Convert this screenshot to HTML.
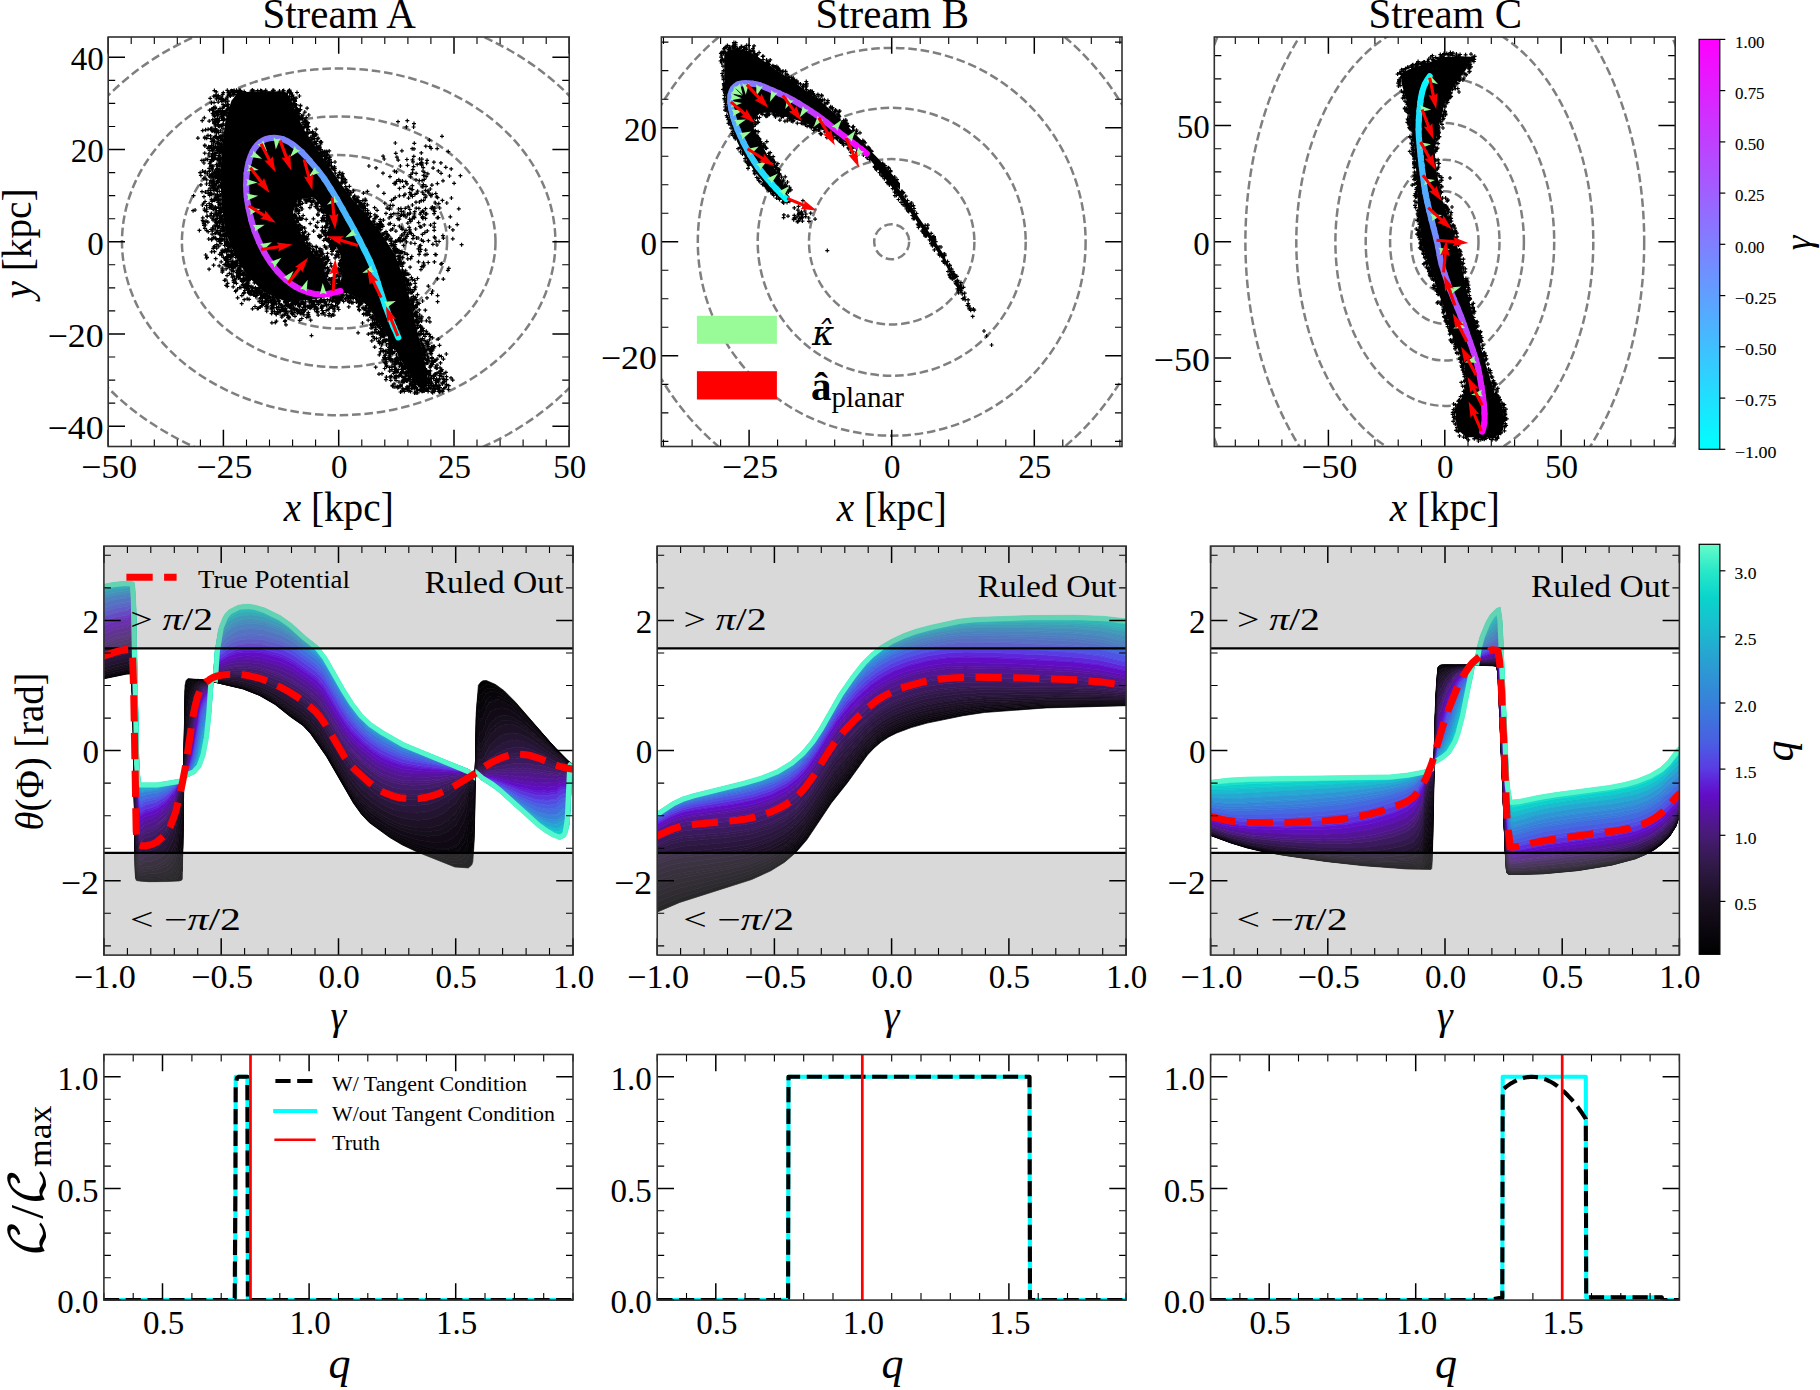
<!DOCTYPE html><html><head><meta charset="utf-8"><title>Stream figure</title><style>html,body{margin:0;padding:0;background:#fff}svg{display:block}text{font-family:'Liberation Serif','DejaVu Serif',serif}</style></head><body>
<svg width="1820" height="1390" viewBox="0 0 1820 1390">
<rect width="1820" height="1390" fill="#fff"/>
<clipPath id="r1c0"><rect x="108.2" y="37" width="461" height="409.5"/></clipPath>
<clipPath id="r1c1"><rect x="661.4" y="37" width="460.6" height="409.5"/></clipPath>
<clipPath id="r1c2"><rect x="1214.3" y="37" width="460.9" height="409.5"/></clipPath>
<g clip-path="url(#r1c0)" fill="none" stroke="#7f7f7f" stroke-width="2.5" stroke-dasharray="8.6 3.8">
<ellipse cx="338.7" cy="241.8" rx="14.2" ry="11.3"/>
<ellipse cx="338.7" cy="241.8" rx="66.9" ry="53.5"/>
<ellipse cx="338.7" cy="241.8" rx="108.4" ry="86.7"/>
<ellipse cx="338.7" cy="241.8" rx="156.8" ry="125.4"/>
<ellipse cx="338.7" cy="241.8" rx="216.7" ry="173.4"/>
<ellipse cx="338.7" cy="241.8" rx="294.2" ry="235.3"/>
<ellipse cx="338.7" cy="241.8" rx="395.2" ry="316.1"/>
<ellipse cx="338.7" cy="241.8" rx="525.7" ry="420.5"/>
</g>
<g clip-path="url(#r1c0)">
<polygon points="240.4,92.3 237,93.7 231.4,100.7 225.5,120.3 221.5,150.6 220.5,180.3 221.6,205.3 225.5,231.6 234.4,254.8 246.7,275.3 264.1,292 287,302.2 313.3,299.6 345.4,293.2 347.9,293.5 358,297.9 367.7,306 389.3,339.2 402.1,361.9 418.1,386.7 421.2,388.7 423.4,388.8 425.4,388 427.5,385.6 428,382.8 427.4,374.6 423.6,355.6 417.5,332.3 411.5,305.1 404.7,280.8 395.2,255 381.5,233.5 365,213.1 348.8,194.9 316.8,148.8 304.5,130.3 297.6,116.5 291.3,100.1 287.2,93 283.9,91.5 262.4,91 240.4,92.3" fill="#000" fill-rule="evenodd"/>
<polygon points="298.3,198.5 293,212 298.5,228.8 306.4,244.7 314.3,254.6 323.3,260.6 323.3,260.6 323.4,260.6 323.4,260.7 323.4,260.7 323.4,260.8 323.5,260.8 323.5,260.8 323.5,260.9 323.5,260.9 325.5,276.8 331.2,286.3 340.6,281.7 342.5,272 340.5,255.1 333.6,241.3 326.6,234.4 326.6,234.3 326.6,234.3 326.6,234.2 326.5,234.2 326.5,234.1 326.5,234.1 326.5,234 326.5,234 326.5,233.9 326.5,233.9 326.5,233.8 329.5,225 322.6,207.3 313.8,197.5 298.3,198.5" fill="#fff"/>
<path d="M212.4 90.6h4m-2 -2v4M213.9 94.8h4m-2 -2v4M214.3 91.9h4m-2 -2v4M216.3 95.5h4m-2 -2v4M220.7 94.4h4m-2 -2v4M221.3 92.7h4m-2 -2v4M225.3 90.3h4m-2 -2v4M226.5 92.5h4m-2 -2v4M226.6 94.1h4m-2 -2v4M227.6 94.9h4m-2 -2v4M227.6 94.2h4m-2 -2v4M228.4 95.7h4m-2 -2v4M228.8 91.1h4m-2 -2v4M228.9 92.7h4m-2 -2v4M229.5 90.8h4m-2 -2v4M230.5 92.3h4m-2 -2v4M230.7 90.9h4m-2 -2v4M231.2 94.9h4m-2 -2v4M232.1 91.4h4m-2 -2v4M232.2 90.6h4m-2 -2v4M232.5 92.1h4m-2 -2v4M233 94.4h4m-2 -2v4M234.5 90.3h4m-2 -2v4M234.5 90.6h4m-2 -2v4M235.2 92.3h4m-2 -2v4M235.7 92h4m-2 -2v4M236.1 92.6h4m-2 -2v4M237.1 91.9h4m-2 -2v4M237.2 90.2h4m-2 -2v4M237.4 92.6h4m-2 -2v4M238.5 90.5h4m-2 -2v4M238.6 91.1h4m-2 -2v4M239.1 92.1h4m-2 -2v4M242.2 91.5h4m-2 -2v4M249.4 91.1h4m-2 -2v4M250.3 90.1h4m-2 -2v4M250.6 90.6h4m-2 -2v4M251.9 90.9h4m-2 -2v4M255.7 90.7h4m-2 -2v4M258.6 90.5h4m-2 -2v4M259.8 90.9h4m-2 -2v4M263.7 90.3h4m-2 -2v4M270.8 90.8h4m-2 -2v4M271.1 90.3h4m-2 -2v4M271.8 90.4h4m-2 -2v4M277.5 91.1h4m-2 -2v4M280.6 91h4m-2 -2v4M281.7 90.6h4m-2 -2v4M285.6 92h4m-2 -2v4M286.9 91.1h4m-2 -2v4M287.5 90.2h4m-2 -2v4M287.5 92h4m-2 -2v4M287.7 92.4h4m-2 -2v4M288.1 92.8h4m-2 -2v4M288.3 92.8h4m-2 -2v4M289.3 92.8h4m-2 -2v4M290.5 95.2h4m-2 -2v4M295 92.5h4m-2 -2v4M297.4 96h4m-2 -2v4M208.2 98.3h4m-2 -2v4M209.4 102.9h4m-2 -2v4M211.6 107.7h4m-2 -2v4M211.7 96.2h4m-2 -2v4M212.1 102.6h4m-2 -2v4M213.1 107.1h4m-2 -2v4M214.3 96.9h4m-2 -2v4M214.4 98.9h4m-2 -2v4M215.5 96.4h4m-2 -2v4M216.2 102.1h4m-2 -2v4M216.8 98.7h4m-2 -2v4M219.1 97.2h4m-2 -2v4M219.2 98.5h4m-2 -2v4M219.4 99.3h4m-2 -2v4M219.7 101.5h4m-2 -2v4M219.8 99.5h4m-2 -2v4M219.9 100.1h4m-2 -2v4M220.8 100.3h4m-2 -2v4M221.1 104.7h4m-2 -2v4M221.2 107h4m-2 -2v4M221.4 99.8h4m-2 -2v4M222.4 106.3h4m-2 -2v4M223.2 99.4h4m-2 -2v4M223.5 101.8h4m-2 -2v4M224 99.4h4m-2 -2v4M224.9 105.4h4m-2 -2v4M225.1 97.8h4m-2 -2v4M225.3 104.2h4m-2 -2v4M225.6 96.2h4m-2 -2v4M225.9 101.1h4m-2 -2v4M226.1 104.7h4m-2 -2v4M226.7 107.6h4m-2 -2v4M227 107.8h4m-2 -2v4M228.3 96.1h4m-2 -2v4M287.6 96.6h4m-2 -2v4M289.1 99.3h4m-2 -2v4M289.5 96.5h4m-2 -2v4M291.1 100.2h4m-2 -2v4M291.4 97.2h4m-2 -2v4M291.4 103.1h4m-2 -2v4M291.4 97.1h4m-2 -2v4M291.7 98.5h4m-2 -2v4M291.9 104.6h4m-2 -2v4M292 103.5h4m-2 -2v4M292.2 105.8h4m-2 -2v4M292.6 104.1h4m-2 -2v4M293 100.9h4m-2 -2v4M293.1 101.5h4m-2 -2v4M293.2 107.3h4m-2 -2v4M294.2 98.2h4m-2 -2v4M294.5 104.9h4m-2 -2v4M298.5 105.9h4m-2 -2v4M298.5 105.4h4m-2 -2v4M202.3 117.8h4m-2 -2v4M207.6 110.2h4m-2 -2v4M209.8 109.1h4m-2 -2v4M210.6 113.3h4m-2 -2v4M210.8 108.7h4m-2 -2v4M210.8 119.5h4m-2 -2v4M211.4 115.1h4m-2 -2v4M211.8 114h4m-2 -2v4M211.9 111.3h4m-2 -2v4M212.4 116.3h4m-2 -2v4M213.1 119.3h4m-2 -2v4M213.3 108.4h4m-2 -2v4M214.5 113.7h4m-2 -2v4M214.6 112.3h4m-2 -2v4M214.8 119.7h4m-2 -2v4M215.3 118.6h4m-2 -2v4M215.4 115.4h4m-2 -2v4M215.5 111.6h4m-2 -2v4M216.2 119.5h4m-2 -2v4M216.3 110.2h4m-2 -2v4M216.4 114.3h4m-2 -2v4M216.7 112.5h4m-2 -2v4M216.7 114.8h4m-2 -2v4M217.6 118.2h4m-2 -2v4M218 108.5h4m-2 -2v4M218.3 110.9h4m-2 -2v4M219.3 114.3h4m-2 -2v4M219.3 111.6h4m-2 -2v4M219.6 118h4m-2 -2v4M219.6 113.6h4m-2 -2v4M220 116.6h4m-2 -2v4M220.3 115.9h4m-2 -2v4M220.3 118.2h4m-2 -2v4M220.4 111h4m-2 -2v4M220.5 108.3h4m-2 -2v4M220.7 114.7h4m-2 -2v4M220.9 112h4m-2 -2v4M221.4 115.8h4m-2 -2v4M221.7 114.7h4m-2 -2v4M221.8 114.7h4m-2 -2v4M222.1 119.8h4m-2 -2v4M222.1 111.7h4m-2 -2v4M222.3 118.9h4m-2 -2v4M223.4 112.2h4m-2 -2v4M223.9 111.7h4m-2 -2v4M223.9 111.7h4m-2 -2v4M223.9 110.5h4m-2 -2v4M224.3 115.2h4m-2 -2v4M224.5 113.3h4m-2 -2v4M224.9 112.3h4m-2 -2v4M224.9 110.3h4m-2 -2v4M226.1 108.7h4m-2 -2v4M226.3 109h4m-2 -2v4M294 110.2h4m-2 -2v4M294.1 110.8h4m-2 -2v4M294.3 111.6h4m-2 -2v4M294.5 110.9h4m-2 -2v4M294.6 112.3h4m-2 -2v4M294.6 113.7h4m-2 -2v4M294.7 109.5h4m-2 -2v4M294.9 110.8h4m-2 -2v4M295.2 110.1h4m-2 -2v4M295.3 109h4m-2 -2v4M295.4 110.3h4m-2 -2v4M295.5 110h4m-2 -2v4M295.7 115.5h4m-2 -2v4M295.8 112.8h4m-2 -2v4M296.2 111.7h4m-2 -2v4M296.4 116.4h4m-2 -2v4M296.4 109.9h4m-2 -2v4M296.8 118.4h4m-2 -2v4M297.2 113.6h4m-2 -2v4M297.5 117.9h4m-2 -2v4M297.9 110h4m-2 -2v4M298 118.8h4m-2 -2v4M298 109.6h4m-2 -2v4M298.4 109.7h4m-2 -2v4M299.3 118h4m-2 -2v4M299.5 115.9h4m-2 -2v4M299.5 117.5h4m-2 -2v4M299.7 118.8h4m-2 -2v4M299.8 117.6h4m-2 -2v4M300.9 118.7h4m-2 -2v4M301.2 115h4m-2 -2v4M302.8 112.1h4m-2 -2v4M304.2 117.6h4m-2 -2v4M305.1 108.2h4m-2 -2v4M306.8 115h4m-2 -2v4M200.2 120.7h4m-2 -2v4M200.7 130.6h4m-2 -2v4M203.6 129.8h4m-2 -2v4M206.1 129.3h4m-2 -2v4M207.2 121.1h4m-2 -2v4M208.7 128.8h4m-2 -2v4M209.6 130.2h4m-2 -2v4M209.9 128.2h4m-2 -2v4M210.2 131h4m-2 -2v4M210.7 120h4m-2 -2v4M212 122.9h4m-2 -2v4M212.2 123.6h4m-2 -2v4M212.3 131.6h4m-2 -2v4M212.4 122h4m-2 -2v4M212.7 129.8h4m-2 -2v4M213 131.4h4m-2 -2v4M213.2 129.1h4m-2 -2v4M213.5 126.1h4m-2 -2v4M213.8 124.3h4m-2 -2v4M214.3 130h4m-2 -2v4M214.3 121h4m-2 -2v4M214.5 131.4h4m-2 -2v4M215 130.2h4m-2 -2v4M215 129.9h4m-2 -2v4M215.3 124.2h4m-2 -2v4M216 121.7h4m-2 -2v4M216.4 125.9h4m-2 -2v4M216.5 124.5h4m-2 -2v4M216.9 126h4m-2 -2v4M217.1 126h4m-2 -2v4M217.3 120.7h4m-2 -2v4M217.3 126.5h4m-2 -2v4M218.4 130.9h4m-2 -2v4M218.5 130.9h4m-2 -2v4M218.9 125.6h4m-2 -2v4M219.3 126.7h4m-2 -2v4M219.7 125.4h4m-2 -2v4M219.7 125.6h4m-2 -2v4M220.2 125.2h4m-2 -2v4M221 124.1h4m-2 -2v4M221.1 128.8h4m-2 -2v4M221.1 125.5h4m-2 -2v4M221.3 123.8h4m-2 -2v4M221.3 120.3h4m-2 -2v4M300.8 126.9h4m-2 -2v4M300.9 122.3h4m-2 -2v4M301 124.2h4m-2 -2v4M301.9 128h4m-2 -2v4M302.5 121.3h4m-2 -2v4M302.5 126.7h4m-2 -2v4M303.6 122.6h4m-2 -2v4M303.6 124.3h4m-2 -2v4M303.7 120.5h4m-2 -2v4M303.9 122h4m-2 -2v4M304.4 123h4m-2 -2v4M304.8 127.7h4m-2 -2v4M304.8 123.3h4m-2 -2v4M305 124.1h4m-2 -2v4M305.2 126.1h4m-2 -2v4M305.3 123.9h4m-2 -2v4M305.3 124h4m-2 -2v4M305.4 126.9h4m-2 -2v4M305.8 122.7h4m-2 -2v4M306 122.8h4m-2 -2v4M306 129.7h4m-2 -2v4M306.6 126.6h4m-2 -2v4M310.6 131.5h4m-2 -2v4M314.2 129.2h4m-2 -2v4M396 121.7h4m-2 -2v4M404.4 126.9h4m-2 -2v4M405.3 120.7h4m-2 -2v4M411.6 127h4m-2 -2v4M412 123.6h4m-2 -2v4M195.9 138.1h4m-2 -2v4M202.8 138.2h4m-2 -2v4M202.9 137.2h4m-2 -2v4M204.7 138.3h4m-2 -2v4M206 135.4h4m-2 -2v4M208.6 135.9h4m-2 -2v4M208.7 138.6h4m-2 -2v4M209.7 141.7h4m-2 -2v4M210.3 140h4m-2 -2v4M211.3 144h4m-2 -2v4M211.6 144h4m-2 -2v4M211.7 137.8h4m-2 -2v4M211.8 141.4h4m-2 -2v4M212.7 141.1h4m-2 -2v4M212.9 136.6h4m-2 -2v4M213.2 136.5h4m-2 -2v4M213.6 136.9h4m-2 -2v4M214.4 133h4m-2 -2v4M214.6 136.7h4m-2 -2v4M214.8 138.1h4m-2 -2v4M215 143.1h4m-2 -2v4M215.2 138.4h4m-2 -2v4M215.7 142.8h4m-2 -2v4M215.7 143.5h4m-2 -2v4M216.3 142.4h4m-2 -2v4M216.4 138.5h4m-2 -2v4M216.5 132.7h4m-2 -2v4M217.1 143.6h4m-2 -2v4M217.7 137.1h4m-2 -2v4M218.2 135.9h4m-2 -2v4M218.3 140.4h4m-2 -2v4M219.2 138.1h4m-2 -2v4M219.6 139.6h4m-2 -2v4M220 139.5h4m-2 -2v4M220.1 139.9h4m-2 -2v4M220.5 140.6h4m-2 -2v4M220.8 136.6h4m-2 -2v4M221 132.9h4m-2 -2v4M221 134.8h4m-2 -2v4M221.1 135.1h4m-2 -2v4M304.8 133h4m-2 -2v4M304.9 133.8h4m-2 -2v4M304.9 132.1h4m-2 -2v4M306.3 133.5h4m-2 -2v4M307.8 132.3h4m-2 -2v4M308.7 137.3h4m-2 -2v4M309.2 139.5h4m-2 -2v4M309.6 139.5h4m-2 -2v4M310.2 139.5h4m-2 -2v4M310.4 133.2h4m-2 -2v4M310.6 135.8h4m-2 -2v4M311 133.2h4m-2 -2v4M311.5 133.7h4m-2 -2v4M311.9 136.7h4m-2 -2v4M312.1 141.8h4m-2 -2v4M312.1 135.9h4m-2 -2v4M312.2 142.8h4m-2 -2v4M312.4 138.5h4m-2 -2v4M313.4 133.6h4m-2 -2v4M314.1 141.4h4m-2 -2v4M314.4 143.6h4m-2 -2v4M314.5 134.8h4m-2 -2v4M315.6 138.9h4m-2 -2v4M316.2 138.2h4m-2 -2v4M318.3 141.7h4m-2 -2v4M318.9 142.3h4m-2 -2v4M319.4 142h4m-2 -2v4M393.3 143h4m-2 -2v4M412.3 143.3h4m-2 -2v4M427.4 140.1h4m-2 -2v4M440 136.3h4m-2 -2v4M202.7 153.2h4m-2 -2v4M202.8 145.2h4m-2 -2v4M202.9 145.9h4m-2 -2v4M206 148.4h4m-2 -2v4M206.6 146.8h4m-2 -2v4M206.8 153.9h4m-2 -2v4M207 156h4m-2 -2v4M207.2 147.3h4m-2 -2v4M207.8 150.7h4m-2 -2v4M209.3 147.1h4m-2 -2v4M209.4 148.4h4m-2 -2v4M209.5 145.7h4m-2 -2v4M209.7 147.3h4m-2 -2v4M210.5 150.9h4m-2 -2v4M210.5 153.9h4m-2 -2v4M210.9 153.6h4m-2 -2v4M210.9 151.1h4m-2 -2v4M211.5 148.8h4m-2 -2v4M211.7 147.2h4m-2 -2v4M211.7 148.8h4m-2 -2v4M212.6 153.9h4m-2 -2v4M212.7 148.3h4m-2 -2v4M213.1 155.6h4m-2 -2v4M213.2 153.4h4m-2 -2v4M213.5 153.2h4m-2 -2v4M213.5 146.2h4m-2 -2v4M214.1 153.4h4m-2 -2v4M214.6 148.7h4m-2 -2v4M215 150.5h4m-2 -2v4M215.6 147.5h4m-2 -2v4M216 150.2h4m-2 -2v4M216.1 147.2h4m-2 -2v4M216.1 148.2h4m-2 -2v4M216.5 149.6h4m-2 -2v4M216.6 148h4m-2 -2v4M217 155.6h4m-2 -2v4M217.1 152.1h4m-2 -2v4M217.1 148.4h4m-2 -2v4M217.2 149h4m-2 -2v4M217.5 153.9h4m-2 -2v4M217.8 144.3h4m-2 -2v4M217.8 148.6h4m-2 -2v4M218 152.2h4m-2 -2v4M218 144.7h4m-2 -2v4M218.4 146.3h4m-2 -2v4M218.8 148h4m-2 -2v4M218.8 148.2h4m-2 -2v4M219.2 152.5h4m-2 -2v4M219.4 147.4h4m-2 -2v4M219.5 149.8h4m-2 -2v4M219.5 144.4h4m-2 -2v4M219.6 144.8h4m-2 -2v4M219.7 144.1h4m-2 -2v4M219.9 144h4m-2 -2v4M312 144.4h4m-2 -2v4M314.2 147.8h4m-2 -2v4M314.8 146.2h4m-2 -2v4M315.6 147.3h4m-2 -2v4M316 148.2h4m-2 -2v4M316.3 148.1h4m-2 -2v4M316.7 149.3h4m-2 -2v4M316.8 146.7h4m-2 -2v4M317.8 147.1h4m-2 -2v4M318 152.3h4m-2 -2v4M318.2 149.7h4m-2 -2v4M318.7 144h4m-2 -2v4M318.8 153.6h4m-2 -2v4M319 149.5h4m-2 -2v4M319.7 155.5h4m-2 -2v4M319.8 155.4h4m-2 -2v4M320 153.2h4m-2 -2v4M320.2 155.3h4m-2 -2v4M320.7 151.7h4m-2 -2v4M321 153.3h4m-2 -2v4M322.1 152.2h4m-2 -2v4M322.8 151.6h4m-2 -2v4M323.3 152.3h4m-2 -2v4M324.7 151.5h4m-2 -2v4M325.1 155.1h4m-2 -2v4M325.5 154.1h4m-2 -2v4M327.2 150.9h4m-2 -2v4M393.8 153.3h4m-2 -2v4M399.9 150.8h4m-2 -2v4M410.2 148.7h4m-2 -2v4M412 148.9h4m-2 -2v4M419.3 152.9h4m-2 -2v4M423.8 146.2h4m-2 -2v4M427.9 146.6h4m-2 -2v4M429.1 148.4h4m-2 -2v4M435.2 148.6h4m-2 -2v4M446.3 151.6h4m-2 -2v4M199.9 160.4h4m-2 -2v4M201.7 160.5h4m-2 -2v4M202 163h4m-2 -2v4M203.9 159.2h4m-2 -2v4M205.5 159.4h4m-2 -2v4M207.7 163.7h4m-2 -2v4M208.6 162.2h4m-2 -2v4M208.7 161h4m-2 -2v4M208.9 161.2h4m-2 -2v4M209 165.8h4m-2 -2v4M209.3 156.3h4m-2 -2v4M209.5 159.5h4m-2 -2v4M209.8 166.6h4m-2 -2v4M209.9 156h4m-2 -2v4M210.7 156.5h4m-2 -2v4M211 166h4m-2 -2v4M211.5 160h4m-2 -2v4M211.7 159.3h4m-2 -2v4M211.7 156.5h4m-2 -2v4M212 159.1h4m-2 -2v4M212.1 157h4m-2 -2v4M212.3 157.8h4m-2 -2v4M212.4 157.9h4m-2 -2v4M214.4 164.6h4m-2 -2v4M215 159.3h4m-2 -2v4M215.6 166.6h4m-2 -2v4M215.8 165.1h4m-2 -2v4M215.9 165.6h4m-2 -2v4M216.2 158.2h4m-2 -2v4M217 160h4m-2 -2v4M217.2 160.8h4m-2 -2v4M217.4 164.9h4m-2 -2v4M217.5 157.9h4m-2 -2v4M217.6 162.8h4m-2 -2v4M218 157.8h4m-2 -2v4M218.1 166.4h4m-2 -2v4M218.1 158.3h4m-2 -2v4M218.3 158.5h4m-2 -2v4M218.4 163.4h4m-2 -2v4M218.9 158.5h4m-2 -2v4M322.2 156.5h4m-2 -2v4M322.5 156.1h4m-2 -2v4M322.6 159.4h4m-2 -2v4M323.4 161.1h4m-2 -2v4M324.4 157.5h4m-2 -2v4M325 158.5h4m-2 -2v4M325.3 162.3h4m-2 -2v4M326.2 164.7h4m-2 -2v4M326.7 160.4h4m-2 -2v4M327 164.9h4m-2 -2v4M327.4 157.7h4m-2 -2v4M327.4 163.1h4m-2 -2v4M327.5 162.1h4m-2 -2v4M327.8 157.1h4m-2 -2v4M327.9 159.5h4m-2 -2v4M329.4 162.3h4m-2 -2v4M329.4 166.1h4m-2 -2v4M332.5 166.9h4m-2 -2v4M333 162h4m-2 -2v4M366.9 166h4m-2 -2v4M374.1 167.9h4m-2 -2v4M381.1 156.2h4m-2 -2v4M382.2 159h4m-2 -2v4M394.9 157.2h4m-2 -2v4M396.2 160.1h4m-2 -2v4M398.4 166h4m-2 -2v4M404.9 159.5h4m-2 -2v4M405.5 165.3h4m-2 -2v4M410.5 159.8h4m-2 -2v4M411 161.9h4m-2 -2v4M411.6 166.6h4m-2 -2v4M411.8 156.4h4m-2 -2v4M415.2 164.4h4m-2 -2v4M417.6 159h4m-2 -2v4M418.5 163.7h4m-2 -2v4M419.1 162.5h4m-2 -2v4M419.5 164.3h4m-2 -2v4M419.6 165.1h4m-2 -2v4M419.8 159.1h4m-2 -2v4M419.9 162.8h4m-2 -2v4M421.2 167.6h4m-2 -2v4M424.6 163.2h4m-2 -2v4M425.1 160.3h4m-2 -2v4M431.9 162.2h4m-2 -2v4M438.9 162.9h4m-2 -2v4M443.8 167.3h4m-2 -2v4M198.1 172.7h4m-2 -2v4M198.9 175.5h4m-2 -2v4M200.6 171h4m-2 -2v4M201.8 178.7h4m-2 -2v4M202.5 172.2h4m-2 -2v4M203.1 178.2h4m-2 -2v4M203.6 171.8h4m-2 -2v4M204.7 179.8h4m-2 -2v4M205.4 173.9h4m-2 -2v4M207.2 168.3h4m-2 -2v4M207.2 171.1h4m-2 -2v4M207.4 171.5h4m-2 -2v4M207.6 175.9h4m-2 -2v4M208.1 177.2h4m-2 -2v4M209.2 175.2h4m-2 -2v4M209.8 176.8h4m-2 -2v4M209.8 173.8h4m-2 -2v4M209.9 168.4h4m-2 -2v4M209.9 168.7h4m-2 -2v4M210.7 170h4m-2 -2v4M211.1 176.2h4m-2 -2v4M211.4 177.5h4m-2 -2v4M211.7 179.2h4m-2 -2v4M211.7 173.2h4m-2 -2v4M212.6 172h4m-2 -2v4M212.9 172h4m-2 -2v4M213 172.9h4m-2 -2v4M213.1 173.5h4m-2 -2v4M213.3 172.3h4m-2 -2v4M213.3 172.4h4m-2 -2v4M213.3 177.4h4m-2 -2v4M213.3 173.7h4m-2 -2v4M213.9 175.3h4m-2 -2v4M213.9 177.5h4m-2 -2v4M214.5 169.4h4m-2 -2v4M215.1 168.6h4m-2 -2v4M215.7 174.1h4m-2 -2v4M215.7 172.8h4m-2 -2v4M215.7 176.5h4m-2 -2v4M215.8 168.7h4m-2 -2v4M215.9 175.3h4m-2 -2v4M216.1 172.8h4m-2 -2v4M216.3 178.3h4m-2 -2v4M216.7 174.7h4m-2 -2v4M216.8 175.7h4m-2 -2v4M217.1 171.2h4m-2 -2v4M217.1 171.4h4m-2 -2v4M217.2 178.8h4m-2 -2v4M217.4 169.8h4m-2 -2v4M217.4 177.8h4m-2 -2v4M217.8 173.8h4m-2 -2v4M217.9 170.4h4m-2 -2v4M218.2 171.5h4m-2 -2v4M218.6 176.2h4m-2 -2v4M218.8 170.7h4m-2 -2v4M329.8 168.2h4m-2 -2v4M331.1 168.3h4m-2 -2v4M331.2 169h4m-2 -2v4M332.5 170.3h4m-2 -2v4M332.9 168.5h4m-2 -2v4M333.3 173.2h4m-2 -2v4M335.5 175.8h4m-2 -2v4M336.2 177.6h4m-2 -2v4M337.1 174.6h4m-2 -2v4M337.7 172.4h4m-2 -2v4M339.4 178.2h4m-2 -2v4M340 175.2h4m-2 -2v4M340.6 176.4h4m-2 -2v4M340.7 173.6h4m-2 -2v4M340.7 179.2h4m-2 -2v4M340.9 178.9h4m-2 -2v4M341 177.8h4m-2 -2v4M343 179.6h4m-2 -2v4M343.5 180h4m-2 -2v4M381 173.2h4m-2 -2v4M388 176.6h4m-2 -2v4M392.4 171.2h4m-2 -2v4M394.4 171.9h4m-2 -2v4M396.8 179.7h4m-2 -2v4M408.5 176.8h4m-2 -2v4M408.9 174.5h4m-2 -2v4M410.5 172.8h4m-2 -2v4M410.8 169.7h4m-2 -2v4M414 179.9h4m-2 -2v4M414.1 173.4h4m-2 -2v4M421 171.1h4m-2 -2v4M421.5 175.4h4m-2 -2v4M422.3 179.4h4m-2 -2v4M422.8 172.5h4m-2 -2v4M424.2 176.7h4m-2 -2v4M425.8 173.8h4m-2 -2v4M431.1 168.1h4m-2 -2v4M436.3 170.9h4m-2 -2v4M439.1 173.3h4m-2 -2v4M447.5 176h4m-2 -2v4M449.2 168.9h4m-2 -2v4M458.4 175.7h4m-2 -2v4M198.9 184.9h4m-2 -2v4M200 191.7h4m-2 -2v4M204.5 184h4m-2 -2v4M206.2 190.6h4m-2 -2v4M207.6 183h4m-2 -2v4M208.1 188.1h4m-2 -2v4M208.1 185.5h4m-2 -2v4M208.9 180.6h4m-2 -2v4M208.9 190.4h4m-2 -2v4M209.7 183.2h4m-2 -2v4M209.9 186.1h4m-2 -2v4M211 181.7h4m-2 -2v4M211 187.6h4m-2 -2v4M211 183.6h4m-2 -2v4M211 181.5h4m-2 -2v4M211.7 188.4h4m-2 -2v4M211.8 190h4m-2 -2v4M212 190.6h4m-2 -2v4M212.1 187.2h4m-2 -2v4M212.3 181.9h4m-2 -2v4M213.3 185.5h4m-2 -2v4M213.3 184.7h4m-2 -2v4M214.2 189.7h4m-2 -2v4M214.6 183.4h4m-2 -2v4M215.2 188h4m-2 -2v4M215.4 180.6h4m-2 -2v4M215.4 191.3h4m-2 -2v4M215.6 189h4m-2 -2v4M215.7 188.1h4m-2 -2v4M216 181.1h4m-2 -2v4M216.1 181.5h4m-2 -2v4M216.2 182.2h4m-2 -2v4M216.2 186.7h4m-2 -2v4M216.2 182.4h4m-2 -2v4M217.3 191.4h4m-2 -2v4M217.4 180.1h4m-2 -2v4M217.9 180.2h4m-2 -2v4M218.4 186.3h4m-2 -2v4M218.5 185.5h4m-2 -2v4M218.6 184.1h4m-2 -2v4M218.6 186.8h4m-2 -2v4M339.2 182.3h4m-2 -2v4M340 183.1h4m-2 -2v4M340.2 182.6h4m-2 -2v4M340.4 181.7h4m-2 -2v4M340.5 181.4h4m-2 -2v4M342.9 182.9h4m-2 -2v4M343.7 186.7h4m-2 -2v4M343.7 182.1h4m-2 -2v4M344.2 189.3h4m-2 -2v4M345.3 190.1h4m-2 -2v4M346.9 190.7h4m-2 -2v4M347.4 186.3h4m-2 -2v4M351.3 190.9h4m-2 -2v4M351.5 191h4m-2 -2v4M365.4 191.4h4m-2 -2v4M376 186h4m-2 -2v4M392.1 183.4h4m-2 -2v4M393.4 183.8h4m-2 -2v4M394.5 181.3h4m-2 -2v4M397.5 188.4h4m-2 -2v4M398.2 181.4h4m-2 -2v4M400.4 181.1h4m-2 -2v4M401.7 186.6h4m-2 -2v4M403.8 181.7h4m-2 -2v4M405 183.9h4m-2 -2v4M407.9 188.3h4m-2 -2v4M409.8 189.6h4m-2 -2v4M410.3 185.7h4m-2 -2v4M410.5 189.5h4m-2 -2v4M415.6 191.2h4m-2 -2v4M417.3 180.6h4m-2 -2v4M420.1 180.7h4m-2 -2v4M420.2 186.8h4m-2 -2v4M421.4 184.6h4m-2 -2v4M423.5 190.4h4m-2 -2v4M424 186.3h4m-2 -2v4M426 190.8h4m-2 -2v4M428.3 189h4m-2 -2v4M429.9 185.1h4m-2 -2v4M435.4 183.6h4m-2 -2v4M441 180.8h4m-2 -2v4M452.1 183.3h4m-2 -2v4M191.6 195.7h4m-2 -2v4M201.7 203.2h4m-2 -2v4M202 196.7h4m-2 -2v4M203.1 201.5h4m-2 -2v4M203.4 192.1h4m-2 -2v4M206.1 193.5h4m-2 -2v4M207.2 203.5h4m-2 -2v4M207.7 195.4h4m-2 -2v4M208.4 192.6h4m-2 -2v4M208.7 193.8h4m-2 -2v4M209.5 199.4h4m-2 -2v4M209.7 199.8h4m-2 -2v4M209.9 194.5h4m-2 -2v4M210.1 201.3h4m-2 -2v4M211.9 200.1h4m-2 -2v4M212.1 193.9h4m-2 -2v4M212.8 200.3h4m-2 -2v4M213.5 196.9h4m-2 -2v4M213.5 197.1h4m-2 -2v4M213.6 198.4h4m-2 -2v4M213.7 198.6h4m-2 -2v4M213.9 197.9h4m-2 -2v4M215 194.5h4m-2 -2v4M215.6 195.1h4m-2 -2v4M215.7 199.2h4m-2 -2v4M215.8 201h4m-2 -2v4M216 196.5h4m-2 -2v4M216.1 198.9h4m-2 -2v4M216.1 202.5h4m-2 -2v4M216.2 200h4m-2 -2v4M216.9 196.9h4m-2 -2v4M217.2 200.7h4m-2 -2v4M218.1 195.1h4m-2 -2v4M218.6 194.9h4m-2 -2v4M218.8 194.8h4m-2 -2v4M218.8 199.7h4m-2 -2v4M218.9 203.3h4m-2 -2v4M296.4 199.9h4m-2 -2v4M296.9 201.9h4m-2 -2v4M297.9 201.5h4m-2 -2v4M298 198.7h4m-2 -2v4M299 199h4m-2 -2v4M300.4 203.3h4m-2 -2v4M302 198.9h4m-2 -2v4M303.8 202h4m-2 -2v4M304.1 199.8h4m-2 -2v4M304.7 202h4m-2 -2v4M304.8 201.2h4m-2 -2v4M304.8 201.7h4m-2 -2v4M305.9 200.2h4m-2 -2v4M306.1 199.4h4m-2 -2v4M306.4 197.9h4m-2 -2v4M307.2 200.2h4m-2 -2v4M308.2 198.6h4m-2 -2v4M308.3 200.9h4m-2 -2v4M309.7 201.9h4m-2 -2v4M309.9 202.7h4m-2 -2v4M311.2 198.8h4m-2 -2v4M311.6 200.6h4m-2 -2v4M313.1 202.2h4m-2 -2v4M314.1 203.6h4m-2 -2v4M315.7 203.3h4m-2 -2v4M315.9 202.3h4m-2 -2v4M316.2 203.1h4m-2 -2v4M345.5 192.2h4m-2 -2v4M346.1 192.9h4m-2 -2v4M347.4 195.1h4m-2 -2v4M347.9 195.2h4m-2 -2v4M348.4 192.7h4m-2 -2v4M349 192.9h4m-2 -2v4M351.5 198.2h4m-2 -2v4M352 196.9h4m-2 -2v4M352.7 195.8h4m-2 -2v4M353 199.6h4m-2 -2v4M353.4 200.9h4m-2 -2v4M354 200h4m-2 -2v4M354.7 201.9h4m-2 -2v4M354.9 199.5h4m-2 -2v4M355.4 200.7h4m-2 -2v4M355.4 201.2h4m-2 -2v4M356 197.2h4m-2 -2v4M356.8 200.8h4m-2 -2v4M357.5 202.6h4m-2 -2v4M358.2 202.1h4m-2 -2v4M360.8 200.5h4m-2 -2v4M361.4 193.1h4m-2 -2v4M362.3 203.5h4m-2 -2v4M363.2 199.2h4m-2 -2v4M363.7 200.6h4m-2 -2v4M381.9 193.3h4m-2 -2v4M382.8 203.2h4m-2 -2v4M389.4 200.5h4m-2 -2v4M391.6 199.1h4m-2 -2v4M393.2 197.6h4m-2 -2v4M397.4 195.8h4m-2 -2v4M401.9 195.7h4m-2 -2v4M403 194.2h4m-2 -2v4M406.6 198.1h4m-2 -2v4M407.8 192.7h4m-2 -2v4M408.6 194.8h4m-2 -2v4M409.7 194.6h4m-2 -2v4M410.4 196.5h4m-2 -2v4M412.9 194.4h4m-2 -2v4M414 202.2h4m-2 -2v4M415 193.1h4m-2 -2v4M417.4 202h4m-2 -2v4M419.3 200.7h4m-2 -2v4M420.3 192.2h4m-2 -2v4M421.6 200.4h4m-2 -2v4M421.9 194.3h4m-2 -2v4M423.3 197.7h4m-2 -2v4M424 196h4m-2 -2v4M427 193h4m-2 -2v4M428.8 195.5h4m-2 -2v4M430.2 194.5h4m-2 -2v4M433.2 203h4m-2 -2v4M433.8 193.5h4m-2 -2v4M434.7 196.8h4m-2 -2v4M435.6 197.6h4m-2 -2v4M436.8 203.6h4m-2 -2v4M440.4 200.4h4m-2 -2v4M444.8 203h4m-2 -2v4M449.4 198h4m-2 -2v4M191.1 210.7h4m-2 -2v4M193.1 210h4m-2 -2v4M200.4 205h4m-2 -2v4M202.4 209h4m-2 -2v4M202.8 210.6h4m-2 -2v4M204.6 205.6h4m-2 -2v4M204.6 209.2h4m-2 -2v4M204.8 211.7h4m-2 -2v4M205 216h4m-2 -2v4M207.5 207.5h4m-2 -2v4M208.1 207.5h4m-2 -2v4M208.1 215.9h4m-2 -2v4M209.3 204.8h4m-2 -2v4M209.4 213.4h4m-2 -2v4M209.4 207.9h4m-2 -2v4M209.8 206.2h4m-2 -2v4M210.2 205.8h4m-2 -2v4M211.1 209.5h4m-2 -2v4M211.6 215.8h4m-2 -2v4M211.6 209.3h4m-2 -2v4M212.1 215.8h4m-2 -2v4M213.1 213h4m-2 -2v4M213.3 206.9h4m-2 -2v4M213.7 208h4m-2 -2v4M213.8 208.5h4m-2 -2v4M214.4 210.8h4m-2 -2v4M214.6 214.1h4m-2 -2v4M215.3 215h4m-2 -2v4M215.8 215.3h4m-2 -2v4M216.2 207h4m-2 -2v4M216.3 213.6h4m-2 -2v4M216.9 210.7h4m-2 -2v4M217.1 212.8h4m-2 -2v4M217.3 204.3h4m-2 -2v4M217.6 211.6h4m-2 -2v4M217.9 211h4m-2 -2v4M218.2 210.4h4m-2 -2v4M218.4 204.5h4m-2 -2v4M218.4 208.2h4m-2 -2v4M218.4 204.7h4m-2 -2v4M218.6 215.2h4m-2 -2v4M218.7 211.1h4m-2 -2v4M218.7 209h4m-2 -2v4M219.1 207.4h4m-2 -2v4M219.3 210.8h4m-2 -2v4M219.3 212.3h4m-2 -2v4M219.7 208.9h4m-2 -2v4M219.8 209.4h4m-2 -2v4M221 215.9h4m-2 -2v4M292.4 215.7h4m-2 -2v4M292.4 214.5h4m-2 -2v4M293.2 215.2h4m-2 -2v4M293.7 205.4h4m-2 -2v4M293.8 206.6h4m-2 -2v4M293.9 211.1h4m-2 -2v4M294.2 209.7h4m-2 -2v4M294.2 204.8h4m-2 -2v4M294.4 208.3h4m-2 -2v4M294.8 208.8h4m-2 -2v4M295 210.4h4m-2 -2v4M296.2 204h4m-2 -2v4M296.4 213.5h4m-2 -2v4M296.5 205.3h4m-2 -2v4M297.4 210.8h4m-2 -2v4M298.4 204.5h4m-2 -2v4M299 207.4h4m-2 -2v4M299.8 209h4m-2 -2v4M300.2 209h4m-2 -2v4M301.2 215.5h4m-2 -2v4M307.9 207.6h4m-2 -2v4M309.6 204.8h4m-2 -2v4M313.4 206.7h4m-2 -2v4M314.5 204.7h4m-2 -2v4M314.9 208.1h4m-2 -2v4M315.3 206.2h4m-2 -2v4M315.8 214h4m-2 -2v4M316 215.1h4m-2 -2v4M316.3 209.6h4m-2 -2v4M316.8 209.3h4m-2 -2v4M317.1 210.8h4m-2 -2v4M318.6 209.7h4m-2 -2v4M319.1 206.3h4m-2 -2v4M319.4 211.2h4m-2 -2v4M319.8 210.2h4m-2 -2v4M320.3 209.1h4m-2 -2v4M321.2 212.1h4m-2 -2v4M321.5 211.3h4m-2 -2v4M321.7 212.6h4m-2 -2v4M322 213h4m-2 -2v4M322 215.5h4m-2 -2v4M356.8 205.2h4m-2 -2v4M357.5 205.2h4m-2 -2v4M358.9 205.5h4m-2 -2v4M358.9 204.1h4m-2 -2v4M359.6 204.1h4m-2 -2v4M359.8 206.6h4m-2 -2v4M360 207.8h4m-2 -2v4M360.9 205.2h4m-2 -2v4M361.1 208.7h4m-2 -2v4M361.6 208.5h4m-2 -2v4M361.9 210.9h4m-2 -2v4M362.4 206.1h4m-2 -2v4M363.4 208.5h4m-2 -2v4M363.8 212.8h4m-2 -2v4M364.4 214.4h4m-2 -2v4M365.2 214.9h4m-2 -2v4M365.4 204.8h4m-2 -2v4M365.6 210.3h4m-2 -2v4M365.8 213h4m-2 -2v4M366.3 213.7h4m-2 -2v4M368.3 213.5h4m-2 -2v4M372.6 207.7h4m-2 -2v4M372.9 214.8h4m-2 -2v4M375.1 210.3h4m-2 -2v4M384 213.4h4m-2 -2v4M385.1 208.1h4m-2 -2v4M387.4 209.1h4m-2 -2v4M388.4 205.4h4m-2 -2v4M388.8 214.7h4m-2 -2v4M390.9 205.4h4m-2 -2v4M391.8 213.7h4m-2 -2v4M396.1 213.3h4m-2 -2v4M396.5 209h4m-2 -2v4M398.3 215.7h4m-2 -2v4M398.9 208.6h4m-2 -2v4M399.3 211.3h4m-2 -2v4M399.4 215h4m-2 -2v4M401.4 215.3h4m-2 -2v4M401.8 212h4m-2 -2v4M401.9 214.2h4m-2 -2v4M403.3 208.3h4m-2 -2v4M405.6 214.1h4m-2 -2v4M406.2 206.8h4m-2 -2v4M407.2 214.2h4m-2 -2v4M407.8 209.5h4m-2 -2v4M408.3 213h4m-2 -2v4M410.4 205h4m-2 -2v4M412.3 214h4m-2 -2v4M412.3 216h4m-2 -2v4M412.8 211.7h4m-2 -2v4M414.2 208.2h4m-2 -2v4M416.9 208.4h4m-2 -2v4M418.2 214.1h4m-2 -2v4M419 212.3h4m-2 -2v4M420.7 210.9h4m-2 -2v4M421.6 212h4m-2 -2v4M423.5 214.1h4m-2 -2v4M423.5 208.7h4m-2 -2v4M424.6 213.8h4m-2 -2v4M429.3 208.3h4m-2 -2v4M430.3 206.9h4m-2 -2v4M431.4 209.8h4m-2 -2v4M432.1 213.7h4m-2 -2v4M432.7 211.3h4m-2 -2v4M432.9 208.1h4m-2 -2v4M437.7 208h4m-2 -2v4M456.8 208.8h4m-2 -2v4M200.7 220.3h4m-2 -2v4M200.8 217.8h4m-2 -2v4M201.5 221.7h4m-2 -2v4M201.8 223.2h4m-2 -2v4M201.8 223.7h4m-2 -2v4M202 225.4h4m-2 -2v4M203.5 225h4m-2 -2v4M204 221.1h4m-2 -2v4M205.3 216.5h4m-2 -2v4M205.9 222.1h4m-2 -2v4M210 218.2h4m-2 -2v4M210.6 227.9h4m-2 -2v4M211.1 220.2h4m-2 -2v4M211.5 216.2h4m-2 -2v4M212.1 225.9h4m-2 -2v4M212.9 219.9h4m-2 -2v4M213.4 219.5h4m-2 -2v4M213.6 226.6h4m-2 -2v4M213.9 222.1h4m-2 -2v4M214.2 222.7h4m-2 -2v4M214.6 223.6h4m-2 -2v4M214.8 216.1h4m-2 -2v4M214.9 221.5h4m-2 -2v4M215 225.3h4m-2 -2v4M215.4 218.3h4m-2 -2v4M215.5 226.1h4m-2 -2v4M215.6 226.9h4m-2 -2v4M216.7 226.9h4m-2 -2v4M217.5 222.9h4m-2 -2v4M217.5 218.1h4m-2 -2v4M217.6 226.5h4m-2 -2v4M217.7 222.7h4m-2 -2v4M217.9 220.4h4m-2 -2v4M218.1 218.1h4m-2 -2v4M218.2 222.1h4m-2 -2v4M218.4 218.5h4m-2 -2v4M218.7 219h4m-2 -2v4M219.4 218.7h4m-2 -2v4M219.5 220.4h4m-2 -2v4M219.6 221.3h4m-2 -2v4M220 216.5h4m-2 -2v4M220.2 222.1h4m-2 -2v4M220.3 226.1h4m-2 -2v4M220.6 224.4h4m-2 -2v4M220.8 226.9h4m-2 -2v4M221.1 219.4h4m-2 -2v4M221.3 220h4m-2 -2v4M221.3 219.8h4m-2 -2v4M221.3 227.3h4m-2 -2v4M221.6 226h4m-2 -2v4M221.9 223.1h4m-2 -2v4M293.2 216.2h4m-2 -2v4M294.1 218.5h4m-2 -2v4M294.2 217.2h4m-2 -2v4M295 222.4h4m-2 -2v4M295 221.5h4m-2 -2v4M295.4 220.5h4m-2 -2v4M295.8 218.6h4m-2 -2v4M295.9 225.9h4m-2 -2v4M296.2 226.5h4m-2 -2v4M296.5 225.8h4m-2 -2v4M297.1 224.6h4m-2 -2v4M297.3 218.5h4m-2 -2v4M297.6 218.8h4m-2 -2v4M297.6 217.1h4m-2 -2v4M297.9 225.3h4m-2 -2v4M298.8 218.9h4m-2 -2v4M299.6 218.8h4m-2 -2v4M300.1 226.9h4m-2 -2v4M300.2 218.5h4m-2 -2v4M304.2 219.4h4m-2 -2v4M308.2 223.6h4m-2 -2v4M311.4 218.8h4m-2 -2v4M313.6 226h4m-2 -2v4M315 227.3h4m-2 -2v4M315.7 222.3h4m-2 -2v4M319.6 220.6h4m-2 -2v4M320.3 217.9h4m-2 -2v4M320.4 227.3h4m-2 -2v4M320.6 218.2h4m-2 -2v4M320.8 219h4m-2 -2v4M321 220.6h4m-2 -2v4M321.9 218.2h4m-2 -2v4M322.4 220.1h4m-2 -2v4M323.4 227.7h4m-2 -2v4M323.6 226.6h4m-2 -2v4M323.8 221.7h4m-2 -2v4M324.2 225.5h4m-2 -2v4M324.4 217.4h4m-2 -2v4M324.5 226h4m-2 -2v4M324.7 221h4m-2 -2v4M325 227.4h4m-2 -2v4M325.2 223.7h4m-2 -2v4M325.8 221.1h4m-2 -2v4M326.1 223.9h4m-2 -2v4M365.3 222.1h4m-2 -2v4M367.4 217.5h4m-2 -2v4M368.4 216.3h4m-2 -2v4M370.9 221.3h4m-2 -2v4M372.1 221.2h4m-2 -2v4M372.3 218.5h4m-2 -2v4M372.8 224.1h4m-2 -2v4M373 225h4m-2 -2v4M373.8 217.9h4m-2 -2v4M374.6 216.6h4m-2 -2v4M374.9 224.2h4m-2 -2v4M375 216.3h4m-2 -2v4M375.6 227.2h4m-2 -2v4M375.9 224.9h4m-2 -2v4M376 226.4h4m-2 -2v4M376.4 225h4m-2 -2v4M377.3 225.9h4m-2 -2v4M377.6 223.7h4m-2 -2v4M378.2 221.7h4m-2 -2v4M378.2 219.7h4m-2 -2v4M378.6 227.3h4m-2 -2v4M378.7 223.6h4m-2 -2v4M379.6 224.3h4m-2 -2v4M380.2 224.9h4m-2 -2v4M380.8 226.4h4m-2 -2v4M381.4 220.1h4m-2 -2v4M386.9 224.1h4m-2 -2v4M387.1 218h4m-2 -2v4M388.4 223.6h4m-2 -2v4M389.3 216.6h4m-2 -2v4M392.2 225.5h4m-2 -2v4M395.9 218.7h4m-2 -2v4M397.3 219.2h4m-2 -2v4M397.4 226.2h4m-2 -2v4M399.5 227.8h4m-2 -2v4M404 216.9h4m-2 -2v4M405.8 223.1h4m-2 -2v4M407.2 227.3h4m-2 -2v4M407.6 219.3h4m-2 -2v4M408.7 221.4h4m-2 -2v4M410.3 218.8h4m-2 -2v4M411.6 217.2h4m-2 -2v4M412.5 217.7h4m-2 -2v4M416.6 222.6h4m-2 -2v4M417.9 226.4h4m-2 -2v4M419 227.1h4m-2 -2v4M420.4 217.5h4m-2 -2v4M420.7 216.6h4m-2 -2v4M420.9 218.5h4m-2 -2v4M421 218.2h4m-2 -2v4M422.2 224.9h4m-2 -2v4M423.5 218.4h4m-2 -2v4M428.6 225.1h4m-2 -2v4M432.1 227.2h4m-2 -2v4M432.3 223.4h4m-2 -2v4M435.3 217.8h4m-2 -2v4M436.4 217.6h4m-2 -2v4M447.5 227h4m-2 -2v4M448.3 216.8h4m-2 -2v4M455.2 224.6h4m-2 -2v4M197.4 230.4h4m-2 -2v4M202.9 228.4h4m-2 -2v4M204.7 230.6h4m-2 -2v4M206.2 231.7h4m-2 -2v4M206.7 239h4m-2 -2v4M209 229.5h4m-2 -2v4M209.6 239.7h4m-2 -2v4M209.9 238.9h4m-2 -2v4M210.1 234.2h4m-2 -2v4M210.3 231.1h4m-2 -2v4M211.6 237.4h4m-2 -2v4M212.1 229.1h4m-2 -2v4M213 233.5h4m-2 -2v4M213.2 238h4m-2 -2v4M213.8 238.6h4m-2 -2v4M214 232.9h4m-2 -2v4M214.7 239.7h4m-2 -2v4M215.2 230.3h4m-2 -2v4M215.8 232.9h4m-2 -2v4M217.6 234.6h4m-2 -2v4M217.7 238.7h4m-2 -2v4M217.9 239h4m-2 -2v4M218.3 230.3h4m-2 -2v4M218.3 231.9h4m-2 -2v4M218.4 234.2h4m-2 -2v4M218.7 235.2h4m-2 -2v4M219.3 239.3h4m-2 -2v4M219.8 239.9h4m-2 -2v4M219.8 230h4m-2 -2v4M220 228.3h4m-2 -2v4M220.1 235.8h4m-2 -2v4M220.9 239.7h4m-2 -2v4M221 235h4m-2 -2v4M221 230.9h4m-2 -2v4M221.4 235.2h4m-2 -2v4M221.7 229.5h4m-2 -2v4M221.9 235h4m-2 -2v4M222.3 228.9h4m-2 -2v4M222.4 238.9h4m-2 -2v4M222.5 235.2h4m-2 -2v4M222.5 230.3h4m-2 -2v4M222.8 231.9h4m-2 -2v4M223 235.8h4m-2 -2v4M223.5 233.5h4m-2 -2v4M223.7 234h4m-2 -2v4M223.8 234.3h4m-2 -2v4M224.3 236.8h4m-2 -2v4M224.7 238.9h4m-2 -2v4M224.8 235.6h4m-2 -2v4M296.5 228.5h4m-2 -2v4M297.1 228.6h4m-2 -2v4M297.7 229.5h4m-2 -2v4M298.1 230.4h4m-2 -2v4M300.1 228.1h4m-2 -2v4M300.2 235.1h4m-2 -2v4M300.5 232.6h4m-2 -2v4M300.5 228.2h4m-2 -2v4M301 237.6h4m-2 -2v4M301.1 236.2h4m-2 -2v4M301.4 235.6h4m-2 -2v4M302 239.7h4m-2 -2v4M302.1 232.5h4m-2 -2v4M302.3 232.8h4m-2 -2v4M302.7 228.1h4m-2 -2v4M302.8 236.8h4m-2 -2v4M303 239.2h4m-2 -2v4M303.5 231.8h4m-2 -2v4M303.6 239.1h4m-2 -2v4M303.8 237.5h4m-2 -2v4M304.3 239.4h4m-2 -2v4M304.9 236.6h4m-2 -2v4M306 239h4m-2 -2v4M306.6 234.4h4m-2 -2v4M311.6 231.1h4m-2 -2v4M316.9 235.6h4m-2 -2v4M317.4 236.6h4m-2 -2v4M317.9 237.3h4m-2 -2v4M318.1 236.3h4m-2 -2v4M319.3 236.3h4m-2 -2v4M319.8 230.9h4m-2 -2v4M320.8 231.1h4m-2 -2v4M321.3 233.1h4m-2 -2v4M323 234.6h4m-2 -2v4M323 230.5h4m-2 -2v4M323.3 238.7h4m-2 -2v4M323.4 235.6h4m-2 -2v4M323.8 232.4h4m-2 -2v4M323.8 238.7h4m-2 -2v4M324.6 239.4h4m-2 -2v4M324.8 235.2h4m-2 -2v4M324.9 240h4m-2 -2v4M325.8 239.8h4m-2 -2v4M326.4 239.3h4m-2 -2v4M326.9 238h4m-2 -2v4M328 237.8h4m-2 -2v4M375.7 228.3h4m-2 -2v4M376.5 229.8h4m-2 -2v4M378 229.8h4m-2 -2v4M378.8 229.7h4m-2 -2v4M380 234.1h4m-2 -2v4M381.3 234.2h4m-2 -2v4M381.9 233.8h4m-2 -2v4M382.2 233.4h4m-2 -2v4M383.2 237.8h4m-2 -2v4M383.6 238.2h4m-2 -2v4M384 231.7h4m-2 -2v4M384.1 233.1h4m-2 -2v4M384.1 236.5h4m-2 -2v4M384.3 239.1h4m-2 -2v4M385.5 234.7h4m-2 -2v4M385.5 236.6h4m-2 -2v4M386.1 235.1h4m-2 -2v4M386.6 236h4m-2 -2v4M387.1 239.9h4m-2 -2v4M388.8 230.1h4m-2 -2v4M388.9 238.3h4m-2 -2v4M390.6 228.9h4m-2 -2v4M393.9 231.1h4m-2 -2v4M397 239.4h4m-2 -2v4M397.5 238.7h4m-2 -2v4M398 237.6h4m-2 -2v4M399.7 235.1h4m-2 -2v4M400.1 229.3h4m-2 -2v4M401.1 235h4m-2 -2v4M401.7 239.3h4m-2 -2v4M402.6 232.6h4m-2 -2v4M403.5 238.5h4m-2 -2v4M404 230.3h4m-2 -2v4M404.8 236.4h4m-2 -2v4M405 236.4h4m-2 -2v4M405.5 234.3h4m-2 -2v4M407.6 231.9h4m-2 -2v4M407.9 229.9h4m-2 -2v4M408.4 232.8h4m-2 -2v4M409.5 233.5h4m-2 -2v4M410.9 238.6h4m-2 -2v4M411.5 235.7h4m-2 -2v4M413.7 229h4m-2 -2v4M414.5 238h4m-2 -2v4M416.1 238h4m-2 -2v4M420.4 234.4h4m-2 -2v4M422.8 232.6h4m-2 -2v4M425.3 230.9h4m-2 -2v4M432.2 230.3h4m-2 -2v4M432.4 237h4m-2 -2v4M433 238h4m-2 -2v4M440.9 235.6h4m-2 -2v4M441.4 238.1h4m-2 -2v4M450.8 238.8h4m-2 -2v4M450.9 229.9h4m-2 -2v4M209.6 251.8h4m-2 -2v4M211.2 248.5h4m-2 -2v4M211.7 247h4m-2 -2v4M212.5 251.7h4m-2 -2v4M212.7 246.3h4m-2 -2v4M214.7 248.2h4m-2 -2v4M214.8 244.6h4m-2 -2v4M216.8 246.2h4m-2 -2v4M217.2 241.5h4m-2 -2v4M217.8 240.9h4m-2 -2v4M218.1 240h4m-2 -2v4M219 243.6h4m-2 -2v4M220.2 250.2h4m-2 -2v4M221.9 250.4h4m-2 -2v4M222.6 245.4h4m-2 -2v4M222.8 251.4h4m-2 -2v4M223.4 249.5h4m-2 -2v4M223.7 249.4h4m-2 -2v4M223.8 241.6h4m-2 -2v4M223.8 242.9h4m-2 -2v4M224 244h4m-2 -2v4M224.1 244.7h4m-2 -2v4M224.3 245h4m-2 -2v4M224.4 245h4m-2 -2v4M224.6 242.5h4m-2 -2v4M224.8 244.3h4m-2 -2v4M225 241.7h4m-2 -2v4M225.2 244.7h4m-2 -2v4M225.5 249.9h4m-2 -2v4M225.6 249.6h4m-2 -2v4M225.7 248.8h4m-2 -2v4M225.8 241.1h4m-2 -2v4M226 251h4m-2 -2v4M226.3 243.1h4m-2 -2v4M226.9 246.3h4m-2 -2v4M227 248h4m-2 -2v4M227.8 245.8h4m-2 -2v4M227.8 244.1h4m-2 -2v4M227.9 251.6h4m-2 -2v4M228.7 246.7h4m-2 -2v4M229 247h4m-2 -2v4M229.4 250.6h4m-2 -2v4M304.7 242.8h4m-2 -2v4M305.3 245.5h4m-2 -2v4M305.5 243.3h4m-2 -2v4M306 245.6h4m-2 -2v4M307.3 245.4h4m-2 -2v4M307.3 247.8h4m-2 -2v4M307.8 243.8h4m-2 -2v4M308.1 248.8h4m-2 -2v4M310.3 246.4h4m-2 -2v4M310.5 251.4h4m-2 -2v4M311.5 249.4h4m-2 -2v4M312.1 251.5h4m-2 -2v4M312.1 251.1h4m-2 -2v4M314.2 246.4h4m-2 -2v4M314.5 247.7h4m-2 -2v4M314.5 250.9h4m-2 -2v4M317.1 250.8h4m-2 -2v4M318 248.7h4m-2 -2v4M319.3 251.7h4m-2 -2v4M320 250h4m-2 -2v4M321.8 240.3h4m-2 -2v4M322.6 245.9h4m-2 -2v4M323.5 247.7h4m-2 -2v4M324.8 248h4m-2 -2v4M325.7 240.6h4m-2 -2v4M326.3 240.2h4m-2 -2v4M326.6 241.5h4m-2 -2v4M327.5 245.8h4m-2 -2v4M327.9 242.4h4m-2 -2v4M328.6 246.8h4m-2 -2v4M328.9 242.6h4m-2 -2v4M329.6 246.5h4m-2 -2v4M329.6 246.7h4m-2 -2v4M329.7 249.3h4m-2 -2v4M329.7 240.9h4m-2 -2v4M329.9 246.8h4m-2 -2v4M329.9 240.7h4m-2 -2v4M330 244.7h4m-2 -2v4M330 251.3h4m-2 -2v4M330.4 240.6h4m-2 -2v4M330.4 248.9h4m-2 -2v4M330.4 241.1h4m-2 -2v4M331 242.7h4m-2 -2v4M331 244h4m-2 -2v4M331.4 249.8h4m-2 -2v4M331.7 244.5h4m-2 -2v4M331.8 247.4h4m-2 -2v4M332 243.2h4m-2 -2v4M332.3 247h4m-2 -2v4M332.5 247.7h4m-2 -2v4M332.6 248.5h4m-2 -2v4M333.4 246.4h4m-2 -2v4M335 251.3h4m-2 -2v4M376.6 242.7h4m-2 -2v4M379.4 243.2h4m-2 -2v4M381.4 241.3h4m-2 -2v4M385.3 248h4m-2 -2v4M388.9 243.6h4m-2 -2v4M389.1 245.7h4m-2 -2v4M389.9 241.1h4m-2 -2v4M391.2 250.2h4m-2 -2v4M391.2 246.2h4m-2 -2v4M391.6 244.9h4m-2 -2v4M391.8 248.4h4m-2 -2v4M392.2 250.2h4m-2 -2v4M392.7 246.5h4m-2 -2v4M393 251.4h4m-2 -2v4M393.1 242.3h4m-2 -2v4M393.2 244.6h4m-2 -2v4M393.7 241.1h4m-2 -2v4M393.7 251.1h4m-2 -2v4M394 248.6h4m-2 -2v4M394.6 249.4h4m-2 -2v4M395.2 240.7h4m-2 -2v4M396.6 240.3h4m-2 -2v4M397.1 250.7h4m-2 -2v4M398.2 241.6h4m-2 -2v4M400 251.5h4m-2 -2v4M400.3 240.4h4m-2 -2v4M400.8 240.3h4m-2 -2v4M401.5 245.4h4m-2 -2v4M404.5 241.9h4m-2 -2v4M408.9 243h4m-2 -2v4M412.9 243.5h4m-2 -2v4M416.4 248.9h4m-2 -2v4M417.5 246.1h4m-2 -2v4M418 251.6h4m-2 -2v4M418.7 249.4h4m-2 -2v4M418.7 245.5h4m-2 -2v4M419.5 240.1h4m-2 -2v4M421.3 241.3h4m-2 -2v4M423.7 250.1h4m-2 -2v4M426.4 240.7h4m-2 -2v4M430.9 244.3h4m-2 -2v4M434.1 241.4h4m-2 -2v4M435 245h4m-2 -2v4M437.1 241.5h4m-2 -2v4M459.6 244.7h4m-2 -2v4M203.7 255h4m-2 -2v4M204.5 258h4m-2 -2v4M205 257.3h4m-2 -2v4M213.7 258.7h4m-2 -2v4M217.7 254.3h4m-2 -2v4M219.1 252.3h4m-2 -2v4M219.2 261.8h4m-2 -2v4M219.7 255.2h4m-2 -2v4M220.5 252.7h4m-2 -2v4M221.4 257.4h4m-2 -2v4M223.7 260.4h4m-2 -2v4M223.7 258.5h4m-2 -2v4M224 259.3h4m-2 -2v4M224.5 252h4m-2 -2v4M224.7 256.5h4m-2 -2v4M224.9 256.9h4m-2 -2v4M225 262.9h4m-2 -2v4M225.6 261.7h4m-2 -2v4M225.8 259.9h4m-2 -2v4M226.1 259.5h4m-2 -2v4M226.1 254.7h4m-2 -2v4M228.5 255.9h4m-2 -2v4M228.6 257.9h4m-2 -2v4M228.6 256.5h4m-2 -2v4M228.9 261.4h4m-2 -2v4M228.9 257h4m-2 -2v4M229.6 255.3h4m-2 -2v4M230.4 253.8h4m-2 -2v4M230.5 255.2h4m-2 -2v4M230.5 253.1h4m-2 -2v4M230.5 261.4h4m-2 -2v4M230.8 264h4m-2 -2v4M231.1 254.3h4m-2 -2v4M231.3 254.9h4m-2 -2v4M231.8 255.5h4m-2 -2v4M232.4 262.6h4m-2 -2v4M233.7 257.5h4m-2 -2v4M234.4 263.8h4m-2 -2v4M234.5 261.9h4m-2 -2v4M234.8 262.6h4m-2 -2v4M235.1 260.7h4m-2 -2v4M237.8 263.9h4m-2 -2v4M312.7 253h4m-2 -2v4M313.3 255.3h4m-2 -2v4M314.3 253.5h4m-2 -2v4M314.4 253.8h4m-2 -2v4M314.4 252.2h4m-2 -2v4M314.5 252.8h4m-2 -2v4M314.9 253.9h4m-2 -2v4M316.2 255.5h4m-2 -2v4M317.1 256.5h4m-2 -2v4M317.4 255.5h4m-2 -2v4M317.4 255.8h4m-2 -2v4M318.1 258h4m-2 -2v4M318.2 254.2h4m-2 -2v4M319.3 252.7h4m-2 -2v4M319.6 254.9h4m-2 -2v4M319.6 255h4m-2 -2v4M320 259.3h4m-2 -2v4M320 254.4h4m-2 -2v4M320.4 258.3h4m-2 -2v4M321.1 253.8h4m-2 -2v4M321.5 259.8h4m-2 -2v4M321.6 259.2h4m-2 -2v4M322.2 258.3h4m-2 -2v4M322.7 256.9h4m-2 -2v4M323 259.5h4m-2 -2v4M323.1 262.6h4m-2 -2v4M323.6 263.6h4m-2 -2v4M324.5 257h4m-2 -2v4M325 259.4h4m-2 -2v4M325.3 261.7h4m-2 -2v4M325.5 253.4h4m-2 -2v4M325.6 257h4m-2 -2v4M326.4 260.2h4m-2 -2v4M326.4 259.6h4m-2 -2v4M328.7 263.5h4m-2 -2v4M329.9 254.1h4m-2 -2v4M333.1 257.9h4m-2 -2v4M333.9 255.2h4m-2 -2v4M334.4 255.3h4m-2 -2v4M335.5 255.7h4m-2 -2v4M335.9 252.2h4m-2 -2v4M336.3 254.6h4m-2 -2v4M336.6 254.9h4m-2 -2v4M336.7 252.7h4m-2 -2v4M336.9 257.1h4m-2 -2v4M337.7 263.1h4m-2 -2v4M338.5 260.4h4m-2 -2v4M338.6 262.9h4m-2 -2v4M339.3 263.2h4m-2 -2v4M391.3 254.9h4m-2 -2v4M391.3 258.8h4m-2 -2v4M392.1 262.6h4m-2 -2v4M393 253.2h4m-2 -2v4M393.1 256h4m-2 -2v4M394 252.6h4m-2 -2v4M395.7 252.1h4m-2 -2v4M396 256.7h4m-2 -2v4M396.1 252h4m-2 -2v4M396.8 258.9h4m-2 -2v4M397 261.9h4m-2 -2v4M397.1 255.3h4m-2 -2v4M397.2 261.5h4m-2 -2v4M397.3 259.8h4m-2 -2v4M397.4 259.1h4m-2 -2v4M397.5 263.1h4m-2 -2v4M398.1 256.9h4m-2 -2v4M398.2 262.9h4m-2 -2v4M398.4 262.7h4m-2 -2v4M398.9 253.3h4m-2 -2v4M399 252.5h4m-2 -2v4M399.3 262.4h4m-2 -2v4M400.7 263.7h4m-2 -2v4M400.7 257.7h4m-2 -2v4M401.8 262.8h4m-2 -2v4M402.7 252.9h4m-2 -2v4M405.3 254.4h4m-2 -2v4M405.8 258.9h4m-2 -2v4M408.6 258.6h4m-2 -2v4M409.8 256.5h4m-2 -2v4M416.5 261.8h4m-2 -2v4M417.1 254.4h4m-2 -2v4M421.5 262.8h4m-2 -2v4M423.1 254.8h4m-2 -2v4M425 254.3h4m-2 -2v4M426.2 262.5h4m-2 -2v4M432.4 261.9h4m-2 -2v4M433.1 254.5h4m-2 -2v4M434.1 254.7h4m-2 -2v4M440 263.5h4m-2 -2v4M207.1 269.2h4m-2 -2v4M211.6 265.2h4m-2 -2v4M217.2 265.8h4m-2 -2v4M220.2 268.2h4m-2 -2v4M220.3 272.1h4m-2 -2v4M220.4 269.8h4m-2 -2v4M220.6 270.6h4m-2 -2v4M222.2 264.7h4m-2 -2v4M223.6 264.7h4m-2 -2v4M224.1 268.9h4m-2 -2v4M225.1 275.6h4m-2 -2v4M225.8 266.5h4m-2 -2v4M225.9 265.7h4m-2 -2v4M227.1 264.1h4m-2 -2v4M227.2 267.3h4m-2 -2v4M227.4 273.4h4m-2 -2v4M227.9 265.7h4m-2 -2v4M228.2 265.2h4m-2 -2v4M229.1 267.4h4m-2 -2v4M229.1 269.9h4m-2 -2v4M229.5 274.2h4m-2 -2v4M229.5 265.5h4m-2 -2v4M230 264.1h4m-2 -2v4M230.3 266.9h4m-2 -2v4M230.9 265.4h4m-2 -2v4M230.9 268.1h4m-2 -2v4M231.1 270.9h4m-2 -2v4M231.2 271.4h4m-2 -2v4M231.2 267.4h4m-2 -2v4M231.2 275.8h4m-2 -2v4M231.4 264.1h4m-2 -2v4M231.5 266.2h4m-2 -2v4M231.5 267.8h4m-2 -2v4M233.4 266.4h4m-2 -2v4M234.1 265.2h4m-2 -2v4M234.5 272.7h4m-2 -2v4M235.3 265.5h4m-2 -2v4M235.5 270.3h4m-2 -2v4M236.2 275.4h4m-2 -2v4M236.3 270h4m-2 -2v4M236.4 271h4m-2 -2v4M236.6 275.8h4m-2 -2v4M236.6 271.1h4m-2 -2v4M236.9 273.8h4m-2 -2v4M237.2 275.6h4m-2 -2v4M237.2 268h4m-2 -2v4M237.5 274.9h4m-2 -2v4M237.6 268h4m-2 -2v4M237.6 268.3h4m-2 -2v4M237.7 275h4m-2 -2v4M237.9 270.9h4m-2 -2v4M238 266.9h4m-2 -2v4M238.6 265.7h4m-2 -2v4M238.8 273.7h4m-2 -2v4M239.1 270.4h4m-2 -2v4M240.5 274.2h4m-2 -2v4M241.1 271.9h4m-2 -2v4M241.4 275.5h4m-2 -2v4M241.6 274.5h4m-2 -2v4M241.6 275.2h4m-2 -2v4M241.7 273.6h4m-2 -2v4M242.6 273.8h4m-2 -2v4M242.7 274.5h4m-2 -2v4M244.4 275.7h4m-2 -2v4M244.5 275.4h4m-2 -2v4M322.5 265.9h4m-2 -2v4M323.2 268.7h4m-2 -2v4M323.3 264.5h4m-2 -2v4M323.7 273.7h4m-2 -2v4M324.5 273.3h4m-2 -2v4M325 272.1h4m-2 -2v4M325.6 267.7h4m-2 -2v4M325.6 273.7h4m-2 -2v4M326.3 271.1h4m-2 -2v4M326.4 270.5h4m-2 -2v4M326.7 269.4h4m-2 -2v4M327 271h4m-2 -2v4M329.3 266.2h4m-2 -2v4M333.5 269.9h4m-2 -2v4M334.4 275.7h4m-2 -2v4M335.4 275.1h4m-2 -2v4M336 268.6h4m-2 -2v4M336.3 268.7h4m-2 -2v4M337 271.8h4m-2 -2v4M337.2 273.5h4m-2 -2v4M337.5 264.9h4m-2 -2v4M337.9 270.4h4m-2 -2v4M338 265.3h4m-2 -2v4M338.1 264.3h4m-2 -2v4M338.4 269.3h4m-2 -2v4M338.7 269.2h4m-2 -2v4M339.1 274.8h4m-2 -2v4M339.3 267.1h4m-2 -2v4M339.8 270.7h4m-2 -2v4M339.9 272.1h4m-2 -2v4M340 267.7h4m-2 -2v4M340.2 271.6h4m-2 -2v4M387.4 264.6h4m-2 -2v4M397.9 264h4m-2 -2v4M398 265h4m-2 -2v4M399.8 272.3h4m-2 -2v4M400.2 266.4h4m-2 -2v4M400.4 269.9h4m-2 -2v4M400.9 274.6h4m-2 -2v4M401 272h4m-2 -2v4M402.5 273.5h4m-2 -2v4M402.6 275.1h4m-2 -2v4M402.9 275.7h4m-2 -2v4M403.2 272.8h4m-2 -2v4M403.7 270.8h4m-2 -2v4M405.3 273.9h4m-2 -2v4M406.8 274.3h4m-2 -2v4M408.1 267.2h4m-2 -2v4M418.9 269.6h4m-2 -2v4M419.8 266.5h4m-2 -2v4M421.3 266.8h4m-2 -2v4M422.1 265.1h4m-2 -2v4M439 264.1h4m-2 -2v4M445.9 270.3h4m-2 -2v4M446.8 268.3h4m-2 -2v4M222.5 280.3h4m-2 -2v4M223.9 280.1h4m-2 -2v4M224.2 285.3h4m-2 -2v4M225.3 286.3h4m-2 -2v4M225.6 283.3h4m-2 -2v4M230.4 277.2h4m-2 -2v4M231.2 286.8h4m-2 -2v4M231.5 280.6h4m-2 -2v4M231.8 282.4h4m-2 -2v4M232.3 279.6h4m-2 -2v4M233.4 279.9h4m-2 -2v4M234.4 277h4m-2 -2v4M234.4 283.3h4m-2 -2v4M236.4 278h4m-2 -2v4M236.6 276.5h4m-2 -2v4M237.1 277.1h4m-2 -2v4M237.7 287.5h4m-2 -2v4M238.1 278.7h4m-2 -2v4M239 287.5h4m-2 -2v4M239.8 281.3h4m-2 -2v4M240.7 284.7h4m-2 -2v4M240.8 280.1h4m-2 -2v4M241.3 280.9h4m-2 -2v4M241.4 278.7h4m-2 -2v4M241.5 285.7h4m-2 -2v4M241.5 281.3h4m-2 -2v4M241.9 278.2h4m-2 -2v4M242.3 278.9h4m-2 -2v4M242.7 288h4m-2 -2v4M242.9 285.2h4m-2 -2v4M243 285.8h4m-2 -2v4M243.7 278.9h4m-2 -2v4M243.8 285.8h4m-2 -2v4M244 284.9h4m-2 -2v4M244.1 279.4h4m-2 -2v4M244.2 279.1h4m-2 -2v4M244.7 284h4m-2 -2v4M244.8 288h4m-2 -2v4M244.8 282.9h4m-2 -2v4M245.1 276.4h4m-2 -2v4M245.8 277.6h4m-2 -2v4M245.9 285h4m-2 -2v4M246 280.9h4m-2 -2v4M246.4 283.2h4m-2 -2v4M246.6 285.9h4m-2 -2v4M246.7 279.3h4m-2 -2v4M246.9 280.6h4m-2 -2v4M247.2 279.7h4m-2 -2v4M248 279.3h4m-2 -2v4M249.1 286.6h4m-2 -2v4M249.9 287.4h4m-2 -2v4M251 287.3h4m-2 -2v4M252.4 282.8h4m-2 -2v4M253.5 287.7h4m-2 -2v4M257.5 287.9h4m-2 -2v4M324.1 276h4m-2 -2v4M324.5 276.7h4m-2 -2v4M326.3 279.4h4m-2 -2v4M327.6 279.1h4m-2 -2v4M327.9 280.4h4m-2 -2v4M329.1 285.7h4m-2 -2v4M329.1 278.9h4m-2 -2v4M329.3 283.1h4m-2 -2v4M329.7 283.2h4m-2 -2v4M330.3 278.7h4m-2 -2v4M330.3 285.4h4m-2 -2v4M330.7 283.3h4m-2 -2v4M331.2 280h4m-2 -2v4M331.3 282.4h4m-2 -2v4M331.4 279.5h4m-2 -2v4M331.6 285h4m-2 -2v4M331.8 283.6h4m-2 -2v4M332.6 279.3h4m-2 -2v4M333.6 281.6h4m-2 -2v4M333.8 276.2h4m-2 -2v4M334.9 281.5h4m-2 -2v4M334.9 280.5h4m-2 -2v4M336.1 276.1h4m-2 -2v4M336.3 279.1h4m-2 -2v4M337.1 282.4h4m-2 -2v4M337.6 280.9h4m-2 -2v4M337.7 276.6h4m-2 -2v4M395.1 280.1h4m-2 -2v4M397 279.7h4m-2 -2v4M401.1 283.8h4m-2 -2v4M401.2 276.4h4m-2 -2v4M402.1 278.6h4m-2 -2v4M402.6 279.2h4m-2 -2v4M403.6 278.9h4m-2 -2v4M403.8 284.1h4m-2 -2v4M404.1 285.6h4m-2 -2v4M404.1 280.9h4m-2 -2v4M404.2 281.6h4m-2 -2v4M404.6 279.2h4m-2 -2v4M404.6 283.8h4m-2 -2v4M404.7 281.4h4m-2 -2v4M405.5 285.7h4m-2 -2v4M406 283h4m-2 -2v4M406.6 283.8h4m-2 -2v4M406.8 280.2h4m-2 -2v4M407.9 285.2h4m-2 -2v4M408.5 283.8h4m-2 -2v4M409.4 277.6h4m-2 -2v4M410.3 279.7h4m-2 -2v4M412.5 287.7h4m-2 -2v4M412.6 280.3h4m-2 -2v4M413.2 283.3h4m-2 -2v4M413.7 287h4m-2 -2v4M415.5 278.5h4m-2 -2v4M426.3 286.1h4m-2 -2v4M435.5 278.8h4m-2 -2v4M441.3 279.1h4m-2 -2v4M233.6 291.5h4m-2 -2v4M234 290.5h4m-2 -2v4M235.6 297.8h4m-2 -2v4M235.6 289h4m-2 -2v4M239.8 295.6h4m-2 -2v4M241.7 293.4h4m-2 -2v4M242.1 292.7h4m-2 -2v4M242.2 299.7h4m-2 -2v4M242.9 290.5h4m-2 -2v4M245.2 298.8h4m-2 -2v4M245.3 288.6h4m-2 -2v4M245.8 290h4m-2 -2v4M246.2 290h4m-2 -2v4M246.5 288.2h4m-2 -2v4M246.6 292.7h4m-2 -2v4M246.6 289.1h4m-2 -2v4M246.9 291.7h4m-2 -2v4M247.1 299.3h4m-2 -2v4M247.2 293.5h4m-2 -2v4M248.3 294.2h4m-2 -2v4M248.8 291.9h4m-2 -2v4M249.5 291.4h4m-2 -2v4M249.6 290.8h4m-2 -2v4M249.7 294h4m-2 -2v4M250.7 290.8h4m-2 -2v4M251.4 294h4m-2 -2v4M251.7 295.1h4m-2 -2v4M252.4 291.9h4m-2 -2v4M253 288.9h4m-2 -2v4M253.3 290.7h4m-2 -2v4M253.7 296.3h4m-2 -2v4M254.3 289.8h4m-2 -2v4M254.3 293.4h4m-2 -2v4M255.1 295.5h4m-2 -2v4M255.7 293.3h4m-2 -2v4M255.9 292.7h4m-2 -2v4M255.9 288.8h4m-2 -2v4M256.6 291.8h4m-2 -2v4M256.6 289.4h4m-2 -2v4M257.1 288.3h4m-2 -2v4M257.9 293.1h4m-2 -2v4M257.9 290.7h4m-2 -2v4M258 288.7h4m-2 -2v4M258.1 292.7h4m-2 -2v4M258.3 298.4h4m-2 -2v4M258.6 294.4h4m-2 -2v4M258.8 297.7h4m-2 -2v4M258.8 298.3h4m-2 -2v4M258.8 292.5h4m-2 -2v4M259 294.9h4m-2 -2v4M259.1 291.6h4m-2 -2v4M259.5 294.5h4m-2 -2v4M259.6 291.9h4m-2 -2v4M260 297h4m-2 -2v4M260.1 294.5h4m-2 -2v4M260.3 291h4m-2 -2v4M260.4 297.8h4m-2 -2v4M261.4 294.4h4m-2 -2v4M261.7 296.2h4m-2 -2v4M262.2 294.9h4m-2 -2v4M262.2 295.7h4m-2 -2v4M262.8 293.1h4m-2 -2v4M263.2 298.4h4m-2 -2v4M263.6 296.4h4m-2 -2v4M263.8 298.6h4m-2 -2v4M264.7 294.2h4m-2 -2v4M265.1 296.5h4m-2 -2v4M265.2 293.7h4m-2 -2v4M265.3 298.9h4m-2 -2v4M265.5 295.6h4m-2 -2v4M266.1 295.4h4m-2 -2v4M266.2 298.3h4m-2 -2v4M267.6 296.1h4m-2 -2v4M268.5 297.6h4m-2 -2v4M270.2 296.1h4m-2 -2v4M270.4 298h4m-2 -2v4M271.6 297.5h4m-2 -2v4M272.2 297.5h4m-2 -2v4M273.8 297.6h4m-2 -2v4M275.7 298.7h4m-2 -2v4M318.5 299.9h4m-2 -2v4M319.7 299.8h4m-2 -2v4M322 299.6h4m-2 -2v4M325.3 299.7h4m-2 -2v4M328.7 298h4m-2 -2v4M330.5 297.8h4m-2 -2v4M331.2 295.9h4m-2 -2v4M331.6 298.3h4m-2 -2v4M331.7 297.6h4m-2 -2v4M332.3 295.9h4m-2 -2v4M332.9 296.3h4m-2 -2v4M333.8 299.8h4m-2 -2v4M334.1 296.6h4m-2 -2v4M334.6 298.4h4m-2 -2v4M334.7 295.7h4m-2 -2v4M335.1 295.8h4m-2 -2v4M335.6 298h4m-2 -2v4M336.2 297.7h4m-2 -2v4M336.6 296.4h4m-2 -2v4M336.9 296.3h4m-2 -2v4M338.2 299.3h4m-2 -2v4M338.9 299.1h4m-2 -2v4M339.1 297.8h4m-2 -2v4M339.9 294.4h4m-2 -2v4M340.1 294.9h4m-2 -2v4M340.2 300h4m-2 -2v4M340.3 297.7h4m-2 -2v4M340.5 295.9h4m-2 -2v4M340.8 295.5h4m-2 -2v4M340.8 296.2h4m-2 -2v4M343.4 298.8h4m-2 -2v4M343.5 299.2h4m-2 -2v4M343.7 298.5h4m-2 -2v4M344.5 294.9h4m-2 -2v4M345.1 297.2h4m-2 -2v4M345.9 296.8h4m-2 -2v4M346.5 298.1h4m-2 -2v4M347.8 296.8h4m-2 -2v4M348 295.1h4m-2 -2v4M348.3 296.4h4m-2 -2v4M348.3 296.2h4m-2 -2v4M348.5 298.7h4m-2 -2v4M348.7 298.8h4m-2 -2v4M349 295.8h4m-2 -2v4M349.5 297.3h4m-2 -2v4M351.3 298.3h4m-2 -2v4M351.6 296.8h4m-2 -2v4M354 297.8h4m-2 -2v4M354.9 298.5h4m-2 -2v4M355 299.6h4m-2 -2v4M403.8 289h4m-2 -2v4M405.2 289h4m-2 -2v4M406.2 290.4h4m-2 -2v4M406.5 292.5h4m-2 -2v4M406.7 288.8h4m-2 -2v4M406.7 289h4m-2 -2v4M408.1 292.6h4m-2 -2v4M408.3 289.3h4m-2 -2v4M408.4 290.8h4m-2 -2v4M408.7 299.6h4m-2 -2v4M409.1 292.8h4m-2 -2v4M409.2 297.9h4m-2 -2v4M409.9 292.5h4m-2 -2v4M410.3 292.2h4m-2 -2v4M410.4 291.1h4m-2 -2v4M411 299.5h4m-2 -2v4M411.3 299.3h4m-2 -2v4M411.4 296.4h4m-2 -2v4M411.7 299.6h4m-2 -2v4M412 298.5h4m-2 -2v4M412.7 289.6h4m-2 -2v4M413.6 297.4h4m-2 -2v4M414.3 299.5h4m-2 -2v4M415.5 294.6h4m-2 -2v4M425 297.9h4m-2 -2v4M429.6 293.5h4m-2 -2v4M430.6 291h4m-2 -2v4M435.6 295.6h4m-2 -2v4M239.7 303.7h4m-2 -2v4M250.5 308.8h4m-2 -2v4M253 306.5h4m-2 -2v4M255.3 308.4h4m-2 -2v4M256.4 308.3h4m-2 -2v4M257.3 301.6h4m-2 -2v4M258.1 307.1h4m-2 -2v4M258.3 306.9h4m-2 -2v4M259.6 303.5h4m-2 -2v4M259.7 301.5h4m-2 -2v4M260.2 305.7h4m-2 -2v4M260.6 301.1h4m-2 -2v4M261.5 304.3h4m-2 -2v4M262.7 303.1h4m-2 -2v4M263.5 300.8h4m-2 -2v4M264.1 306.6h4m-2 -2v4M264.6 309h4m-2 -2v4M264.6 300.6h4m-2 -2v4M264.7 311.2h4m-2 -2v4M264.7 305.2h4m-2 -2v4M265.7 306.8h4m-2 -2v4M266 302.4h4m-2 -2v4M266.4 302.5h4m-2 -2v4M267.9 300.7h4m-2 -2v4M269 302.6h4m-2 -2v4M269.2 300.7h4m-2 -2v4M269.5 306h4m-2 -2v4M269.6 308.8h4m-2 -2v4M269.6 300.9h4m-2 -2v4M269.7 305.6h4m-2 -2v4M270.1 307.7h4m-2 -2v4M270.2 300.4h4m-2 -2v4M270.6 311.7h4m-2 -2v4M270.7 306.1h4m-2 -2v4M270.9 305h4m-2 -2v4M271.7 303.2h4m-2 -2v4M271.7 302.4h4m-2 -2v4M271.9 307.5h4m-2 -2v4M272.4 300.2h4m-2 -2v4M272.4 311.4h4m-2 -2v4M272.6 303.4h4m-2 -2v4M273.4 301.6h4m-2 -2v4M273.5 301.9h4m-2 -2v4M274.1 304.1h4m-2 -2v4M274.3 303.9h4m-2 -2v4M274.5 307.9h4m-2 -2v4M275.1 308h4m-2 -2v4M275.4 311.5h4m-2 -2v4M276.2 300.2h4m-2 -2v4M276.5 302h4m-2 -2v4M276.6 306.8h4m-2 -2v4M277.1 309.6h4m-2 -2v4M277.1 300.8h4m-2 -2v4M277.7 303.8h4m-2 -2v4M278.3 311.7h4m-2 -2v4M278.6 311.5h4m-2 -2v4M279.2 309.6h4m-2 -2v4M279.4 307.6h4m-2 -2v4M279.5 304.9h4m-2 -2v4M280.1 305.8h4m-2 -2v4M280.5 308.3h4m-2 -2v4M280.8 306.8h4m-2 -2v4M281 306.2h4m-2 -2v4M281.1 310.2h4m-2 -2v4M282.1 311h4m-2 -2v4M282.9 301.6h4m-2 -2v4M283.1 302.4h4m-2 -2v4M283.1 302.8h4m-2 -2v4M283.3 308.4h4m-2 -2v4M283.4 309.3h4m-2 -2v4M283.4 301.8h4m-2 -2v4M283.8 301.7h4m-2 -2v4M283.8 302.1h4m-2 -2v4M283.9 305.4h4m-2 -2v4M284.5 311.7h4m-2 -2v4M285.1 304.6h4m-2 -2v4M285.8 305.7h4m-2 -2v4M285.9 306.4h4m-2 -2v4M286 312h4m-2 -2v4M286.4 304.1h4m-2 -2v4M286.5 305h4m-2 -2v4M287.3 307.1h4m-2 -2v4M288.3 304.8h4m-2 -2v4M288.6 306.2h4m-2 -2v4M288.8 308.6h4m-2 -2v4M288.8 307.9h4m-2 -2v4M288.9 311.1h4m-2 -2v4M289.4 308.6h4m-2 -2v4M289.6 303.2h4m-2 -2v4M289.7 304.7h4m-2 -2v4M289.8 303.6h4m-2 -2v4M290.1 304.4h4m-2 -2v4M290.8 309.2h4m-2 -2v4M290.9 307.9h4m-2 -2v4M290.9 304.1h4m-2 -2v4M291.3 304.6h4m-2 -2v4M291.9 307.9h4m-2 -2v4M292.1 301.6h4m-2 -2v4M292.2 308.9h4m-2 -2v4M292.4 303h4m-2 -2v4M293.1 309.6h4m-2 -2v4M293.1 303.4h4m-2 -2v4M293.3 303h4m-2 -2v4M293.4 304.6h4m-2 -2v4M293.5 302.4h4m-2 -2v4M294.6 309.6h4m-2 -2v4M295.2 309.7h4m-2 -2v4M295.8 301.5h4m-2 -2v4M295.8 310.3h4m-2 -2v4M296.1 311.3h4m-2 -2v4M296.3 303.3h4m-2 -2v4M296.7 304.8h4m-2 -2v4M297 306.2h4m-2 -2v4M297.1 303.2h4m-2 -2v4M297.6 311.8h4m-2 -2v4M297.6 306.7h4m-2 -2v4M297.7 304.6h4m-2 -2v4M298 310.2h4m-2 -2v4M298.8 304.2h4m-2 -2v4M300.1 301.4h4m-2 -2v4M300.1 302h4m-2 -2v4M300.2 302.6h4m-2 -2v4M300.6 302.4h4m-2 -2v4M300.6 309.6h4m-2 -2v4M301.1 302.4h4m-2 -2v4M301.1 307.7h4m-2 -2v4M301.5 304.5h4m-2 -2v4M301.8 310.9h4m-2 -2v4M302.3 303.8h4m-2 -2v4M302.6 303.8h4m-2 -2v4M302.8 310h4m-2 -2v4M303.3 305.9h4m-2 -2v4M303.3 307h4m-2 -2v4M303.5 301.8h4m-2 -2v4M303.6 309.7h4m-2 -2v4M305.2 306.4h4m-2 -2v4M305.9 307h4m-2 -2v4M307.1 301.8h4m-2 -2v4M307.2 300.2h4m-2 -2v4M307.3 301.8h4m-2 -2v4M307.8 307.6h4m-2 -2v4M307.9 305.1h4m-2 -2v4M308.1 308.3h4m-2 -2v4M309.1 307.5h4m-2 -2v4M309.2 301.2h4m-2 -2v4M309.3 300.7h4m-2 -2v4M309.4 301.1h4m-2 -2v4M309.6 304.9h4m-2 -2v4M309.6 302.9h4m-2 -2v4M310.2 306h4m-2 -2v4M310.4 305.9h4m-2 -2v4M310.7 305.9h4m-2 -2v4M311.2 303.8h4m-2 -2v4M311.9 301.9h4m-2 -2v4M312.5 309.2h4m-2 -2v4M312.5 304.4h4m-2 -2v4M313 307.1h4m-2 -2v4M313.8 300.4h4m-2 -2v4M313.8 306.9h4m-2 -2v4M314.2 308.5h4m-2 -2v4M314.3 300.9h4m-2 -2v4M314.4 311.6h4m-2 -2v4M314.4 300.5h4m-2 -2v4M314.8 307.8h4m-2 -2v4M315.3 309.2h4m-2 -2v4M315.6 311.3h4m-2 -2v4M316.1 302.9h4m-2 -2v4M316.4 304.3h4m-2 -2v4M316.5 302h4m-2 -2v4M318.2 301h4m-2 -2v4M318.8 302.2h4m-2 -2v4M319.4 300.9h4m-2 -2v4M319.6 308.4h4m-2 -2v4M319.7 307.1h4m-2 -2v4M319.8 305.9h4m-2 -2v4M320.3 310.5h4m-2 -2v4M320.8 301.2h4m-2 -2v4M322.1 305.3h4m-2 -2v4M322.5 301.7h4m-2 -2v4M323.3 302h4m-2 -2v4M323.5 303.2h4m-2 -2v4M324.2 310.5h4m-2 -2v4M324.6 305.8h4m-2 -2v4M326 309.3h4m-2 -2v4M326.2 309.7h4m-2 -2v4M326.8 304.5h4m-2 -2v4M327.5 301h4m-2 -2v4M327.6 308.4h4m-2 -2v4M328.8 306.9h4m-2 -2v4M329.3 304.7h4m-2 -2v4M330.1 300.6h4m-2 -2v4M330.5 301.2h4m-2 -2v4M330.6 306.3h4m-2 -2v4M330.7 301.3h4m-2 -2v4M330.8 308.1h4m-2 -2v4M331 306.4h4m-2 -2v4M332.1 311.2h4m-2 -2v4M332.5 308.9h4m-2 -2v4M333.6 302.1h4m-2 -2v4M333.6 305.6h4m-2 -2v4M334.1 301.9h4m-2 -2v4M334.6 300.9h4m-2 -2v4M334.6 301.9h4m-2 -2v4M335.4 303.9h4m-2 -2v4M335.4 302.5h4m-2 -2v4M335.7 307.2h4m-2 -2v4M335.9 302.7h4m-2 -2v4M336.1 300.7h4m-2 -2v4M336.2 303.1h4m-2 -2v4M336.7 302.1h4m-2 -2v4M336.7 309.5h4m-2 -2v4M338.1 300.2h4m-2 -2v4M341.6 301.5h4m-2 -2v4M346 300.9h4m-2 -2v4M346.8 306.9h4m-2 -2v4M347.1 302.2h4m-2 -2v4M347.6 301.8h4m-2 -2v4M349.2 302h4m-2 -2v4M349.8 302.7h4m-2 -2v4M351.1 302.5h4m-2 -2v4M354.4 302.1h4m-2 -2v4M355.6 300.3h4m-2 -2v4M355.8 300.2h4m-2 -2v4M356.2 306.6h4m-2 -2v4M356.5 303h4m-2 -2v4M356.5 306.9h4m-2 -2v4M357 309.6h4m-2 -2v4M357.5 310.2h4m-2 -2v4M357.5 305.4h4m-2 -2v4M357.6 300.5h4m-2 -2v4M358.4 301.8h4m-2 -2v4M358.4 304h4m-2 -2v4M359.1 303.5h4m-2 -2v4M359.4 300.9h4m-2 -2v4M359.6 301.4h4m-2 -2v4M360.1 302.9h4m-2 -2v4M361.1 308.2h4m-2 -2v4M361.1 307.3h4m-2 -2v4M361.8 308.8h4m-2 -2v4M362.9 308.4h4m-2 -2v4M363.9 310.5h4m-2 -2v4M364.1 308.2h4m-2 -2v4M364.6 305.8h4m-2 -2v4M364.7 305.7h4m-2 -2v4M366.3 309.1h4m-2 -2v4M366.8 311.5h4m-2 -2v4M367 308.9h4m-2 -2v4M367.1 310.8h4m-2 -2v4M367.2 310.5h4m-2 -2v4M367.8 312h4m-2 -2v4M406.2 301.9h4m-2 -2v4M409.6 304h4m-2 -2v4M409.9 301.2h4m-2 -2v4M410.1 304.4h4m-2 -2v4M410.2 303.4h4m-2 -2v4M410.6 302.4h4m-2 -2v4M410.7 307.4h4m-2 -2v4M410.8 300.3h4m-2 -2v4M410.9 309.5h4m-2 -2v4M410.9 301.9h4m-2 -2v4M411.1 305.7h4m-2 -2v4M411.4 307.8h4m-2 -2v4M411.4 309.8h4m-2 -2v4M411.8 300.2h4m-2 -2v4M412.7 307.8h4m-2 -2v4M413.6 306.3h4m-2 -2v4M414.1 306.5h4m-2 -2v4M414.2 305.4h4m-2 -2v4M414.2 307.6h4m-2 -2v4M415 304.4h4m-2 -2v4M415.4 302.5h4m-2 -2v4M417.2 309.9h4m-2 -2v4M417.2 303.4h4m-2 -2v4M420.6 301h4m-2 -2v4M423.3 310.2h4m-2 -2v4M435.6 301.7h4m-2 -2v4M269.6 313.6h4m-2 -2v4M269.9 322.8h4m-2 -2v4M273.3 322.6h4m-2 -2v4M273.9 313.7h4m-2 -2v4M274.3 314.4h4m-2 -2v4M274.4 321.2h4m-2 -2v4M276.1 312.8h4m-2 -2v4M279.8 317.1h4m-2 -2v4M280.7 315.4h4m-2 -2v4M282.5 314.8h4m-2 -2v4M282.8 321.5h4m-2 -2v4M283.2 320.7h4m-2 -2v4M283.6 313.7h4m-2 -2v4M285.6 315.3h4m-2 -2v4M286.1 317.4h4m-2 -2v4M286.7 316.6h4m-2 -2v4M287.1 317.7h4m-2 -2v4M289.7 313.4h4m-2 -2v4M290.6 314.6h4m-2 -2v4M292.1 312.3h4m-2 -2v4M293 316.3h4m-2 -2v4M295.3 313.2h4m-2 -2v4M296.8 312.3h4m-2 -2v4M297.7 320.3h4m-2 -2v4M298.2 313.6h4m-2 -2v4M299.2 313.5h4m-2 -2v4M299.5 312.3h4m-2 -2v4M299.8 318.5h4m-2 -2v4M301.1 312.3h4m-2 -2v4M301.9 314.9h4m-2 -2v4M304.8 317.3h4m-2 -2v4M305.9 314.2h4m-2 -2v4M306.3 312.5h4m-2 -2v4M306.4 314.9h4m-2 -2v4M307 316.8h4m-2 -2v4M308.7 320.2h4m-2 -2v4M315.7 312.2h4m-2 -2v4M316.2 315.1h4m-2 -2v4M320 313.7h4m-2 -2v4M321.5 312.6h4m-2 -2v4M323 315h4m-2 -2v4M326.9 315.6h4m-2 -2v4M327.3 313.7h4m-2 -2v4M329.2 316h4m-2 -2v4M330.5 314.7h4m-2 -2v4M331.8 315.1h4m-2 -2v4M360.5 323h4m-2 -2v4M361.6 314.4h4m-2 -2v4M361.9 313.6h4m-2 -2v4M363.8 314.6h4m-2 -2v4M364.1 314.1h4m-2 -2v4M364.3 314.2h4m-2 -2v4M365.1 312.4h4m-2 -2v4M365.5 314.6h4m-2 -2v4M366.2 320.2h4m-2 -2v4M366.4 314.1h4m-2 -2v4M367.6 314.5h4m-2 -2v4M368.8 317.3h4m-2 -2v4M370.5 318.3h4m-2 -2v4M370.5 320h4m-2 -2v4M370.6 317.8h4m-2 -2v4M370.7 315.9h4m-2 -2v4M371.2 316.9h4m-2 -2v4M372.1 319.4h4m-2 -2v4M372.3 323.4h4m-2 -2v4M372.3 322.6h4m-2 -2v4M372.9 322.7h4m-2 -2v4M373.6 318.4h4m-2 -2v4M374.3 323.1h4m-2 -2v4M374.5 319.6h4m-2 -2v4M374.7 320.2h4m-2 -2v4M376 322.1h4m-2 -2v4M412.1 313.9h4m-2 -2v4M412.9 314.9h4m-2 -2v4M413.2 314.9h4m-2 -2v4M413.2 321h4m-2 -2v4M413.3 312.7h4m-2 -2v4M413.8 320.9h4m-2 -2v4M413.9 316.7h4m-2 -2v4M414 312.2h4m-2 -2v4M414.2 316.4h4m-2 -2v4M414.2 322.2h4m-2 -2v4M414.5 319.6h4m-2 -2v4M414.6 312.6h4m-2 -2v4M415 312.7h4m-2 -2v4M415.2 312.5h4m-2 -2v4M415.5 316.5h4m-2 -2v4M416.1 318.2h4m-2 -2v4M416.3 322.5h4m-2 -2v4M416.8 321.6h4m-2 -2v4M417.7 315h4m-2 -2v4M417.8 318.3h4m-2 -2v4M419.2 318.8h4m-2 -2v4M419.6 320.9h4m-2 -2v4M419.8 316.8h4m-2 -2v4M419.9 317h4m-2 -2v4M424.4 320.8h4m-2 -2v4M427 317.9h4m-2 -2v4M427.9 321.8h4m-2 -2v4M284 324.8h4m-2 -2v4M309.5 335.6h4m-2 -2v4M356.1 332.8h4m-2 -2v4M366.3 334.1h4m-2 -2v4M368.6 324.8h4m-2 -2v4M369.1 328.1h4m-2 -2v4M369.2 333.2h4m-2 -2v4M370 324.2h4m-2 -2v4M370.8 327.4h4m-2 -2v4M370.8 332.7h4m-2 -2v4M371.2 325.9h4m-2 -2v4M372.7 332.3h4m-2 -2v4M373.6 327.8h4m-2 -2v4M374 324.3h4m-2 -2v4M374 329.7h4m-2 -2v4M374.9 333h4m-2 -2v4M375.3 325.8h4m-2 -2v4M375.3 324.6h4m-2 -2v4M375.4 325.4h4m-2 -2v4M375.6 325h4m-2 -2v4M376 324.1h4m-2 -2v4M376.5 332.1h4m-2 -2v4M376.7 326.8h4m-2 -2v4M377.3 334h4m-2 -2v4M377.7 332.7h4m-2 -2v4M377.9 326h4m-2 -2v4M378.6 328.8h4m-2 -2v4M378.6 332.5h4m-2 -2v4M379 328.6h4m-2 -2v4M379.6 334.9h4m-2 -2v4M379.8 331.5h4m-2 -2v4M379.8 330h4m-2 -2v4M380 330h4m-2 -2v4M380.1 335.4h4m-2 -2v4M380.1 330.1h4m-2 -2v4M380.1 335.2h4m-2 -2v4M380.5 330h4m-2 -2v4M380.6 334h4m-2 -2v4M381.1 330.7h4m-2 -2v4M381.6 336h4m-2 -2v4M381.8 332.3h4m-2 -2v4M381.8 332.8h4m-2 -2v4M382 332.5h4m-2 -2v4M382.2 334.9h4m-2 -2v4M382.7 335.6h4m-2 -2v4M384.2 334.7h4m-2 -2v4M415 328.5h4m-2 -2v4M415.1 327.3h4m-2 -2v4M415.5 324.1h4m-2 -2v4M415.6 325.5h4m-2 -2v4M416.1 334.4h4m-2 -2v4M416.8 333.1h4m-2 -2v4M417.9 335.2h4m-2 -2v4M418.5 327.5h4m-2 -2v4M418.5 325.9h4m-2 -2v4M418.8 326.8h4m-2 -2v4M418.8 331h4m-2 -2v4M418.9 333.4h4m-2 -2v4M419 331.5h4m-2 -2v4M419 331h4m-2 -2v4M419.5 333.3h4m-2 -2v4M420 329.9h4m-2 -2v4M420.8 328.4h4m-2 -2v4M421.3 330.5h4m-2 -2v4M421.6 334.4h4m-2 -2v4M423.2 334.5h4m-2 -2v4M424.3 331.3h4m-2 -2v4M425.1 333.4h4m-2 -2v4M427.3 334.4h4m-2 -2v4M369.8 340.9h4m-2 -2v4M371 336.6h4m-2 -2v4M372.4 338.7h4m-2 -2v4M372.7 347.1h4m-2 -2v4M374.4 338.4h4m-2 -2v4M376.4 341.3h4m-2 -2v4M377.5 343.4h4m-2 -2v4M377.5 342.4h4m-2 -2v4M377.7 341.5h4m-2 -2v4M378.4 337.9h4m-2 -2v4M379.7 345h4m-2 -2v4M380.6 342.9h4m-2 -2v4M381.1 336.1h4m-2 -2v4M381.3 340.7h4m-2 -2v4M382.2 339.6h4m-2 -2v4M383.5 341.6h4m-2 -2v4M383.6 340.8h4m-2 -2v4M384 339.9h4m-2 -2v4M384.5 345h4m-2 -2v4M386.5 339.1h4m-2 -2v4M386.9 343.5h4m-2 -2v4M387 347.4h4m-2 -2v4M387.5 343.5h4m-2 -2v4M387.7 341.1h4m-2 -2v4M387.7 344.9h4m-2 -2v4M387.8 346.9h4m-2 -2v4M388.2 341.9h4m-2 -2v4M388.6 344.8h4m-2 -2v4M388.7 347.6h4m-2 -2v4M388.7 343.2h4m-2 -2v4M388.7 344.2h4m-2 -2v4M389.4 346.3h4m-2 -2v4M390.6 346.9h4m-2 -2v4M418.1 339.4h4m-2 -2v4M419.3 340h4m-2 -2v4M419.3 344.1h4m-2 -2v4M419.4 343.7h4m-2 -2v4M419.5 342.2h4m-2 -2v4M420 347.7h4m-2 -2v4M420.2 347.2h4m-2 -2v4M420.4 338.6h4m-2 -2v4M421.2 347.4h4m-2 -2v4M421.7 345.3h4m-2 -2v4M422.2 340.3h4m-2 -2v4M422.2 347.2h4m-2 -2v4M423 336.5h4m-2 -2v4M424.1 343.1h4m-2 -2v4M425 341.6h4m-2 -2v4M425.2 343.9h4m-2 -2v4M425.6 342.8h4m-2 -2v4M425.8 344.7h4m-2 -2v4M426.3 346.5h4m-2 -2v4M427.5 339.8h4m-2 -2v4M428.3 336.7h4m-2 -2v4M429.5 347h4m-2 -2v4M429.9 347.3h4m-2 -2v4M430.5 337.8h4m-2 -2v4M431.2 346.4h4m-2 -2v4M432.4 346.6h4m-2 -2v4M436.2 339.1h4m-2 -2v4M437.5 345.3h4m-2 -2v4M377.3 354.8h4m-2 -2v4M378.5 351.9h4m-2 -2v4M378.8 348.6h4m-2 -2v4M381 360h4m-2 -2v4M381.3 350.4h4m-2 -2v4M381.3 351.7h4m-2 -2v4M382 357.4h4m-2 -2v4M382.5 357.5h4m-2 -2v4M382.8 358.1h4m-2 -2v4M382.8 355.5h4m-2 -2v4M383.2 359.2h4m-2 -2v4M383.3 359.3h4m-2 -2v4M383.4 354.8h4m-2 -2v4M383.9 350.8h4m-2 -2v4M384.1 352h4m-2 -2v4M386.1 357.7h4m-2 -2v4M386.7 349.3h4m-2 -2v4M386.8 353.4h4m-2 -2v4M387.1 352.9h4m-2 -2v4M387.3 359.4h4m-2 -2v4M387.5 355.8h4m-2 -2v4M387.5 349.4h4m-2 -2v4M387.8 352.8h4m-2 -2v4M387.8 350.9h4m-2 -2v4M388.1 352.7h4m-2 -2v4M388.2 359.5h4m-2 -2v4M388.4 350.4h4m-2 -2v4M388.6 356h4m-2 -2v4M388.6 353.5h4m-2 -2v4M388.6 358.9h4m-2 -2v4M389 358.8h4m-2 -2v4M389.1 348.4h4m-2 -2v4M389.6 352.3h4m-2 -2v4M389.9 352.9h4m-2 -2v4M390.3 348.2h4m-2 -2v4M390.7 353.1h4m-2 -2v4M390.8 352.7h4m-2 -2v4M390.8 352.2h4m-2 -2v4M391 353.5h4m-2 -2v4M392.4 348.3h4m-2 -2v4M393 351.5h4m-2 -2v4M393.5 359.6h4m-2 -2v4M393.9 358.8h4m-2 -2v4M394.5 355h4m-2 -2v4M394.6 358h4m-2 -2v4M394.7 359.8h4m-2 -2v4M395.2 358h4m-2 -2v4M397 357.1h4m-2 -2v4M397.7 358.3h4m-2 -2v4M398.5 359.3h4m-2 -2v4M420.8 350.3h4m-2 -2v4M420.9 348.3h4m-2 -2v4M421.4 352.3h4m-2 -2v4M421.6 352.1h4m-2 -2v4M422.1 351.1h4m-2 -2v4M422.2 354.6h4m-2 -2v4M422.2 354h4m-2 -2v4M422.3 358.1h4m-2 -2v4M422.4 356h4m-2 -2v4M422.9 355.9h4m-2 -2v4M423.1 351.9h4m-2 -2v4M423.2 350.1h4m-2 -2v4M423.6 359h4m-2 -2v4M423.6 351h4m-2 -2v4M425 353.8h4m-2 -2v4M425 349.1h4m-2 -2v4M425.5 358.8h4m-2 -2v4M425.6 356.1h4m-2 -2v4M426.6 358.1h4m-2 -2v4M427.2 350.2h4m-2 -2v4M427.9 349.2h4m-2 -2v4M428.4 348.5h4m-2 -2v4M428.5 348.9h4m-2 -2v4M428.5 353.2h4m-2 -2v4M429 353.8h4m-2 -2v4M429 348.6h4m-2 -2v4M429 348.4h4m-2 -2v4M429.2 353.3h4m-2 -2v4M429.2 353.5h4m-2 -2v4M429.6 350.8h4m-2 -2v4M429.9 357.8h4m-2 -2v4M430 357.6h4m-2 -2v4M430.1 358.7h4m-2 -2v4M430.9 350h4m-2 -2v4M431.5 348.1h4m-2 -2v4M435.1 359.1h4m-2 -2v4M437.2 355.7h4m-2 -2v4M439.4 356.5h4m-2 -2v4M441.4 359.1h4m-2 -2v4M444.3 354h4m-2 -2v4M373.7 367.2h4m-2 -2v4M382.7 368.5h4m-2 -2v4M382.9 362.7h4m-2 -2v4M383.8 363.7h4m-2 -2v4M384.6 365.4h4m-2 -2v4M384.6 366.3h4m-2 -2v4M384.7 361.9h4m-2 -2v4M387.5 367.5h4m-2 -2v4M387.7 371.1h4m-2 -2v4M388.4 360.5h4m-2 -2v4M388.6 360.4h4m-2 -2v4M389.9 369.7h4m-2 -2v4M389.9 360.1h4m-2 -2v4M389.9 366.1h4m-2 -2v4M390 369.5h4m-2 -2v4M390.8 362.8h4m-2 -2v4M392.5 367.2h4m-2 -2v4M392.5 371.6h4m-2 -2v4M392.7 361.5h4m-2 -2v4M393.2 364.7h4m-2 -2v4M393.6 363.5h4m-2 -2v4M393.6 369.6h4m-2 -2v4M394.5 369.5h4m-2 -2v4M394.8 361.8h4m-2 -2v4M395.1 371.8h4m-2 -2v4M395.4 361.8h4m-2 -2v4M395.7 360.7h4m-2 -2v4M396 363h4m-2 -2v4M396.2 369.6h4m-2 -2v4M396.6 362.5h4m-2 -2v4M397.1 362.7h4m-2 -2v4M397.6 366.1h4m-2 -2v4M398.4 364.1h4m-2 -2v4M398.6 360.2h4m-2 -2v4M399 363.4h4m-2 -2v4M399.3 365.5h4m-2 -2v4M399.5 369h4m-2 -2v4M399.6 363.4h4m-2 -2v4M399.9 371.8h4m-2 -2v4M400 364.8h4m-2 -2v4M400.3 371.7h4m-2 -2v4M400.3 369.4h4m-2 -2v4M400.3 369.1h4m-2 -2v4M400.5 365.2h4m-2 -2v4M400.7 369h4m-2 -2v4M401.2 369.4h4m-2 -2v4M401.9 367h4m-2 -2v4M402.5 366.6h4m-2 -2v4M403.3 367.2h4m-2 -2v4M403.8 368.5h4m-2 -2v4M405.1 371.4h4m-2 -2v4M406.5 371.9h4m-2 -2v4M423.8 363.4h4m-2 -2v4M424.5 370h4m-2 -2v4M424.7 362.9h4m-2 -2v4M424.8 360.2h4m-2 -2v4M425.7 363.1h4m-2 -2v4M427.2 361.2h4m-2 -2v4M427.9 367.2h4m-2 -2v4M428.3 370.8h4m-2 -2v4M428.6 365.2h4m-2 -2v4M429.1 366.2h4m-2 -2v4M429.8 360.9h4m-2 -2v4M430 363.4h4m-2 -2v4M430.5 362.3h4m-2 -2v4M430.7 364.5h4m-2 -2v4M432.4 360.4h4m-2 -2v4M432.9 361.1h4m-2 -2v4M433.3 360.8h4m-2 -2v4M433.4 367h4m-2 -2v4M434.3 368.3h4m-2 -2v4M435 365.1h4m-2 -2v4M435.2 368h4m-2 -2v4M438 367.8h4m-2 -2v4M438.5 362.9h4m-2 -2v4M438.6 371.6h4m-2 -2v4M439 371.5h4m-2 -2v4M439.3 370.6h4m-2 -2v4M439.8 369.5h4m-2 -2v4M377 374.1h4m-2 -2v4M380 373.7h4m-2 -2v4M383.9 379.7h4m-2 -2v4M384.4 377.1h4m-2 -2v4M387.9 376.9h4m-2 -2v4M388.8 380.3h4m-2 -2v4M389.2 376.3h4m-2 -2v4M389.5 376.3h4m-2 -2v4M391.7 373.3h4m-2 -2v4M392.1 383.8h4m-2 -2v4M392.4 377.8h4m-2 -2v4M393.5 377.6h4m-2 -2v4M394 375.6h4m-2 -2v4M394.1 380.5h4m-2 -2v4M394.8 377h4m-2 -2v4M395.1 372.3h4m-2 -2v4M396.9 376.4h4m-2 -2v4M397 382h4m-2 -2v4M397 375.8h4m-2 -2v4M398 375.1h4m-2 -2v4M398.6 373.1h4m-2 -2v4M399.2 372.9h4m-2 -2v4M399.9 376.1h4m-2 -2v4M400.3 372.1h4m-2 -2v4M400.6 380.9h4m-2 -2v4M400.8 382.3h4m-2 -2v4M400.9 377.7h4m-2 -2v4M400.9 380h4m-2 -2v4M401.3 381.7h4m-2 -2v4M401.5 381.1h4m-2 -2v4M401.7 372.4h4m-2 -2v4M402.1 372.8h4m-2 -2v4M402.6 381.4h4m-2 -2v4M402.6 378.6h4m-2 -2v4M402.8 378.6h4m-2 -2v4M403.3 376.4h4m-2 -2v4M404.1 373.9h4m-2 -2v4M404.4 381.1h4m-2 -2v4M404.4 375.6h4m-2 -2v4M404.7 372.2h4m-2 -2v4M405 379.7h4m-2 -2v4M405.2 379.9h4m-2 -2v4M405.2 381h4m-2 -2v4M406 375.4h4m-2 -2v4M406.1 372.5h4m-2 -2v4M406.3 379.1h4m-2 -2v4M407 373.8h4m-2 -2v4M407.3 380h4m-2 -2v4M407.4 376.7h4m-2 -2v4M407.8 376.8h4m-2 -2v4M408.7 382h4m-2 -2v4M408.7 383.3h4m-2 -2v4M408.8 377.7h4m-2 -2v4M408.9 383.9h4m-2 -2v4M408.9 375.8h4m-2 -2v4M410.6 379.7h4m-2 -2v4M411.2 381.3h4m-2 -2v4M411.7 380.7h4m-2 -2v4M411.7 382.2h4m-2 -2v4M412.6 382.1h4m-2 -2v4M425.2 373.3h4m-2 -2v4M425.5 372h4m-2 -2v4M425.9 379.5h4m-2 -2v4M425.9 373.4h4m-2 -2v4M425.9 381.4h4m-2 -2v4M426.2 379h4m-2 -2v4M426.4 378.3h4m-2 -2v4M426.4 378.1h4m-2 -2v4M426.6 372.4h4m-2 -2v4M427 372.1h4m-2 -2v4M427 374.1h4m-2 -2v4M427 383.5h4m-2 -2v4M427.1 374.5h4m-2 -2v4M427.4 373.1h4m-2 -2v4M427.9 378.7h4m-2 -2v4M428 380.1h4m-2 -2v4M428.1 375.4h4m-2 -2v4M428.4 383.2h4m-2 -2v4M428.7 383.4h4m-2 -2v4M429.2 378.5h4m-2 -2v4M429.4 381.8h4m-2 -2v4M429.6 377h4m-2 -2v4M429.8 383.3h4m-2 -2v4M431.5 378.7h4m-2 -2v4M432.1 375.3h4m-2 -2v4M432.3 376.2h4m-2 -2v4M432.8 374.2h4m-2 -2v4M433.4 380.5h4m-2 -2v4M433.7 375h4m-2 -2v4M433.8 373.9h4m-2 -2v4M433.9 380.6h4m-2 -2v4M434.4 382.6h4m-2 -2v4M434.6 378.8h4m-2 -2v4M435.1 373.2h4m-2 -2v4M436.5 381.8h4m-2 -2v4M436.8 372.2h4m-2 -2v4M436.9 379.8h4m-2 -2v4M437.5 375.6h4m-2 -2v4M437.6 378.8h4m-2 -2v4M438.8 373.6h4m-2 -2v4M440 376.6h4m-2 -2v4M440.3 382.9h4m-2 -2v4M440.5 383.9h4m-2 -2v4M441.7 378.9h4m-2 -2v4M441.9 373.8h4m-2 -2v4M441.9 379.9h4m-2 -2v4M442.9 381.7h4m-2 -2v4M443.9 372.4h4m-2 -2v4M444.5 376.7h4m-2 -2v4M444.6 379.6h4m-2 -2v4M449 377.9h4m-2 -2v4M450.7 380.1h4m-2 -2v4M390.4 385.4h4m-2 -2v4M390.5 386.2h4m-2 -2v4M392.1 387h4m-2 -2v4M393.9 386.8h4m-2 -2v4M395.7 386.4h4m-2 -2v4M395.8 387.7h4m-2 -2v4M397 386.9h4m-2 -2v4M398.5 392h4m-2 -2v4M398.7 385.5h4m-2 -2v4M398.8 385.7h4m-2 -2v4M398.9 386.4h4m-2 -2v4M399 384.8h4m-2 -2v4M400 391.2h4m-2 -2v4M400.7 388.9h4m-2 -2v4M401.6 389.5h4m-2 -2v4M402.3 391.4h4m-2 -2v4M404.2 388.5h4m-2 -2v4M404.9 386.8h4m-2 -2v4M405.1 390h4m-2 -2v4M405.5 388.2h4m-2 -2v4M405.8 387.2h4m-2 -2v4M406.9 390.9h4m-2 -2v4M406.9 388h4m-2 -2v4M407.2 390.2h4m-2 -2v4M407.3 386.2h4m-2 -2v4M408.6 391.4h4m-2 -2v4M409.2 384.8h4m-2 -2v4M409.4 385.1h4m-2 -2v4M409.5 388.2h4m-2 -2v4M409.6 385.4h4m-2 -2v4M410 388.3h4m-2 -2v4M410.2 386.1h4m-2 -2v4M410.7 385.7h4m-2 -2v4M411.1 386.2h4m-2 -2v4M412.2 384.3h4m-2 -2v4M412.2 384.6h4m-2 -2v4M412.3 386.8h4m-2 -2v4M412.4 388.8h4m-2 -2v4M412.5 393h4m-2 -2v4M412.7 384.6h4m-2 -2v4M413.3 387.2h4m-2 -2v4M413.5 384.7h4m-2 -2v4M413.8 392.2h4m-2 -2v4M414.2 387.7h4m-2 -2v4M414.2 393h4m-2 -2v4M414.5 388h4m-2 -2v4M415.6 392.8h4m-2 -2v4M415.6 390.4h4m-2 -2v4M417.9 390.6h4m-2 -2v4M418 389.7h4m-2 -2v4M418.5 389.5h4m-2 -2v4M419.2 388.9h4m-2 -2v4M419.8 391h4m-2 -2v4M419.9 391.3h4m-2 -2v4M420.7 391.3h4m-2 -2v4M420.9 390.5h4m-2 -2v4M421.4 390.4h4m-2 -2v4M422.2 391.1h4m-2 -2v4M422.4 388.9h4m-2 -2v4M422.5 388.6h4m-2 -2v4M423 389.7h4m-2 -2v4M423.9 390h4m-2 -2v4M424.5 388.6h4m-2 -2v4M425 389.8h4m-2 -2v4M425.9 389h4m-2 -2v4M426.1 391.5h4m-2 -2v4M426.3 385.7h4m-2 -2v4M426.8 389h4m-2 -2v4M427.8 387.2h4m-2 -2v4M428.7 388.3h4m-2 -2v4M429.5 385.4h4m-2 -2v4M430 391.9h4m-2 -2v4M430.4 390h4m-2 -2v4M430.7 392.7h4m-2 -2v4M430.9 386.5h4m-2 -2v4M431.5 386.1h4m-2 -2v4M431.7 390.1h4m-2 -2v4M431.9 388.3h4m-2 -2v4M432.5 386.2h4m-2 -2v4M432.6 391.4h4m-2 -2v4M433.3 389.1h4m-2 -2v4M433.3 386.5h4m-2 -2v4M433.6 385h4m-2 -2v4M435.6 386.2h4m-2 -2v4M435.8 388.7h4m-2 -2v4M435.8 388.6h4m-2 -2v4M436 388.1h4m-2 -2v4M436.2 387.7h4m-2 -2v4M436.4 389.3h4m-2 -2v4M436.6 386.3h4m-2 -2v4M436.9 391.5h4m-2 -2v4M437.3 385.4h4m-2 -2v4M437.8 392.1h4m-2 -2v4M438 387.7h4m-2 -2v4M438 391.3h4m-2 -2v4M440 390.3h4m-2 -2v4M440.7 391.5h4m-2 -2v4M441.8 388.7h4m-2 -2v4M443 387.7h4m-2 -2v4M444.4 385.8h4m-2 -2v4M444.6 384.5h4m-2 -2v4M446.4 389.3h4m-2 -2v4M446.8 385.7h4m-2 -2v4" stroke="#000" stroke-width="1.2" fill="none"/>
</g>
<g fill="none" stroke-width="6.1" stroke-linecap="round" stroke-linejoin="round">
<polyline points="340.5,291 337.7,291.7 334.9,292.4 332,293.1 329.1,293.7" stroke="#fc03ff"/>
<polyline points="329.1,293.7 326.2,294.1 323.3,294.4 320.3,294.5 317.4,294.3" stroke="#f50aff"/>
<polyline points="317.4,294.3 314.6,293.9 311.7,293.3 308.9,292.5 306.1,291.5" stroke="#ef10ff"/>
<polyline points="306.1,291.5 303.3,290.5 300.6,289.4 298,288.1 295.4,286.7" stroke="#e916ff"/>
<polyline points="295.4,286.7 293,285.2 290.6,283.5 288.3,281.7 286,279.8" stroke="#e21dff"/>
<polyline points="286,279.8 283.8,277.8 281.7,275.8 279.7,273.6 277.7,271.5" stroke="#dc23ff"/>
<polyline points="277.7,271.5 275.8,269.3 274,267 272.2,264.7 270.5,262.3" stroke="#d629ff"/>
<polyline points="270.5,262.3 268.8,259.9 267.2,257.5 265.7,255 264.2,252.4" stroke="#cf30ff"/>
<polyline points="264.2,252.4 262.9,249.9 261.5,247.2 260.3,244.6 259.1,241.9" stroke="#c936ff"/>
<polyline points="259.1,241.9 257.9,239.2 256.8,236.5 255.7,233.8 254.7,231.1" stroke="#c23dff"/>
<polyline points="254.7,231.1 253.8,228.3 252.9,225.5 252,222.7 251.3,219.9" stroke="#bc43ff"/>
<polyline points="251.3,219.9 250.6,217.1 249.9,214.2 249.3,211.4 248.7,208.5" stroke="#b649ff"/>
<polyline points="248.7,208.5 248.1,205.6 247.6,202.8 247.1,199.9 246.8,197" stroke="#af50ff"/>
<polyline points="246.8,197 246.5,194.1 246.3,191.2 246.2,188.2 246.2,185.3" stroke="#a956ff"/>
<polyline points="246.2,185.3 246.2,182.4 246.3,179.5 246.4,176.5 246.6,173.6" stroke="#a35cff"/>
<polyline points="246.6,173.6 247,170.7 247.4,167.8 248,165 248.7,162.1" stroke="#9c63ff"/>
<polyline points="248.7,162.1 249.5,159.3 250.5,156.5 251.6,153.8 252.8,151.2" stroke="#9669ff"/>
<polyline points="252.8,151.2 254.3,148.7 256.1,146.3 258,144.1 260.3,142.2" stroke="#8f70ff"/>
<polyline points="260.3,142.2 262.7,140.6 265.4,139.3 268.2,138.5 271.1,138" stroke="#8976ff"/>
<polyline points="271.1,138 274,137.9 276.9,138 279.8,138.4 282.7,139.1" stroke="#837cff"/>
<polyline points="282.7,139.1 285.4,140.2 288,141.5 290.5,143 292.9,144.7" stroke="#7c83ff"/>
<polyline points="292.9,144.7 295.2,146.5 297.5,148.3 299.7,150.2 301.9,152.2" stroke="#7689ff"/>
<polyline points="301.9,152.2 303.9,154.3 305.9,156.4 307.8,158.6 309.7,160.8" stroke="#708fff"/>
<polyline points="309.7,160.8 311.6,163.1 313.5,165.3 315.4,167.5 317.3,169.7" stroke="#6996ff"/>
<polyline points="317.3,169.7 319.2,172 321,174.3 322.8,176.6 324.4,179" stroke="#639cff"/>
<polyline points="324.4,179 326.1,181.4 327.6,183.9 329.2,186.4 330.7,188.9" stroke="#5ca3ff"/>
<polyline points="330.7,188.9 332.3,191.4 333.8,193.9 335.3,196.4 336.8,198.9" stroke="#56a9ff"/>
<polyline points="336.8,198.9 338.3,201.4 339.7,203.9 341.2,206.5 342.6,209" stroke="#50afff"/>
<polyline points="342.6,209 344,211.6 345.4,214.1 346.8,216.7 348.3,219.2" stroke="#49b6ff"/>
<polyline points="348.3,219.2 349.7,221.8 351.1,224.3 352.5,226.9 353.9,229.5" stroke="#43bcff"/>
<polyline points="353.9,229.5 355.3,232 356.7,234.6 358,237.2 359.4,239.8" stroke="#3dc2ff"/>
<polyline points="359.4,239.8 360.7,242.4 362,245 363.3,247.6 364.7,250.2" stroke="#36c9ff"/>
<polyline points="364.7,250.2 366,252.9 367.3,255.5 368.5,258.1 369.8,260.8" stroke="#30cfff"/>
<polyline points="369.8,260.8 370.9,263.4 372,266.1 373.1,268.9 374.1,271.6" stroke="#29d6ff"/>
<polyline points="374.1,271.6 375,274.4 376,277.1 376.9,279.9 377.8,282.7" stroke="#23dcff"/>
<polyline points="377.8,282.7 378.7,285.5 379.5,288.3 380.4,291.1 381.3,293.9" stroke="#1de2ff"/>
<polyline points="381.3,293.9 382.2,296.6 383.2,299.4 384.1,302.2 385.1,304.9" stroke="#16e9ff"/>
<polyline points="385.1,304.9 386,307.7 387.1,310.4 388.1,313.2 389.2,315.9" stroke="#10efff"/>
<polyline points="389.2,315.9 390.3,318.6 391.4,321.3 392.5,324 393.6,326.7" stroke="#0af5ff"/>
<polyline points="393.6,326.7 394.8,329.4 396,332 397.1,334.7 398.3,337.4" stroke="#03fcff"/>
</g>
<polygon points="324.4,293.2 326.7,294.2 322.7,282.9 319.8,294.5 322.1,293.3" fill="#98fb98"/>
<polygon points="304.8,289.9 306.5,291.8 307.7,279.8 300.1,289.2 302.7,289" fill="#98fb98"/>
<polygon points="287.6,279.7 288.6,282 293.5,271.1 283.4,277.5 285.9,278.2" fill="#98fb98"/>
<polygon points="273.8,264.9 274.3,267.4 281.4,257.8 270.2,261.9 272.5,263.1" fill="#98fb98"/>
<polygon points="263.1,247.8 263.1,250.3 271.9,242.2 260,244.1 262.1,245.7" fill="#98fb98"/>
<polygon points="255.2,229.1 254.8,231.6 264.7,224.7 252.7,225.1 254.5,226.9" fill="#98fb98"/>
<polygon points="250.6,212.3 250,214.7 260.5,208.9 248.5,208 250.2,210" fill="#98fb98"/>
<polygon points="248,198 247.1,200.4 258.2,195.8 246.4,193.6 247.8,195.7" fill="#98fb98"/>
<polygon points="247.3,183.5 246.1,185.8 257.7,182.6 246.2,178.9 247.4,181.2" fill="#98fb98"/>
<polygon points="248.4,169.2 246.8,171.2 258.7,169.9 248,164.4 248.8,166.9" fill="#98fb98"/>
<polygon points="252.1,155.3 250.1,156.9 262,158.7 253,150.7 253.1,153.3" fill="#98fb98"/>
<polygon points="260,143.8 257.5,144.2 267.1,151.5 263.1,140.2 261.9,142.5" fill="#98fb98"/>
<polygon points="275.7,139 273.5,137.6 275.8,149.4 280.4,138.3 278,139.2" fill="#98fb98"/>
<polygon points="295.9,148.4 294.9,146.1 290.1,157.1 300.2,150.5 297.7,149.9" fill="#98fb98"/>
<polygon points="315.7,169.6 315.1,167.1 308.4,177 319.5,172.4 317.2,171.4" fill="#98fb98"/>
<polygon points="335.2,198.5 335,195.9 326.9,204.7 338.5,201.8 336.4,200.4" fill="#98fb98"/>
<polygon points="353.8,231.6 353.7,229 345.2,237.4 356.9,235.1 354.8,233.6" fill="#98fb98"/>
<polygon points="371.6,268.2 371.8,265.6 362.3,272.9 374.3,272.1 372.4,270.3" fill="#98fb98"/>
<polygon points="386.5,305.6 386.2,308.2 395.9,301.1 383.9,301.7 385.8,303.5" fill="#98fb98"/>
<polygon points="334.6,291.1 336,273.1 338.9,274.9 335.4,259.1 329.7,274.2 332.9,272.9 331.6,290.9" fill="#f00"/>
<polygon points="289.6,283.7 300.8,269.5 302.3,272.6 308.2,257.5 294.9,266.9 298.3,267.6 287.2,281.7" fill="#f00"/>
<polygon points="261.3,251.1 279.2,248.3 278.1,251.6 292.7,244.6 276.7,242.4 278.7,245.3 260.9,248.1" fill="#f00"/>
<polygon points="247.9,207.1 263.2,216.7 260.2,218.5 275.8,222.7 265.2,210.6 264.8,214 249.5,204.5" fill="#f00"/>
<polygon points="249.1,168.6 260,183 256.6,183.6 269.7,193.1 264,178 262.5,181.1 251.5,166.8" fill="#f00"/>
<polygon points="259.7,144.4 267.9,160.5 264.4,160.5 275.6,172.2 272.7,156.3 270.6,159.1 262.5,143" fill="#f00"/>
<polygon points="278.6,140.9 284.9,157.9 281.5,157.5 291.2,170.4 290.2,154.3 287.8,156.8 281.6,139.9" fill="#f00"/>
<polygon points="302.6,159.8 307.3,177.2 303.9,176.5 312.4,190.3 312.9,174.1 310.3,176.4 305.6,159" fill="#f00"/>
<polygon points="330.7,197.6 332.3,215.6 329.1,214.4 335.2,229.4 338.4,213.5 335.4,215.3 333.7,197.4" fill="#f00"/>
<polygon points="358.4,244 341.1,238.7 343.5,236.2 327.3,236.2 340.8,245.1 340.2,241.7 357.4,247" fill="#f00"/>
<polygon points="382.5,296.9 374.6,280.7 378.1,280.7 367.1,268.8 369.7,284.8 371.8,282 379.7,298.3" fill="#f00"/>
<polygon points="399.2,335.3 392.5,318.6 396,318.9 385.9,306.2 387.3,322.3 389.6,319.7 396.4,336.5" fill="#f00"/>
<g clip-path="url(#r1c1)" fill="none" stroke="#7f7f7f" stroke-width="2.5" stroke-dasharray="8.6 3.8">
<ellipse cx="891.7" cy="241.8" rx="17.5" ry="17.5"/>
<ellipse cx="891.7" cy="241.8" rx="82.7" ry="82.7"/>
<ellipse cx="891.7" cy="241.8" rx="134" ry="134"/>
<ellipse cx="891.7" cy="241.8" rx="193.9" ry="193.9"/>
<ellipse cx="891.7" cy="241.8" rx="268.1" ry="268.1"/>
<ellipse cx="891.7" cy="241.8" rx="363.9" ry="363.9"/>
<ellipse cx="891.7" cy="241.8" rx="488.8" ry="488.8"/>
<ellipse cx="891.7" cy="241.8" rx="650.3" ry="650.3"/>
</g>
<g clip-path="url(#r1c1)">
<polygon points="724.2,78.2 725.6,99.7 727.8,113.4 731.7,127.8 737.4,142.2 744.6,156.6 754.4,171 764.5,183.9 775.5,195.4 784.9,201.9 786.3,190.4 780.6,178.9 771.9,164.5 764.7,150.1 757.6,138.6 753.2,127.1 754.7,118.5 760.4,112.7 771.9,112.7 800.7,121.3 829.5,132.8 843.9,141.5 868.9,158.3 889.6,184 908.9,211.1 910,212 928.6,238.1 941.4,258 942.5,258.8 951.9,276.7 952.9,277.3 954,276.8 954.2,275.5 944.8,257.6 944.6,256 931.7,235.9 897.1,186.6 900,189.7 900,183.2 878.4,158.7 869.8,150.1 861.2,140 835.3,114.1 823.7,104.1 789.2,78.2 777.7,71 757.6,56.6 747.5,50.8 737.4,48.7 728.8,49.8 724.2,54.4 724.2,78.2" fill="#000"/>
<path d="M723 47.7h4m-2 -2v4M724.1 47.2h4m-2 -2v4M725.4 45.4h4m-2 -2v4M727.3 47.5h4m-2 -2v4M727.5 47.1h4m-2 -2v4M728 47h4m-2 -2v4M730.7 47.1h4m-2 -2v4M731.3 45.9h4m-2 -2v4M731.9 42.6h4m-2 -2v4M732.1 44.1h4m-2 -2v4M732.5 47.5h4m-2 -2v4M733.4 46.5h4m-2 -2v4M733.6 44.8h4m-2 -2v4M733.7 42.7h4m-2 -2v4M739.2 46.6h4m-2 -2v4M739.7 46.5h4m-2 -2v4M741.7 47.7h4m-2 -2v4M742.7 47.4h4m-2 -2v4M742.7 47.4h4m-2 -2v4M744.7 45.3h4m-2 -2v4M746.9 45.5h4m-2 -2v4M752.1 45.9h4m-2 -2v4M718.9 53.3h4m-2 -2v4M719.1 57.1h4m-2 -2v4M719.8 55.2h4m-2 -2v4M719.9 52.2h4m-2 -2v4M720.5 59.2h4m-2 -2v4M721.6 53.4h4m-2 -2v4M721.8 51.4h4m-2 -2v4M721.9 48.8h4m-2 -2v4M722.1 60h4m-2 -2v4M722.3 51.6h4m-2 -2v4M723.8 52.3h4m-2 -2v4M726.4 49.2h4m-2 -2v4M727.1 49.8h4m-2 -2v4M728.6 49h4m-2 -2v4M731.2 48.9h4m-2 -2v4M731.3 48.8h4m-2 -2v4M735.4 48.6h4m-2 -2v4M735.7 48.4h4m-2 -2v4M737.6 49h4m-2 -2v4M737.9 48.3h4m-2 -2v4M741.6 49.6h4m-2 -2v4M742.3 49.5h4m-2 -2v4M744.1 48.2h4m-2 -2v4M744.4 49.6h4m-2 -2v4M748.1 51h4m-2 -2v4M748.2 52.1h4m-2 -2v4M750.8 50.3h4m-2 -2v4M750.9 48.6h4m-2 -2v4M751.3 51.2h4m-2 -2v4M752.3 53.9h4m-2 -2v4M752.8 53.6h4m-2 -2v4M754.2 55.2h4m-2 -2v4M755.3 54.9h4m-2 -2v4M757.1 52.6h4m-2 -2v4M760.6 56.5h4m-2 -2v4M761.2 56.2h4m-2 -2v4M761.2 59.5h4m-2 -2v4M768.2 59.9h4m-2 -2v4M718.6 61h4m-2 -2v4M719.6 60.7h4m-2 -2v4M719.7 63h4m-2 -2v4M721 66.2h4m-2 -2v4M721.5 70.7h4m-2 -2v4M721.7 61.1h4m-2 -2v4M764.5 62.3h4m-2 -2v4M764.6 60h4m-2 -2v4M765.3 62.6h4m-2 -2v4M766.3 63.7h4m-2 -2v4M767 61.6h4m-2 -2v4M767.3 64.7h4m-2 -2v4M770.8 65.7h4m-2 -2v4M771.4 66.5h4m-2 -2v4M772.2 66.7h4m-2 -2v4M773.4 66.9h4m-2 -2v4M774.5 67.9h4m-2 -2v4M774.8 66.4h4m-2 -2v4M775.4 69h4m-2 -2v4M775.9 69.2h4m-2 -2v4M776 70.2h4m-2 -2v4M776.1 68h4m-2 -2v4M776.3 68.6h4m-2 -2v4M776.7 69.1h4m-2 -2v4M777.7 70.3h4m-2 -2v4M780.5 71.9h4m-2 -2v4M781 71h4m-2 -2v4M783.6 71.3h4m-2 -2v4M720.1 73.5h4m-2 -2v4M720.8 75.8h4m-2 -2v4M721.3 78h4m-2 -2v4M721.5 79.7h4m-2 -2v4M721.8 83.9h4m-2 -2v4M722.1 83.5h4m-2 -2v4M778.8 72.1h4m-2 -2v4M783.5 74h4m-2 -2v4M785 76.1h4m-2 -2v4M785 74.4h4m-2 -2v4M785.2 74.6h4m-2 -2v4M786.7 77.7h4m-2 -2v4M787.3 77.5h4m-2 -2v4M789.2 77.5h4m-2 -2v4M790.2 79.9h4m-2 -2v4M790.6 79.6h4m-2 -2v4M790.8 79.3h4m-2 -2v4M791 80.5h4m-2 -2v4M791.2 78.1h4m-2 -2v4M792.6 81.3h4m-2 -2v4M793.2 80.9h4m-2 -2v4M793.5 82.7h4m-2 -2v4M793.6 81.8h4m-2 -2v4M793.8 83h4m-2 -2v4M794.5 82.9h4m-2 -2v4M794.8 80.8h4m-2 -2v4M796.2 83.4h4m-2 -2v4M798.4 83.9h4m-2 -2v4M804.3 81.5h4m-2 -2v4M804.9 83.9h4m-2 -2v4M721 89.5h4m-2 -2v4M721.6 89.3h4m-2 -2v4M722.2 85.4h4m-2 -2v4M722.3 85.8h4m-2 -2v4M722.5 84.4h4m-2 -2v4M722.6 95.3h4m-2 -2v4M722.7 87.2h4m-2 -2v4M722.8 90.5h4m-2 -2v4M722.9 92h4m-2 -2v4M723 93.2h4m-2 -2v4M800.6 86.3h4m-2 -2v4M800.9 87h4m-2 -2v4M801.5 85h4m-2 -2v4M801.7 86.9h4m-2 -2v4M803.6 84.4h4m-2 -2v4M803.7 86.9h4m-2 -2v4M804.5 89.6h4m-2 -2v4M804.8 86h4m-2 -2v4M806.2 91.8h4m-2 -2v4M807 91.9h4m-2 -2v4M807.6 93.3h4m-2 -2v4M807.9 93.2h4m-2 -2v4M808.3 91.1h4m-2 -2v4M808.3 93.1h4m-2 -2v4M808.6 93.1h4m-2 -2v4M808.6 93.7h4m-2 -2v4M809.1 91.5h4m-2 -2v4M810.4 91.6h4m-2 -2v4M810.9 94.6h4m-2 -2v4M811.1 93.7h4m-2 -2v4M811.4 94h4m-2 -2v4M812.4 95.3h4m-2 -2v4M815.9 94.4h4m-2 -2v4M819.5 95.2h4m-2 -2v4M819.9 95.9h4m-2 -2v4M722.3 98.5h4m-2 -2v4M722.7 99.8h4m-2 -2v4M723.3 102.1h4m-2 -2v4M723.3 106.8h4m-2 -2v4M723.7 104.6h4m-2 -2v4M813 96.9h4m-2 -2v4M814.4 98.4h4m-2 -2v4M816.1 99.7h4m-2 -2v4M816.2 96.1h4m-2 -2v4M817.7 100.3h4m-2 -2v4M817.8 99.8h4m-2 -2v4M818.1 99.6h4m-2 -2v4M818.3 99.3h4m-2 -2v4M819.5 102h4m-2 -2v4M820.5 100.2h4m-2 -2v4M822.3 99.8h4m-2 -2v4M822.4 104h4m-2 -2v4M823.8 103.9h4m-2 -2v4M823.9 103.4h4m-2 -2v4M825.5 102.1h4m-2 -2v4M825.8 103h4m-2 -2v4M825.9 100.5h4m-2 -2v4M828.7 106.8h4m-2 -2v4M830.4 107.5h4m-2 -2v4M723 110.1h4m-2 -2v4M724.3 109.1h4m-2 -2v4M724.7 115.6h4m-2 -2v4M725.1 111.2h4m-2 -2v4M725.4 117.4h4m-2 -2v4M726.3 119.7h4m-2 -2v4M753.4 118h4m-2 -2v4M753.9 117.3h4m-2 -2v4M755.4 118.1h4m-2 -2v4M757.5 117.5h4m-2 -2v4M758.8 113h4m-2 -2v4M759.9 112.9h4m-2 -2v4M760.2 114.3h4m-2 -2v4M763.6 115.7h4m-2 -2v4M764.1 114.3h4m-2 -2v4M764.3 116.2h4m-2 -2v4M765.5 114.8h4m-2 -2v4M765.6 115.7h4m-2 -2v4M765.8 112.8h4m-2 -2v4M765.9 113.9h4m-2 -2v4M766.6 114.6h4m-2 -2v4M767.4 114.2h4m-2 -2v4M771.1 113.9h4m-2 -2v4M772.3 114.4h4m-2 -2v4M773.5 117h4m-2 -2v4M774.5 114.3h4m-2 -2v4M775.2 115.4h4m-2 -2v4M775.2 114.4h4m-2 -2v4M776.7 115.3h4m-2 -2v4M779.6 115.6h4m-2 -2v4M779.6 116.9h4m-2 -2v4M780.2 116h4m-2 -2v4M780.4 116h4m-2 -2v4M781.6 116.5h4m-2 -2v4M785.8 119h4m-2 -2v4M787.6 118.2h4m-2 -2v4M789.6 119.4h4m-2 -2v4M828.8 108.1h4m-2 -2v4M830.4 108.9h4m-2 -2v4M832.3 111.3h4m-2 -2v4M832.7 112.9h4m-2 -2v4M833.6 110h4m-2 -2v4M834.1 111.1h4m-2 -2v4M835.8 114.2h4m-2 -2v4M836.3 114.8h4m-2 -2v4M836.9 115.9h4m-2 -2v4M837 111.6h4m-2 -2v4M837.3 116.7h4m-2 -2v4M837.8 111h4m-2 -2v4M726.5 123.4h4m-2 -2v4M727.3 123.5h4m-2 -2v4M727.5 121.8h4m-2 -2v4M728.9 125.1h4m-2 -2v4M729.1 128.2h4m-2 -2v4M730.9 131.5h4m-2 -2v4M751.7 126.3h4m-2 -2v4M752.8 122h4m-2 -2v4M753.1 131.2h4m-2 -2v4M753.3 130.7h4m-2 -2v4M753.4 131.9h4m-2 -2v4M753.4 124.6h4m-2 -2v4M753.9 123.1h4m-2 -2v4M755.7 122h4m-2 -2v4M756.2 122.3h4m-2 -2v4M756.2 131.7h4m-2 -2v4M777.9 120.1h4m-2 -2v4M782.9 121.2h4m-2 -2v4M785.3 120.8h4m-2 -2v4M789.3 120.9h4m-2 -2v4M790.7 120.2h4m-2 -2v4M790.8 121.4h4m-2 -2v4M791.5 120.6h4m-2 -2v4M795.3 123.2h4m-2 -2v4M799.3 123.1h4m-2 -2v4M800.2 123.5h4m-2 -2v4M801.7 123.6h4m-2 -2v4M803 123.8h4m-2 -2v4M803.4 124.7h4m-2 -2v4M805.1 126.3h4m-2 -2v4M807.2 125.6h4m-2 -2v4M809.3 127.8h4m-2 -2v4M809.6 126.6h4m-2 -2v4M811.8 130.4h4m-2 -2v4M812.9 127.9h4m-2 -2v4M813.4 127.5h4m-2 -2v4M814.9 129.6h4m-2 -2v4M816.6 130h4m-2 -2v4M817.5 129.8h4m-2 -2v4M822.9 131.8h4m-2 -2v4M841.5 120.7h4m-2 -2v4M841.8 120.6h4m-2 -2v4M842.6 122.6h4m-2 -2v4M843.2 122.5h4m-2 -2v4M843.7 120.4h4m-2 -2v4M843.9 120.1h4m-2 -2v4M843.9 124.8h4m-2 -2v4M844.3 124h4m-2 -2v4M844.8 125.3h4m-2 -2v4M845.1 123.3h4m-2 -2v4M845.8 125.6h4m-2 -2v4M845.8 126.7h4m-2 -2v4M846.5 126.4h4m-2 -2v4M850.6 127.3h4m-2 -2v4M851.1 130.6h4m-2 -2v4M851.4 126.6h4m-2 -2v4M851.8 130h4m-2 -2v4M854.2 131.5h4m-2 -2v4M854.5 130.2h4m-2 -2v4M730.3 133.7h4m-2 -2v4M730.9 135.3h4m-2 -2v4M732.6 135.4h4m-2 -2v4M733 137.4h4m-2 -2v4M733.3 136.9h4m-2 -2v4M733.3 138.7h4m-2 -2v4M754.8 135.3h4m-2 -2v4M755.1 136.3h4m-2 -2v4M755.3 136.3h4m-2 -2v4M756.3 138h4m-2 -2v4M756.9 138.7h4m-2 -2v4M757.6 139h4m-2 -2v4M758.4 141.5h4m-2 -2v4M758.6 141.5h4m-2 -2v4M759.2 143.7h4m-2 -2v4M759.7 143.7h4m-2 -2v4M761.9 143.9h4m-2 -2v4M764.8 141.6h4m-2 -2v4M818.4 133.7h4m-2 -2v4M818.6 133.4h4m-2 -2v4M819.3 134.2h4m-2 -2v4M824.9 137.6h4m-2 -2v4M825.9 133.3h4m-2 -2v4M829.7 138.1h4m-2 -2v4M830.6 135.2h4m-2 -2v4M830.7 135.1h4m-2 -2v4M831.1 135.2h4m-2 -2v4M831.7 138.2h4m-2 -2v4M834.3 138.1h4m-2 -2v4M834.3 137h4m-2 -2v4M835.3 138.9h4m-2 -2v4M835.4 138.2h4m-2 -2v4M837.3 141h4m-2 -2v4M838.1 141.2h4m-2 -2v4M838.5 141.9h4m-2 -2v4M838.7 139.8h4m-2 -2v4M840.1 142h4m-2 -2v4M840.1 143.1h4m-2 -2v4M840.6 141.8h4m-2 -2v4M841.1 143.4h4m-2 -2v4M844.3 143.5h4m-2 -2v4M845.1 143.8h4m-2 -2v4M852.3 132.2h4m-2 -2v4M854.8 133.6h4m-2 -2v4M858 132.8h4m-2 -2v4M860.8 140.5h4m-2 -2v4M861.3 142.1h4m-2 -2v4M862 141.4h4m-2 -2v4M863.1 142.8h4m-2 -2v4M736.1 148.7h4m-2 -2v4M738.1 147.6h4m-2 -2v4M738.5 151.8h4m-2 -2v4M740.5 154.1h4m-2 -2v4M760.8 146.7h4m-2 -2v4M761.6 145.8h4m-2 -2v4M762.1 145.3h4m-2 -2v4M763.5 148h4m-2 -2v4M763.6 147.5h4m-2 -2v4M764.5 148.3h4m-2 -2v4M766.5 155.5h4m-2 -2v4M766.7 153.4h4m-2 -2v4M768.2 152.7h4m-2 -2v4M841.6 145.2h4m-2 -2v4M846.5 147.6h4m-2 -2v4M846.8 148.9h4m-2 -2v4M846.9 145.1h4m-2 -2v4M847.1 148h4m-2 -2v4M847.3 146.9h4m-2 -2v4M848.8 152.2h4m-2 -2v4M849.4 147.8h4m-2 -2v4M850.2 148.5h4m-2 -2v4M850.5 151.4h4m-2 -2v4M854.7 152.1h4m-2 -2v4M855.2 154.9h4m-2 -2v4M855.6 152.3h4m-2 -2v4M855.7 153.4h4m-2 -2v4M857 153.5h4m-2 -2v4M861.4 155h4m-2 -2v4M866 147.2h4m-2 -2v4M866.8 147.9h4m-2 -2v4M868 150h4m-2 -2v4M868.8 150.6h4m-2 -2v4M869.7 151.4h4m-2 -2v4M743.1 158.7h4m-2 -2v4M743.2 161h4m-2 -2v4M745.3 162.1h4m-2 -2v4M745.7 163.5h4m-2 -2v4M746 163.7h4m-2 -2v4M746.3 162.3h4m-2 -2v4M746.8 164.8h4m-2 -2v4M746.9 165.4h4m-2 -2v4M767.3 158.7h4m-2 -2v4M767.4 157.7h4m-2 -2v4M767.8 156.5h4m-2 -2v4M768.5 160.7h4m-2 -2v4M769.1 160.8h4m-2 -2v4M769.1 158h4m-2 -2v4M769.8 160.7h4m-2 -2v4M770.7 159.4h4m-2 -2v4M770.9 165.1h4m-2 -2v4M771.2 156.7h4m-2 -2v4M771.8 165.9h4m-2 -2v4M772.4 162.6h4m-2 -2v4M772.5 161.9h4m-2 -2v4M773 166.4h4m-2 -2v4M773.7 167.1h4m-2 -2v4M774.3 165.4h4m-2 -2v4M774.7 167.9h4m-2 -2v4M774.8 167.5h4m-2 -2v4M775.8 163.7h4m-2 -2v4M864.9 157.4h4m-2 -2v4M865.5 157.9h4m-2 -2v4M867.7 159.6h4m-2 -2v4M872.6 167h4m-2 -2v4M872.7 166.9h4m-2 -2v4M872.8 166.4h4m-2 -2v4M873.1 167.3h4m-2 -2v4M873.6 167.2h4m-2 -2v4M880.6 163.4h4m-2 -2v4M881.3 164.4h4m-2 -2v4M882.9 165.5h4m-2 -2v4M883 166h4m-2 -2v4M886.1 167.7h4m-2 -2v4M746 168.4h4m-2 -2v4M751.9 170.8h4m-2 -2v4M752.7 173.3h4m-2 -2v4M752.8 173.8h4m-2 -2v4M754.7 177.5h4m-2 -2v4M756.2 178.4h4m-2 -2v4M773.2 169.5h4m-2 -2v4M775.1 171h4m-2 -2v4M775.2 172.6h4m-2 -2v4M775.6 171.1h4m-2 -2v4M776.2 169.4h4m-2 -2v4M776.9 174.2h4m-2 -2v4M777.1 174.9h4m-2 -2v4M777.1 173.7h4m-2 -2v4M777.4 170h4m-2 -2v4M777.4 173.5h4m-2 -2v4M777.5 175.2h4m-2 -2v4M777.6 174.6h4m-2 -2v4M779.6 177.2h4m-2 -2v4M783.2 176.8h4m-2 -2v4M873.9 168.9h4m-2 -2v4M874.4 168.1h4m-2 -2v4M874.6 169.7h4m-2 -2v4M877.6 172.6h4m-2 -2v4M879.1 175.2h4m-2 -2v4M880.8 176.6h4m-2 -2v4M882.4 178.7h4m-2 -2v4M886.7 168.1h4m-2 -2v4M888.5 170.6h4m-2 -2v4M888.6 171.7h4m-2 -2v4M892.7 177.1h4m-2 -2v4M895 179.6h4m-2 -2v4M756.7 180.4h4m-2 -2v4M757.9 181.7h4m-2 -2v4M760.5 184.4h4m-2 -2v4M761.5 182.9h4m-2 -2v4M761.6 184.1h4m-2 -2v4M762.5 184.8h4m-2 -2v4M763.4 186.5h4m-2 -2v4M763.8 185.7h4m-2 -2v4M763.8 186.7h4m-2 -2v4M765.6 189.1h4m-2 -2v4M766.1 187.9h4m-2 -2v4M766.4 190.2h4m-2 -2v4M767.9 190.3h4m-2 -2v4M768.6 191.5h4m-2 -2v4M780 181.2h4m-2 -2v4M780.9 181.9h4m-2 -2v4M781.5 180.1h4m-2 -2v4M782.4 185.9h4m-2 -2v4M783.2 184.1h4m-2 -2v4M783.8 188.1h4m-2 -2v4M784.3 189.9h4m-2 -2v4M784.3 189.1h4m-2 -2v4M784.8 186.2h4m-2 -2v4M784.9 186.9h4m-2 -2v4M785.5 182h4m-2 -2v4M786.4 191.9h4m-2 -2v4M786.4 191h4m-2 -2v4M787.3 187.7h4m-2 -2v4M787.5 187.3h4m-2 -2v4M788.6 189.8h4m-2 -2v4M788.9 189.8h4m-2 -2v4M884.9 182.4h4m-2 -2v4M885.9 182.8h4m-2 -2v4M886.5 182.7h4m-2 -2v4M887.4 184.9h4m-2 -2v4M890.7 188.6h4m-2 -2v4M899.4 191.6h4m-2 -2v4M900.3 191.5h4m-2 -2v4M770.4 194.1h4m-2 -2v4M771.1 193h4m-2 -2v4M771.7 195.5h4m-2 -2v4M774.6 198.1h4m-2 -2v4M776.8 197.9h4m-2 -2v4M777.5 199.4h4m-2 -2v4M780.7 202.1h4m-2 -2v4M781.7 203h4m-2 -2v4M783.7 195.7h4m-2 -2v4M783.9 194.9h4m-2 -2v4M784.7 192.2h4m-2 -2v4M785 202.4h4m-2 -2v4M785.9 197h4m-2 -2v4M787.8 201.2h4m-2 -2v4M800.9 200.7h4m-2 -2v4M892.6 192.1h4m-2 -2v4M892.9 195.7h4m-2 -2v4M893.3 192.1h4m-2 -2v4M894.5 195.3h4m-2 -2v4M896.5 199.5h4m-2 -2v4M899.1 202.3h4m-2 -2v4M900.6 193.7h4m-2 -2v4M901.4 192.7h4m-2 -2v4M903.7 196.2h4m-2 -2v4M905.5 200.5h4m-2 -2v4M908.1 203.6h4m-2 -2v4M909.7 203h4m-2 -2v4M781.9 214.9h4m-2 -2v4M792.3 207.9h4m-2 -2v4M792.3 215.4h4m-2 -2v4M795.9 210.2h4m-2 -2v4M796.5 206.4h4m-2 -2v4M796.6 214.3h4m-2 -2v4M797 213.2h4m-2 -2v4M799.4 211.8h4m-2 -2v4M799.9 215h4m-2 -2v4M800.6 214.2h4m-2 -2v4M802 207.2h4m-2 -2v4M802.9 211h4m-2 -2v4M803.9 214h4m-2 -2v4M808.7 213.2h4m-2 -2v4M901 204.6h4m-2 -2v4M903.1 206.1h4m-2 -2v4M904.5 208.9h4m-2 -2v4M905.9 211h4m-2 -2v4M906.6 211.2h4m-2 -2v4M906.8 211.5h4m-2 -2v4M909.2 206.3h4m-2 -2v4M909.4 206.5h4m-2 -2v4M910.3 215.5h4m-2 -2v4M911.4 205.7h4m-2 -2v4M911.9 210.8h4m-2 -2v4M912.1 210.8h4m-2 -2v4M912.1 208.5h4m-2 -2v4M914.6 213.5h4m-2 -2v4M781.6 217.6h4m-2 -2v4M786 216.1h4m-2 -2v4M791.7 219.7h4m-2 -2v4M791.7 219.2h4m-2 -2v4M792.5 217.7h4m-2 -2v4M794 217.9h4m-2 -2v4M795.4 221.8h4m-2 -2v4M796 216.2h4m-2 -2v4M796.1 221.4h4m-2 -2v4M796.5 220.3h4m-2 -2v4M798.1 218.6h4m-2 -2v4M799 217.7h4m-2 -2v4M799.5 217.2h4m-2 -2v4M800.3 217.8h4m-2 -2v4M800.4 221.1h4m-2 -2v4M803.6 216.6h4m-2 -2v4M806.7 218h4m-2 -2v4M807 221.4h4m-2 -2v4M813.1 219.1h4m-2 -2v4M911.2 218.6h4m-2 -2v4M911.6 216.9h4m-2 -2v4M912.4 218.4h4m-2 -2v4M915.8 224.2h4m-2 -2v4M916.1 224.2h4m-2 -2v4M916.5 227.4h4m-2 -2v4M916.5 225.2h4m-2 -2v4M917.1 224.9h4m-2 -2v4M917.6 225.7h4m-2 -2v4M923.2 225.3h4m-2 -2v4M925.2 227.8h4m-2 -2v4M925.9 225.1h4m-2 -2v4M919.9 231h4m-2 -2v4M920.4 231.1h4m-2 -2v4M921.8 233.4h4m-2 -2v4M922 231.9h4m-2 -2v4M922.9 234.1h4m-2 -2v4M923.2 236.1h4m-2 -2v4M924.5 235.8h4m-2 -2v4M925 229h4m-2 -2v4M927.6 239.9h4m-2 -2v4M929.2 233.4h4m-2 -2v4M930.8 236.9h4m-2 -2v4M931.6 238h4m-2 -2v4M931.8 238.6h4m-2 -2v4M932 236.6h4m-2 -2v4M932 237.3h4m-2 -2v4M932.4 239.9h4m-2 -2v4M932.4 239.2h4m-2 -2v4M825.3 250.6h4m-2 -2v4M929.1 243.7h4m-2 -2v4M929.2 243.4h4m-2 -2v4M929.6 243h4m-2 -2v4M930.4 244.9h4m-2 -2v4M930.5 245.8h4m-2 -2v4M932.4 249.9h4m-2 -2v4M933.7 241.7h4m-2 -2v4M937.1 246.9h4m-2 -2v4M939 247h4m-2 -2v4M936.7 254h4m-2 -2v4M937.7 255.4h4m-2 -2v4M941 261.2h4m-2 -2v4M941.6 261.4h4m-2 -2v4M942.1 253.9h4m-2 -2v4M942.6 255.7h4m-2 -2v4M942.7 255.6h4m-2 -2v4M942.7 254.2h4m-2 -2v4M942.9 263.4h4m-2 -2v4M945.6 261.6h4m-2 -2v4M946 271.5h4m-2 -2v4M947.5 265.1h4m-2 -2v4M947.5 274.6h4m-2 -2v4M947.7 275.4h4m-2 -2v4M947.9 265.7h4m-2 -2v4M949.4 268.8h4m-2 -2v4M950.9 271.6h4m-2 -2v4M951.8 274h4m-2 -2v4M951.9 274.4h4m-2 -2v4M952.5 274.9h4m-2 -2v4M952.6 275.5h4m-2 -2v4M952.6 274.7h4m-2 -2v4M953.2 275.6h4m-2 -2v4M948.1 277.2h4m-2 -2v4M949 277.7h4m-2 -2v4M950.3 278.9h4m-2 -2v4M950.7 277h4m-2 -2v4M951.5 277.6h4m-2 -2v4M951.8 277.5h4m-2 -2v4M951.9 277.5h4m-2 -2v4M951.9 278.3h4m-2 -2v4M952.2 276.2h4m-2 -2v4M952.5 277.3h4m-2 -2v4M953.3 281.8h4m-2 -2v4M953.8 283.5h4m-2 -2v4M954.3 284.1h4m-2 -2v4M954.7 283.2h4m-2 -2v4M954.9 276.3h4m-2 -2v4M955 281.9h4m-2 -2v4M955.1 280.8h4m-2 -2v4M955.5 280.4h4m-2 -2v4M955.6 281.1h4m-2 -2v4M956.3 286.4h4m-2 -2v4M956.4 285.4h4m-2 -2v4M958.2 285.2h4m-2 -2v4M958.9 282.6h4m-2 -2v4M959.3 287.7h4m-2 -2v4M959.7 287.9h4m-2 -2v4M961.5 287.3h4m-2 -2v4M955.5 288.8h4m-2 -2v4M956.3 290.9h4m-2 -2v4M956.6 292.8h4m-2 -2v4M957.3 288.6h4m-2 -2v4M958.6 290.8h4m-2 -2v4M959.3 290.9h4m-2 -2v4M960 288.5h4m-2 -2v4M960.2 294h4m-2 -2v4M960.8 298.7h4m-2 -2v4M961.6 298.6h4m-2 -2v4M962.6 297h4m-2 -2v4M962.7 293.2h4m-2 -2v4M963.2 299.7h4m-2 -2v4M966.1 299.9h4m-2 -2v4M965.4 305.5h4m-2 -2v4M966.2 303.5h4m-2 -2v4M966.9 305.9h4m-2 -2v4M967.2 308.8h4m-2 -2v4M967.9 308h4m-2 -2v4M968.7 310.3h4m-2 -2v4M971.4 308.9h4m-2 -2v4M972.2 310.2h4m-2 -2v4M970.7 316.4h4m-2 -2v4M982 331h4m-2 -2v4M984.6 336h4m-2 -2v4M989.6 345h4m-2 -2v4" stroke="#000" stroke-width="1.2" fill="none"/>
</g>
<g fill="none" stroke-width="6.1" stroke-linecap="round" stroke-linejoin="round">
<polyline points="786.3,199 785,197.8 783.8,196.6 782.5,195.3 781.2,194.1" stroke="#03fcff"/>
<polyline points="781.2,194.1 780,192.8 778.8,191.5 777.5,190.2 776.3,188.9" stroke="#0af5ff"/>
<polyline points="776.3,188.9 775.1,187.6 773.9,186.3 772.7,185 771.6,183.7" stroke="#10efff"/>
<polyline points="771.6,183.7 770.4,182.3 769.2,181 768.1,179.6 766.9,178.3" stroke="#16e9ff"/>
<polyline points="766.9,178.3 765.8,176.9 764.6,175.6 763.5,174.2 762.4,172.8" stroke="#1de2ff"/>
<polyline points="762.4,172.8 761.3,171.4 760.2,170 759.1,168.6 758,167.2" stroke="#23dcff"/>
<polyline points="758,167.2 757,165.7 756,164.3 755,162.8 754,161.3" stroke="#29d6ff"/>
<polyline points="754,161.3 753.1,159.8 752.1,158.3 751.2,156.8 750.3,155.2" stroke="#30cfff"/>
<polyline points="750.3,155.2 749.5,153.7 748.6,152.1 747.7,150.6 746.9,149" stroke="#36c9ff"/>
<polyline points="746.9,149 746.1,147.4 745.2,145.9 744.4,144.3 743.6,142.7" stroke="#3dc2ff"/>
<polyline points="743.6,142.7 742.8,141.1 742.1,139.5 741.3,137.9 740.6,136.3" stroke="#43bcff"/>
<polyline points="740.6,136.3 739.8,134.7 739.1,133.1 738.4,131.4 737.7,129.8" stroke="#49b6ff"/>
<polyline points="737.7,129.8 737,128.1 736.4,126.5 735.8,124.8 735.2,123.2" stroke="#50afff"/>
<polyline points="735.2,123.2 734.6,121.5 734,119.8 733.5,118.1 733,116.4" stroke="#56a9ff"/>
<polyline points="733,116.4 732.6,114.6 732.1,112.9 731.8,111.2 731.4,109.4" stroke="#5ca3ff"/>
<polyline points="731.4,109.4 731.1,107.7 730.8,105.9 730.5,104.2 730.3,102.4" stroke="#639cff"/>
<polyline points="730.3,102.4 730.2,100.6 730.2,98.9 730.3,97.1 730.5,95.3" stroke="#6996ff"/>
<polyline points="730.5,95.3 730.9,93.5 731.4,91.8 732.1,90.2 733,88.6" stroke="#708fff"/>
<polyline points="733,88.6 734.2,87.2 735.5,85.9 736.9,84.9 738.5,84.2" stroke="#7689ff"/>
<polyline points="738.5,84.2 740.2,83.7 741.9,83.4 743.8,83.2 745.6,83.2" stroke="#7c83ff"/>
<polyline points="745.6,83.2 747.4,83.2 749.2,83.3 751,83.5 752.7,83.7" stroke="#837cff"/>
<polyline points="752.7,83.7 754.5,84 756.2,84.3 757.9,84.7 759.6,85.2" stroke="#8976ff"/>
<polyline points="759.6,85.2 761.3,85.8 763,86.4 764.6,87.1 766.3,87.8" stroke="#8f70ff"/>
<polyline points="766.3,87.8 767.9,88.5 769.6,89.2 771.2,89.9 772.8,90.6" stroke="#9669ff"/>
<polyline points="772.8,90.6 774.5,91.3 776.1,92 777.7,92.7 779.3,93.4" stroke="#9c63ff"/>
<polyline points="779.3,93.4 780.9,94.2 782.6,94.9 784.2,95.7 785.8,96.4" stroke="#a35cff"/>
<polyline points="785.8,96.4 787.4,97.2 788.9,98 790.5,98.8 792.1,99.7" stroke="#a956ff"/>
<polyline points="792.1,99.7 793.6,100.5 795.2,101.4 796.7,102.3 798.3,103.2" stroke="#af50ff"/>
<polyline points="798.3,103.2 799.8,104.1 801.3,105.1 802.8,106 804.3,107" stroke="#b649ff"/>
<polyline points="804.3,107 805.8,107.9 807.3,108.9 808.8,109.9 810.3,110.8" stroke="#bc43ff"/>
<polyline points="810.3,110.8 811.8,111.8 813.2,112.8 814.7,113.7 816.2,114.7" stroke="#c23dff"/>
<polyline points="816.2,114.7 817.7,115.8 819.1,116.8 820.5,117.8 822,118.9" stroke="#c936ff"/>
<polyline points="822,118.9 823.4,120 824.8,121.1 826.2,122.1 827.6,123.3" stroke="#cf30ff"/>
<polyline points="827.6,123.3 829,124.4 830.4,125.5 831.7,126.6 833.1,127.7" stroke="#d629ff"/>
<polyline points="833.1,127.7 834.5,128.8 835.9,129.9 837.3,131 838.7,132.1" stroke="#dc23ff"/>
<polyline points="838.7,132.1 840.1,133.2 841.5,134.3 842.9,135.3 844.3,136.4" stroke="#e21dff"/>
<polyline points="844.3,136.4 845.8,137.5 847.2,138.6 848.6,139.6 850,140.7" stroke="#e916ff"/>
<polyline points="850,140.7 851.4,141.8 852.9,142.8 854.3,143.9 855.7,144.9" stroke="#ef10ff"/>
<polyline points="855.7,144.9 857.1,146 858.5,147.1 860,148.2 861.4,149.3" stroke="#f50aff"/>
<polyline points="861.4,149.3 862.8,150.4 864.1,151.5 865.5,152.6 866.9,153.7" stroke="#fc03ff"/>
</g>
<polygon points="782.9,194.1 783.7,196.5 789.4,186 778.8,191.6 781.3,192.4" fill="#98fb98"/>
<polygon points="770.8,181.1 771.5,183.6 777.9,173.5 767,178.4 769.3,179.4" fill="#98fb98"/>
<polygon points="759.6,167.4 760.1,170 767.3,160.4 756,164.4 758.3,165.6" fill="#98fb98"/>
<polygon points="750.2,152.6 750.3,155.2 758.7,146.6 746.9,149.1 749,150.6" fill="#98fb98"/>
<polygon points="742.1,136.9 742,139.4 751,131.5 739.1,133.2 741.1,134.8" fill="#98fb98"/>
<polygon points="736.6,123.9 736.3,126.4 746,119.4 734,119.9 735.9,121.7" fill="#98fb98"/>
<polygon points="733.5,113.8 732.9,116.3 743.3,110.3 731.4,109.6 733,111.5" fill="#98fb98"/>
<polygon points="731.8,105.2 730.9,107.6 742,102.9 730.1,100.8 731.5,102.9" fill="#98fb98"/>
<polygon points="731.3,98.3 729.9,100.5 741.7,98.2 730.6,93.6 731.5,96" fill="#98fb98"/>
<polygon points="732.6,91.7 730.5,93.2 742.3,95.6 733.7,87.1 733.7,89.7" fill="#98fb98"/>
<polygon points="736.5,86.5 733.9,86.7 742.8,94.8 739.9,83.2 738.5,85.3" fill="#98fb98"/>
<polygon points="744.5,84.4 742.1,83.3 745.8,94.7 749,83.1 746.8,84.3" fill="#98fb98"/>
<polygon points="758.2,86 756.3,84.2 756.3,96.2 762.9,86.3 760.4,86.7" fill="#98fb98"/>
<polygon points="772.9,91.9 771.3,89.9 769.9,101.8 777.6,92.7 775.1,92.8" fill="#98fb98"/>
<polygon points="789,99.3 787.5,97.2 785.2,109 793.6,100.5 791,100.4" fill="#98fb98"/>
<polygon points="804.2,108.3 802.9,106.1 799.6,117.6 808.7,109.8 806.1,109.5" fill="#98fb98"/>
<polygon points="818.9,118.1 817.8,115.8 813.7,127.1 823.3,119.9 820.8,119.4" fill="#98fb98"/>
<polygon points="836.1,128.6 837.2,130.9 841.7,119.8 831.8,126.7 834.3,127.2" fill="#98fb98"/>
<polygon points="850.2,139.4 851.4,141.7 855.5,130.4 845.8,137.6 848.4,138" fill="#98fb98"/>
<polygon points="859.7,149.5 858.6,147.1 854.3,158.3 864.1,151.4 861.6,150.9" fill="#98fb98"/>
<polygon points="745.7,85.7 757.9,98.9 754.6,99.9 768.5,108.1 761.4,93.6 760.2,96.8 747.9,83.5" fill="#f00"/>
<polygon points="781.5,96.3 792.2,110.8 788.8,111.4 801.8,121.1 796.3,105.9 794.7,109 783.9,94.5" fill="#f00"/>
<polygon points="729.9,103.1 743.5,114.9 740.3,116.2 755,122.9 746.4,109.2 745.5,112.6 731.9,100.7" fill="#f00"/>
<polygon points="817.4,118.5 826.5,134 823.1,134.3 834.9,145.3 831.1,129.6 829.2,132.5 820,116.9" fill="#f00"/>
<polygon points="844.6,138.5 851.9,155 848.4,154.9 858.9,167.2 856.9,151.1 854.7,153.8 847.4,137.3" fill="#f00"/>
<polygon points="746.7,150 761.8,159.8 758.8,161.6 774.4,166.1 763.9,153.7 763.5,157.2 748.3,147.4" fill="#f00"/>
<polygon points="786.5,199.7 803.2,206.7 800.6,208.9 816.7,210.6 804.1,200.3 804.4,203.8 787.7,196.9" fill="#f00"/>
<rect x="696.9" y="315.8" width="80" height="28" fill="#98fb98"/>
<rect x="696.9" y="371.2" width="80" height="28.3" fill="#f00"/>
<text x="812" y="344.5" font-size="34" font-style="italic" fill="#000"><tspan font-family="'DejaVu Serif',serif">κ̂</tspan></text>
<text x="811" y="400" font-size="41" fill="#000"><tspan font-weight="bold">â</tspan><tspan font-size="29" dy="7">planar</tspan></text>
<g clip-path="url(#r1c2)" fill="none" stroke="#7f7f7f" stroke-width="2.5" stroke-dasharray="8.6 3.8">
<ellipse cx="1444.8" cy="241.8" rx="7.1" ry="10.7"/>
<ellipse cx="1444.8" cy="241.8" rx="33.7" ry="50.6"/>
<ellipse cx="1444.8" cy="241.8" rx="54.7" ry="82"/>
<ellipse cx="1444.8" cy="241.8" rx="79.1" ry="118.7"/>
<ellipse cx="1444.8" cy="241.8" rx="109.4" ry="164.1"/>
<ellipse cx="1444.8" cy="241.8" rx="148.5" ry="222.7"/>
<ellipse cx="1444.8" cy="241.8" rx="199.4" ry="299.1"/>
<ellipse cx="1444.8" cy="241.8" rx="265.3" ry="397.9"/>
</g>
<g clip-path="url(#r1c2)">
<polygon points="1400.6,73.5 1402,84.9 1406.4,99.9 1406.5,100 1409.6,115.1 1409.6,115.2 1411.8,130.3 1414.1,145.5 1414.1,145.6 1415.6,160.7 1415.6,160.8 1416.4,175.9 1416.4,175.9 1417.1,191 1417.9,206.1 1419.4,221.1 1420.9,236.2 1422,244.7 1426.4,259.6 1432.5,274.6 1432.5,274.8 1437,289.8 1443.1,304.8 1443.1,304.9 1448.4,320 1448.4,320.2 1452.1,335.2 1458.2,350.2 1458.2,350.2 1464.2,365.3 1464.2,365.5 1464.3,365.7 1464.3,365.8 1465.8,380.9 1465.8,381.1 1465.8,381.3 1465.8,381.5 1462.8,396.6 1462.7,396.7 1462.7,396.9 1462.6,397 1462.5,397.2 1462.4,397.3 1456.7,404.4 1455.3,418.8 1458.1,429.9 1466.2,437.2 1495.1,437.2 1503.1,430 1504.5,419 1501.6,404.5 1495.9,397.3 1495.8,397.2 1495.7,397 1495.6,396.9 1495.6,396.7 1491,381.6 1491,381.6 1482,351.4 1482,351.3 1478.2,336.2 1478.2,336.2 1474.4,321 1470.6,305.9 1470.6,305.9 1466.9,290.8 1466.8,290.8 1463.7,275.7 1463.7,275.7 1460.7,260.6 1457,245.5 1456.9,245.5 1453.7,230.9 1449.9,222 1449.9,221.9 1445.4,209.8 1445.4,209.7 1441.6,197.6 1441.5,197.4 1439.2,185.3 1436.9,173.3 1436.9,173.2 1435.4,161.1 1435.4,161 1434.7,148.9 1434.7,148.7 1434.7,148.6 1436.2,136.5 1436.3,136.3 1439.3,124.2 1439.3,124 1442.2,115.1 1443.7,106.2 1443.8,106 1443.8,105.8 1448.4,95.2 1448.6,95 1456.1,82.9 1456.2,82.7 1465.2,70.7 1472.2,59.4 1471.4,56.8 1460.6,56.2 1442.9,56.9 1423.6,64.4 1423.5,64.4 1410,68.9 1400.6,73.5" fill="#000"/>
<path d="M1426.8 59.1h4m-2 -2v4M1428.7 57h4m-2 -2v4M1430.4 55.7h4m-2 -2v4M1430.9 59.7h4m-2 -2v4M1431.2 59h4m-2 -2v4M1433.7 57.5h4m-2 -2v4M1436.1 58.7h4m-2 -2v4M1438 57.8h4m-2 -2v4M1438.3 54.5h4m-2 -2v4M1438.8 56h4m-2 -2v4M1439.6 56.7h4m-2 -2v4M1439.8 56.8h4m-2 -2v4M1442 55.1h4m-2 -2v4M1442 53.6h4m-2 -2v4M1442.4 54.5h4m-2 -2v4M1444.8 53.5h4m-2 -2v4M1446.8 55.8h4m-2 -2v4M1446.9 54.4h4m-2 -2v4M1448.4 52.5h4m-2 -2v4M1448.6 54.2h4m-2 -2v4M1450.9 55.4h4m-2 -2v4M1451 53.1h4m-2 -2v4M1454 56.2h4m-2 -2v4M1454.4 54h4m-2 -2v4M1454.8 56h4m-2 -2v4M1456.5 55.8h4m-2 -2v4M1457 56.2h4m-2 -2v4M1458.1 54.5h4m-2 -2v4M1463.6 54.8h4m-2 -2v4M1469 54.1h4m-2 -2v4M1471 56.9h4m-2 -2v4M1471 58.2h4m-2 -2v4M1471.3 59.4h4m-2 -2v4M1472.2 59.3h4m-2 -2v4M1472.7 56.3h4m-2 -2v4M1399.5 69.8h4m-2 -2v4M1400.9 69.9h4m-2 -2v4M1401.8 71.5h4m-2 -2v4M1403.4 68.9h4m-2 -2v4M1403.8 68.5h4m-2 -2v4M1405.6 67.3h4m-2 -2v4M1406.9 67.5h4m-2 -2v4M1409.1 65.9h4m-2 -2v4M1409.7 67.4h4m-2 -2v4M1409.8 65.7h4m-2 -2v4M1410.6 65.1h4m-2 -2v4M1410.7 67.2h4m-2 -2v4M1411 64.7h4m-2 -2v4M1413.2 66.8h4m-2 -2v4M1413.5 64.8h4m-2 -2v4M1414.6 64.2h4m-2 -2v4M1415.4 65.9h4m-2 -2v4M1415.4 64.5h4m-2 -2v4M1416.1 61.6h4m-2 -2v4M1417 63.4h4m-2 -2v4M1418.7 63.4h4m-2 -2v4M1419.6 64.1h4m-2 -2v4M1420.2 63.1h4m-2 -2v4M1420.4 63.3h4m-2 -2v4M1421.5 62.2h4m-2 -2v4M1421.6 62.2h4m-2 -2v4M1421.9 63.8h4m-2 -2v4M1422.5 61.9h4m-2 -2v4M1423.4 63.4h4m-2 -2v4M1425.5 61.4h4m-2 -2v4M1426.2 61.7h4m-2 -2v4M1431.3 60.3h4m-2 -2v4M1464 60h4m-2 -2v4M1466 67.8h4m-2 -2v4M1467 65.6h4m-2 -2v4M1467 68h4m-2 -2v4M1467.1 71.9h4m-2 -2v4M1467.2 68.6h4m-2 -2v4M1467.4 67.7h4m-2 -2v4M1467.7 71.3h4m-2 -2v4M1468.2 64.1h4m-2 -2v4M1469 66.8h4m-2 -2v4M1469.8 60.7h4m-2 -2v4M1471.9 61.5h4m-2 -2v4M1395.6 74.1h4m-2 -2v4M1396.1 83.2h4m-2 -2v4M1396.5 83.1h4m-2 -2v4M1396.9 81.4h4m-2 -2v4M1397.1 79.9h4m-2 -2v4M1397.2 79.5h4m-2 -2v4M1397.4 82h4m-2 -2v4M1397.5 82.1h4m-2 -2v4M1397.5 83.9h4m-2 -2v4M1397.5 80.9h4m-2 -2v4M1397.6 72.8h4m-2 -2v4M1398.7 73h4m-2 -2v4M1398.7 77.8h4m-2 -2v4M1399.1 73.1h4m-2 -2v4M1454.3 82.9h4m-2 -2v4M1455.8 83.5h4m-2 -2v4M1457.1 80.4h4m-2 -2v4M1457.1 78.9h4m-2 -2v4M1458.1 80.1h4m-2 -2v4M1458.8 78h4m-2 -2v4M1460.9 79.9h4m-2 -2v4M1461 73.8h4m-2 -2v4M1462 78h4m-2 -2v4M1462.7 73.8h4m-2 -2v4M1464 74.4h4m-2 -2v4M1464.2 75h4m-2 -2v4M1396.4 86h4m-2 -2v4M1398.1 85.6h4m-2 -2v4M1399.4 91h4m-2 -2v4M1401.6 92.9h4m-2 -2v4M1401.7 92.2h4m-2 -2v4M1402.1 95.3h4m-2 -2v4M1447.5 94.9h4m-2 -2v4M1448.2 93.4h4m-2 -2v4M1448.6 93.1h4m-2 -2v4M1448.7 92.5h4m-2 -2v4M1450.4 89.6h4m-2 -2v4M1452 86.7h4m-2 -2v4M1452 86.7h4m-2 -2v4M1452.9 85.9h4m-2 -2v4M1453.3 88.6h4m-2 -2v4M1455.8 88.6h4m-2 -2v4M1457 92h4m-2 -2v4M1400.7 98.2h4m-2 -2v4M1401.8 97h4m-2 -2v4M1403 97.8h4m-2 -2v4M1403 101.2h4m-2 -2v4M1404.5 102.6h4m-2 -2v4M1405.4 104.7h4m-2 -2v4M1442.7 106.3h4m-2 -2v4M1443 107h4m-2 -2v4M1443 104.8h4m-2 -2v4M1444.3 100.4h4m-2 -2v4M1444.4 102.1h4m-2 -2v4M1445.4 99.6h4m-2 -2v4M1445.7 102.4h4m-2 -2v4M1445.8 98.1h4m-2 -2v4M1446.5 98.9h4m-2 -2v4M1446.6 96.2h4m-2 -2v4M1446.6 97.3h4m-2 -2v4M1446.8 98.6h4m-2 -2v4M1447.9 97.2h4m-2 -2v4M1448.4 96.8h4m-2 -2v4M1449.1 96.4h4m-2 -2v4M1402.7 108h4m-2 -2v4M1402.8 108.9h4m-2 -2v4M1404 111.1h4m-2 -2v4M1404.4 108.5h4m-2 -2v4M1405.6 119h4m-2 -2v4M1405.8 109.3h4m-2 -2v4M1405.8 111.2h4m-2 -2v4M1405.9 108.8h4m-2 -2v4M1406 110.9h4m-2 -2v4M1406.1 119.9h4m-2 -2v4M1406.4 112.6h4m-2 -2v4M1406.9 113.9h4m-2 -2v4M1407 116.2h4m-2 -2v4M1407 118.7h4m-2 -2v4M1407.8 118.8h4m-2 -2v4M1440.7 116.6h4m-2 -2v4M1440.8 119.7h4m-2 -2v4M1441.5 115.1h4m-2 -2v4M1441.5 114.4h4m-2 -2v4M1441.5 118.4h4m-2 -2v4M1442.3 111.1h4m-2 -2v4M1443 111.4h4m-2 -2v4M1443.1 112.2h4m-2 -2v4M1443.4 113.8h4m-2 -2v4M1443.5 114.9h4m-2 -2v4M1405.4 122.3h4m-2 -2v4M1406 122.6h4m-2 -2v4M1407.2 125h4m-2 -2v4M1407.3 127.7h4m-2 -2v4M1407.4 125.2h4m-2 -2v4M1407.9 127h4m-2 -2v4M1407.9 121h4m-2 -2v4M1408 128.7h4m-2 -2v4M1408.1 127.3h4m-2 -2v4M1408.4 122.2h4m-2 -2v4M1408.6 126.4h4m-2 -2v4M1408.8 126.7h4m-2 -2v4M1409 125.7h4m-2 -2v4M1409.2 130.2h4m-2 -2v4M1435.8 130.8h4m-2 -2v4M1436.2 129.2h4m-2 -2v4M1436.3 130.5h4m-2 -2v4M1436.6 129h4m-2 -2v4M1436.9 132h4m-2 -2v4M1437.3 127h4m-2 -2v4M1438.6 121.4h4m-2 -2v4M1440 124.3h4m-2 -2v4M1441 128h4m-2 -2v4M1407.8 136.6h4m-2 -2v4M1408.1 137.2h4m-2 -2v4M1409.4 143.1h4m-2 -2v4M1409.5 144h4m-2 -2v4M1410.3 136.3h4m-2 -2v4M1410.4 139.8h4m-2 -2v4M1410.4 137.9h4m-2 -2v4M1410.5 137.6h4m-2 -2v4M1410.5 137.7h4m-2 -2v4M1410.6 137.2h4m-2 -2v4M1410.8 137.5h4m-2 -2v4M1411 141.2h4m-2 -2v4M1411.1 139.5h4m-2 -2v4M1433.6 142.8h4m-2 -2v4M1434.6 139.7h4m-2 -2v4M1434.8 135h4m-2 -2v4M1435.2 138.7h4m-2 -2v4M1435.3 134.7h4m-2 -2v4M1435.4 133.4h4m-2 -2v4M1435.6 138.8h4m-2 -2v4M1436 134h4m-2 -2v4M1436.1 143.6h4m-2 -2v4M1436.4 137.4h4m-2 -2v4M1436.9 132.8h4m-2 -2v4M1437.4 136.7h4m-2 -2v4M1407.8 151.4h4m-2 -2v4M1410 153.8h4m-2 -2v4M1410.5 148.1h4m-2 -2v4M1410.5 154.1h4m-2 -2v4M1410.6 147.2h4m-2 -2v4M1411 149.7h4m-2 -2v4M1411.4 152.9h4m-2 -2v4M1411.5 155.3h4m-2 -2v4M1411.6 150.3h4m-2 -2v4M1411.6 145.3h4m-2 -2v4M1411.6 150.8h4m-2 -2v4M1411.8 150.5h4m-2 -2v4M1411.8 154.3h4m-2 -2v4M1411.9 153.8h4m-2 -2v4M1412.4 154.9h4m-2 -2v4M1433.5 150.4h4m-2 -2v4M1433.7 151.5h4m-2 -2v4M1433.7 147.4h4m-2 -2v4M1434.5 149.2h4m-2 -2v4M1435.5 148.2h4m-2 -2v4M1412 156.7h4m-2 -2v4M1412 163.4h4m-2 -2v4M1412 161.8h4m-2 -2v4M1412.1 167.6h4m-2 -2v4M1412.1 159.1h4m-2 -2v4M1412.2 164.8h4m-2 -2v4M1412.4 164.9h4m-2 -2v4M1412.6 158.2h4m-2 -2v4M1412.7 163.1h4m-2 -2v4M1412.7 167h4m-2 -2v4M1412.8 158.4h4m-2 -2v4M1413.2 163.6h4m-2 -2v4M1413.3 164.7h4m-2 -2v4M1433.8 160.1h4m-2 -2v4M1436.1 159.8h4m-2 -2v4M1436.3 163.3h4m-2 -2v4M1436.3 167.2h4m-2 -2v4M1437.1 163.5h4m-2 -2v4M1412.1 179.6h4m-2 -2v4M1412.3 176.1h4m-2 -2v4M1412.5 172.2h4m-2 -2v4M1412.8 178h4m-2 -2v4M1413 175.7h4m-2 -2v4M1413.1 178.3h4m-2 -2v4M1413.3 175.8h4m-2 -2v4M1413.4 178.9h4m-2 -2v4M1413.8 175.9h4m-2 -2v4M1414 174.8h4m-2 -2v4M1414.4 178.2h4m-2 -2v4M1434.9 169.1h4m-2 -2v4M1435.2 169.1h4m-2 -2v4M1435.3 168.7h4m-2 -2v4M1435.7 173.7h4m-2 -2v4M1437.2 176.1h4m-2 -2v4M1437.2 175.5h4m-2 -2v4M1439.1 180h4m-2 -2v4M1439.8 177.6h4m-2 -2v4M1448 178h4m-2 -2v4M1410.2 185.1h4m-2 -2v4M1412.9 183.9h4m-2 -2v4M1414.2 189.4h4m-2 -2v4M1414.4 183h4m-2 -2v4M1414.5 182.8h4m-2 -2v4M1414.7 191.7h4m-2 -2v4M1414.8 187.7h4m-2 -2v4M1436.7 182.4h4m-2 -2v4M1437.1 182.4h4m-2 -2v4M1437.2 184.4h4m-2 -2v4M1437.3 184.4h4m-2 -2v4M1438.2 188h4m-2 -2v4M1438.6 191.6h4m-2 -2v4M1438.8 191.6h4m-2 -2v4M1439.3 186.1h4m-2 -2v4M1439.7 180.4h4m-2 -2v4M1439.8 186.8h4m-2 -2v4M1412.7 195.5h4m-2 -2v4M1412.9 201.2h4m-2 -2v4M1413.4 193.7h4m-2 -2v4M1413.5 197h4m-2 -2v4M1414.3 194.3h4m-2 -2v4M1414.3 195.8h4m-2 -2v4M1414.6 196.8h4m-2 -2v4M1414.7 194.4h4m-2 -2v4M1414.9 202.6h4m-2 -2v4M1439.4 192.4h4m-2 -2v4M1440.6 198.1h4m-2 -2v4M1443.6 198.1h4m-2 -2v4M1445.2 201.1h4m-2 -2v4M1446 200h4m-2 -2v4M1413 205.3h4m-2 -2v4M1413.7 207.7h4m-2 -2v4M1415.7 210.7h4m-2 -2v4M1415.8 210.7h4m-2 -2v4M1416.1 215.2h4m-2 -2v4M1416.3 213.7h4m-2 -2v4M1441.9 204.6h4m-2 -2v4M1442.4 206.3h4m-2 -2v4M1443.1 206.5h4m-2 -2v4M1443.5 207.4h4m-2 -2v4M1444.3 206.2h4m-2 -2v4M1444.4 208.1h4m-2 -2v4M1444.5 207.4h4m-2 -2v4M1444.7 210.4h4m-2 -2v4M1445 213.8h4m-2 -2v4M1445.3 210.3h4m-2 -2v4M1446.2 209.9h4m-2 -2v4M1446.2 209.1h4m-2 -2v4M1446.3 211.8h4m-2 -2v4M1448.7 215h4m-2 -2v4M1449.2 212.6h4m-2 -2v4M1450 207h4m-2 -2v4M1415.2 220.5h4m-2 -2v4M1415.4 220.1h4m-2 -2v4M1416.5 217h4m-2 -2v4M1416.7 220.8h4m-2 -2v4M1416.7 219.9h4m-2 -2v4M1416.9 216.4h4m-2 -2v4M1417.5 224.4h4m-2 -2v4M1417.6 223.8h4m-2 -2v4M1417.6 227.2h4m-2 -2v4M1446.8 217h4m-2 -2v4M1447.8 218.8h4m-2 -2v4M1447.8 217.9h4m-2 -2v4M1448.1 220.9h4m-2 -2v4M1449.1 218.3h4m-2 -2v4M1449.3 221.2h4m-2 -2v4M1450.1 226.4h4m-2 -2v4M1450.2 225.4h4m-2 -2v4M1451.4 225.2h4m-2 -2v4M1451.9 225.9h4m-2 -2v4M1414.2 229h4m-2 -2v4M1415.1 234.2h4m-2 -2v4M1415.8 230.5h4m-2 -2v4M1416.4 235h4m-2 -2v4M1416.4 230.2h4m-2 -2v4M1416.8 230.3h4m-2 -2v4M1417.2 237.6h4m-2 -2v4M1417.5 234.7h4m-2 -2v4M1417.7 232.3h4m-2 -2v4M1417.8 236.9h4m-2 -2v4M1417.8 231.8h4m-2 -2v4M1418.2 239.6h4m-2 -2v4M1418.3 233.8h4m-2 -2v4M1418.5 235.7h4m-2 -2v4M1451.9 231.6h4m-2 -2v4M1452.3 233.2h4m-2 -2v4M1452.9 228.1h4m-2 -2v4M1453.2 230.4h4m-2 -2v4M1453.6 231.6h4m-2 -2v4M1453.6 238.3h4m-2 -2v4M1454.1 233.4h4m-2 -2v4M1454.8 233.2h4m-2 -2v4M1455.1 236.8h4m-2 -2v4M1417.8 247.9h4m-2 -2v4M1418.4 242.8h4m-2 -2v4M1418.6 243.8h4m-2 -2v4M1419 246h4m-2 -2v4M1419.2 241.9h4m-2 -2v4M1419.7 244.9h4m-2 -2v4M1420.3 249.1h4m-2 -2v4M1420.3 249.9h4m-2 -2v4M1421.4 250.5h4m-2 -2v4M1454.9 243.7h4m-2 -2v4M1455.4 244.3h4m-2 -2v4M1456.2 242.6h4m-2 -2v4M1456.3 250.7h4m-2 -2v4M1456.6 244.9h4m-2 -2v4M1457.4 249.9h4m-2 -2v4M1457.7 250.4h4m-2 -2v4M1458 251.6h4m-2 -2v4M1458.5 251.9h4m-2 -2v4M1421.1 253.1h4m-2 -2v4M1421.6 254.4h4m-2 -2v4M1422.1 263.5h4m-2 -2v4M1422.8 257.7h4m-2 -2v4M1423.3 257.9h4m-2 -2v4M1423.3 256.5h4m-2 -2v4M1423.7 262.3h4m-2 -2v4M1424.5 262h4m-2 -2v4M1424.7 262.9h4m-2 -2v4M1425.4 263.8h4m-2 -2v4M1457.5 255.6h4m-2 -2v4M1457.8 253.5h4m-2 -2v4M1458.3 255.2h4m-2 -2v4M1458.7 259.5h4m-2 -2v4M1458.9 254.9h4m-2 -2v4M1459.7 263h4m-2 -2v4M1460.3 263.8h4m-2 -2v4M1461.2 263.3h4m-2 -2v4M1461.4 259.2h4m-2 -2v4M1421.8 264.2h4m-2 -2v4M1424.4 267.1h4m-2 -2v4M1425.6 268.6h4m-2 -2v4M1426.3 267.6h4m-2 -2v4M1426.9 271.6h4m-2 -2v4M1427.5 270.3h4m-2 -2v4M1427.7 274.9h4m-2 -2v4M1428 273.5h4m-2 -2v4M1428.2 276h4m-2 -2v4M1428.9 271.2h4m-2 -2v4M1429.3 272.7h4m-2 -2v4M1429.9 275.2h4m-2 -2v4M1430.1 274h4m-2 -2v4M1460.8 266.9h4m-2 -2v4M1461.2 268.8h4m-2 -2v4M1461.5 268.9h4m-2 -2v4M1461.7 272.5h4m-2 -2v4M1463.2 271.9h4m-2 -2v4M1463.3 268.8h4m-2 -2v4M1429.9 278.9h4m-2 -2v4M1430.7 276.3h4m-2 -2v4M1431.3 287.7h4m-2 -2v4M1431.7 280.1h4m-2 -2v4M1431.9 285h4m-2 -2v4M1431.9 285.2h4m-2 -2v4M1431.9 285.6h4m-2 -2v4M1432.7 286.4h4m-2 -2v4M1463.3 282.8h4m-2 -2v4M1463.5 280.9h4m-2 -2v4M1463.8 285.7h4m-2 -2v4M1463.9 278.6h4m-2 -2v4M1464.2 280h4m-2 -2v4M1464.3 284.8h4m-2 -2v4M1464.7 280.3h4m-2 -2v4M1464.7 283.3h4m-2 -2v4M1465.3 283.5h4m-2 -2v4M1465.8 281.9h4m-2 -2v4M1466 287.3h4m-2 -2v4M1466.4 285.2h4m-2 -2v4M1433.1 288.5h4m-2 -2v4M1433.1 288.6h4m-2 -2v4M1434.6 291.2h4m-2 -2v4M1435.3 291h4m-2 -2v4M1435.9 294.3h4m-2 -2v4M1436.8 294.3h4m-2 -2v4M1465 291h4m-2 -2v4M1466 291.3h4m-2 -2v4M1466.8 291.7h4m-2 -2v4M1467 289.1h4m-2 -2v4M1467.1 299.9h4m-2 -2v4M1467.2 297.6h4m-2 -2v4M1467.3 295.5h4m-2 -2v4M1468 298.4h4m-2 -2v4M1468.1 299.1h4m-2 -2v4M1435.3 302.9h4m-2 -2v4M1436 302.1h4m-2 -2v4M1438.8 304.1h4m-2 -2v4M1439.4 301.2h4m-2 -2v4M1439.7 302.9h4m-2 -2v4M1440.1 305h4m-2 -2v4M1441.4 307.9h4m-2 -2v4M1441.4 312h4m-2 -2v4M1441.4 309.7h4m-2 -2v4M1442 310.9h4m-2 -2v4M1442.4 310.4h4m-2 -2v4M1470 304.6h4m-2 -2v4M1470.8 307.3h4m-2 -2v4M1471 308.8h4m-2 -2v4M1471 308.1h4m-2 -2v4M1471.1 307.5h4m-2 -2v4M1471.2 310.9h4m-2 -2v4M1471.3 303.3h4m-2 -2v4M1472.4 311.4h4m-2 -2v4M1441.3 312.8h4m-2 -2v4M1442 316.6h4m-2 -2v4M1442.6 317.5h4m-2 -2v4M1443.2 321h4m-2 -2v4M1444.1 320.4h4m-2 -2v4M1444.3 315.4h4m-2 -2v4M1444.4 321.7h4m-2 -2v4M1444.7 317.1h4m-2 -2v4M1444.7 316.9h4m-2 -2v4M1445 318.6h4m-2 -2v4M1446.8 321.9h4m-2 -2v4M1447.2 323.6h4m-2 -2v4M1470.8 312.3h4m-2 -2v4M1471.7 317.5h4m-2 -2v4M1472.1 313h4m-2 -2v4M1472.5 321.1h4m-2 -2v4M1473.9 322.1h4m-2 -2v4M1474.1 323.4h4m-2 -2v4M1475.2 321.8h4m-2 -2v4M1445.6 324.3h4m-2 -2v4M1445.7 326.7h4m-2 -2v4M1447.7 334.2h4m-2 -2v4M1447.7 326.6h4m-2 -2v4M1447.8 330.3h4m-2 -2v4M1447.9 328.9h4m-2 -2v4M1448 328.1h4m-2 -2v4M1448.1 331.6h4m-2 -2v4M1448.5 329.5h4m-2 -2v4M1449 333h4m-2 -2v4M1449.3 332.1h4m-2 -2v4M1473.7 325.7h4m-2 -2v4M1474 325.3h4m-2 -2v4M1474.6 327.1h4m-2 -2v4M1475.2 331.3h4m-2 -2v4M1475.3 331.2h4m-2 -2v4M1475.5 332h4m-2 -2v4M1475.8 331.7h4m-2 -2v4M1476 326h4m-2 -2v4M1476.1 335h4m-2 -2v4M1476.5 335.8h4m-2 -2v4M1476.7 332.1h4m-2 -2v4M1477.5 333.2h4m-2 -2v4M1478 332.5h4m-2 -2v4M1478.4 335.5h4m-2 -2v4M1478.6 331.7h4m-2 -2v4M1448.4 339.9h4m-2 -2v4M1449.4 341.2h4m-2 -2v4M1450 342.3h4m-2 -2v4M1451.3 339.1h4m-2 -2v4M1452.2 341.9h4m-2 -2v4M1453.2 346.6h4m-2 -2v4M1453.2 344.9h4m-2 -2v4M1453.7 344.1h4m-2 -2v4M1454.1 347.2h4m-2 -2v4M1477.1 337.7h4m-2 -2v4M1477.1 337.6h4m-2 -2v4M1477.1 339.7h4m-2 -2v4M1477.6 340.4h4m-2 -2v4M1477.8 337.8h4m-2 -2v4M1477.8 338.7h4m-2 -2v4M1477.8 342h4m-2 -2v4M1478.6 341.1h4m-2 -2v4M1479 340.2h4m-2 -2v4M1479.6 341.4h4m-2 -2v4M1479.7 337.5h4m-2 -2v4M1480.8 345.2h4m-2 -2v4M1453.1 348.9h4m-2 -2v4M1453.2 348.6h4m-2 -2v4M1454.8 352.4h4m-2 -2v4M1454.9 353.3h4m-2 -2v4M1456.7 353.6h4m-2 -2v4M1458 359.3h4m-2 -2v4M1458.1 357.8h4m-2 -2v4M1459.1 357.9h4m-2 -2v4M1459.7 360h4m-2 -2v4M1480.5 348.5h4m-2 -2v4M1481.6 355h4m-2 -2v4M1481.7 353.4h4m-2 -2v4M1481.7 354.3h4m-2 -2v4M1481.9 352.9h4m-2 -2v4M1482 356.5h4m-2 -2v4M1482.6 352.8h4m-2 -2v4M1483.6 359.6h4m-2 -2v4M1483.9 355.6h4m-2 -2v4M1484.4 358.8h4m-2 -2v4M1458.7 362.1h4m-2 -2v4M1459.5 365.9h4m-2 -2v4M1460 367.4h4m-2 -2v4M1460.1 363.2h4m-2 -2v4M1460.7 370.1h4m-2 -2v4M1461.2 364.6h4m-2 -2v4M1461.4 368.6h4m-2 -2v4M1461.5 367h4m-2 -2v4M1461.5 368.7h4m-2 -2v4M1461.6 364.2h4m-2 -2v4M1462.2 371.4h4m-2 -2v4M1482.8 360.3h4m-2 -2v4M1483.1 360.8h4m-2 -2v4M1485.9 364.1h4m-2 -2v4M1486.6 369.1h4m-2 -2v4M1488.4 370.5h4m-2 -2v4M1459.3 382.4h4m-2 -2v4M1461.9 372.2h4m-2 -2v4M1462.3 374.2h4m-2 -2v4M1462.4 381.5h4m-2 -2v4M1462.4 376.6h4m-2 -2v4M1462.6 372.5h4m-2 -2v4M1462.9 374.7h4m-2 -2v4M1463 380.6h4m-2 -2v4M1463.5 379.8h4m-2 -2v4M1487 372.4h4m-2 -2v4M1488.7 372.9h4m-2 -2v4M1489.3 376.2h4m-2 -2v4M1489.4 377.1h4m-2 -2v4M1489.9 383.2h4m-2 -2v4M1490.3 382.6h4m-2 -2v4M1490.3 377.2h4m-2 -2v4M1491.5 380.7h4m-2 -2v4M1492.6 383.6h4m-2 -2v4M1460.7 386.2h4m-2 -2v4M1460.7 395.9h4m-2 -2v4M1461.6 391.3h4m-2 -2v4M1462.6 386.4h4m-2 -2v4M1491.6 386.9h4m-2 -2v4M1491.6 385.8h4m-2 -2v4M1491.9 389.5h4m-2 -2v4M1493.4 394.5h4m-2 -2v4M1493.5 395.5h4m-2 -2v4M1493.6 393.5h4m-2 -2v4M1493.9 384.1h4m-2 -2v4M1494.4 394.7h4m-2 -2v4M1494.9 391.8h4m-2 -2v4M1494.9 390.2h4m-2 -2v4M1495 395h4m-2 -2v4M1495.6 395.9h4m-2 -2v4M1495.8 388.3h4m-2 -2v4M1451.6 404h4m-2 -2v4M1453.6 404.9h4m-2 -2v4M1454.2 407.8h4m-2 -2v4M1456.4 401.5h4m-2 -2v4M1456.6 400.8h4m-2 -2v4M1457.4 400h4m-2 -2v4M1458.7 396.6h4m-2 -2v4M1494.2 396.5h4m-2 -2v4M1494.3 396.4h4m-2 -2v4M1495.1 398.5h4m-2 -2v4M1495.3 396.2h4m-2 -2v4M1495.5 399.2h4m-2 -2v4M1495.8 399.2h4m-2 -2v4M1496.9 397.5h4m-2 -2v4M1497 397h4m-2 -2v4M1497.3 400.5h4m-2 -2v4M1497.7 401h4m-2 -2v4M1498 399.7h4m-2 -2v4M1499.9 403.3h4m-2 -2v4M1500.1 403.2h4m-2 -2v4M1501 405.8h4m-2 -2v4M1501.2 404.9h4m-2 -2v4M1501.6 407.5h4m-2 -2v4M1502.3 404.7h4m-2 -2v4M1450.7 414.4h4m-2 -2v4M1450.8 412.4h4m-2 -2v4M1451.5 409.5h4m-2 -2v4M1451.7 417.4h4m-2 -2v4M1452.6 416.5h4m-2 -2v4M1452.7 412.8h4m-2 -2v4M1452.9 418.8h4m-2 -2v4M1453.7 409.4h4m-2 -2v4M1453.9 410.9h4m-2 -2v4M1501.2 410.5h4m-2 -2v4M1501.2 411.2h4m-2 -2v4M1501.3 410.2h4m-2 -2v4M1501.8 412.7h4m-2 -2v4M1501.9 409.1h4m-2 -2v4M1502.5 415.1h4m-2 -2v4M1502.5 420h4m-2 -2v4M1502.7 411.3h4m-2 -2v4M1502.8 417.4h4m-2 -2v4M1503 418.4h4m-2 -2v4M1503.2 413.2h4m-2 -2v4M1503.3 414.6h4m-2 -2v4M1503.9 409.2h4m-2 -2v4M1504.8 418.8h4m-2 -2v4M1451.2 421.3h4m-2 -2v4M1453.2 424.2h4m-2 -2v4M1453.8 423.8h4m-2 -2v4M1454.1 430.3h4m-2 -2v4M1455 427.5h4m-2 -2v4M1455.1 430.7h4m-2 -2v4M1456.5 431.6h4m-2 -2v4M1502.3 426.4h4m-2 -2v4M1502.4 430.8h4m-2 -2v4M1502.6 426.7h4m-2 -2v4M1502.6 420.3h4m-2 -2v4M1503 426.5h4m-2 -2v4M1503.3 423.5h4m-2 -2v4M1504.1 425.4h4m-2 -2v4M1457.5 435.9h4m-2 -2v4M1461.7 437.1h4m-2 -2v4M1463.6 437h4m-2 -2v4M1464.7 437.8h4m-2 -2v4M1466.3 439.9h4m-2 -2v4M1472.3 438.8h4m-2 -2v4M1472.3 438.5h4m-2 -2v4M1474.8 437.3h4m-2 -2v4M1475.2 437.7h4m-2 -2v4M1476.2 438h4m-2 -2v4M1476.4 441h4m-2 -2v4M1476.5 437.5h4m-2 -2v4M1478.9 439.4h4m-2 -2v4M1480.3 437.4h4m-2 -2v4M1480.6 438.1h4m-2 -2v4M1480.6 437.4h4m-2 -2v4M1480.7 439.1h4m-2 -2v4M1482.3 439.2h4m-2 -2v4M1483.3 438.1h4m-2 -2v4M1484.2 438.3h4m-2 -2v4M1487.6 437.7h4m-2 -2v4M1487.7 437.9h4m-2 -2v4M1490.1 439.7h4m-2 -2v4M1491.1 437.7h4m-2 -2v4M1493.5 437.2h4m-2 -2v4M1494 439.8h4m-2 -2v4M1495.4 437.2h4m-2 -2v4M1495.5 438.4h4m-2 -2v4M1496.4 434.4h4m-2 -2v4M1498.3 433h4m-2 -2v4M1498.6 433.2h4m-2 -2v4M1498.7 433.1h4m-2 -2v4M1498.8 433.2h4m-2 -2v4M1498.9 432.2h4m-2 -2v4" stroke="#000" stroke-width="1.2" fill="none"/>
</g>
<g fill="none" stroke-width="6.1" stroke-linecap="round" stroke-linejoin="round">
<polyline points="1429.7,76.3 1428.3,78.2 1427,80.1 1425.9,82.1 1424.9,84.1" stroke="#03fcff"/>
<polyline points="1424.9,84.1 1424,86.2 1423.3,88.4 1422.6,90.6 1422,92.8" stroke="#0af5ff"/>
<polyline points="1422,92.8 1421.5,95.1 1421.1,97.3 1420.7,99.6 1420.4,101.9" stroke="#10efff"/>
<polyline points="1420.4,101.9 1420.1,104.2 1419.9,106.4 1419.6,108.7 1419.4,111" stroke="#16e9ff"/>
<polyline points="1419.4,111 1419.3,113.3 1419.1,115.6 1418.9,117.8 1418.8,120.1" stroke="#1de2ff"/>
<polyline points="1418.8,120.1 1418.7,122.4 1418.6,124.7 1418.6,127 1418.6,129.3" stroke="#23dcff"/>
<polyline points="1418.6,129.3 1418.6,131.6 1418.7,133.9 1418.8,136.2 1419,138.5" stroke="#29d6ff"/>
<polyline points="1419,138.5 1419.2,140.7 1419.3,143 1419.6,145.3 1419.8,147.6" stroke="#30cfff"/>
<polyline points="1419.8,147.6 1420,149.9 1420.2,152.2 1420.4,154.4 1420.7,156.7" stroke="#36c9ff"/>
<polyline points="1420.7,156.7 1420.9,159 1421.1,161.3 1421.4,163.5 1421.7,165.8" stroke="#3dc2ff"/>
<polyline points="1421.7,165.8 1421.9,168.1 1422.2,170.4 1422.5,172.6 1422.8,174.9" stroke="#43bcff"/>
<polyline points="1422.8,174.9 1423.1,177.2 1423.4,179.5 1423.7,181.7 1424,184" stroke="#49b6ff"/>
<polyline points="1424,184 1424.3,186.3 1424.7,188.5 1425,190.8 1425.4,193.1" stroke="#50afff"/>
<polyline points="1425.4,193.1 1425.9,195.3 1426.3,197.6 1426.8,199.8 1427.3,202" stroke="#56a9ff"/>
<polyline points="1427.3,202 1427.8,204.3 1428.3,206.5 1428.8,208.7 1429.3,211" stroke="#5ca3ff"/>
<polyline points="1429.3,211 1429.9,213.2 1430.4,215.4 1431,217.6 1431.5,219.9" stroke="#639cff"/>
<polyline points="1431.5,219.9 1432.1,222.1 1432.7,224.3 1433.2,226.5 1433.8,228.8" stroke="#6996ff"/>
<polyline points="1433.8,228.8 1434.4,231 1434.9,233.2 1435.5,235.4 1436,237.6" stroke="#708fff"/>
<polyline points="1436,237.6 1436.5,239.9 1437.1,242.1 1437.6,244.3 1438,246.6" stroke="#7689ff"/>
<polyline points="1438,246.6 1438.5,248.8 1438.9,251.1 1439.3,253.3 1439.7,255.6" stroke="#7c83ff"/>
<polyline points="1439.7,255.6 1440.1,257.9 1440.6,260.1 1441.1,262.3 1441.7,264.5" stroke="#837cff"/>
<polyline points="1441.7,264.5 1442.3,266.7 1443,268.9 1443.7,271.1 1444.4,273.3" stroke="#8976ff"/>
<polyline points="1444.4,273.3 1445.2,275.5 1445.9,277.6 1446.6,279.8 1447.4,282" stroke="#8f70ff"/>
<polyline points="1447.4,282 1448.1,284.1 1448.9,286.3 1449.7,288.5 1450.5,290.6" stroke="#9669ff"/>
<polyline points="1450.5,290.6 1451.3,292.7 1452.1,294.9 1453,297 1453.9,299.1" stroke="#9c63ff"/>
<polyline points="1453.9,299.1 1454.7,301.2 1455.6,303.4 1456.5,305.5 1457.4,307.6" stroke="#a35cff"/>
<polyline points="1457.4,307.6 1458.2,309.7 1459.1,311.8 1460,314 1460.8,316.1" stroke="#a956ff"/>
<polyline points="1460.8,316.1 1461.6,318.2 1462.4,320.4 1463.2,322.5 1464,324.7" stroke="#af50ff"/>
<polyline points="1464,324.7 1464.7,326.9 1465.5,329 1466.2,331.2 1467,333.4" stroke="#b649ff"/>
<polyline points="1467,333.4 1467.7,335.5 1468.5,337.7 1469.2,339.8 1470,342" stroke="#bc43ff"/>
<polyline points="1470,342 1470.8,344.2 1471.5,346.3 1472.3,348.5 1473,350.7" stroke="#c23dff"/>
<polyline points="1473,350.7 1473.7,352.8 1474.5,355 1475.1,357.2 1475.8,359.4" stroke="#c936ff"/>
<polyline points="1475.8,359.4 1476.4,361.6 1477,363.8 1477.6,366 1478.1,368.3" stroke="#cf30ff"/>
<polyline points="1478.1,368.3 1478.6,370.5 1479.1,372.7 1479.5,375 1479.9,377.2" stroke="#d629ff"/>
<polyline points="1479.9,377.2 1480.3,379.5 1480.7,381.8 1481.1,384 1481.5,386.3" stroke="#dc23ff"/>
<polyline points="1481.5,386.3 1481.8,388.6 1482.1,390.8 1482.5,393.1 1482.8,395.4" stroke="#e21dff"/>
<polyline points="1482.8,395.4 1483.1,397.6 1483.4,399.9 1483.6,402.2 1483.9,404.5" stroke="#e916ff"/>
<polyline points="1483.9,404.5 1484.1,406.7 1484.3,409 1484.4,411.3 1484.5,413.6" stroke="#ef10ff"/>
<polyline points="1484.5,413.6 1484.6,415.9 1484.6,418.2 1484.5,420.5 1484.3,422.8" stroke="#f50aff"/>
<polyline points="1484.3,422.8 1484,425.1 1483.5,427.3 1483,429.5 1482.2,431.7" stroke="#fc03ff"/>
</g>
<polygon points="1428.7,79.7 1426.5,81.1 1438.1,84.2 1430.1,75.2 1429.9,77.8" fill="#98fb98"/>
<polygon points="1420.7,110 1419.3,112.1 1431.1,109.8 1420,105.3 1420.9,107.7" fill="#98fb98"/>
<polygon points="1420.8,146.4 1419.9,148.7 1431,144.3 1419.2,141.9 1420.6,144.1" fill="#98fb98"/>
<polygon points="1425,182.7 1424.1,185.2 1435,180.1 1423.2,178.3 1424.6,180.4" fill="#98fb98"/>
<polygon points="1432.4,218.5 1431.8,221 1442.1,214.9 1430.1,214.3 1431.8,216.3" fill="#98fb98"/>
<polygon points="1440.2,252 1439.5,254.5 1450.2,248.9 1438.3,247.7 1439.8,249.7" fill="#98fb98"/>
<polygon points="1452,291.3 1451.7,293.8 1461.2,286.5 1449.3,287.4 1451.1,289.1" fill="#98fb98"/>
<polygon points="1462.5,324 1462.8,321.4 1453.1,328.5 1465.1,327.9 1463.3,326.2" fill="#98fb98"/>
<polygon points="1474.4,358.6 1474.8,356.1 1464.8,362.6 1476.8,362.7 1475,360.8" fill="#98fb98"/>
<polygon points="1481.2,392.1 1482,389.7 1471.1,394.7 1483,396.5 1481.5,394.4" fill="#98fb98"/>
<polygon points="1428.2,78.1 1431.8,95.8 1428.5,94.9 1436.2,109.1 1437.6,93 1434.9,95.2 1431.2,77.5" fill="#f00"/>
<polygon points="1420.7,110.1 1427.1,126.9 1423.7,126.6 1433.6,139.4 1432.4,123.2 1430,125.8 1423.5,108.9" fill="#f00"/>
<polygon points="1419.2,142.7 1427.9,158.6 1424.4,158.7 1435.9,170.1 1432.6,154.3 1430.6,157.1 1422,141.3" fill="#f00"/>
<polygon points="1421.7,176.1 1432.4,190.6 1429,191.2 1441.9,200.9 1436.4,185.7 1434.9,188.8 1424.1,174.3" fill="#f00"/>
<polygon points="1427.2,208.8 1440.5,221 1437.2,222.3 1451.8,229.3 1443.5,215.4 1442.6,218.7 1429.2,206.6" fill="#f00"/>
<polygon points="1436.4,241.7 1454.4,243.2 1452.6,246.2 1468.4,242.9 1453.3,236.9 1454.6,240.2 1436.6,238.7" fill="#f00"/>
<polygon points="1445.1,272.4 1446.7,254.4 1449.6,256.3 1446.3,240.4 1440.4,255.5 1443.6,254.2 1442.1,272.2" fill="#f00"/>
<polygon points="1456.5,305 1450.3,288 1453.8,288.4 1444.1,275.4 1445,291.6 1447.4,289.1 1453.5,306" fill="#f00"/>
<polygon points="1468.4,341.1 1460.3,325 1463.8,325 1452.7,313.2 1455.5,329.1 1457.5,326.4 1465.6,342.5" fill="#f00"/>
<polygon points="1477.5,374.3 1469,358.3 1472.5,358.2 1461.1,346.7 1464.3,362.6 1466.3,359.8 1474.7,375.7" fill="#f00"/>
<polygon points="1483.6,404.6 1475.3,388.5 1478.8,388.5 1467.5,376.9 1470.5,392.8 1472.6,390 1480.8,406" fill="#f00"/>
<polygon points="1482.8,430.3 1475.6,413.7 1479.1,413.9 1468.6,401.6 1470.5,417.6 1472.8,415 1480,431.5" fill="#f00"/>
<path d="M108.2 446.5v-16.8M108.2 37v16.8M223.4 446.5v-16.8M223.4 37v16.8M338.7 446.5v-16.8M338.7 37v16.8M454 446.5v-16.8M454 37v16.8M569.2 446.5v-16.8M569.2 37v16.8M108.2 426.2h16.8M569.2 426.2h-16.8M108.2 334h16.8M569.2 334h-16.8M108.2 241.8h16.8M569.2 241.8h-16.8M108.2 149.5h16.8M569.2 149.5h-16.8M108.2 57.3h16.8M569.2 57.3h-16.8" stroke="#000" stroke-width="1.5" fill="none"/>
<path d="M131.2 446.5v-7M131.2 37v7M154.3 446.5v-7M154.3 37v7M177.3 446.5v-7M177.3 37v7M200.4 446.5v-7M200.4 37v7M246.5 446.5v-7M246.5 37v7M269.5 446.5v-7M269.5 37v7M292.6 446.5v-7M292.6 37v7M315.6 446.5v-7M315.6 37v7M361.8 446.5v-7M361.8 37v7M384.8 446.5v-7M384.8 37v7M407.9 446.5v-7M407.9 37v7M430.9 446.5v-7M430.9 37v7M477 446.5v-7M477 37v7M500.1 446.5v-7M500.1 37v7M523.1 446.5v-7M523.1 37v7M546.2 446.5v-7M546.2 37v7M108.2 403.1h7M569.2 403.1h-7M108.2 380.1h7M569.2 380.1h-7M108.2 357h7M569.2 357h-7M108.2 310.9h7M569.2 310.9h-7M108.2 287.9h7M569.2 287.9h-7M108.2 264.8h7M569.2 264.8h-7M108.2 218.7h7M569.2 218.7h-7M108.2 195.6h7M569.2 195.6h-7M108.2 172.6h7M569.2 172.6h-7M108.2 126.5h7M569.2 126.5h-7M108.2 103.4h7M569.2 103.4h-7M108.2 80.4h7M569.2 80.4h-7" stroke="#000" stroke-width="1.1" fill="none"/>
<rect x="108.2" y="37" width="461" height="409.5" fill="none" stroke="#303030" stroke-width="1.6"/>
<text x="109.2" y="477.8" font-size="33" text-anchor="middle" textLength="56" lengthAdjust="spacingAndGlyphs" fill="#000">−50</text>
<text x="224.4" y="477.8" font-size="33" text-anchor="middle" textLength="56" lengthAdjust="spacingAndGlyphs" fill="#000">−25</text>
<text x="339.2" y="477.8" font-size="33" text-anchor="middle" fill="#000">0</text>
<text x="454.5" y="477.8" font-size="33" text-anchor="middle" fill="#000">25</text>
<text x="569.8" y="477.8" font-size="33" text-anchor="middle" fill="#000">50</text>
<text x="103.7" y="439" font-size="33" text-anchor="end" textLength="56" lengthAdjust="spacingAndGlyphs" fill="#000">−40</text>
<text x="103.7" y="346.8" font-size="33" text-anchor="end" textLength="56" lengthAdjust="spacingAndGlyphs" fill="#000">−20</text>
<text x="103.7" y="254.6" font-size="33" text-anchor="end" fill="#000">0</text>
<text x="103.7" y="162.3" font-size="33" text-anchor="end" fill="#000">20</text>
<text x="103.7" y="70.1" font-size="33" text-anchor="end" fill="#000">40</text>
<text x="338.7" y="520.5" font-size="41.5" text-anchor="middle" textLength="110" lengthAdjust="spacingAndGlyphs" fill="#000"><tspan font-style="italic">x</tspan> [kpc]</text>
<text x="339.2" y="28.4" font-size="42.5" text-anchor="middle" textLength="153.5" lengthAdjust="spacingAndGlyphs" fill="#000">Stream A</text>
<path d="M749.1 446.5v-16.8M749.1 37v16.8M891.7 446.5v-16.8M891.7 37v16.8M1034.3 446.5v-16.8M1034.3 37v16.8M661.4 355.8h16.8M1122 355.8h-16.8M661.4 241.8h16.8M1122 241.8h-16.8M661.4 127.7h16.8M1122 127.7h-16.8" stroke="#000" stroke-width="1.5" fill="none"/>
<path d="M663.5 446.5v-7M663.5 37v7M692.1 446.5v-7M692.1 37v7M720.6 446.5v-7M720.6 37v7M777.6 446.5v-7M777.6 37v7M806.1 446.5v-7M806.1 37v7M834.7 446.5v-7M834.7 37v7M863.2 446.5v-7M863.2 37v7M920.2 446.5v-7M920.2 37v7M948.7 446.5v-7M948.7 37v7M977.3 446.5v-7M977.3 37v7M1005.8 446.5v-7M1005.8 37v7M1062.8 446.5v-7M1062.8 37v7M1091.3 446.5v-7M1091.3 37v7M1119.9 446.5v-7M1119.9 37v7M661.4 441.4h7M1122 441.4h-7M661.4 412.9h7M1122 412.9h-7M661.4 384.4h7M1122 384.4h-7M661.4 327.3h7M1122 327.3h-7M661.4 298.8h7M1122 298.8h-7M661.4 270.3h7M1122 270.3h-7M661.4 213.2h7M1122 213.2h-7M661.4 184.7h7M1122 184.7h-7M661.4 156.2h7M1122 156.2h-7M661.4 99.2h7M1122 99.2h-7M661.4 70.6h7M1122 70.6h-7M661.4 42.1h7M1122 42.1h-7" stroke="#000" stroke-width="1.1" fill="none"/>
<rect x="661.4" y="37" width="460.6" height="409.5" fill="none" stroke="#303030" stroke-width="1.6"/>
<text x="750.1" y="477.8" font-size="33" text-anchor="middle" textLength="56" lengthAdjust="spacingAndGlyphs" fill="#000">−25</text>
<text x="892.2" y="477.8" font-size="33" text-anchor="middle" fill="#000">0</text>
<text x="1034.8" y="477.8" font-size="33" text-anchor="middle" fill="#000">25</text>
<text x="656.9" y="368.6" font-size="33" text-anchor="end" textLength="56" lengthAdjust="spacingAndGlyphs" fill="#000">−20</text>
<text x="656.9" y="254.6" font-size="33" text-anchor="end" fill="#000">0</text>
<text x="656.9" y="140.5" font-size="33" text-anchor="end" fill="#000">20</text>
<text x="891.7" y="520.5" font-size="41.5" text-anchor="middle" textLength="110" lengthAdjust="spacingAndGlyphs" fill="#000"><tspan font-style="italic">x</tspan> [kpc]</text>
<text x="892.2" y="28.4" font-size="42.5" text-anchor="middle" textLength="153.5" lengthAdjust="spacingAndGlyphs" fill="#000">Stream B</text>
<path d="M1328.4 446.5v-16.8M1328.4 37v16.8M1444.8 446.5v-16.8M1444.8 37v16.8M1561.1 446.5v-16.8M1561.1 37v16.8M1214.3 358.1h16.8M1675.2 358.1h-16.8M1214.3 241.8h16.8M1675.2 241.8h-16.8M1214.3 125.4h16.8M1675.2 125.4h-16.8" stroke="#000" stroke-width="1.5" fill="none"/>
<path d="M1235.3 446.5v-7M1235.3 37v7M1258.6 446.5v-7M1258.6 37v7M1281.9 446.5v-7M1281.9 37v7M1305.1 446.5v-7M1305.1 37v7M1351.7 446.5v-7M1351.7 37v7M1374.9 446.5v-7M1374.9 37v7M1398.2 446.5v-7M1398.2 37v7M1421.5 446.5v-7M1421.5 37v7M1468 446.5v-7M1468 37v7M1491.3 446.5v-7M1491.3 37v7M1514.6 446.5v-7M1514.6 37v7M1537.8 446.5v-7M1537.8 37v7M1584.4 446.5v-7M1584.4 37v7M1607.6 446.5v-7M1607.6 37v7M1630.9 446.5v-7M1630.9 37v7M1654.2 446.5v-7M1654.2 37v7M1214.3 427.9h7M1675.2 427.9h-7M1214.3 404.6h7M1675.2 404.6h-7M1214.3 381.4h7M1675.2 381.4h-7M1214.3 334.8h7M1675.2 334.8h-7M1214.3 311.6h7M1675.2 311.6h-7M1214.3 288.3h7M1675.2 288.3h-7M1214.3 265h7M1675.2 265h-7M1214.3 218.5h7M1675.2 218.5h-7M1214.3 195.2h7M1675.2 195.2h-7M1214.3 171.9h7M1675.2 171.9h-7M1214.3 148.7h7M1675.2 148.7h-7M1214.3 102.1h7M1675.2 102.1h-7M1214.3 78.9h7M1675.2 78.9h-7M1214.3 55.6h7M1675.2 55.6h-7" stroke="#000" stroke-width="1.1" fill="none"/>
<rect x="1214.3" y="37" width="460.9" height="409.5" fill="none" stroke="#303030" stroke-width="1.6"/>
<text x="1329.4" y="477.8" font-size="33" text-anchor="middle" textLength="56" lengthAdjust="spacingAndGlyphs" fill="#000">−50</text>
<text x="1445.2" y="477.8" font-size="33" text-anchor="middle" fill="#000">0</text>
<text x="1561.6" y="477.8" font-size="33" text-anchor="middle" fill="#000">50</text>
<text x="1209.8" y="370.9" font-size="33" text-anchor="end" textLength="56" lengthAdjust="spacingAndGlyphs" fill="#000">−50</text>
<text x="1209.8" y="254.6" font-size="33" text-anchor="end" fill="#000">0</text>
<text x="1209.8" y="138.2" font-size="33" text-anchor="end" fill="#000">50</text>
<text x="1444.8" y="520.5" font-size="41.5" text-anchor="middle" textLength="110" lengthAdjust="spacingAndGlyphs" fill="#000"><tspan font-style="italic">x</tspan> [kpc]</text>
<text x="1445.2" y="28.4" font-size="42.5" text-anchor="middle" textLength="153.5" lengthAdjust="spacingAndGlyphs" fill="#000">Stream C</text>
<text x="30.5" y="243.5" font-size="41.5" text-anchor="middle" transform="rotate(-90 30.5 243.5)" textLength="110" lengthAdjust="spacingAndGlyphs" fill="#000"><tspan font-style="italic">y</tspan> [kpc]</text>
<linearGradient id="gg" x1="0" y1="1" x2="0" y2="0"><stop offset="0" stop-color="#0ff"/><stop offset="1" stop-color="#f0f"/></linearGradient>
<rect x="1699.1" y="39.4" width="20.7" height="409.9" fill="url(#gg)" stroke="#000" stroke-width="1.2"/>
<path d="M1719.8 449.3h5.5" stroke="#000" stroke-width="1.2"/>
<text x="1735" y="457.6" font-size="17.5" textLength="41.5" lengthAdjust="spacingAndGlyphs" fill="#000" stroke="#000" stroke-width="0.12">−1.00</text>
<path d="M1719.8 398.1h5.5" stroke="#000" stroke-width="1.2"/>
<text x="1735" y="406.4" font-size="17.5" textLength="41.5" lengthAdjust="spacingAndGlyphs" fill="#000" stroke="#000" stroke-width="0.12">−0.75</text>
<path d="M1719.8 346.8h5.5" stroke="#000" stroke-width="1.2"/>
<text x="1735" y="355.1" font-size="17.5" textLength="41.5" lengthAdjust="spacingAndGlyphs" fill="#000" stroke="#000" stroke-width="0.12">−0.50</text>
<path d="M1719.8 295.6h5.5" stroke="#000" stroke-width="1.2"/>
<text x="1735" y="303.9" font-size="17.5" textLength="41.5" lengthAdjust="spacingAndGlyphs" fill="#000" stroke="#000" stroke-width="0.12">−0.25</text>
<path d="M1719.8 244.3h5.5" stroke="#000" stroke-width="1.2"/>
<text x="1735" y="252.7" font-size="17.5" textLength="29.5" lengthAdjust="spacingAndGlyphs" fill="#000" stroke="#000" stroke-width="0.12">0.00</text>
<path d="M1719.8 193.1h5.5" stroke="#000" stroke-width="1.2"/>
<text x="1735" y="201.4" font-size="17.5" textLength="29.5" lengthAdjust="spacingAndGlyphs" fill="#000" stroke="#000" stroke-width="0.12">0.25</text>
<path d="M1719.8 141.9h5.5" stroke="#000" stroke-width="1.2"/>
<text x="1735" y="150.2" font-size="17.5" textLength="29.5" lengthAdjust="spacingAndGlyphs" fill="#000" stroke="#000" stroke-width="0.12">0.50</text>
<path d="M1719.8 90.6h5.5" stroke="#000" stroke-width="1.2"/>
<text x="1735" y="98.9" font-size="17.5" textLength="29.5" lengthAdjust="spacingAndGlyphs" fill="#000" stroke="#000" stroke-width="0.12">0.75</text>
<path d="M1719.8 39.4h5.5" stroke="#000" stroke-width="1.2"/>
<text x="1735" y="47.7" font-size="17.5" textLength="29.5" lengthAdjust="spacingAndGlyphs" fill="#000" stroke="#000" stroke-width="0.12">1.00</text>
<text x="1811" y="243" font-size="37" text-anchor="middle" font-style="italic" transform="rotate(-90 1811 243)" fill="#000">γ</text>
<clipPath id="r2c0"><rect x="103.9" y="546.1" width="469.1" height="409"/></clipPath>
<g clip-path="url(#r2c0)" stroke-width="0.7" stroke-linejoin="round">
<path d="M102.9 679l23.6-4.9 3.4-.1 1.7 1.2 1.5 40.3 1.9 147 .5 14.7 .7 3.1 1.6 .5 11.2 .9 19.1-.2 11.3-.6 2.2-.7 .7-1.2 2.7-193.4 1.1-5 1.9-2 19.5 1.7 35.9 8.8 15.8 6.2 15.7 9.1 15.8 12.6 12.2 8.5 8 8.6 15.7 22.6 27 46.7 7.9 11 7.9 8.3 20.2 14.7 12.7 7.5 15.5 7.3 37 14.8 13.5 .9 3.4-2.9 1.1-3.2 1.5-22.6 1.9-125.5 2.2-28.4 2.3-3.1 2.2-1.4 3.4-.3 9.2 4 8.8 6.4 11.2 11.3 37.1 42.8 14.7 14.9 6.7 5.3 0 .2-5.2-3.7-13.9-14.1-39.4-44.4-12.3-11.7-7.7-4.9-4.7-1.7-4.5-.6-6.7 4.6-.9 2.2-1.4 12-1.1 17.7-1.9 109.1-1.5 20.1-1.1 4.1-2.3 .8-2.4 5.7-2.6 2.2-5.1 1.3-6.7-.3-12.6-4-20-7.8-18-8.1-13.5-8-19.1-13.9-7.9-8.3-7.9-10.9-27-46.6-15.7-22.5-8-8.6-12.2-8.5-15.8-12.6-15.7-8.9-16.9-6.6-36-8.3-7.8-.8-9 .5-1.5 1.1-1.9 3.8-1.1 6.8-2.7 179.5-5.2 7.3-2.2 1.1-18 1.6-16.9-.4-3.8-1.6-.7-3.2-2.4-161.1-1.5-40-1.7-1.3-3.4 .3-23.6 4.8z" fill="#010102" stroke="#010102"/>
<path d="M102.9 678.6l23.6-4.8 3.4-.3 1.7 1.3 1.5 40 2.4 161.1 .7 3.2 3.8 1.6 16.9 .4 18-1.6 2.2-1.1 5.2-7.3 2.7-179.5 1.1-6.8 1.9-3.8 1.5-1.1 9-.5 7.8 .8 36 8.3 16.9 6.6 15.7 8.9 15.8 12.6 12.2 8.5 8 8.6 15.7 22.5 27 46.6 7.9 10.9 7.9 8.3 19.1 13.9 13.5 8 18 8.1 20 7.8 12.6 4 6.7 .3 5.1-1.3 2.6-2.2 2.4-5.7 2.3-.8 1.1-4.1 1.5-20.1 1.9-109.1 1.1-17.7 1.4-12 .9-2.2 6.7-4.6 4.5 .6 4.7 1.7 7.7 4.9 12.3 11.7 39.4 44.4 13.9 14.1 5.2 3.7 0 .2-5.2-3.4-13.9-14.3-38.2-42.4-9-8.7-6.8-5.1-5.4-2.6-4.7-1.1-5.6 1.3-3.4 4.9-2.2 .9-2.3 16.7-1.1 16.3-1.9 92.7-.8 12.8-1.3 7.6-.5 1.8-2.3-.5-2.2 7.1-.2 2.9-3.2 4.9-4.5 2.6-3.4 .9-7.8-.8-28.1-9.4-18-7.7-13.5-8-19.1-13.7-7.9-8.3-7.9-10.8-27-46.6-15.7-22.4-8-8.5-12.2-8.5-14.6-11.7-15.6-9.1-17.1-6.8-35.9-8.1-9-.9-5.3 .4-3.7 1.5-1.1 1.4-2.3 6.6-1.1 8.7-2.7 164.4-5.2 12.8-2.2 2.1-12.4 2.4-22.5 .2-3.8-2.4-.7-3.4-2.4-160.2-1.5-39.8-1.7-1.3-3.4 .3-23.6 4.9z" fill="#040205" stroke="#040205"/>
<path d="M102.9 678.2l23.6-4.9 3.4-.3 1.7 1.3 1.5 39.8 2.4 160.2 .7 3.4 3.8 2.4 22.5-.2 12.4-2.4 2.2-2.1 5.2-12.8 2.7-164.4 1.1-8.7 2.3-6.6 1.1-1.4 3.7-1.5 5.3-.4 9 .9 35.9 8.1 17.1 6.8 15.6 9.1 14.6 11.7 12.2 8.5 8 8.5 15.7 22.4 27 46.6 7.9 10.8 7.9 8.3 19.1 13.7 13.5 8 18 7.7 28.1 9.4 7.8 .8 3.4-.9 4.5-2.6 3.2-4.9 .2-2.9 2.2-7.1 2.3 .5 .5-1.8 1.3-7.6 .8-12.8 1.9-92.7 1.1-16.3 2.3-16.7 2.2-.9 3.4-4.9 5.6-1.3 4.7 1.1 5.4 2.6 6.8 5.1 9 8.7 38.2 42.4 13.9 14.3 5.2 3.4 0 .3-2.1-1.9-3.1-1.4-57.7-61.4-9.1-6.8-5.6-2.5-5.6-.7-4.5 2-1.1 .9 0 1.1-3.4 5.6-2.2 .5-.9 4-2.5 29.2-2.3 85.9-2.2 13-2.3-1.4-2.2 8.8-.2 3.9-2.6 6.3-1.7 2.1-3.4 2.7-3.4 1.6-7 .2-5.3-.9-25.9-8-15.7-6.7-14.6-8.6-19.2-14-6.7-7.2-7.9-10.7-27-46.5-15.7-22.3-7.9-8.4-13.5-9.4-13.4-10.8-15.6-9-10.3-4.5-7.9-2.6-23.6-5.6-12.4-2-7.8-.6-5.3 1-3.7 2.3-1.1 2.2-2.3 8.9-1.1 10.4-2.2 139.6-.5 10.3-.7 2.8-4.5 15.1-2.2 3.1-4.5 1.9-6.8 1.4-12.4 .9-11.2-.2-3.4-2.6-1.1-4.3-2.4-159.3-1.5-39.6-1.7-1.2-3.4 .3-23.6 5z" fill="#060407" stroke="#060407"/>
<path d="M102.9 677.8l23.6-5 3.4-.3 1.7 1.2 1.5 39.6 2.4 159.3 1.1 4.3 3.4 2.6 11.2 .2 12.4-.9 6.8-1.4 4.5-1.9 2.2-3.1 4.5-15.1 .7-2.8 .5-10.3 2.2-139.6 1.1-10.4 2.3-8.9 1.1-2.2 3.7-2.3 5.3-1 7.8 .6 12.4 2 23.6 5.6 7.9 2.6 10.3 4.5 15.6 9 13.4 10.8 13.5 9.4 7.9 8.4 15.7 22.3 27 46.5 7.9 10.7 6.7 7.2 19.2 14 14.6 8.6 15.7 6.7 25.9 8 5.3 .9 7-.2 3.4-1.6 3.4-2.7 1.7-2.1 2.6-6.3 .2-3.9 2.2-8.8 2.3 1.4 2.2-13 2.3-85.9 2.5-29.2 .9-4 2.2-.5 3.4-5.6 0-1.1 1.1-.9 4.5-2 5.6 .7 5.6 2.5 9.1 6.8 57.7 61.4 3.1 1.4 2.1 1.9 0 .3-2.1-2.2-3.1-.7-2.7-3.6-18-17.8-26.7-28.6-10.3-10-9.1-5.8-4.5-1.5-6.7 .1-2.3 1.4-3.3 3.7 0 1.7-3.4 7.3-2.2-.1-.9 5-2.5 27.2-2.3 68-2.2 11.2-2.3-2.1-2.2 9.7-.2 5-2.6 8.4-5.1 7-3.4 2.6-3.3 .9-4.5 .6-9-.9-21.4-6-16.8-6.9-18-10.7-14.7-10.9-6.7-7.2-7.9-10.6-27-46.3-14.6-20.8-9-9.7-13.5-9.4-12.3-9.9-14.6-8.7-16.9-7-27-6.4-14.6-1.9-5.6-.1-5.3 1.7-3.7 3.7-3.4 15.7-1.1 12.4-1.1 42.9-1.2 81-.4 5.9-1.8 6.2-3.4 17.9-2.2 4.8-7.9 4.2-10.1 1.5-16.9 .4-1.2-.5-2.2-3.1-1.1-4.9-2.4-158-1.5-39.2-1.7-1.1-3.4 .4-23.6 5z" fill="#08050a" stroke="#08050a"/>
<path d="M102.9 677.1l23.6-5 3.4-.4 1.7 1.1 1.5 39.2 2.4 158 1.1 4.9 2.2 3.1 1.2 .5 16.9-.4 10.1-1.5 7.9-4.2 2.2-4.8 3.4-17.9 1.8-6.2 .4-5.9 1.2-81 1.1-42.9 1.1-12.4 3.4-15.7 3.7-3.7 5.3-1.7 5.6 .1 14.6 1.9 27 6.4 16.9 7 14.6 8.7 12.3 9.9 13.5 9.4 9 9.7 14.6 20.8 27 46.3 7.9 10.6 6.7 7.2 14.7 10.9 18 10.7 16.8 6.9 21.4 6 9 .9 4.5-.6 3.3-.9 3.4-2.6 5.1-7 2.6-8.4 .2-5 2.2-9.7 2.3 2.1 2.2-11.2 2.3-68 2.5-27.2 .9-5 2.2 .1 3.4-7.3 0-1.7 3.3-3.7 2.3-1.4 6.7-.1 4.5 1.5 9.1 5.8 10.3 10 26.7 28.6 18 17.8 2.7 3.6 3.1 .7 2.1 2.2 0 .4-2.1-2.6-3.1 0-3.4-4.7-16.1-15.6-27.9-28.9-10.3-9.3-10.2-5.4-5.4-.5-.2 .5-4.5 .8-2.3 2.1-3.3 5 0 2-3.4 8.4-2.2-.5-3.4 30.3-2.3 55.1-2.2 9.4-2.3-2.4-2.2 9.5-.2 5.3-3.2 11.5-4.5 6.8-3.4 3.5-7 2.5-8.9 .4-12.2-2.2-15.7-4.8-15.7-6.8-18-11.3-11.3-8.9-6.7-7.4-7.9-10.8-25.9-44.4-14.6-20.8-9-9.6-13.5-9.3-12.3-9.8-15.8-9.2-16.4-6.6-26.3-6-14.6-1.4-5.6 .1-5.3 2.5-3.7 5.1-3.4 19.7-1.1 13.7-1.1 38.1-1.2 69.3-.4 5.4-1.8 6.6-3.4 21.9-2.2 6.3-3.4 3-4.5 2.6-10.1 2-16.9 .7-2.5-2.6-2-7.5-2.4-156.6-1.5-38.9-1.7-1-3.4 .4-23.6 5.1z" fill="#0a060d" stroke="#0a060d"/>
<path d="M102.9 676.4l23.6-5.1 3.4-.4 1.7 1 1.5 38.9 2.4 156.6 2 7.5 2.5 2.6 16.9-.7 10.1-2 4.5-2.6 3.4-3 2.2-6.3 3.4-21.9 1.8-6.6 .4-5.4 1.2-69.3 1.1-38.1 1.1-13.7 3.4-19.7 3.7-5.1 5.3-2.5 5.6-.1 14.6 1.4 26.3 6 16.4 6.6 15.8 9.2 12.3 9.8 13.5 9.3 9 9.6 14.6 20.8 25.9 44.4 7.9 10.8 6.7 7.4 11.3 8.9 18 11.3 15.7 6.8 15.7 4.8 12.2 2.2 8.9-.4 7-2.5 3.4-3.5 4.5-6.8 3.2-11.5 .2-5.3 2.2-9.5 2.3 2.4 2.2-9.4 2.3-55.1 3.4-30.3 2.2 .5 3.4-8.4 0-2 3.3-5 2.3-2.1 4.5-.8 .2-.5 5.4 .5 10.2 5.4 10.3 9.3 27.9 28.9 16.1 15.6 3.4 4.7 3.1 0 2.1 2.6 0 .1-2.1-2.7-3.1 .2-3.4-4.8-16.1-15.5-27.9-28.6-10.3-9.1-10.2-5.2-5.4-.2-.2 .6-4.5 1-2.3 2.2-3.3 5.4 0 2.1-3.4 8.6-2.2-.6-3.4 29.5-2.3 51.9-2.2 9-2.3-2.4-2.2 9.3-.2 5.3-3.2 11.8-4.5 7.1-3.4 3.7-7 2.9-8.9 .7-12.2-2-15.7-4.6-15.7-6.8-18-11.2-11.3-8.9-6.7-7.4-7.9-10.7-25.9-44.4-14.6-20.7-9-9.6-13.5-9.4-12.3-9.7-15.8-9.2-16.4-6.5-26.3-6-14.6-1.3-5.6 .2-5.3 2.7-3.7 5.6-3.4 20.9-1.1 13.9-1.1 36.7-1.2 66.2-5.6 34.8-2.2 6.7-3.4 3.2-4.5 2.8-10.1 2.2-16.9 .8-2.5-2.8-2-7.8-2.4-156.2-1.5-38.7-1.7-1-4.5 .6-22.5 4.9z" fill="#0c070f" stroke="#0c070f"/>
<path d="M102.9 676.2l22.5-4.9 4.5-.6 1.7 1 1.5 38.7 2.4 156.2 2 7.8 2.5 2.8 16.9-.8 10.1-2.2 4.5-2.8 3.4-3.2 2.2-6.7 5.6-34.8 1.2-66.2 1.1-36.7 1.1-13.9 3.4-20.9 3.7-5.6 5.3-2.7 5.6-.2 14.6 1.3 26.3 6 16.4 6.5 15.8 9.2 12.3 9.7 13.5 9.4 9 9.6 14.6 20.7 25.9 44.4 7.9 10.7 6.7 7.4 11.3 8.9 18 11.2 15.7 6.8 15.7 4.6 12.2 2 8.9-.7 7-2.9 3.4-3.7 4.5-7.1 3.2-11.8 .2-5.3 2.2-9.3 2.3 2.4 2.2-9 2.3-51.9 3.4-29.5 2.2 .6 3.4-8.6 0-2.1 3.3-5.4 2.3-2.2 4.5-1 .2-.6 5.4 .2 10.2 5.2 10.3 9.1 27.9 28.6 16.1 15.5 3.4 4.8 3.1-.2 2.1 2.7 0 .8-1.1-2.8-1-.6-3.1 1.5-3.4-5.5-38.6-36.8-10.1-8.8-5.6-3.8-4.6-2-5.6-1.3-.2 .6-5.2 .6-.2 .9-4.5 2.1-2.3 3.1-3.3 7 0 2.5-3.4 9.1-2.2-1.1-3.4 24.5-2.3 36.8-2.2 6.3-2.3-2.4-2.2 7.7-.2 4.9-3.2 12.3-3.4 5.2-1.1 3.2-4.5 5.7-6.7 4.3-4.5 1.4-10.2 .5-15.7-2.5-15.7-5.2-9-4.2-16.9-10.8-10.1-8.3-6.7-7.5-6.8-9.1-25.9-44.1-13.4-19.1-10.2-10.8-13.5-9.3-11.2-8.7-16.9-9.8-18-6.7-24.7-5.2-15.1-.4-5.1 .7-5.3 4.3-3.7 8.2-1.1 6.9-3.4 34.6-2.3 79.3-3.3 17.7-2.3 19.9-2.2 9.4-4.5 5.6-3.4 3-2.3 1-7.8 2.1-12.4 .7-3.6 1.1-2-1.1-1.1-2.6-2.3-10.6-2.4-153.3-1.5-38-1.7-.8-4.5 .7-22.5 5z" fill="#0e0912" stroke="#0e0912"/>
<path d="M102.9 674.7l22.5-5 4.5-.7 1.7 .8 1.5 38 2.4 153.3 2.3 10.6 1.1 2.6 2 1.1 3.6-1.1 12.4-.7 7.8-2.1 2.3-1 3.4-3 4.5-5.6 2.2-9.4 2.3-19.9 3.3-17.7 2.3-79.3 3.4-34.6 1.1-6.9 3.7-8.2 5.3-4.3 5.1-.7 15.1 .4 24.7 5.2 18 6.7 16.9 9.8 11.2 8.7 13.5 9.3 10.2 10.8 13.4 19.1 25.9 44.1 6.8 9.1 6.7 7.5 10.1 8.3 16.9 10.8 9 4.2 15.7 5.2 15.7 2.5 10.2-.5 4.5-1.4 6.7-4.3 4.5-5.7 1.1-3.2 3.4-5.2 3.2-12.3 .2-4.9 2.2-7.7 2.3 2.4 2.2-6.3 2.3-36.8 3.4-24.5 2.2 1.1 3.4-9.1 0-2.5 3.3-7 2.3-3.1 4.5-2.1 .2-.9 5.2-.6 .2-.6 5.6 1.3 4.6 2 5.6 3.8 10.1 8.8 38.6 36.8 3.4 5.5 3.1-1.5 1 .6 1.1 2.8 0 1-1.1-3.8-1-.6-3.1 3.4-.4-2-3-4.6-44-38.4-10.3-6.2-.1 .6-4.5-1.7-5.6 0-.2 .7-5.2 1.9-.2 1.1-4.5 3-5.6 11.4 0 2.5-3.4 8.4-2.2-1.4-3.4 19-2.3 26.1-2.2 4.2-2.3-2.3-2.2 5.9-.2 4.1-3.2 11-7.9 14.1-6.7 5-1.1 1.7-9 3.7-11.3 .9-15.7-2.5-11.2-3.4-12.4-6-15.8-10.3-10.2-9.4-7.8-9.5-6.7-9.9-19.2-33.2-8.9-13.8-11.2-13.9-7.9-7.1-28.1-19.5-10.1-5.4-11.3-4.6-11.2-3.2-21.4-3.9-7.9 1.2-9.8-.1-2.5 1-4.5 5-4.5 12.8-4.5 45.1-2.3 60.1-3.3 15.4-2.3 21.4-2.2 11.7-4.5 7.5-3.4 4-2.3 1.4-7.8 3-5.7 1-6.7 .2-3.6 1.5-2-1.5-1.1-3.6-2.3-13.7-2.4-149.6-1.5-36.9-1.7-.7-27 6z" fill="#120b17" stroke="#120b17"/>
<path d="M102.9 672.8l27-6 1.7 .7 1.5 36.9 2.4 149.6 2.3 13.7 1.1 3.6 2 1.5 3.6-1.5 6.7-.2 5.7-1 7.8-3 2.3-1.4 3.4-4 4.5-7.5 2.2-11.7 2.3-21.4 3.3-15.4 2.3-60.1 4.5-45.1 4.5-12.8 4.5-5 2.5-1 9.8 .1 7.9-1.2 21.4 3.9 11.2 3.2 11.3 4.6 10.1 5.4 28.1 19.5 7.9 7.1 11.2 13.9 8.9 13.8 19.2 33.2 6.7 9.9 7.8 9.5 10.2 9.4 15.8 10.3 12.4 6 11.2 3.4 15.7 2.5 11.3-.9 9-3.7 1.1-1.7 6.7-5 7.9-14.1 3.2-11 .2-4.1 2.2-5.9 2.3 2.3 2.2-4.2 2.3-26.1 3.4-19 2.2 1.4 3.4-8.4 0-2.5 5.6-11.4 4.5-3 .2-1.1 5.2-1.9 .2-.7 5.6 0 4.5 1.7 .1-.6 10.3 6.2 44 38.4 3 4.6 .4 2 3.1-3.4 1 .6 1.1 3.8 0 .8-1.1-4.6-1-.5-3.1 4.7-.4-2.3-3.4-5.4-36-30.1-6.7-4.9-5.6-3.4-5.6-2.2-.1 .6-4.5-1.1-1.1 .6-4.5 .1-.2 .9-5.2 2.5-.2 1.2-4.5 3.4-5.6 11.3 0 2.5-3.4 7.4-2.2-1.5-1.2 7.5-2.2 8.2-2.3 21-2.2 3.1-2.3-2.1-2.2 4.8-.2 3.5-3.2 9.8-3.4 4.8-1.1 3.3-2.2 2.7-1.2 2.8-6.7 5.5-1.1 1.8-9 4.7-11.3 1.8-10.1-.6-5.6-1-10.1-2.7-13.5-6-15.8-10.1-10.2-9.3-7.8-9.2-6.7-9.7-19.2-33.1-8.9-13.7-11.2-13.7-9-7.8-28.1-19-10.2-5.1-12.3-4.7-11.3-2.8-19.1-3.1-7.9 1.9-9.8 .3-2.5 1.2-4.5 6.3-4.5 15.5-4.5 45.6-2.3 50.1-3.3 13.7-2.3 21.1-2.2 12.8-4.5 8.7-3.4 4.8-2.3 1.7-7.8 3.6-5.7 1.2-6.7 .4-3.6 1.7-2-1.7-1.1-4.4-2.3-16.1-2.4-146.8-1.5-36.1-1.7-.5-27 6.2z" fill="#150e1b" stroke="#150e1b"/>
<path d="M102.9 671.3l27-6.2 1.7 .5 1.5 36.1 2.4 146.8 2.3 16.1 1.1 4.4 2 1.7 3.6-1.7 6.7-.4 5.7-1.2 7.8-3.6 2.3-1.7 3.4-4.8 4.5-8.7 2.2-12.8 2.3-21.1 3.3-13.7 2.3-50.1 4.5-45.6 4.5-15.5 4.5-6.3 2.5-1.2 9.8-.3 7.9-1.9 19.1 3.1 11.3 2.8 12.3 4.7 10.2 5.1 28.1 19 9 7.8 11.2 13.7 8.9 13.7 19.2 33.1 6.7 9.7 7.8 9.2 10.2 9.3 15.8 10.1 13.5 6 10.1 2.7 5.6 1 10.1 .6 11.3-1.8 9-4.7 1.1-1.8 6.7-5.5 1.2-2.8 2.2-2.7 1.1-3.3 3.4-4.8 3.2-9.8 .2-3.5 2.2-4.8 2.3 2.1 2.2-3.1 2.3-21 2.2-8.2 1.2-7.5 2.2 1.5 3.4-7.4 0-2.5 5.6-11.3 4.5-3.4 .2-1.2 5.2-2.5 .2-.9 4.5-.1 1.1-.6 4.5 1.1 .1-.6 5.6 2.2 5.6 3.4 6.7 4.9 36 30.1 3.4 5.4 .4 2.3 3.1-4.7 1 .5 1.1 4.6 0 .7-1.1-5.2-1-.6-3.1 5.9-.4-2.6-3-5.4-38.6-30.6-10.1-5.7-5.6-1.7-.1 .7-4.5-.8-1.1 .8-4.5 .5-.2 1-5.2 2.8-.2 1.3-4.5 3.4-5.6 11 0 2.3-3.4 6.7-2.2-1.6-1.2 6.6-2.2 7-2.3 17.8-2.2 2.5-2.3-2.1-1.1 1.8-4.5 14.2-3.4 4.4-1.1 3.1-2.2 2.6-1.2 2.8-6.7 5.5-1.1 2-4.4 2.2-.1 .8-4.5 2.2-5.6 1-.1 .5-5.6 1-10.1-.2-15.7-3.2-9-3.4-11.4-6.2-11.1-7.9-9-8.4-6.8-8-6.7-9.6-20.2-34.6-7.9-12-11.2-13.5-7.9-6.8-29.2-19.6-10.2-5-12.3-4.6-11.3-2.6-19.1-2.8-7.9 2.4-9 .5-3.3 1.6-4.5 7.3-4.5 17.6-4.5 45.2-2.3 43.8-3.3 12.4-2.3 20.4-2.2 13.4-4.5 9.5-3.4 5.3-2.3 1.9-7.8 4.1-5.7 1.4-6.7 .5-3.6 2-2-1.9-1.1-5.2-2.3-18.1-2.4-144.3-1.5-35.5-1.7-.4-27 6.5z" fill="#180f1e" stroke="#180f1e"/>
<path d="M102.9 670.1l27-6.5 1.7 .4 1.5 35.5 2.4 144.3 2.3 18.1 1.1 5.2 2 1.9 3.6-2 6.7-.5 5.7-1.4 7.8-4.1 2.3-1.9 3.4-5.3 4.5-9.5 2.2-13.4 2.3-20.4 3.3-12.4 2.3-43.8 4.5-45.2 4.5-17.6 4.5-7.3 3.3-1.6 9-.5 7.9-2.4 19.1 2.8 11.3 2.6 12.3 4.6 10.2 5 29.2 19.6 7.9 6.8 11.2 13.5 7.9 12 20.2 34.6 6.7 9.6 6.8 8 9 8.4 11.1 7.9 11.4 6.2 9 3.4 15.7 3.2 10.1 .2 5.6-1 .1-.5 5.6-1 4.5-2.2 .1-.8 4.4-2.2 1.1-2 6.7-5.5 1.2-2.8 2.2-2.6 1.1-3.1 3.4-4.4 4.5-14.2 1.1-1.8 2.3 2.1 2.2-2.5 2.3-17.8 2.2-7 1.2-6.6 2.2 1.6 3.4-6.7 0-2.3 5.6-11 4.5-3.4 .2-1.3 5.2-2.8 .2-1 4.5-.5 1.1-.8 4.5 .8 .1-.7 5.6 1.7 10.1 5.7 38.6 30.6 3 5.4 .4 2.6 3.1-5.9 1 .6 1.1 5.2 0 1.7-1.1-6.9-1.1-.4-3 8.8-.4-3.4-2.3-5.4-1.1-1.2-28.1-19.8-10.1-6.4-10.1-3.9-1.2 .3-4.4-1-.1 .9-4.5-.2-1.1 1.1-4.5 1-.2 1.1-5.2 3.1-.2 1.3-4.5 3.3-2.3 3.4-1.1 3.1-2.2 2.9 0 1.9-3.4 5-2.2-1.6-1.2 4.9-2.2 4.7-2.3 12.6-2.2 1.3-2.3-1.9-1.1 1.2-4.5 10.8-3.4 3.4-4.5 7.3-6.7 5.1-1.1 2-4.4 2.4-.1 .9-3.4 1.4-.2 .7-12.2 4-10.1 .7-15.7-2.1-9-3-11.4-5.8-11.1-7.7-9-8.2-6.8-7.6-6.7-9.1-27-44.6-10.1-12.2-7.9-7.4-26.9-18-14.7-7.2-11.2-3.9-7.9-1.9-23.6-3-7.9 4-6.7 .5-3.1 1-2.5 2.1-4.5 9.7-4.5 22-2.3 26.2-2.2 16.2-2.3 33-3.3 9.8-4.5 31.7-2.3 6.1-5.6 11.1-3.4 3.3-6.7 4.2-5.7 1.8-6.7 .9-3.6 2.6-.9-.3-1.2-2.4-3.3-29.9-2.4-138.3-1.5-33.7-1.7-.1-2.3 1-24.7 5.9z" fill="#1c1125" stroke="#1c1125"/>
<path d="M102.9 666.9l24.7-5.9 2.3-1 1.7 .1 1.5 33.7 2.4 138.3 3.3 29.9 1.2 2.4 .9 .3 3.6-2.6 6.7-.9 5.7-1.8 6.7-4.2 3.4-3.3 5.6-11.1 2.3-6.1 4.5-31.7 3.3-9.8 2.3-33 2.2-16.2 2.3-26.2 4.5-22 4.5-9.7 2.5-2.1 3.1-1 6.7-.5 7.9-4 23.6 3 7.9 1.9 11.2 3.9 14.7 7.2 26.9 18 7.9 7.4 10.1 12.2 27 44.6 6.7 9.1 6.8 7.6 9 8.2 11.1 7.7 11.4 5.8 9 3 15.7 2.1 10.1-.7 12.2-4 .2-.7 3.4-1.4 .1-.9 4.4-2.4 1.1-2 6.7-5.1 4.5-7.3 3.4-3.4 4.5-10.8 1.1-1.2 2.3 1.9 2.2-1.3 2.3-12.6 2.2-4.7 1.2-4.9 2.2 1.6 3.4-5 0-1.9 2.2-2.9 1.1-3.1 2.3-3.4 4.5-3.3 .2-1.3 5.2-3.1 .2-1.1 4.5-1 1.1-1.1 4.5 .2 .1-.9 4.4 1 1.2-.3 10.1 3.9 10.1 6.4 28.1 19.8 1.1 1.2 2.3 5.4 .4 3.4 3-8.8 1.1 .4 1.1 6.9 0 1.6-1.1-8.4-1-.5-3.1 11.7-.4-4-2.3-6.3-4.5-3.5-4.5-2.2-20.2-12.7-10.1-5.2-.2 .5-4.3-1.8-1.1 .3-4.5-1.5-1.2 .6-4.4-.6-.1 1-4.5 .2-1.1 1.2-4.5 1.2-.2 1.1-4.3 2.1-1.1 2-4.5 2.7-3 4-.4 1.5-2.2 2.3 0 1.6-2.3 2.6-1.1 1.1-2.2-1.6-1.2 3.8-2.2 3.3-2.3 9.5-2.2 .7-2.3-1.9-1.1 .8-4.5 8.4-3.4 2.7-4.5 6.1-6.7 4.4-1.1 1.9-4.4 2.2-.1 .9-3.4 1.4-1.1 1.2-11.3 4-7.8 .4-2.3 .8-16.8-1.7-7.9-2.2-11.4-5.5-11.1-7.6-10.1-9.1-5.7-6.1-6.7-8.8-21.4-35.8-6.7-10-10.1-11.4-6.8-5.9-25.8-16.8-15.8-7.5-12.3-3.9-7.9-1.7-22.5-1.9-7.9 5.5-6.7 1-3.1 1.4-2.5 2.6-4.5 12.1-4.5 25.1-2.3 25-3.3 23.9-1.2 16.2-3.3 8.1-4.5 28.7-2.3 6.3-5.6 12.1-3.4 3.7-6.7 4.9-5.7 2.2-6.7 1.1-3.6 3.2-.9-.4-1.2-3-3.3-36.4-2.4-132.4-1.5-32.1-28.7 7.6z" fill="#231430" stroke="#231430"/>
<path d="M102.9 663.8l28.7-7.6 1.5 32.1 2.4 132.4 3.3 36.4 1.2 3 .9 .4 3.6-3.2 6.7-1.1 5.7-2.2 6.7-4.9 3.4-3.7 5.6-12.1 2.3-6.3 4.5-28.7 3.3-8.1 1.2-16.2 3.3-23.9 2.3-25 4.5-25.1 4.5-12.1 2.5-2.6 3.1-1.4 6.7-1 7.9-5.5 22.5 1.9 7.9 1.7 12.3 3.9 15.8 7.5 25.8 16.8 6.8 5.9 10.1 11.4 6.7 10 21.4 35.8 6.7 8.8 5.7 6.1 10.1 9.1 11.1 7.6 11.4 5.5 7.9 2.2 16.8 1.7 2.3-.8 7.8-.4 11.3-4 1.1-1.2 3.4-1.4 .1-.9 4.4-2.2 1.1-1.9 6.7-4.4 4.5-6.1 3.4-2.7 4.5-8.4 1.1-.8 2.3 1.9 2.2-.7 2.3-9.5 2.2-3.3 1.2-3.8 2.2 1.6 1.1-1.1 2.3-2.6 0-1.6 2.2-2.3 .4-1.5 3-4 4.5-2.7 1.1-2 4.3-2.1 .2-1.1 4.5-1.2 1.1-1.2 4.5-.2 .1-1 4.4 .6 1.2-.6 4.5 1.5 1.1-.3 4.3 1.8 .2-.5 10.1 5.2 20.2 12.7 4.5 2.2 4.5 3.5 2.3 6.3 .4 4 3.1-11.7 1 .5 1.1 8.4 0 .1-1.1-8.5-1-.5-3.1 11.9-.4-4-2.3-6.4-4.5-3.5-4.5-2.1-20.2-12.6-10.1-5.1-.2 .5-4.3-1.8-1.1 .3-4.5-1.4-1.2 .5-4.4-.5-.1 1-4.5 .2-1.1 1.3-4.5 1.1-.2 1.1-4.3 2.2-1.1 1.9-4.5 2.7-3 3.9-.4 1.5-2.2 2.2 0 1.6-2.3 2.6-1.1 1.1-2.2-1.7-1.2 3.8-2.2 3.2-2.3 9.3-2.2 .6-2.3-1.8-1.1 .8-4.5 8.2-3.4 2.7-4.5 6-6.7 4.3-1.1 1.9-4.4 2.2-.1 .9-3.4 1.4-1.1 1.2-11.3 4-7.8 .4-2.3 .8-15.7-1.3-5.6-1.5-13.5-5.8-7.9-5-12.5-10.2-7.8-8.3-8.9-12.1-24.8-40.8-9-10.6-7.8-7.4-27-17.6-15.8-7.5-12.3-3.9-7.9-1.6-22.5-1.9-7.9 5.7-6.7 1-3.1 1.4-2.5 2.6-4.5 12.3-4.5 25.3-2.3 24.9-3.3 23.6-1.2 15.9-3.3 8-4.5 28.5-2.3 6.3-5.6 12.1-3.4 3.8-6.7 5-5.7 2.1-6.7 1.2-3.4 2.4-.2 .8-.9-.4-1.2-3-3.3-37-2.4-131.9-1.5-32-4 1.6-24.7 6z" fill="#261536" stroke="#261536"/>
<path d="M102.9 663.5l24.7-6 4-1.6 1.5 32 2.4 131.9 3.3 37 1.2 3 .9 .4 .2-.8 3.4-2.4 6.7-1.2 5.7-2.1 6.7-5 3.4-3.8 5.6-12.1 2.3-6.3 4.5-28.5 3.3-8 1.2-15.9 3.3-23.6 2.3-24.9 4.5-25.3 4.5-12.3 2.5-2.6 3.1-1.4 6.7-1 7.9-5.7 22.5 1.9 7.9 1.6 12.3 3.9 15.8 7.5 27 17.6 7.8 7.4 9 10.6 24.8 40.8 8.9 12.1 7.8 8.3 12.5 10.2 7.9 5 13.5 5.8 5.6 1.5 15.7 1.3 2.3-.8 7.8-.4 11.3-4 1.1-1.2 3.4-1.4 .1-.9 4.4-2.2 1.1-1.9 6.7-4.3 4.5-6 3.4-2.7 4.5-8.2 1.1-.8 2.3 1.8 2.2-.6 2.3-9.3 2.2-3.2 1.2-3.8 2.2 1.7 1.1-1.1 2.3-2.6 0-1.6 2.2-2.2 .4-1.5 3-3.9 4.5-2.7 1.1-1.9 4.3-2.2 .2-1.1 4.5-1.1 1.1-1.3 4.5-.2 .1-1 4.4 .5 1.2-.5 4.5 1.4 1.1-.3 4.3 1.8 .2-.5 10.1 5.1 20.2 12.6 4.5 2.1 4.5 3.5 2.3 6.4 .4 4 3.1-11.9 1 .5 1.1 8.5 0 1.8-1.1-10.2-1-.6-3.1 15.1-.4-4.7-2.3-7.2-3.3-2.7-3.4-1.8-2.3-.4-14.6-8.1-15.7-6.6-.2 .6-4.3-1.3-1.1 .5-4.5-1-1.2 .7-4.4-.3-.1 1-4.5 .4-1.1 1.3-4.5 1-.2 1-5.2 2.4-.2 1.1-4.5 2-3 3.2-.4 1.2-2.2 1.7 0 1.3-2.3 2-1.1 .7-2.2-1.6-1.2 2.9-2.2 2.2-2.3 7.1-2.2 .1-2.3-1.8-1.1 .5-4.5 6.5-3.4 2-4.5 4.9-6.7 3.5-1.1 1.6-7.9 4-.2 .8-12.2 4.3-7.8 .6-2.3 .9-15.7-.8-9-2.2-11.4-5.1-7.7-5.1-11.4-9.2-7.8-7.9-10.1-13.5-23.6-38.8-7.8-9-9-8.3-22.5-14.6-20.3-9.4-13.5-3.9-7.8-1.3-21.4-.9-7.9 7.4-6.7 1.5-3.1 1.8-2.5 3.3-3.4 11-1.9 7.7-3.7 23.5-.2 5.9-5.4 36.8-1.2 12.9-2.2 3.8-2.3 7.1-3.3 21.1-2.3 6.2-5.6 12.5-3.4 4.1-6.7 5.5-5.7 2.5-6.7 1.4-3.4 2.8-.2 .9-.9-.5-1.2-3.6-3.3-44.1-2.4-125.5-1.5-30.2-4 2-10.1 2.1-14.6 4.2z" fill="#29163b" stroke="#29163b"/>
<path d="M102.9 660.1l14.6-4.2 10.1-2.1 4-2 1.5 30.2 2.4 125.5 3.3 44.1 1.2 3.6 .9 .5 .2-.9 3.4-2.8 6.7-1.4 5.7-2.5 6.7-5.5 3.4-4.1 5.6-12.5 2.3-6.2 3.3-21.1 2.3-7.1 2.2-3.8 1.2-12.9 5.4-36.8 .2-5.9 3.7-23.5 1.9-7.7 3.4-11 2.5-3.3 3.1-1.8 6.7-1.5 7.9-7.4 21.4 .9 7.8 1.3 13.5 3.9 20.3 9.4 22.5 14.6 9 8.3 7.8 9 23.6 38.8 10.1 13.5 7.8 7.9 11.4 9.2 7.7 5.1 11.4 5.1 9 2.2 15.7 .8 2.3-.9 7.8-.6 12.2-4.3 .2-.8 7.9-4 1.1-1.6 6.7-3.5 4.5-4.9 3.4-2 4.5-6.5 1.1-.5 2.3 1.8 2.2-.1 2.3-7.1 2.2-2.2 1.2-2.9 2.2 1.6 1.1-.7 2.3-2 0-1.3 2.2-1.7 .4-1.2 3-3.2 4.5-2 .2-1.1 5.2-2.4 .2-1 4.5-1 1.1-1.3 4.5-.4 .1-1 4.4 .3 1.2-.7 4.5 1 1.1-.5 4.3 1.3 .2-.6 15.7 6.6 14.6 8.1 2.3 .4 3.4 1.8 3.3 2.7 2.3 7.2 .4 4.7 3.1-15.1 1 .6 1.1 10.2 0 1.8-1.1-11.9-1-.6-3.1 18-.4-5.3-2.3-8-3.3-2.6-3.4-1.5-2.3 0-14.6-6.8-15.7-5.1-.2 .7-4.3-1-.9 0-.2 .6-4.5-.8-1.2 .8-4.4-.2-.1 1-4.5 .3-1.1 1.2-4.5 .8-.2 .9-5.2 1.8-.2 1-4.5 1.4-3 2.5-.4 1-2.2 1.3 0 1.1-2.3 1.5-1.1 .5-2.2-1.6-1.2 2.2-2.2 1.5-2.3 5.6-2.2-.2-2.3-1.8-1.1 .3-4.5 5.2-3.4 1.5-4.5 4-6.7 2.8-1.1 1.4-4.4 1.6-.1 .7-3.4 1.1-1.1 1-5.6 1.3-.1 .6-5.6 1.8-7.8 .6-2.3 .9-15.7-.6-9-2-11.4-4.9-6.6-4.2-12.5-9.9-7.8-7.6-10.1-13.1-23.6-38.6-7.8-8.8-9-7.9-22.5-14.2-20.3-8.9-13.5-3.5-7.8-1.1-20.3 .4-1.1-.4-7.9 9.1-6.7 2-2.3 1.5-3.3 4.7-5.3 21.4-3.7 24.2-2.3 21-2.2 9.9-2.3 17.7-2.2 3.3-2.3 6-3.3 18.9-2.3 5.8-5.6 12.5-3.4 4.2-6.7 5.9-5.7 2.7-6.7 1.6-3.4 3.1-.2 1.1-.9-.6-1.2-4.2-3.3-51.1-2.4-119.2-1.5-28.5-4 2.5-10.1 2-14.6 4.4z" fill="#2f1845" stroke="#2f1845"/>
<path d="M102.9 656.7l14.6-4.4 10.1-2 4-2.5 1.5 28.5 2.4 119.2 3.3 51.1 1.2 4.2 .9 .6 .2-1.1 3.4-3.1 6.7-1.6 5.7-2.7 6.7-5.9 3.4-4.2 5.6-12.5 2.3-5.8 3.3-18.9 2.3-6 2.2-3.3 2.3-17.7 2.2-9.9 2.3-21 3.7-24.2 5.3-21.4 3.3-4.7 2.3-1.5 6.7-2 7.9-9.1 1.1 .4 20.3-.4 7.8 1.1 13.5 3.5 20.3 8.9 22.5 14.2 9 7.9 7.8 8.8 23.6 38.6 10.1 13.1 7.8 7.6 12.5 9.9 6.6 4.2 11.4 4.9 9 2 15.7 .6 2.3-.9 7.8-.6 5.6-1.8 .1-.6 5.6-1.3 1.1-1 3.4-1.1 .1-.7 4.4-1.6 1.1-1.4 6.7-2.8 4.5-4 3.4-1.5 4.5-5.2 1.1-.3 2.3 1.8 2.2 .2 2.3-5.6 2.2-1.5 1.2-2.2 2.2 1.6 1.1-.5 2.3-1.5 0-1.1 2.2-1.3 .4-1 3-2.5 4.5-1.4 .2-1 5.2-1.8 .2-.9 4.5-.8 1.1-1.2 4.5-.3 .1-1 4.4 .2 1.2-.8 4.5 .8 .2-.6 .9 0 4.3 1 .2-.7 15.7 5.1 14.6 6.8 2.3 0 3.4 1.5 3.3 2.6 2.3 8 .4 5.3 3.1-18 1 .6 1.1 11.9 0 1.1-1.1-13-1-.5-3.1 19.8-.4-5.6-2.3-8.5-2.2-2-4.5-1.8-2.3 .2-20.2-7.8 0 .7-10.1-3.3-.2 .8-9.9-1-1.2 .9-4.4-.2-.1 1-4.5 .2-1.1 1.1-4.5 .6-.2 .9-5.2 1.4-.2 .9-4.5 1-3 2.2-.4 .9-2.2 1 0 1.1-3.4 1.5-2.2-1.6-1.2 2-2.2 1.1-2.3 4.8-2.2-.4-2.3-1.7-1.1 .2-4.5 4.5-3.4 1.3-4.5 3.4-6.7 2.4-1.1 1.2-4.4 1.4-.1 .7-3.4 .9-1.1 1-5.6 1.1-.1 .7-5.6 1.6-7.8 .5-2.3 .9-15.7-.4-9-2-11.4-4.8-6.6-4.2-12.5-9.8-7.8-7.5-10.1-12.9-18-30.1-6.7-9.8-11.2-11.3-9-6.7-18-10.9-21.2-8.8-12.6-3-9-1-19.1 1-1.1-.5-7.9 10.3-6.7 2.4-2.3 1.6-3.3 5.2-.1 2.3-4.4 16-4.5 29-.2 5.4-2.1 14.4-2.2 9-2.2 15.5-2.3 3.5-2.3 5.6-3.3 17.5-2.3 5.6-5.6 12.2-4.5 5.4-6.8 5.6-4.5 2.2-6.7 1.7-3.4 3.2-.2 1.1-.9-.6-1.2-4.6-3.3-55.4-2.4-115.3-1.5-27.5-4 2.8-10.1 2-14.6 4.6z" fill="#341a4d" stroke="#341a4d"/>
<path d="M102.9 654.6l14.6-4.6 10.1-2 4-2.8 1.5 27.5 2.4 115.3 3.3 55.4 1.2 4.6 .9 .6 .2-1.1 3.4-3.2 6.7-1.7 4.5-2.2 6.8-5.6 4.5-5.4 5.6-12.2 2.3-5.6 3.3-17.5 2.3-5.6 2.3-3.5 2.2-15.5 2.2-9 2.1-14.4 .2-5.4 4.5-29 4.4-16 .1-2.3 3.3-5.2 2.3-1.6 6.7-2.4 7.9-10.3 1.1 .5 19.1-1 9 1 12.6 3 21.2 8.8 18 10.9 9 6.7 11.2 11.3 6.7 9.8 18 30.1 10.1 12.9 7.8 7.5 12.5 9.8 6.6 4.2 11.4 4.8 9 2 15.7 .4 2.3-.9 7.8-.5 5.6-1.6 .1-.7 5.6-1.1 1.1-1 3.4-.9 .1-.7 4.4-1.4 1.1-1.2 6.7-2.4 4.5-3.4 3.4-1.3 4.5-4.5 1.1-.2 2.3 1.7 2.2 .4 2.3-4.8 2.2-1.1 1.2-2 2.2 1.6 3.4-1.5 0-1.1 2.2-1 .4-.9 3-2.2 4.5-1 .2-.9 5.2-1.4 .2-.9 4.5-.6 1.1-1.1 4.5-.2 .1-1 4.4 .2 1.2-.9 9.9 1 .2-.8 10.1 3.3 0-.7 20.2 7.8 2.3-.2 4.5 1.8 2.2 2 2.3 8.5 .4 5.6 3.1-19.8 1 .5 1.1 13 0 .7-1.1-13.7-1-.5-3.1 20.9-.4-5.7-2.3-8.8-2.2-2-4.5-1.6-2.3 .3-14.6-5.5-1.1 .2-4.5-1.8 0 .7-10.1-3-.2 .7-9.9-.8-1.2 .9-4.4-.3-.1 1.1-4.5 .1-1.1 1-4.5 .5-.2 .8-5.2 1.2-.2 .9-4.5 .8-3.4 2.8-2.2 .9 0 1-2.3 1-1.1 .3-2.2-1.6-1.2 1.8-2.2 .9-2.3 4.4-2.2-.5-2.3-1.8-1.1 .2-4.5 4.1-3.4 1.2-4.5 3.1-6.7 2.1-1.1 1.2-4.4 1.3-.1 .7-3.4 .8-.2 .6-6.5 1.3-.1 .7-5.6 1.5-15.7 1.4-7.9-.9-2.2 .4-9-2-11.4-4.7-6.6-4.2-12.5-9.8-7.8-7.3-10.1-12.8-18-30.1-6.7-9.8-12.4-12.1-9-6.4-16.8-10-21.2-8.6-12.6-2.8-9-1-19.1 1.4-1.1-.5-7.9 11-6.7 2.6-2.3 1.8-3.3 5.5-.1 2.4-4.4 16.7-6.8 48.1-3.3 14.4-.5 6.4-1.1 3.8-1.8 1.9-2.3 5.2-3.3 16.7-2.3 5.5-5.6 12-4.5 5.4-6.8 5.7-4.5 2.2-6.7 1.8-3.4 3.3-.2 1.1-.9-.7-1.2-4.8-3.3-58.1-2.4-112.9-1.5-26.7-4 2.9-10.1 2-14.6 4.6z" fill="#371a54" stroke="#371a54"/>
<path d="M102.9 653.2l14.6-4.6 10.1-2 4-2.9 1.5 26.7 2.4 112.9 3.3 58.1 1.2 4.8 .9 .7 .2-1.1 3.4-3.3 6.7-1.8 4.5-2.2 6.8-5.7 4.5-5.4 5.6-12 2.3-5.5 3.3-16.7 2.3-5.2 1.8-1.9 1.1-3.8 .5-6.4 3.3-14.4 6.8-48.1 4.4-16.7 .1-2.4 3.3-5.5 2.3-1.8 6.7-2.6 7.9-11 1.1 .5 19.1-1.4 9 1 12.6 2.8 21.2 8.6 16.8 10 9 6.4 12.4 12.1 6.7 9.8 18 30.1 10.1 12.8 7.8 7.3 12.5 9.8 6.6 4.2 11.4 4.7 9 2 2.2-.4 7.9 .9 15.7-1.4 5.6-1.5 .1-.7 6.5-1.3 .2-.6 3.4-.8 .1-.7 4.4-1.3 1.1-1.2 6.7-2.1 4.5-3.1 3.4-1.2 4.5-4.1 1.1-.2 2.3 1.8 2.2 .5 2.3-4.4 2.2-.9 1.2-1.8 2.2 1.6 1.1-.3 2.3-1 0-1 2.2-.9 3.4-2.8 4.5-.8 .2-.9 5.2-1.2 .2-.8 4.5-.5 1.1-1 4.5-.1 .1-1.1 4.4 .3 1.2-.9 9.9 .8 .2-.7 10.1 3 0-.7 4.5 1.8 1.1-.2 14.6 5.5 2.3-.3 4.5 1.6 2.2 2 2.3 8.8 .4 5.7 3.1-20.9 1 .5 1.1 13.7 0 1.8-1.1-15.4-1-.5-3.1 23.6-.4-6-2.3-9.6-2.2-1.9-4.5-1.3-2.3 .7-14.6-4.4-1.1 .3-4.5-1.4 0 .7-10.1-2.5-.2 .8-9.9-.7-1.2 .8-4.4-.3-.1 .9-4.5-.1-1.1 1-4.5 0-.2 .8-5.2 .7-.2 .7-4.5 .4-3.4 2.2-2.2 .6 0 .8-2.3 .8-1.1 .2-2.2-1.7-1.2 1.4-2.2 .6-2.3 3.4-4.5-2.4-2.2 .4-.2 .9-3.2 2.1-3.4 .8-4.5 2.6-6.7 1.5-1.1 1-4.4 1-.1 .6-3.4 .6-.2 .6-6.5 1-.1 .5-5.6 1.3-15.7 1.2-7.9-.9-2.2 .3-9-1.9-11.4-4.6-6.6-4.2-12.5-9.7-7.8-7.3-10.1-12.5-18-29.9-6.7-9.8-12.4-11.7-10.1-7.1-15.7-9-21.2-8-12.6-2.5-10.1-.8-18 2.2-1.1-.5-7.9 12.9-6.7 3.2-2.3 2-3.3 6.4-.1 2.7-4.4 18.2-1.2 10.6-3.3 18.4-.2 4.8-2.1 12.4-3.3 12.7-.5 5.5-1.1 3.3-1.8 1.7-2.3 4.6-3.3 14.9-2.3 5.1-5.6 11.5-4.5 5.4-6.8 5.7-4.5 2.3-6.7 1.8-3.4 3.5-.2 1.2-.9-.8-1.1-5-1.4-19.5-2.5-59-1.9-93.6-1.5-25.1-4 3.2-10.1 2.1-14.6 4.7z" fill="#3b1a5d" stroke="#3b1a5d"/>
<path d="M102.9 649.8l14.6-4.7 10.1-2.1 4-3.2 1.5 25.1 1.9 93.6 2.5 59 1.4 19.5 1.1 5 .9 .8 .2-1.2 3.4-3.5 6.7-1.8 4.5-2.3 6.8-5.7 4.5-5.4 5.6-11.5 2.3-5.1 3.3-14.9 2.3-4.6 1.8-1.7 1.1-3.3 .5-5.5 3.3-12.7 2.1-12.4 .2-4.8 3.3-18.4 1.2-10.6 4.4-18.2 .1-2.7 3.3-6.4 2.3-2 6.7-3.2 7.9-12.9 1.1 .5 18-2.2 10.1 .8 12.6 2.5 21.2 8 15.7 9 10.1 7.1 12.4 11.7 6.7 9.8 18 29.9 10.1 12.5 7.8 7.3 12.5 9.7 6.6 4.2 11.4 4.6 9 1.9 2.2-.3 7.9 .9 15.7-1.2 5.6-1.3 .1-.5 6.5-1 .2-.6 3.4-.6 .1-.6 4.4-1 1.1-1 6.7-1.5 4.5-2.6 3.4-.8 3.2-2.1 .2-.9 2.2-.4 4.5 2.4 2.3-3.4 2.2-.6 1.2-1.4 2.2 1.7 1.1-.2 2.3-.8 0-.8 2.2-.6 3.4-2.2 4.5-.4 .2-.7 5.2-.7 .2-.8 4.5 0 1.1-1 4.5 .1 .1-.9 4.4 .3 1.2-.8 9.9 .7 .2-.8 10.1 2.5 0-.7 4.5 1.4 1.1-.3 14.6 4.4 2.3-.7 4.5 1.3 2.2 1.9 2.3 9.6 .4 6 3.1-23.6 1 .5 1.1 15.4 0 1.8-1.1-17.1-1-.5-3.1 26.5-1.5-11.7-1.2-4.9-1.1-1.2-5.6-1.5-2.3 1-6.7-1.7-1.1 .5-6.8-2-1.1 .4-4.5-1.2 0 .8-10.1-2.1-.2 .7-4.3-.6-1.1 .7-4.5-.8-1.2 .8-4.4-.6-.1 .9-4.5-.3-1.1 .7-4.5-.3-.2 .7-5.2 .1-.2 .7-4.5-.1-7.9 3.2-1.1 0-2.2-1.6-1.2 1.1-2.2 .1-2.3 2.7-4.5-2.5-2.2 .1-.2 .8-3.2 1.6-3.4 .6-4.5 2-6.7 1-1.1 .8-4.4 .7-3.7 1.4-6.5 .7-.1 .5-5.6 1-15.7 .7-10.1-.6-9-2-11.4-4.6-6.6-4.2-12.5-9.7-7.8-7.1-6.7-7.6-6.7-9.8-18.9-31.3-5.9-6.9-9-7.7-12.3-8.4-10.2-5.6-16.8-6.8-7.7-2.3-12.6-2.2-13.3-.3-14.8 2.9-1.1-.5-7.9 15-6.7 3.8-3.1 3.6-2.5 6.1-.1 3-4.4 19.7-1.2 10.7-5.6 33.1-2.2 6.6-2.3 11.4-2.2 2.2-2.3 4.1-3.3 13.2-7.9 15.4-3.4 4.1-6.7 6.2-5.7 3-6.7 1.9-3.4 3.5-.2 1.3-.9-1-1.1-5.5-1.4-21.8-2.5-63.8-1.9-87.3-1.5-23.3-4 3.5-10.1 2-14.6 4.9z" fill="#421b6a" stroke="#421b6a"/>
<path d="M102.9 646.1l14.6-4.9 10.1-2 4-3.5 1.5 23.3 1.9 87.3 2.5 63.8 1.4 21.8 1.1 5.5 .9 1 .2-1.3 3.4-3.5 6.7-1.9 5.7-3 6.7-6.2 3.4-4.1 7.9-15.4 3.3-13.2 2.3-4.1 2.2-2.2 2.3-11.4 2.2-6.6 5.6-33.1 1.2-10.7 4.4-19.7 .1-3 2.5-6.1 3.1-3.6 6.7-3.8 7.9-15 1.1 .5 14.8-2.9 13.3 .3 12.6 2.2 7.7 2.3 16.8 6.8 10.2 5.6 12.3 8.4 9 7.7 5.9 6.9 18.9 31.3 6.7 9.8 6.7 7.6 7.8 7.1 12.5 9.7 6.6 4.2 11.4 4.6 9 2 10.1 .6 15.7-.7 5.6-1 .1-.5 6.5-.7 3.7-1.4 4.4-.7 1.1-.8 6.7-1 4.5-2 3.4-.6 3.2-1.6 .2-.8 2.2-.1 4.5 2.5 2.3-2.7 2.2-.1 1.2-1.1 2.2 1.6 1.1 0 7.9-3.2 4.5 .1 .2-.7 5.2-.1 .2-.7 4.5 .3 1.1-.7 4.5 .3 .1-.9 4.4 .6 1.2-.8 4.5 .8 1.1-.7 4.3 .6 .2-.7 10.1 2.1 0-.8 4.5 1.2 1.1-.4 6.8 2 1.1-.5 6.7 1.7 2.3-1 5.6 1.5 1.1 1.2 1.2 4.9 1.5 11.7 3.1-26.5 1 .5 1.1 17.1 0 1-1.1-18.1-1-.4-3.1 27.9-1.5-11.8-1.2-5.2-1.1-1.2-5.6-1.2-2.3 1.2-6.7-1.4-1.1 .5-6.8-1.7-1.1 .4-4.5-1.1 0 .9-10.1-2.1-.2 .8-15.5-.8-.1 .9-4.5-.6-1.1 .7-4.5-.4-.2 .6-5.2-.2-.2 .6-4.5-.3-7.9 2.6-1.1 0-2.2-1.6-1.2 .9-2.2 0-2.3 2.3-4.5-2.6-2.2 .1-.2 .7-3.2 1.4-3.4 .4-4.5 1.7-6.7 .8-9.2 2.5-6.5 .5-.1 .5-5.6 .8-15.7 .5-10.1-.7-9-2.1-11.4-4.6-6.6-4.1-12.5-9.7-7.8-7.1-6.7-7.6-6.7-9.8-18.9-31.2-5.9-6.8-9-7.6-15.7-10.4-10.1-5.2-13.5-4.9-7.7-2.2-12.6-2-13.3-.1-14.8 3.4-1.1-.5-7.9 16.1-6.7 4.2-3.1 3.9-2.5 6.4-.1 3.3-4.4 20.4-4.7 32-6.6 27.1-2.2 2.1-2.3 3.8-3.3 12.4-9 16.3-9 8.6-5.7 3-6.7 1.9-3.4 3.6-.2 1.2-.9-1-1.1-5.8-1.4-23-2.5-66.3-1.9-84-1.5-22.4-4 3.6-10.1 2-14.6 4.9z" fill="#471b74" stroke="#471b74"/>
<path d="M102.9 644l14.6-4.9 10.1-2 4-3.6 1.5 22.4 1.9 84 2.5 66.3 1.4 23 1.1 5.8 .9 1 .2-1.2 3.4-3.6 6.7-1.9 5.7-3 9-8.6 9-16.3 3.3-12.4 2.3-3.8 2.2-2.1 6.6-27.1 4.7-32 4.4-20.4 .1-3.3 2.5-6.4 3.1-3.9 6.7-4.2 7.9-16.1 1.1 .5 14.8-3.4 13.3 .1 12.6 2 7.7 2.2 13.5 4.9 10.1 5.2 15.7 10.4 9 7.6 5.9 6.8 18.9 31.2 6.7 9.8 6.7 7.6 7.8 7.1 12.5 9.7 6.6 4.1 11.4 4.6 9 2.1 10.1 .7 15.7-.5 5.6-.8 .1-.5 6.5-.5 9.2-2.5 6.7-.8 4.5-1.7 3.4-.4 3.2-1.4 .2-.7 2.2-.1 4.5 2.6 2.3-2.3 2.2 0 1.2-.9 2.2 1.6 1.1 0 7.9-2.6 4.5 .3 .2-.6 5.2 .2 .2-.6 4.5 .4 1.1-.7 4.5 .6 .1-.9 15.5 .8 .2-.8 10.1 2.1 0-.9 4.5 1.1 1.1-.4 6.8 1.7 1.1-.5 6.7 1.4 2.3-1.2 5.6 1.2 1.1 1.2 1.2 5.2 1.5 11.8 3.1-27.9 1 .4 1.1 18.1 0 .9-1.1-19-1-.4-3.1 29.2-.4-6.4-2.3-10.9-1.1-1.3-3.4-.8-2.2-.1-2.3 1.4-6.7-1.2-1.1 .6-6.8-1.6-1.1 .5-4.5-1 0 .8-10.1-2-.2 .8-5.2-.6-.2 .6-4.5-.9-1.2 .6-4.4-.7-.1 .8-10.1-.7-.2 .6-5.2-.4-.2 .6-4.5-.5-7.9 2.2-1.1-.1-2.2-1.6-1.2 .8-2.2-.1-1.9 2-4.9-2.7-2.2 0-.2 .7-3.2 1.2-3.4 .3-4.5 1.5-6.7 .6-9.2 2.2-6.5 .3-5.7 1.2-15.7 .2-10.1-.8-9-2.1-11.4-4.6-6.6-4.1-12.5-9.7-7.8-7.2-6.7-7.5-6.7-9.8-18.9-31.2-5.9-6.7-9-7.5-15.7-10.4-15.7-7.2-12.4-4-7.9-1.6-7.9-1.1-10.1-.2-7.8 1.3-10.2 2.8-1.1-.5-7.9 17.2-6.7 4.5-3.1 4.2-2.5 6.8-.1 3.3-4.4 21-1.2 10.7-3.3 16.6-.2 4-6.6 25.6-2.2 2.1-2.3 3.6-3.3 11.7-9 15.7-9 8.5-5.7 2.9-6.7 1.9-3.4 3.6-.2 1.3-.9-1.1-1.1-6.1-1.1-19.2-2.8-73.3-1.9-81.2-1.5-21.6-4 3.8-10.1 1.9-14.6 5z" fill="#4a1a7c" stroke="#4a1a7c"/>
<path d="M102.9 642.3l14.6-5 10.1-1.9 4-3.8 1.5 21.6 1.9 81.2 2.8 73.3 1.1 19.2 1.1 6.1 .9 1.1 .2-1.3 3.4-3.6 6.7-1.9 5.7-2.9 9-8.5 9-15.7 3.3-11.7 2.3-3.6 2.2-2.1 6.6-25.6 .2-4 3.3-16.6 1.2-10.7 4.4-21 .1-3.3 2.5-6.8 3.1-4.2 6.7-4.5 7.9-17.2 1.1 .5 10.2-2.8 7.8-1.3 10.1 .2 7.9 1.1 7.9 1.6 12.4 4 15.7 7.2 15.7 10.4 9 7.5 5.9 6.7 18.9 31.2 6.7 9.8 6.7 7.5 7.8 7.2 12.5 9.7 6.6 4.1 11.4 4.6 9 2.1 10.1 .8 15.7-.2 5.7-1.2 6.5-.3 9.2-2.2 6.7-.6 4.5-1.5 3.4-.3 3.2-1.2 .2-.7 2.2 0 4.9 2.7 1.9-2 2.2 .1 1.2-.8 2.2 1.6 1.1 .1 7.9-2.2 4.5 .5 .2-.6 5.2 .4 .2-.6 10.1 .7 .1-.8 4.4 .7 1.2-.6 4.5 .9 .2-.6 5.2 .6 .2-.8 10.1 2 0-.8 4.5 1 1.1-.5 6.8 1.6 1.1-.6 6.7 1.2 2.3-1.4 2.2 .1 3.4 .8 1.1 1.3 2.3 10.9 .4 6.4 3.1-29.2 1 .4 1.1 19 0 2-1.1-20.9-1-.4-3.1 32.1-.4-6.5-2.3-11.4-2.2-1.7-4.5 0-2.3 1.7-6.7-.6-1.1 .7-6.8-1.3-1.1 .6-4.5-.9 0 .9-10.1-2-.2 .8-5.2-.8-.2 .6-4.5-1.1-1.2 .5-4.4-1-.1 .7-4.5-1-1.1 .5-4.5-1-.2 .5-5.2-.8-.2 .4-4.5-.8-7.9 1.2-3.3-1.7-1.2 .6-2.2-.5-1.9 1.5-6-3-4.5 1.5-7.9 1.2-6.7 .1-9.2 1.5-12.2 .8-15.7-.3-10.1-1-9-2.3-11.4-4.7-6.6-4.1-12.5-9.7-7.8-7.2-6.7-7.5-6.7-9.7-18.9-31.2-5.9-6.6-9-7.3-15.7-10.4-10.1-4.9-5.6-2-15.6-4.4-12.6-1.6-10.1 .1-7.8 1.6-10.2 3.5-1.1-.5-7.9 19.7-6.7 5.4-2.3 3.1-3.3 9.2-.1 3.7-4.4 21.9-1.2 10.5-3.3 15.6-.2 3.5-6.6 22.6-2.2 1.8-2.3 3.2-3.3 10.3-9 14.4-9 8.1-5.7 2.9-6.7 1.9-3.4 3.5-.2 1.2-.9-1.2-1.1-6.7-1.1-21-4.7-153.5-1.5-19.8-4 3.9-10.1 1.9-14.6 5.1z" fill="#4f1889" stroke="#4f1889"/>
<path d="M102.9 638.3l14.6-5.1 10.1-1.9 4-3.9 1.5 19.8 4.7 153.5 1.1 21 1.1 6.7 .9 1.2 .2-1.2 3.4-3.5 6.7-1.9 5.7-2.9 9-8.1 9-14.4 3.3-10.3 2.3-3.2 2.2-1.8 6.6-22.6 .2-3.5 3.3-15.6 1.2-10.5 4.4-21.9 .1-3.7 3.3-9.2 2.3-3.1 6.7-5.4 7.9-19.7 1.1 .5 10.2-3.5 7.8-1.6 10.1-.1 12.6 1.6 15.6 4.4 5.6 2 10.1 4.9 15.7 10.4 9 7.3 5.9 6.6 18.9 31.2 6.7 9.7 6.7 7.5 7.8 7.2 12.5 9.7 6.6 4.1 11.4 4.7 9 2.3 10.1 1 15.7 .3 12.2-.8 9.2-1.5 6.7-.1 7.9-1.2 4.5-1.5 6 3 1.9-1.5 2.2 .5 1.2-.6 3.3 1.7 7.9-1.2 4.5 .8 .2-.4 5.2 .8 .2-.5 4.5 1 1.1-.5 4.5 1 .1-.7 4.4 1 1.2-.5 4.5 1.1 .2-.6 5.2 .8 .2-.8 10.1 2 0-.9 4.5 .9 1.1-.6 6.8 1.3 1.1-.7 6.7 .6 2.3-1.7 4.5 0 2.2 1.7 2.3 11.4 .4 6.5 3.1-32.1 1 .4 1.1 20.9 0 1.9-1.1-22.7-1-.4-3.1 34.7-.4-6.3-2.3-11.9-2.2-1.6-4.5 .5-2.3 2-6.7-.2-1.1 .8-12.4-1.1 0 .8-10.1-2-.2 .7-.9-.1-9-1.7-1.2 .4-4.4-1.3-.1 .7-20.2-3.9-7.9 .5-3.3-1.9-1.2 .4-2.2-.6-1.9 1-6-3.2-12.4 1.7-38.2 .5-15.7-1.8-10.1-2.9-10.3-4.3-6.6-4.1-12.5-9.8-7.8-7.3-6.7-7.6-6.7-9.7-18.9-31.2-5.9-6.5-9-7-15.7-10.5-10.1-4.8-5.6-1.8-15.6-4.2-12.6-1.2-10.1 .3-7.8 2-10.2 4.2-1.1-.5-7.9 22.2-6.7 6.3-3.1 5.3-2.5 8.4-.1 4-4.4 22.6-1.2 10.2-4.8 22.4-5.3 15.1-4.5 4.5-3.3 9.1-6.8 9.4-1.1 2.5-3.4 3.5-7.9 6-4.5 2.2-6.7 1.8-3.4 3.4-.2 1.2-.9-1.4-1.1-7.2-1.1-22.8-4.7-152.5-1.5-18.1-4 3.9-10.1 1.9-14.6 5.1z" fill="#55149a" stroke="#55149a"/>
<path d="M102.9 634.3l14.6-5.1 10.1-1.9 4-3.9 1.5 18.1 4.7 152.5 1.1 22.8 1.1 7.2 .9 1.4 .2-1.2 3.4-3.4 6.7-1.8 4.5-2.2 7.9-6 3.4-3.5 1.1-2.5 6.8-9.4 3.3-9.1 4.5-4.5 5.3-15.1 4.8-22.4 1.2-10.2 4.4-22.6 .1-4 2.5-8.4 3.1-5.3 6.7-6.3 7.9-22.2 1.1 .5 10.2-4.2 7.8-2 10.1-.3 12.6 1.2 15.6 4.2 5.6 1.8 10.1 4.8 15.7 10.5 9 7 5.9 6.5 18.9 31.2 6.7 9.7 6.7 7.6 7.8 7.3 12.5 9.8 6.6 4.1 10.3 4.3 10.1 2.9 15.7 1.8 38.2-.5 12.4-1.7 6 3.2 1.9-1 2.2 .6 1.2-.4 3.3 1.9 7.9-.5 20.2 3.9 .1-.7 4.4 1.3 1.2-.4 9 1.7 .9 .1 .2-.7 10.1 2 0-.8 12.4 1.1 1.1-.8 6.7 .2 2.3-2 4.5-.5 2.2 1.6 2.3 11.9 .4 6.3 3.1-34.7 1 .4 1.1 22.7 0 .3-1.1-23-1-.4-3.1 35.1-.4-6.3-2.3-11.9-2.2-1.6-4.5 .5-2.3 2.1-6.7-.2-1.1 .9-12.4-1.1 0 .8-10.1-2.1-.2 .7-.9-.1-9-1.7-1.2 .4-4.4-1.4-.1 .7-20.2-4.1-7.9 .4-3.3-1.9-1.2 .4-2.2-.7-1.9 1-6-3.2-12.4 1.5-38.2 .2-15.7-1.8-10.1-2.9-10.3-4.4-6.6-4.1-12.5-9.8-7.8-7.3-6.7-7.6-6.7-9.7-18.9-31.1-5.9-6.6-9-7-15.7-10.4-10.1-4.8-5.6-1.8-15.6-4.2-12.6-1.2-10.1 .4-7.8 2-10.2 4.3-1.1-.5-7.9 22.7-6.7 6.3-3.1 5.4-2.5 8.5-.1 4-4.4 22.8-1.2 10.1-3.3 14.2-.2 3-6.6 19.8-4.5 4.4-3.3 9-9 12.9-9 7.6-5.7 2.7-6.7 1.8-3.4 3.4-.2 1.2-.9-1.4-1.1-7.3-1.1-23-4.7-152.4-1.5-17.9-4 4-10.1 1.9-14.6 5z" fill="#5913a4" stroke="#5913a4"/>
<path d="M102.9 633.7l14.6-5 10.1-1.9 4-4 1.5 17.9 4.7 152.4 1.1 23 1.1 7.3 .9 1.4 .2-1.2 3.4-3.4 6.7-1.8 5.7-2.7 9-7.6 9-12.9 3.3-9 4.5-4.4 6.6-19.8 .2-3 3.3-14.2 1.2-10.1 4.4-22.8 .1-4 2.5-8.5 3.1-5.4 6.7-6.3 7.9-22.7 1.1 .5 10.2-4.3 7.8-2 10.1-.4 12.6 1.2 15.6 4.2 5.6 1.8 10.1 4.8 15.7 10.4 9 7 5.9 6.6 18.9 31.1 6.7 9.7 6.7 7.6 7.8 7.3 12.5 9.8 6.6 4.1 10.3 4.4 10.1 2.9 15.7 1.8 38.2-.2 12.4-1.5 6 3.2 1.9-1 2.2 .7 1.2-.4 3.3 1.9 7.9-.4 20.2 4.1 .1-.7 4.4 1.4 1.2-.4 9 1.7 .9 .1 .2-.7 10.1 2.1 0-.8 12.4 1.1 1.1-.9 6.7 .2 2.3-2.1 4.5-.5 2.2 1.6 2.3 11.9 .4 6.3 3.1-35.1 1 .4 1.1 23 0 1.6-1.1-24.5-1-.4-3.1 37.3-.4-6.1-2.3-12.1-.7-1-1.5-.5-4.5 1-2.3 2.3-6.7 .2-1.1 .9-12.4-1 0 .8-10.1-2.3-.2 .7-5.2-1.3-.2 .5-30.4-7.7-7.9-.2-3.3-1.9-3.4-.6-1.9 .6-6-3.3-12.4 .8-38.2-1.5-15.7-2.1-10.1-3.2-10.3-4.4-7.7-4.9-11.4-9.1-7.8-7.4-6.7-7.7-6.7-9.7-18.9-31.2-5.9-6.4-9-6.9-15.7-10.6-10.1-4.7-20.3-5.5-13.5-1.2-7.8 .4-10.1 2.6-10.2 4.9-1.1-.4-2.2 5.5-5.7 19.6-6.7 7.2-2.3 3.9-3.3 11.3-.1 4.3-4.4 23-1.2 9.6-3.5 16-6.6 17.7-4.5 4-3.3 8.1-10.2 12.9-7.8 6.1-5.7 2.6-6.7 1.7-3.4 3.2-.2 1.2-.9-1.6-1.1-7.8-1.1-24.5-4.7-151.5-1-13.8-.5-2.7-4 4-11.2 2.1-13.5 4.8z" fill="#5c11af" stroke="#5c11af"/>
<path d="M102.9 630.2l13.5-4.8 11.2-2.1 4-4 .5 2.7 1 13.8 4.7 151.5 1.1 24.5 1.1 7.8 .9 1.6 .2-1.2 3.4-3.2 6.7-1.7 5.7-2.6 7.8-6.1 10.2-12.9 3.3-8.1 4.5-4 6.6-17.7 3.5-16 1.2-9.6 4.4-23 .1-4.3 3.3-11.3 2.3-3.9 6.7-7.2 5.7-19.6 2.2-5.5 1.1 .4 10.2-4.9 10.1-2.6 7.8-.4 13.5 1.2 20.3 5.5 10.1 4.7 15.7 10.6 9 6.9 5.9 6.4 18.9 31.2 6.7 9.7 6.7 7.7 7.8 7.4 11.4 9.1 7.7 4.9 10.3 4.4 10.1 3.2 15.7 2.1 38.2 1.5 12.4-.8 6 3.3 1.9-.6 3.4 .6 3.3 1.9 7.9 .2 30.4 7.7 .2-.5 5.2 1.3 .2-.7 10.1 2.3 0-.8 12.4 1 1.1-.9 6.7-.2 2.3-2.3 4.5-1 1.5 .5 .7 1 2.3 12.1 .4 6.1 3.1-37.3 1 .4 1.1 24.5 0 2-1.1-26.5-1-.3-3.1 39.8-2.7-17.8-1.1-1.3-2.2 .1-3.4 1.2-2.3 2.6-1.1 .2-5.6 .3-1.1 .9-6.8-.7-1.1 .6-4.5-.8 0 .8-10.1-2.7-.2 .6-5.2-1.5-.2 .4-30.4-9.9-7.9-.8-3.3-2-3.4-.9-2.3 .1-5.6-3.3-12.4 0-38.2-3.2-15.7-2.6-10.1-3.4-10.3-4.6-7.7-4.9-11.4-9.2-7.8-7.6-6.7-7.8-6.7-9.8-18-30-6.8-7.5-22.5-16.1-12.3-6.2-20.3-5.2-13.5-.9-10.1 .9-3.2 .8-6.9 2.9-7.9 4.7-1.1-.4-2.2 6.1-5.7 22.1-6.7 8.3-3.1 6.7-2.5 10.1-.1 4.5-5.6 32.1-3.5 14.4-5.9 14.5-5.2 4.7-3.3 7.1-10.2 11.6-7.8 5.7-5.7 2.4-6.7 1.6-3.4 3-.2 1.1-.9-1.8-1.2-9-5.1-162.2-1.6-26.4-.5-2.3-4 3.8-11.2 2.1-13.5 4.7z" fill="#600dc5" stroke="#600dc5"/>
<path d="M102.9 626l13.5-4.7 11.2-2.1 4-3.8 .5 2.3 1.6 26.4 5.1 162.2 1.2 9 .9 1.8 .2-1.1 3.4-3 6.7-1.6 5.7-2.4 7.8-5.7 10.2-11.6 3.3-7.1 5.2-4.7 5.9-14.5 3.5-14.4 5.6-32.1 .1-4.5 2.5-10.1 3.1-6.7 6.7-8.3 5.7-22.1 2.2-6.1 1.1 .4 7.9-4.7 6.9-2.9 3.2-.8 10.1-.9 13.5 .9 20.3 5.2 12.3 6.2 22.5 16.1 6.8 7.5 18 30 6.7 9.8 6.7 7.8 7.8 7.6 11.4 9.2 7.7 4.9 10.3 4.6 10.1 3.4 15.7 2.6 38.2 3.2 12.4 0 5.6 3.3 2.3-.1 3.4 .9 3.3 2 7.9 .8 30.4 9.9 .2-.4 5.2 1.5 .2-.6 10.1 2.7 0-.8 4.5 .8 1.1-.6 6.8 .7 1.1-.9 5.6-.3 1.1-.2 2.3-2.6 3.4-1.2 2.2-.1 1.1 1.3 2.7 17.8 3.1-39.8 1 .3 1.1 26.5 0 .9-1.1-27.3-1-.4-3.1 41-2.7-17.5-1.1-1.3-2.2 .2-3.4 1.4-2.3 2.7-1.1 .2-5.6 .4-1.1 1-6.8-.8-1.1 .6-4.5-.8 0 .7-10.1-2.8-.2 .5-5.4-1.3-30.4-10.8-9-1.5-2.2-1.7-5.7-1.1-5.6-3.4-12.4-.3-38.2-4-15.7-2.8-10.1-3.5-10.3-4.7-8.9-5.7-10.2-8.4-7.8-7.7-6.7-7.9-6.7-9.8-16.9-28.4-7.9-9.2-22.5-16.1-12.3-6.1-20.3-5.2-13.5-.8-10.1 1-3.2 .9-6.9 3.1-7.9 5-1.1-.4-2.2 6.4-5.7 23.4-6.7 8.9-3.1 7-2.5 10.5-.1 4.6-5.6 31.7-3.5 13.6-5.9 13.7-5.2 4.5-3.3 6.6-10.2 11.1-7.8 5.4-5.7 2.3-6.7 1.5-3.4 2.9-.2 1.1-.9-1.9-1.2-9.3-5.1-163.2-1.6-25.1-.5-2.2-4 3.8-11.2 2-13.5 4.7z" fill="#6015d0" stroke="#6015d0"/>
<path d="M102.9 624l13.5-4.7 11.2-2 4-3.8 .5 2.2 1.6 25.1 5.1 163.2 1.2 9.3 .9 1.9 .2-1.1 3.4-2.9 6.7-1.5 5.7-2.3 7.8-5.4 10.2-11.1 3.3-6.6 5.2-4.5 5.9-13.7 3.5-13.6 5.6-31.7 .1-4.6 2.5-10.5 3.1-7 6.7-8.9 5.7-23.4 2.2-6.4 1.1 .4 7.9-5 6.9-3.1 3.2-.9 10.1-1 13.5 .8 20.3 5.2 12.3 6.1 22.5 16.1 7.9 9.2 16.9 28.4 6.7 9.8 6.7 7.9 7.8 7.7 10.2 8.4 8.9 5.7 10.3 4.7 10.1 3.5 15.7 2.8 38.2 4 12.4 .3 5.6 3.4 5.7 1.1 2.2 1.7 9 1.5 30.4 10.8 5.4 1.3 .2-.5 10.1 2.8 0-.7 4.5 .8 1.1-.6 6.8 .8 1.1-1 5.6-.4 1.1-.2 2.3-2.7 3.4-1.4 2.2-.2 1.1 1.3 2.7 17.5 3.1-41 1 .4 1.1 27.3 0 1.1-1.1-28.4-1-.3-3.1 42.3-2.7-17.1-1.1-1.2-2.2 .3-3.4 1.6-2.3 2.8-1.1 .3-5.6 .4-1.1 1-6.8-.7-1.1 .5-4.5-.9 0 .7-15.7-4.1-30.4-12-9-1.9-2.2-1.6-5.3-1.3-6-3.6-12.4-.7-38.2-5-15.7-3-10.1-3.7-10.3-4.7-8.9-5.8-10.2-8.4-7.8-7.8-6.7-8-6.7-9.9-16.9-28.5-7.9-9.1-23.6-16.8-11.2-5.5-20.3-5.2-13.5-.7-10.1 1.2-3.2 1-6.9 3.2-7.9 5.5-1.1-.4-2.2 6.8-5.7 25.1-6.7 9.6-3.1 7.5-2.5 10.9-.1 4.7-5.6 31-5.6 18.2-4.5 8.3-4.5 3.2-3.3 6.1-7.9 8.5-10.1 7-5.7 2.2-6.7 1.5-3.4 2.7-.2 1-.9-1.9-1.2-9.7-3.3-114-2.4-62.9-1-11-.5-2.1-4 3.7-11.2 2-13.5 4.6z" fill="#5e21d6" stroke="#5e21d6"/>
<path d="M102.9 621.6l13.5-4.6 11.2-2 4-3.7 .5 2.1 1 11 2.4 62.9 3.3 114 1.2 9.7 .9 1.9 .2-1 3.4-2.7 6.7-1.5 5.7-2.2 10.1-7 7.9-8.5 3.3-6.1 4.5-3.2 4.5-8.3 5.6-18.2 5.6-31 .1-4.7 2.5-10.9 3.1-7.5 6.7-9.6 5.7-25.1 2.2-6.8 1.1 .4 7.9-5.5 6.9-3.2 3.2-1 10.1-1.2 13.5 .7 20.3 5.2 11.2 5.5 23.6 16.8 7.9 9.1 16.9 28.5 6.7 9.9 6.7 8 7.8 7.8 10.2 8.4 8.9 5.8 10.3 4.7 10.1 3.7 15.7 3 38.2 5 12.4 .7 6 3.6 5.3 1.3 2.2 1.6 9 1.9 30.4 12 15.7 4.1 0-.7 4.5 .9 1.1-.5 6.8 .7 1.1-1 5.6-.4 1.1-.3 2.3-2.8 3.4-1.6 2.2-.3 1.1 1.2 2.7 17.1 3.1-42.3 1 .3 1.1 28.4 0 2.1-1.1-30.4-1-.3-3.1 44.9-2.7-15.8-.7-1-1.5-.1-4.5 2.4-2.3 2.9-6.7 .9-1.1 .9-6.8-.8-1.1 .4-4.5-1.1 0 .7-15.7-5.3-30.4-14.2-9-2.4-2.2-1.6-5.3-1.9-6-3.8-12.4-1.4-43.8-7.8-10.1-2.4-12.4-5-8-3.9-10-6.6-9.1-7.7-7.8-8.1-6.7-8.2-6.7-10-16.9-28.5-7.9-9-23.6-17.1-11.2-5.6-20.3-5.2-13.5-.6-10.1 1.4-3.2 1.2-6.9 3.6-7.9 6.3-1.1-.2-3.4 12.8-4.5 23.3-.8 2.2-5.9 9-3.1 8.4-8.2 45.8-3.5 11.3-5.9 10.9-5.2 3.7-3.3 5.3-10.2 9-9 5-11.2 2.8-3.4 2.4-.2 .9-.9-2.2-1.2-10.2-3.3-121.3-2.4-56.5-1-9.5-.5-1.8-4 3.5-11.2 1.8-13.5 4.5z" fill="#5b36df" stroke="#5b36df"/>
<path d="M102.9 616.9l13.5-4.5 11.2-1.8 4-3.5 .5 1.8 1 9.5 2.4 56.5 3.3 121.3 1.2 10.2 .9 2.2 .2-.9 3.4-2.4 11.2-2.8 9-5 10.2-9 3.3-5.3 5.2-3.7 5.9-10.9 3.5-11.3 8.2-45.8 3.1-8.4 5.9-9 .8-2.2 4.5-23.3 3.4-12.8 1.1 .2 7.9-6.3 6.9-3.6 3.2-1.2 10.1-1.4 13.5 .6 20.3 5.2 11.2 5.6 23.6 17.1 7.9 9 16.9 28.5 6.7 10 6.7 8.2 7.8 8.1 9.1 7.7 10 6.6 8 3.9 12.4 5 10.1 2.4 43.8 7.8 12.4 1.4 6 3.8 5.3 1.9 2.2 1.6 9 2.4 30.4 14.2 15.7 5.3 0-.7 4.5 1.1 1.1-.4 6.8 .8 1.1-.9 6.7-.9 2.3-2.9 4.5-2.4 1.5 .1 .7 1 2.7 15.8 3.1-44.9 1 .3 1.1 30.4 0 .5-1.1-30.9-1-.3-3.1 45.5-2.7-15.5-.7-1-1.5 0-4.5 2.5-2.3 2.9-1.1 .3-5.6 .6-1.1 .9-6.8-.9-1.1 .5-4.5-1.2 0 .6-15.7-5.5-30.4-14.6-9-2.6-13.5-7.5-12.4-1.5-43.8-8.2-10.1-2.5-12.4-5.1-8-3.9-10-6.5-9.1-7.8-7.8-8.1-6.7-8.3-6.7-10.1-16.9-28.5-7.9-9-23.6-17.1-11.2-5.7-20.3-5.2-13.5-.5-10.1 1.4-3.2 1.2-6.9 3.7-7.9 6.5-1.1-.2-3.4 13.1-4.5 24-.8 2.3-5.9 9.3-3.1 8.6-8.2 45.6-3.5 10.9-5.9 10.6-5.2 3.5-3.3 5.1-10.2 8.7-9 5-11.2 2.7-3.4 2.3-.2 .9-.9-2.3-1.2-10.4-3.3-122.8-2.4-55.1-1-9.2-.5-1.7-4 3.4-11.2 1.8-13.5 4.4z" fill="#5743e2" stroke="#5743e2"/>
<path d="M102.9 615.8l13.5-4.4 11.2-1.8 4-3.4 .5 1.7 1 9.2 2.4 55.1 3.3 122.8 1.2 10.4 .9 2.3 .2-.9 3.4-2.3 11.2-2.7 9-5 10.2-8.7 3.3-5.1 5.2-3.5 5.9-10.6 3.5-10.9 8.2-45.6 3.1-8.6 5.9-9.3 .8-2.3 4.5-24 3.4-13.1 1.1 .2 7.9-6.5 6.9-3.7 3.2-1.2 10.1-1.4 13.5 .5 20.3 5.2 11.2 5.7 23.6 17.1 7.9 9 16.9 28.5 6.7 10.1 6.7 8.3 7.8 8.1 9.1 7.8 10 6.5 8 3.9 12.4 5.1 10.1 2.5 43.8 8.2 12.4 1.5 13.5 7.5 9 2.6 30.4 14.6 15.7 5.5 0-.6 4.5 1.2 1.1-.5 6.8 .9 1.1-.9 5.6-.6 1.1-.3 2.3-2.9 4.5-2.5 1.5 0 .7 1 2.7 15.5 3.1-45.5 1 .3 1.1 30.9 0 1.5-1.1-32.3-1-.3-3.1 47.3-2.7-14.1-.7-.9-2.6 .6-3.4 2.3-2.3 2.9-2.2 .6-4.5 .3-1.1 .8-6.8-1.1-1.1 .4-4.5-1.4 0 .6-15.7-6.4-30.4-16.2-9-3-13.5-7.9-12.4-2.1-46.1-10-7.8-2.2-13.5-5.9-7.9-4-10.1-6.9-8-7-7.8-8.3-6.7-8.5-6.7-10.2-16.9-28.6-7.9-8.9-23.6-17.3-11.2-5.9-19.1-5.1-13.5-.7-10.2 1.3-4.3 1.5-6.9 4-7.9 7.2-1.1 0-3.4 14-4.5 26.6-.8 2.7-5.9 10.4-2.3 6.4-3.3 15.4-.1 4.8-2.2 12-3.4 15.1-5.6 13.7-4.5 6.2-4.5 2.5-3.3 4.4-7.9 6.4-10.1 5.5-12.4 2.9-3.6 2.7-.9-2.4-1.2-10.8-3.3-128.1-3.1-57.5-.8-2.5-4 3-11.2 1.7-13.5 4.3z" fill="#524de2" stroke="#524de2"/>
<path d="M102.9 612.2l13.5-4.3 11.2-1.7 4-3 .8 2.5 3.1 57.5 3.3 128.1 1.2 10.8 .9 2.4 3.6-2.7 12.4-2.9 10.1-5.5 7.9-6.4 3.3-4.4 4.5-2.5 4.5-6.2 5.6-13.7 3.4-15.1 2.2-12 .1-4.8 3.3-15.4 2.3-6.4 5.9-10.4 .8-2.7 4.5-26.6 3.4-14 1.1 0 7.9-7.2 6.9-4 4.3-1.5 10.2-1.3 13.5 .7 19.1 5.1 11.2 5.9 23.6 17.3 7.9 8.9 16.9 28.6 6.7 10.2 6.7 8.5 7.8 8.3 8 7 10.1 6.9 7.9 4 13.5 5.9 7.8 2.2 46.1 10 12.4 2.1 13.5 7.9 9 3 30.4 16.2 15.7 6.4 0-.6 4.5 1.4 1.1-.4 6.8 1.1 1.1-.8 4.5-.3 2.2-.6 2.3-2.9 3.4-2.3 2.6-.6 .7 .9 2.7 14.1 3.1-47.3 1 .3 1.1 32.3 0 1.5-1.1-33.8-1-.3-3.1 49.1-2.7-12.4-.7-.9-1.5 .2-4.5 3-2.3 2.9-2.2 .5-4.5 .3-1.1 .7-7.9-1.1-4.5-1.5 0 .5-15.7-7.4-30.4-17.6-9-3.3-13.5-8.4-12.4-2.4-47.2-11.7-7.8-2.5-18-8.5-9-5.6-6.8-5.3-12.4-12.9-6.7-8.6-6.7-10.3-16.9-28.7-7.9-8.9-23.6-17.6-11.2-6-19.1-5.4-13.5-.7-10.2 1.4-4.3 1.6-6.9 4.2-7.9 7.9-1.1 .2-3.4 15-4.5 29.4-.8 3-5.9 11.7-2.3 6.9-3.3 15.9-.1 4.7-2.2 11.5-3.4 13.7-5.6 12.2-4.5 5.5-4.5 2.3-3.3 3.9-7.9 5.6-10.1 5-12.4 2.5-3.6 2.4-.9-2.5-1.2-11.3-3.3-133.1-3.1-52.2-.8-2.2-4 2.8-11.2 1.6-13.5 4.1z" fill="#4b5de2" stroke="#4b5de2"/>
<path d="M102.9 608.8l13.5-4.1 11.2-1.6 4-2.8 .8 2.2 3.1 52.2 3.3 133.1 1.2 11.3 .9 2.5 3.6-2.4 12.4-2.5 10.1-5 7.9-5.6 3.3-3.9 4.5-2.3 4.5-5.5 5.6-12.2 3.4-13.7 2.2-11.5 .1-4.7 3.3-15.9 2.3-6.9 5.9-11.7 .8-3 4.5-29.4 3.4-15 1.1-.2 7.9-7.9 6.9-4.2 4.3-1.6 10.2-1.4 13.5 .7 19.1 5.4 11.2 6 23.6 17.6 7.9 8.9 16.9 28.7 6.7 10.3 6.7 8.6 12.4 12.9 6.8 5.3 9 5.6 18 8.5 7.8 2.5 47.2 11.7 12.4 2.4 13.5 8.4 9 3.3 30.4 17.6 15.7 7.4 0-.5 4.5 1.5 7.9 1.1 1.1-.7 4.5-.3 2.2-.5 2.3-2.9 4.5-3 1.5-.2 .7 .9 2.7 12.4 3.1-49.1 1 .3 1.1 33.8 0 .7-1.1-34.5-1-.2-.1 1.2-3 48.6-2.7-11.6-.7-.9-1.5 .3-4.5 3.1-2.3 2.8-2.2 .5-4.5 .2-1.1 .6-7.9-1.2-4.5-1.6 0 .4-15.7-7.7-29.3-17.6-10.1-4.1-13.5-8.6-59.6-14.7-7.8-2.6-18-8.7-9-5.6-6.8-5.4-12.4-12.9-6.7-8.7-6.7-10.4-16.9-28.7-7.9-8.8-23.6-17.8-11.2-6.1-18-5.3-13.5-1-10.1 1.3-5.5 1.8-6.9 4.3-7.9 8.2-1.1 .3-3.4 15.4-4.5 30.8-.8 3.1-5.9 12.4-2.3 7.1-3.3 16.1-1.2 10.1-4.5 18.7-5.6 11.6-4.5 5.2-4.5 2.2-3.3 3.7-7.9 5.3-10.1 4.7-12.4 2.4-3.6 2.3-.9-2.7-1.2-11.4-3.3-135.3-3.1-49.9-.8-2-4 2.6-11.2 1.6-13.5 4z" fill="#4665e0" stroke="#4665e0"/>
<path d="M102.9 607.3l13.5-4 11.2-1.6 4-2.6 .8 2 3.1 49.9 3.3 135.3 1.2 11.4 .9 2.7 3.6-2.3 12.4-2.4 10.1-4.7 7.9-5.3 3.3-3.7 4.5-2.2 4.5-5.2 5.6-11.6 4.5-18.7 1.2-10.1 3.3-16.1 2.3-7.1 5.9-12.4 .8-3.1 4.5-30.8 3.4-15.4 1.1-.3 7.9-8.2 6.9-4.3 5.5-1.8 10.1-1.3 13.5 1 18 5.3 11.2 6.1 23.6 17.8 7.9 8.8 16.9 28.7 6.7 10.4 6.7 8.7 12.4 12.9 6.8 5.4 9 5.6 18 8.7 7.8 2.6 59.6 14.7 13.5 8.6 10.1 4.1 29.3 17.6 15.7 7.7 0-.4 4.5 1.6 7.9 1.2 1.1-.6 4.5-.2 2.2-.5 2.3-2.8 4.5-3.1 1.5-.3 .7 .9 2.7 11.6 3-48.6 .1-1.2 1 .2 1.1 34.5 0 1.7-1.1-36.1-1-.2-.1 1.3-3 50.4-3.4-9.7-1.5 .3-4.5 3.3-2.3 2.5-2.2 .5-5.6 .4-12.4-3.3-15.7-8.9-25.7-16.9-13.7-6.7-12.4-8.6-61.8-17.4-6.7-2.5-18-9-9-5.7-6.8-5.3-12.4-13.3-13.4-19.5-16.9-28.8-7.9-8.8-24.7-18.9-10.1-5.6-18-5.7-13.5-1.1-10.1 1.2-5.5 1.9-7.7 5.3-8.2 9-3.4 16.6-5.3 38.3-5.9 14.4-3.1 11.2-4.8 27.3-3.4 11.3-3.5 7-6.6 7.3-4.5 1.9-3.3 3.1-7.9 4.6-10.1 4.1-12.4 2-3.6 1.7-.9-2.8-1.2-12-3.3-140.9-1.8-32.7-1.3-11.1-.8-1.7-4 2.2-12.1 1.6-12.6 3.7z" fill="#416fde" stroke="#416fde"/>
<path d="M102.9 603.3l12.6-3.7 12.1-1.6 4-2.2 .8 1.7 1.3 11.1 1.8 32.7 3.3 140.9 1.2 12 .9 2.8 3.6-1.7 12.4-2 10.1-4.1 7.9-4.6 3.3-3.1 4.5-1.9 6.6-7.3 3.5-7 3.4-11.3 4.8-27.3 3.1-11.2 5.9-14.4 5.3-38.3 3.4-16.6 8.2-9 7.7-5.3 5.5-1.9 10.1-1.2 13.5 1.1 18 5.7 10.1 5.6 24.7 18.9 7.9 8.8 16.9 28.8 13.4 19.5 12.4 13.3 6.8 5.3 9 5.7 18 9 6.7 2.5 61.8 17.4 12.4 8.6 13.7 6.7 25.7 16.9 15.7 8.9 12.4 3.3 5.6-.4 2.2-.5 2.3-2.5 4.5-3.3 1.5-.3 3.4 9.7 3-50.4 .1-1.3 1 .2 1.1 36.1 0 .5-1.1-36.6-1-.2-.1 1.3-3 51-3.4-9-2.6 1.2-5.7 4.9-7.8 .8-7.9-1.9-7.9-3.4-12.3-7.5-25.7-17.3-13.7-6.8-13.5-9.2-60.7-17.5-6.7-2.5-18-9-9-5.8-6.8-5.3-12.4-13.4-10.1-14.2-20.2-34.2-7.9-8.8-24.7-19-10.1-5.7-18-5.8-13.5-1.2-10.1 1.3-5.5 1.9-7.7 5.3-8.2 9.3-3.4 16.9-5.3 39.7-5.9 15-2.3 7.9-5.6 30.2-3.4 10.8-3.5 6.8-6.6 6.9-4.5 1.9-3.3 2.9-7.9 4.4-10.1 3.9-12.4 1.9-3.6 1.7-.9-2.9-1.2-12.1-3.3-142.4-1.8-31.8-1.3-10.5-.8-1.6-4 2.2-12.1 1.5-12.6 3.6z" fill="#3c79dc" stroke="#3c79dc"/>
<path d="M102.9 602.2l12.6-3.6 12.1-1.5 4-2.2 .8 1.6 1.3 10.5 1.8 31.8 3.3 142.4 1.2 12.1 .9 2.9 3.6-1.7 12.4-1.9 10.1-3.9 7.9-4.4 3.3-2.9 4.5-1.9 6.6-6.9 3.5-6.8 3.4-10.8 5.6-30.2 2.3-7.9 5.9-15 5.3-39.7 3.4-16.9 8.2-9.3 7.7-5.3 5.5-1.9 10.1-1.3 13.5 1.2 18 5.8 10.1 5.7 24.7 19 7.9 8.8 20.2 34.2 10.1 14.2 12.4 13.4 6.8 5.3 9 5.8 18 9 6.7 2.5 60.7 17.5 13.5 9.2 13.7 6.8 25.7 17.3 12.3 7.5 7.9 3.4 7.9 1.9 7.8-.8 5.7-4.9 2.6-1.2 3.4 9 3-51 .1-1.3 1 .2 1.1 36.6 0 1.4-1.1-37.9-1-.3-.1 1.4-3 52.6-1.5-1.8-1.2-3.8-.7-.5-8.3 5.9-7.8 .2-7.9-2.5-7.9-4-38-26.7-13.7-7.3-12.4-9-62.9-20-5.6-2.2-18-9.4-9-5.8-6.8-5.4-12.4-13.6-11.2-16.4-18-30.8-7.9-9.4-24.7-19.6-11.2-6.7-18-6.3-13.5-1.5-11.3 1.5-6.7 3.1-5.3 4-8.2 10.6-3.4 17.8-5.3 44.6-8.2 25.5-5.6 28.3-3.4 9.1-3.5 5.7-6.6 5.9-4.5 1.7-3.3 2.5-7.9 3.6-10.1 3.5-12.4 1.5-3.6 1.2-.9-3-1.2-12.5-3.3-147.3-2.4-33.3-1.5-5.1-4 1.8-12.1 1.4-12.6 3.4z" fill="#3683d9" stroke="#3683d9"/>
<path d="M102.9 598.7l12.6-3.4 12.1-1.4 4-1.8 1.5 5.1 2.4 33.3 3.3 147.3 1.2 12.5 .9 3 3.6-1.2 12.4-1.5 10.1-3.5 7.9-3.6 3.3-2.5 4.5-1.7 6.6-5.9 3.5-5.7 3.4-9.1 5.6-28.3 8.2-25.5 5.3-44.6 3.4-17.8 8.2-10.6 5.3-4 6.7-3.1 11.3-1.5 13.5 1.5 18 6.3 11.2 6.7 24.7 19.6 7.9 9.4 18 30.8 11.2 16.4 12.4 13.6 6.8 5.4 9 5.8 18 9.4 5.6 2.2 62.9 20 12.4 9 13.7 7.3 38 26.7 7.9 4 7.9 2.5 7.8-.2 8.3-5.9 .7 .5 1.2 3.8 1.5 1.8 3-52.6 .1-1.4 1 .3 1.1 37.9 0 .7-1.1-38.6-1-.2-.1 1.4-3 53.2-1.5-.9-1.2-3.2-.7-.4-8.3 5.6-7.8-.1-7.9-2.8-7.9-4.2-37.1-26.9-5.6-3.7-9-4.5-12.4-9.2-62.9-20.6-6.8-2.9-16.8-9-9-5.7-6.8-5.4-12.4-13.9-10.1-14.6-19.1-32.7-7.9-9.5-24.7-19.6-11.2-7-16.9-6.2-14.6-1.9-11.3 1.5-6.7 3.1-6.7 5.6-6.8 9.6-3.4 18.2-5.3 47-8.2 27-4.5 23-4.5 12.3-5.6 7.4-4.5 3.4-4.5 1.6-3.3 2.2-7.9 3.4-10.1 3.2-16 2.4-.9-3.1-1.2-12.8-3.3-149.4-2.4-31.4-1.5-4.5-4 1.6-12.1 1.3-12.6 3.3z" fill="#318ed6" stroke="#318ed6"/>
<path d="M102.9 597.1l12.6-3.3 12.1-1.3 4-1.6 1.5 4.5 2.4 31.4 3.3 149.4 1.2 12.8 .9 3.1 16-2.4 10.1-3.2 7.9-3.4 3.3-2.2 4.5-1.6 4.5-3.4 5.6-7.4 4.5-12.3 4.5-23 8.2-27 5.3-47 3.4-18.2 6.8-9.6 6.7-5.6 6.7-3.1 11.3-1.5 14.6 1.9 16.9 6.2 11.2 7 24.7 19.6 7.9 9.5 19.1 32.7 10.1 14.6 12.4 13.9 6.8 5.4 9 5.7 16.8 9 6.8 2.9 62.9 20.6 12.4 9.2 9 4.5 5.6 3.7 37.1 26.9 7.9 4.2 7.9 2.8 7.8 .1 8.3-5.6 .7 .4 1.2 3.2 1.5 .9 3-53.2 .1-1.4 1 .2 1.1 38.6 0 .8-1.1-39.4-1-.2-.1 1.5-1.5 34-1.5 20.1-1.5 .2-1.2-2.5-.7-.2-8.3 5.2-7.8-.5-7.9-3.1-6.8-3.8-38.2-28.8-5.6-3.8-9-4.6-12.4-9.5-62.9-21.5-6.8-2.9-16.8-9.2-9-5.8-6.8-5.4-12.4-14-10.1-14.8-19.1-32.8-7.9-9.4-25.8-20.8-10.1-6.2-16.9-6.5-14.6-2.2-11.3 1.4-6.7 3.2-6.7 5.6-6.8 10.4-3.4 18.7-5.3 50.4-8.2 28.8-4.5 21.5-4.5 10.9-5.6 6.7-4.5 3-7.8 3.4-18 5.9-16 2-.9-3.2-1.2-13-3.3-152.1-.5-12.6-1.9-16.4-1.5-3.9-4 1.4-12.1 1.2-12.6 3.2z" fill="#2d97d4" stroke="#2d97d4"/>
<path d="M102.9 595.1l12.6-3.2 12.1-1.2 4-1.4 1.5 3.9 1.9 16.4 .5 12.6 3.3 152.1 1.2 13 .9 3.2 16-2 18-5.9 7.8-3.4 4.5-3 5.6-6.7 4.5-10.9 4.5-21.5 8.2-28.8 5.3-50.4 3.4-18.7 6.8-10.4 6.7-5.6 6.7-3.2 11.3-1.4 14.6 2.2 16.9 6.5 10.1 6.2 25.8 20.8 7.9 9.4 19.1 32.8 10.1 14.8 12.4 14 6.8 5.4 9 5.8 16.8 9.2 6.8 2.9 62.9 21.5 12.4 9.5 9 4.6 5.6 3.8 38.2 28.8 6.8 3.8 7.9 3.1 7.8 .5 8.3-5.2 .7 .2 1.2 2.5 1.5-.2 1.5-20.1 1.5-34 .1-1.5 1 .2 1.1 39.4 0 1.3-1.1-40.6-1-.2-.1 1.5-1.5 34.9-1.5 20.5-1.5 2-1.9-1.2-7.1 4.4-4.5-.1-6.8-2-11.2-6.1-39.4-31.3-14.6-8.9-12.4-9.7-62.9-22.8-23.6-12.4-14.7-10.3-11.2-12.3-11.2-16.2-20.3-34.8-7.9-9.4-25.8-21.1-10.1-6.5-16.9-7-14.6-2.5-12.4 1.6-9 5-5.6 6.5-4.5 8.6-3.4 19.4-5.3 56.2-11.5 44.8-.1 2.4-2.2 6-3.4 5.8-5.6 5.5-4.5 2.5-7.8 2.9-18 4.9-16 1.3-.9-3.3-1.2-13.3-3.3-156.2-.5-12.6-1.9-12.9-1.5-2.8-4 1-12.1 1.1-12.6 3z" fill="#25a7d1" stroke="#25a7d1"/>
<path d="M102.9 592.1l12.6-3 12.1-1.1 4-1 1.5 2.8 1.9 12.9 .5 12.6 3.3 156.2 1.2 13.3 .9 3.3 16-1.3 18-4.9 7.8-2.9 4.5-2.5 5.6-5.5 3.4-5.8 2.2-6 .1-2.4 11.5-44.8 5.3-56.2 3.4-19.4 4.5-8.6 5.6-6.5 9-5 12.4-1.6 14.6 2.5 16.9 7 10.1 6.5 25.8 21.1 7.9 9.4 20.3 34.8 11.2 16.2 11.2 12.3 14.7 10.3 23.6 12.4 62.9 22.8 12.4 9.7 14.6 8.9 39.4 31.3 11.2 6.1 6.8 2 4.5 .1 7.1-4.4 1.9 1.2 1.5-2 1.5-20.5 1.5-34.9 .1-1.5 1 .2 1.1 40.6 0 .1-1.1-40.7-1-.2-.1 1.5-1.5 34.9-1.5 20.6-1.5 2.1-1.9-1.2-7.1 4.5-3.4 0-6.8-1.7-11.2-6-40.5-32.1-14.6-8.8-12.4-9.8-62.9-22.8-23.6-12.5-14.7-10.3-11.2-12.3-11.2-16.2-20.3-34.8-7.9-9.4-25.8-21.1-10.1-6.6-16.9-7-14.6-2.5-12.4 1.6-9 5-5.6 6.5-4.5 8.6-3.4 19.5-5.3 56.5-11.5 44.8-.1 2.4-2.2 5.9-3.4 5.8-5.6 5.4-4.5 2.5-7.8 2.9-18 4.9-16 1.2-.9-3.3-1.2-13.4-3.3-156.3-.5-12.6-1.3-10.1-1.3-4.7-.8-.7-16.1 2.1-12.6 2.9z" fill="#1fb2d0" stroke="#1fb2d0"/>
<path d="M102.9 591.9l12.6-2.9 16.1-2.1 .8 .7 1.3 4.7 1.3 10.1 .5 12.6 3.3 156.3 1.2 13.4 .9 3.3 16-1.2 18-4.9 7.8-2.9 4.5-2.5 5.6-5.4 3.4-5.8 2.2-5.9 .1-2.4 11.5-44.8 5.3-56.5 3.4-19.5 4.5-8.6 5.6-6.5 9-5 12.4-1.6 14.6 2.5 16.9 7 10.1 6.6 25.8 21.1 7.9 9.4 20.3 34.8 11.2 16.2 11.2 12.3 14.7 10.3 23.6 12.5 62.9 22.8 12.4 9.8 14.6 8.8 40.5 32.1 11.2 6 6.8 1.7 3.4 0 7.1-4.5 1.9 1.2 1.5-2.1 1.5-20.6 1.5-34.9 .1-1.5 1 .2 1.1 40.7 0 .9-1.1-41.6-1-.2-.1 1.5-1.5 35.7-1.5 20.8-1.5 3.5-1.9 .2-7.1 4-3.4-.4-6.8-2.2-11.2-6.6-40.5-33.4-15.7-10-11.3-9.1-64.1-24.3-23.7-13.1-13.9-10-10.7-11.9-11.2-16.5-20.3-34.9-6.7-8.4-25.9-21.5-11.2-7.7-16.9-7.4-14.6-2.8-5.2 .1-7.2 1.3-9 4.9-5.6 6.7-4.5 9.5-3.4 19.9-5.3 61.7-3.9 18.3-5.4 21-4.5 12.7-3.4 4.6-3.5 3.2-6.6 3.5-15.7 4.5-10.1 2.1-16 .8-.9-3.5-1.2-13.6-3.3-159.3-1.1-17.4-1.3-5.3-1.5-2.1-16.1 1.8-12.6 2.7z" fill="#1abcce" stroke="#1abcce"/>
<path d="M102.9 589.6l12.6-2.7 16.1-1.8 1.5 2.1 1.3 5.3 1.1 17.4 3.3 159.3 1.2 13.6 .9 3.5 16-.8 10.1-2.1 15.7-4.5 6.6-3.5 3.5-3.2 3.4-4.6 4.5-12.7 5.4-21 3.9-18.3 5.3-61.7 3.4-19.9 4.5-9.5 5.6-6.7 9-4.9 7.2-1.3 5.2-.1 14.6 2.8 16.9 7.4 11.2 7.7 25.9 21.5 6.7 8.4 20.3 34.9 11.2 16.5 10.7 11.9 13.9 10 23.7 13.1 64.1 24.3 11.3 9.1 15.7 10 40.5 33.4 11.2 6.6 6.8 2.2 3.4 .4 7.1-4 1.9-.2 1.5-3.5 1.5-20.8 1.5-35.7 .1-1.5 1 .2 1.1 41.6 0 .8-1.1-42.3-1-.2-.1 1.5-2.3 50.3-.7 7-1.5 4.8-4.5 3.2-4.5 1.8-9-2.9-13.5-8.6-38.3-32.8-6.7-5.1-10.1-6.1-11.3-9.3-65.4-25.7-20-11.3-11.3-7.3-9-8.1-10.1-12.7-10.1-15.9-16.9-29.5-7.8-10.1-27-22.7-10.1-6.9-16.9-7.8-9-2.4-6.7-.8-11.3 1.3-9 4.9-5.6 6.8-4.5 10.3-3.4 20.3-4.5 59-2.2 16.9-2.5 11.6-5.4 19.7-4.5 10.1-6.9 6.3-7 3-25.4 5.6-15.8 .4-1.1-3.7-1.2-13.8-3.3-162-1.1-16.8-1.3-3.5-1.5-1.5-16.1 1.4-12.6 2.6z" fill="#0ececd" stroke="#0ececd"/>
<path d="M102.9 587.6l12.6-2.6 16.1-1.4 1.5 1.5 1.3 3.5 1.1 16.8 3.3 162 1.2 13.8 1.1 3.7 15.8-.4 25.4-5.6 7-3 6.9-6.3 4.5-10.1 5.4-19.7 2.5-11.6 2.2-16.9 4.5-59 3.4-20.3 4.5-10.3 5.6-6.8 9-4.9 11.3-1.3 6.7 .8 9 2.4 16.9 7.8 10.1 6.9 27 22.7 7.8 10.1 16.9 29.5 10.1 15.9 10.1 12.7 9 8.1 11.3 7.3 20 11.3 65.4 25.7 11.3 9.3 10.1 6.1 6.7 5.1 38.3 32.8 13.5 8.6 9 2.9 4.5-1.8 4.5-3.2 1.5-4.8 .7-7 2.3-50.3 .1-1.5 1 .2 1.1 42.3-1.1-42.3-1-.2-.1 1.5-2.3 50.3-.7 7-1.5 4.9-4.5 3.2-4.5 1.8-9-2.9-13.5-8.6-38.3-32.9-6.7-5.1-10.1-6.1-11.3-9.3-65.4-25.8-20-11.2-11.3-7.4-9-8-10.1-12.7-10.1-15.9-16.9-29.5-7.8-10.1-27-22.7-10.1-7-16.9-7.7-9-2.4-6.7-.9-11.3 1.4-9 4.8-5.6 6.8-4.5 10.3-3.4 20.4-4.5 59-2.2 17-5.6 23.9-4.6 13.6-2.2 3.8-6.9 6.3-7 3-25.4 5.5-15.8 .5-1.1-3.7-1.2-13.9-3.3-162-1.1-16.7-1.3-3.6-1.5-1.4-16.1 1.4-12.6 2.6z" fill="#0fd7cb" stroke="#0fd7cb"/>
<path d="M102.9 587.6l12.6-2.6 16.1-1.4 1.5 1.4 1.3 3.6 1.1 16.7 3.3 162 1.2 13.9 1.1 3.7 15.8-.5 25.4-5.5 7-3 6.9-6.3 2.2-3.8 4.6-13.6 5.6-23.9 2.2-17 4.5-59 3.4-20.4 4.5-10.3 5.6-6.8 9-4.8 11.3-1.4 6.7 .9 9 2.4 16.9 7.7 10.1 7 27 22.7 7.8 10.1 16.9 29.5 10.1 15.9 10.1 12.7 9 8 11.3 7.4 20 11.2 65.4 25.8 11.3 9.3 10.1 6.1 6.7 5.1 38.3 32.9 13.5 8.6 9 2.9 4.5-1.8 4.5-3.2 1.5-4.9 .7-7 2.3-50.3 .1-1.5 1 .2 1.1 42.3 0 .7-1.1-43-1-.2-.1 1.6-2.3 50.9-.7 7.1-1.5 5.9-2.3 3-6.1 2.7-9.6-3.6-14.7-10.1-38.2-33.8-15.7-10.5-11.3-9.4-65.4-26.5-20-11.4-11.3-7.4-9-8.1-10.1-12.9-10.1-16-16.9-29.5-7.8-10.1-12.4-9.9-14.6-13-10.1-7.2-7.9-4.3-9-3.8-9-2.5-6.7-1-11.3 1.3-9 4.6-3.3 3.5-2.3 3.5-4.5 11-3.4 20.7-4.5 62.9-2.2 19.2-5 22.6-5.2 12.8-3.3 4.1-3.4 2.3-9.4 4.1-25.4 4.6-15.8 .2-1.1-3.9-1.2-14-3.3-164.3-1.1-16.1-1.3-2.1-2-1-15.6 1.1-12.6 2.5z" fill="#1de0ca" stroke="#1de0ca"/>
<path d="M102.9 585.9l12.6-2.5 15.6-1.1 2 1 1.3 2.1 1.1 16.1 3.3 164.3 1.2 14 1.1 3.9 15.8-.2 25.4-4.6 9.4-4.1 3.4-2.3 3.3-4.1 5.2-12.8 5-22.6 2.2-19.2 4.5-62.9 3.4-20.7 4.5-11 2.3-3.5 3.3-3.5 9-4.6 11.3-1.3 6.7 1 9 2.5 9 3.8 7.9 4.3 10.1 7.2 14.6 13 12.4 9.9 7.8 10.1 16.9 29.5 10.1 16 10.1 12.9 9 8.1 11.3 7.4 20 11.4 65.4 26.5 11.3 9.4 15.7 10.5 38.2 33.8 14.7 10.1 9.6 3.6 6.1-2.7 2.3-3 1.5-5.9 .7-7.1 2.3-50.9 .1-1.6 1 .2 1.1 43 0 .6-1.1-43.6-1-.2-.1 1.6-2.3 51.5-2.2 14-1.9 3.8-4.9 2.4-2.2 .1-.6-.8-5.1-1.6-7.8-4.7-7.9-5.8-38.2-34.6-7.9-6.2-10.1-6.4-11.3-9.6-65.2-27-20.2-11.6-12.4-8.3-9-8.5-9-11.7-9-14.3-18-31.5-7.8-10.1-12.4-9.9-14.6-13.2-11.3-8-15.7-7.6-9-2.7-6.7-1.1-5.7 .1-5.6 1-9 4.6-3.3 3.4-2.3 3.6-4.1 10.3-3.9 23.5-4.4 65.3-2.2 21.5-3.4 17.7-4.2 11.8-5.9 6.6-11.7 4.8-26.4 4.3-15.9-.1-1.1-4-1.2-14.2-3.3-166.2-1.1-15.6-2.8-1.4-9.6 .3-9 .9-10.1 2z" fill="#49f3c9" stroke="#49f3c9"/>
</g>
<clipPath id="r2c0b"><path d="M102.9 679l23.6-4.9 3.4-.1 1.7 1.2 1.5 40.3 1.9 147 .5 14.7 .7 3.1 1.6 .5 11.2 .9 19.1-.2 11.3-.6 2.2-.7 .7-1.2 2.7-193.4 1.1-5 1.9-2 19.5 1.7 35.9 8.8 15.8 6.2 15.7 9.1 15.8 12.6 12.2 8.5 8 8.6 15.7 22.6 27 46.7 7.9 11 7.9 8.3 20.2 14.7 12.7 7.5 15.5 7.3 37 14.8 13.5 .9 3.4-2.9 1.1-3.2 1.5-22.6 1.9-125.5 2.2-28.4 2.3-3.1 2.2-1.4 3.4-.3 9.2 4 8.8 6.4 11.2 11.3 37.1 42.8 14.7 14.9 6.7 5.3 0 44.7-1.1-43.6-1-.2-.1 1.6-2.3 51.5-2.2 14-1.9 3.8-4.9 2.4-2.2 .1-.6-.8-5.1-1.6-7.8-4.7-7.9-5.8-38.2-34.6-7.9-6.2-10.1-6.4-11.3-9.6-65.2-27-20.2-11.6-12.4-8.3-9-8.5-9-11.7-9-14.3-18-31.5-7.8-10.1-12.4-9.9-14.6-13.2-11.3-8-15.7-7.6-9-2.7-6.7-1.1-5.7 .1-5.6 1-9 4.6-3.3 3.4-2.3 3.6-4.1 10.3-3.9 23.5-4.4 65.3-2.2 21.5-3.4 17.7-4.2 11.8-5.9 6.6-11.7 4.8-26.4 4.3-15.9-.1-1.1-4-1.2-14.2-3.3-166.2-1.1-15.6-2.8-1.4-9.6 .3-9 .9-10.1 2z" clip-rule="nonzero"/></clipPath>
<g clip-path="url(#r2c0)"><path d="M102.9 584.5l10.1-2 9-.9 9.6-.3 2.8 1.4 1.1 15.6 3.3 166.2 1.2 14.2 1.1 4 15.9 .1 26.4-4.3 11.7-4.8 5.9-6.6 4.2-11.8 3.4-17.7 2.2-21.5 4.4-65.3 3.9-23.5 4.1-10.3 2.3-3.6 3.3-3.4 9-4.6 5.6-1 5.7-.1 6.7 1.1 9 2.7 15.7 7.6 11.3 8 14.6 13.2 12.4 9.9 7.8 10.1 18 31.5 9 14.3 9 11.7 9 8.5 12.4 8.3 20.2 11.6 65.2 27 11.3 9.6 10.1 6.4 7.9 6.2 38.2 34.6 7.9 5.8 7.8 4.7 5.1 1.6 .6 .8 2.2-.1 4.9-2.4 1.9-3.8 2.2-14 2.3-51.5 .1-1.6 1 .2 1.1 43.6" fill="none" stroke="#56f7ca" stroke-width="9.5" stroke-linejoin="round" clip-path="url(#r2c0b)"/></g>
<rect x="103.9" y="546.1" width="469.1" height="102.2" fill="#808080" fill-opacity="0.3"/>
<rect x="103.9" y="852.9" width="469.1" height="102.2" fill="#808080" fill-opacity="0.3"/>
<path d="M103.9 648.4H573M103.9 852.9H573" stroke="#000" stroke-width="2.2"/>
<polyline points="102.9,656.1 115.5,652 120.9,650.6 124.3,650.1 125.4,649.5 129.8,649.4 131.6,650.1 132.4,650.7 133.7,690.5 136.2,830.4 136.6,835.3 137.8,842.2 138.9,844.7 141.1,845.5 145.6,846.1 146.6,845.6 149,845.3 152.4,844.3 157,841.9 160.2,839.4 164.7,835.3 168.1,830.6 170.4,826.2 173.7,817.6 176,810.8 182.3,783.4 186.1,763.1 192.8,717.3 195.1,706.3 197.3,697.6 199.6,691.8 201.8,687.4 204.1,683.9 206.1,681.7 207.5,681.2 210,679.2 213.1,677.5 216.5,676.2 221,675.2 230,674.2 238.9,674.2 247.9,675.5 259.2,678.1 268.2,681.3 280.5,687.1 289.5,692 298.5,697.8 305.3,702.7 310.9,707.3 315.9,712 319.9,716.6 325.5,724.8 344.6,757 349.1,763.3 354.8,769.6 367.7,781.4 377.2,788.8 385.1,793.1 395.2,796.8 399.7,797.7 404.2,798.2 412.7,798.6 418.8,798.5 426.7,797.3 436.8,794.4 445.8,790.6 455.9,785.2 472.2,775.3 486.3,765.6 493,761.6 502,757.6 507.7,755.8 512.2,754.8 520,754.3 525.7,754.7 530.2,755.5 539.1,758.3 553.8,764.3 558.9,766.1 567.3,768.3 574,769.3" fill="none" stroke="#ff0000" stroke-width="7.1" stroke-dasharray="26.3 11.4" clip-path="url(#r2c0)"/>
<path d="M103.9 955.1v-16.8M103.9 546.1v16.8M221.2 955.1v-16.8M221.2 546.1v16.8M338.5 955.1v-16.8M338.5 546.1v16.8M455.7 955.1v-16.8M455.7 546.1v16.8M573 955.1v-16.8M573 546.1v16.8M103.9 880.8h16.8M573 880.8h-16.8M103.9 750.6h16.8M573 750.6h-16.8M103.9 620.4h16.8M573 620.4h-16.8" stroke="#000" stroke-width="1.5" fill="none"/>
<path d="M127.4 955.1v-7M127.4 546.1v7M150.8 955.1v-7M150.8 546.1v7M174.3 955.1v-7M174.3 546.1v7M197.7 955.1v-7M197.7 546.1v7M244.6 955.1v-7M244.6 546.1v7M268.1 955.1v-7M268.1 546.1v7M291.5 955.1v-7M291.5 546.1v7M315 955.1v-7M315 546.1v7M361.9 955.1v-7M361.9 546.1v7M385.4 955.1v-7M385.4 546.1v7M408.8 955.1v-7M408.8 546.1v7M432.3 955.1v-7M432.3 546.1v7M479.2 955.1v-7M479.2 546.1v7M502.6 955.1v-7M502.6 546.1v7M526.1 955.1v-7M526.1 546.1v7M549.5 955.1v-7M549.5 546.1v7M103.9 945.9h7M573 945.9h-7M103.9 913.3h7M573 913.3h-7M103.9 848.2h7M573 848.2h-7M103.9 815.7h7M573 815.7h-7M103.9 783.1h7M573 783.1h-7M103.9 718.1h7M573 718.1h-7M103.9 685.5h7M573 685.5h-7M103.9 653h7M573 653h-7M103.9 587.9h7M573 587.9h-7M103.9 555.3h7M573 555.3h-7" stroke="#000" stroke-width="1.1" fill="none"/>
<rect x="103.9" y="546.1" width="469.1" height="409" fill="none" stroke="#303030" stroke-width="1.6"/>
<text x="104.9" y="988" font-size="33" text-anchor="middle" textLength="62" lengthAdjust="spacingAndGlyphs" fill="#000">−1.0</text>
<text x="222.2" y="988" font-size="33" text-anchor="middle" textLength="62" lengthAdjust="spacingAndGlyphs" fill="#000">−0.5</text>
<text x="339" y="988" font-size="33" text-anchor="middle" fill="#000">0.0</text>
<text x="456.2" y="988" font-size="33" text-anchor="middle" fill="#000">0.5</text>
<text x="573.5" y="988" font-size="33" text-anchor="middle" fill="#000">1.0</text>
<text x="98.9" y="893.6" font-size="33" text-anchor="end" textLength="38" lengthAdjust="spacingAndGlyphs" fill="#000">−2</text>
<text x="98.9" y="763.4" font-size="33" text-anchor="end" fill="#000">0</text>
<text x="98.9" y="633.2" font-size="33" text-anchor="end" fill="#000">2</text>
<text x="338.4" y="1029" font-size="40" text-anchor="middle" font-style="italic" fill="#000">γ</text>
<text x="130.2" y="630" font-size="31" textLength="83" lengthAdjust="spacingAndGlyphs" fill="#000">&gt; <tspan font-style="italic">π</tspan>/2</text>
<text x="129.9" y="930.2" font-size="31" textLength="111" lengthAdjust="spacingAndGlyphs" fill="#000">&lt; −<tspan font-style="italic">π</tspan>/2</text>
<text x="563.5" y="593" font-size="32.5" text-anchor="end" textLength="139" lengthAdjust="spacingAndGlyphs" fill="#000">Ruled Out</text>
<clipPath id="r2c1"><rect x="657.2" y="546.1" width="468.9" height="409"/></clipPath>
<g clip-path="url(#r2c1)" stroke-width="0.7" stroke-linejoin="round">
<path d="M656.2 912.5l23.6-10.1 71.9-22.9 19.1-8.7 13.8-8.6 11-9.5 11.2-12.9 24.4-36.6 16.1-20.3 20.2-28 6.7-7 6.8-5.8 7.8-5.2 7.9-3.9 14.5-5.4 15.9-4.5 35.9-7.4 21.4-3.2 61.8-4.6 80.9-2.2 0-.7-80.9 1.8-61.8 4.4-21.4 3-34.8 7-15.8 4.3-14.6 5.3-7.8 3.8-7.9 4.9-7.9 6.5-6.7 7-20.2 27.4-16.1 20.2-17.7 27.2-7.8 10.9-10.1 11.4-11 9.4-14.9 9-19.1 8.3-70.8 20.9-23.6 9.5z" fill="#030204" stroke="#030204"/>
<path d="M656.2 907.2l23.6-9.5 70.8-20.9 19.1-8.3 14.9-9 11-9.4 10.1-11.4 7.8-10.9 17.7-27.2 16.1-20.2 20.2-27.4 6.7-7 7.9-6.5 7.9-4.9 7.8-3.8 14.6-5.3 15.8-4.3 34.8-7 21.4-3 61.8-4.4 80.9-1.8 0-.8-80.9 1.5-63 4.3-21.3 2.9-33.7 6.6-15.8 4.2-14.6 5.3-7.8 3.8-7.9 4.9-7.9 6.4-6.7 6.9-36.3 47-17.7 27.3-7.8 10.8-10.1 11.4-11 9.3-14.9 8.9-19.1 8.1-16.9 5.1-53.9 14.1-23.6 9z" fill="#09060c" stroke="#09060c"/>
<path d="M656.2 902l23.6-9 53.9-14.1 16.9-5.1 19.1-8.1 14.9-8.9 11-9.3 10.1-11.4 7.8-10.8 17.7-27.3 36.3-47 6.7-6.9 7.9-6.4 7.9-4.9 7.8-3.8 14.6-5.3 15.8-4.2 33.7-6.6 21.3-2.9 63-4.3 80.9-1.5 0-.7-80.9 1-61.8 3.9-22.5 2.9-32.6 6.1-14.6 3.8-15.7 5.5-9 4.2-7.9 4.9-7.9 6.3-6.7 6.8-34.9 44.3-19.1 29.3-7.8 10.9-10.1 11.3-11 9.2-14.9 8.7-20.2 8.3-21.4 5.8-48.3 11.3-23.6 8.4z" fill="#0d0811" stroke="#0d0811"/>
<path d="M656.2 896.4l23.6-8.4 48.3-11.3 21.4-5.8 20.2-8.3 14.9-8.7 11-9.2 10.1-11.3 7.8-10.9 19.1-29.3 34.9-44.3 6.7-6.8 7.9-6.3 7.9-4.9 9-4.2 15.7-5.5 14.6-3.8 32.6-6.1 22.5-2.9 61.8-3.9 80.9-1 0-.8-80.9 .7-61.8 3.6-22.5 2.7-31.5 5.7-14.6 3.7-15.7 5.3-9 4-7.9 4.7-7.8 6-7.9 7.8-34.9 43.6-19.1 29.3-7.8 10.9-10.1 11.3-11 9.1-14.9 8.5-21.3 8.4-20.3 5.1-48.3 10.1-23.6 8z" fill="#110b15" stroke="#110b15"/>
<path d="M656.2 891.2l23.6-8 48.3-10.1 20.3-5.1 21.3-8.4 14.9-8.5 11-9.1 10.1-11.3 7.8-10.9 19.1-29.3 34.9-43.6 7.9-7.8 7.8-6 7.9-4.7 9-4 15.7-5.3 14.6-3.7 31.5-5.7 22.5-2.7 61.8-3.6 80.9-.7 0-.8-80.9 .3-63 3.4-22.4 2.7-30.4 5.3-14.6 3.6-15.7 5.3-9 4-9 5.5-7.9 6.2-8.3 8.3-33.3 41.3-19.1 29.3-8.9 12.3-10.2 11-9.8 7.9-14.9 8.4-21.3 8.1-20.3 4.8-48.3 9-9.1 2.4-14.5 5.2z" fill="#140c19" stroke="#140c19"/>
<path d="M656.2 886.2l14.5-5.2 9.1-2.4 48.3-9 20.3-4.8 21.3-8.1 14.9-8.4 9.8-7.9 10.2-11 8.9-12.3 19.1-29.3 33.3-41.3 8.3-8.3 7.9-6.2 9-5.5 9-4 15.7-5.3 14.6-3.6 30.4-5.3 22.4-2.7 63-3.4 80.9-.3 0-.4-31.5-.5-49.4 .5-61.8 3.2-22.5 2.4-31.5 5.5-13.5 3.2-15.7 5.2-10.1 4.4-9 5.4-7.9 6.2-8.3 8.3-33.3 40.9-19.1 29.4-8.9 12.3-10.2 10.9-9.8 7.8-14.9 8.3-21.3 8-20.3 4.6-47.2 8.1-10.2 2.6-14.5 5.2z" fill="#160e1c" stroke="#160e1c"/>
<path d="M656.2 883.4l14.5-5.2 10.2-2.6 47.2-8.1 20.3-4.6 21.3-8 14.9-8.3 9.8-7.8 10.2-10.9 8.9-12.3 19.1-29.4 33.3-40.9 8.3-8.3 7.9-6.2 9-5.4 10.1-4.4 15.7-5.2 13.5-3.2 31.5-5.5 22.5-2.4 61.8-3.2 49.4-.5 31.5 .5 0-.5-31.5-.6-49.4 .4-61.8 2.9-23.6 2.6-30.4 5.1-13.5 3.3-15.7 5.1-10.1 4.4-9 5.4-7.9 6.1-9 8.9-31.4 38.4-21.4 32.6-7.8 10.6-10.2 10.9-9.8 7.8-14.9 8.2-21.3 7.8-20.3 4.4-47.2 7.6-10.2 2.5-14.5 5.1z" fill="#170f1e" stroke="#170f1e"/>
<path d="M656.2 880.5l14.5-5.1 10.2-2.5 47.2-7.6 20.3-4.4 21.3-7.8 14.9-8.2 9.8-7.8 10.2-10.9 7.8-10.6 21.4-32.6 31.4-38.4 9-8.9 7.9-6.1 9-5.4 10.1-4.4 15.7-5.1 13.5-3.3 30.4-5.1 23.6-2.6 61.8-2.9 49.4-.4 31.5 .6 0-1-29.2-.8-45 .1-68.5 2.7-22.5 2.2-28.1 4.4-16.1 3.7-15.4 4.9-10.5 4.4-8.6 4.9-9 6.8-9 8.8-31.4 37.7-21.4 32.6-7.8 10.7-10.2 10.8-9.8 7.7-14.9 8-21.3 7.6-20.3 4.1-47.2 6.6-10.2 2.4-14.5 4.9z" fill="#1a1021" stroke="#1a1021"/>
<path d="M656.2 875.2l14.5-4.9 10.2-2.4 47.2-6.6 20.3-4.1 21.3-7.6 14.9-8 9.8-7.7 10.2-10.8 7.8-10.7 21.4-32.6 31.4-37.7 9-8.8 9-6.8 8.6-4.9 10.5-4.4 15.4-4.9 16.1-3.7 28.1-4.4 22.5-2.2 68.5-2.7 45-.1 29.2 .8 0-1-29.2-1-43.9-.3-69.6 2.4-22.5 2-25.9 3.8-15.7 3.3-16.8 5.2-11.7 4.8-8.6 4.9-9 6.7-9 8.5-31.4 37.1-21.4 32.7-7.8 10.7-10.2 10.7-9.8 7.6-14.9 7.9-21.3 7.4-20.3 3.7-47.2 5.8-10.2 2.2-14.5 5z" fill="#1e1228" stroke="#1e1228"/>
<path d="M656.2 870.1l14.5-5 10.2-2.2 47.2-5.8 20.3-3.7 21.3-7.4 14.9-7.9 9.8-7.6 10.2-10.7 7.8-10.7 21.4-32.7 31.4-37.1 9-8.5 9-6.7 8.6-4.9 11.7-4.8 16.8-5.2 15.7-3.3 25.9-3.8 22.5-2 69.6-2.4 43.9 .3 29.2 1 0-1.2-29.2-1.4-42.7-.5-72 2-21.3 1.7-24.7 3.4-15.8 3.2-17.9 5.3-11.7 4.8-8.6 4.8-7.8 5.7-10.2 9.3-30.3 34.9-22.5 34.3-7.8 10.7-9 9.6-11 8.5-14.9 7.7-21.3 7.1-20.3 3.5-46.1 4.8-11.3 2.4-14.5 5.1z" fill="#22132f" stroke="#22132f"/>
<path d="M656.2 864.7l14.5-5.1 11.3-2.4 46.1-4.8 20.3-3.5 21.3-7.1 14.9-7.7 11-8.5 9-9.6 7.8-10.7 22.5-34.3 30.3-34.9 10.2-9.3 7.8-5.7 8.6-4.8 11.7-4.8 17.9-5.3 15.8-3.2 24.7-3.4 21.3-1.7 72-2 42.7 .5 29.2 1.4 0-.5-28.1-1.5-41.6-.6-73 1.7-22.5 1.7-23.6 3.1-15.7 3.1-18 5.2-10.2 3.9-10.1 5.3-8.9 6.4-10.2 9.2-30.3 34.6-22.5 34.4-7.8 10.6-9 9.6-11 8.5-14.9 7.6-21.3 7.1-20.3 3.3-46.1 4.5-11.3 2.5-14.5 5.1z" fill="#251434" stroke="#251434"/>
<path d="M656.2 862.6l14.5-5.1 11.3-2.5 46.1-4.5 20.3-3.3 21.3-7.1 14.9-7.6 11-8.5 9-9.6 7.8-10.6 22.5-34.4 30.3-34.6 10.2-9.2 8.9-6.4 10.1-5.3 10.2-3.9 18-5.2 15.7-3.1 23.6-3.1 22.5-1.7 73-1.7 41.6 .6 28.1 1.5 0-.9-28.1-1.6-39.3-.8-76.5 1.5-21.3 1.5-23.6 3-15.7 3-18 5.2-10.2 3.9-10.1 5.3-8.9 6.3-10.2 9.1-30.3 34.2-22.5 34.4-7.8 10.6-9 9.6-11 8.4-14.9 7.6-21.3 6.9-20.3 3.1-46.1 4.3-11.3 2.5-14.5 5.2z" fill="#271537" stroke="#271537"/>
<path d="M656.2 859.6l14.5-5.2 11.3-2.5 46.1-4.3 20.3-3.1 21.3-6.9 14.9-7.6 11-8.4 9-9.6 7.8-10.6 22.5-34.4 30.3-34.2 10.2-9.1 8.9-6.3 10.1-5.3 10.2-3.9 18-5.2 15.7-3 23.6-3 21.3-1.5 76.5-1.5 39.3 .8 28.1 1.6 0-1.5-27-2-31.4-1-33.8-.2-52.8 1-21.3 1.3-22.5 2.6-15.7 3-18 5.1-10.2 4-10.1 5.2-8.9 6.1-10.2 8.9-29.2 32.1-6.7 9.4-16.9 26.7-9 12-9 9.1-9.8 7.3-14.9 7.4-20.2 6.4-21.4 3.2-44.9 3.8-12.5 2.7-14.5 5.4z" fill="#2b173e" stroke="#2b173e"/>
<path d="M656.2 854.4l14.5-5.4 12.5-2.7 44.9-3.8 21.4-3.2 20.2-6.4 14.9-7.4 9.8-7.3 9-9.1 9-12 16.9-26.7 6.7-9.4 29.2-32.1 10.2-8.9 8.9-6.1 10.1-5.2 10.2-4 18-5.1 15.7-3 22.5-2.6 21.3-1.3 52.8-1 33.8 .2 31.4 1 27 2 0-1.7-27-2.3-29.2-1.2-51.7-.5-39.3 .6-19.1 1-22.5 2.4-15.7 2.9-18 5.1-10.2 3.9-10.1 5.1-8.9 6.1-10.2 8.7-19.1 19.9-10.1 11.7-6.7 9.4-16.9 26.8-9 12-9 9.1-9.8 7.2-14.9 7.3-20.2 6.2-21.4 3-44.9 3.7-12.5 2.8-14.5 5.7z" fill="#2f1946" stroke="#2f1946"/>
<path d="M656.2 849.8l14.5-5.7 12.5-2.8 44.9-3.7 21.4-3 20.2-6.2 14.9-7.3 9.8-7.2 9-9.1 9-12 16.9-26.8 6.7-9.4 10.1-11.7 19.1-19.9 10.2-8.7 8.9-6.1 10.1-5.1 10.2-3.9 18-5.1 15.7-2.9 22.5-2.4 19.1-1 39.3-.6 51.7 .5 29.2 1.2 27 2.3 0-1.3-27-2.6-28.1-1.4-52.8-.7-41.6 .4-18 .8-21.3 2.2-15.7 2.9-18 5-13.5 5.4-12.4 7.3-9 6.9-12.3 11.7-14.8 15.8-7.7 9.3-21.4 33.2-8.9 12.3-9 9.4-10.2 7.6-15.7 7.7-19.1 5.9-22.5 3.2-44.9 3.7-12.5 3-14.5 5.9z" fill="#341a4d" stroke="#341a4d"/>
<path d="M656.2 846.8l14.5-5.9 12.5-3 44.9-3.7 22.5-3.2 19.1-5.9 15.7-7.7 10.2-7.6 9-9.4 8.9-12.3 21.4-33.2 7.7-9.3 14.8-15.8 12.3-11.7 9-6.9 12.4-7.3 13.5-5.4 18-5 15.7-2.9 21.3-2.2 18-.8 41.6-.4 52.8 .7 28.1 1.4 27 2.6 0-.8-27-2.8-26.9-1.4-54-1-42.7 .3-19.1 .8-19.1 2-15.7 2.9-18 5-13.5 5.4-13.6 8-12.3 10-7.8 7.6-14.8 15.7-7.7 9.4-21.4 33.3-8.9 12.2-9 9.4-10.2 7.6-15.7 7.7-19.1 5.8-22.5 3.2-43.8 3.5-13.6 3.3-14.5 6z" fill="#371a54" stroke="#371a54"/>
<path d="M656.2 845l14.5-6 13.6-3.3 43.8-3.5 22.5-3.2 19.1-5.8 15.7-7.7 10.2-7.6 9-9.4 8.9-12.2 21.4-33.3 7.7-9.4 14.8-15.7 7.8-7.6 12.3-10 13.6-8 13.5-5.4 18-5 15.7-2.9 19.1-2 19.1-.8 42.7-.3 54 1 26.9 1.4 27 2.8 0-2.5-27-3.2-28.1-1.8-66.3-1.6-40.4 .3-18 1.1-16.9 2.3-13.5 2.9-12.3 3.6-13.5 5.4-13.6 7.9-12.3 9.8-7.8 7.4-14.8 15.5-6.6 8-6.7 9.7-15.8 25.4-8.9 12.2-9 9.3-10.2 7.5-15.7 7.6-18 5.5-22.4 3.3-45 4-13.6 3.5-14.5 6.4z" fill="#3c1a5e" stroke="#3c1a5e"/>
<path d="M656.2 840.6l14.5-6.4 13.6-3.5 45-4 22.4-3.3 18-5.5 15.7-7.6 10.2-7.5 9-9.3 8.9-12.2 15.8-25.4 6.7-9.7 6.6-8 14.8-15.5 7.8-7.4 12.3-9.8 13.6-7.9 13.5-5.4 12.3-3.6 13.5-2.9 16.9-2.3 18-1.1 40.4-.3 66.3 1.6 28.1 1.8 27 3.2 0-2.6-27-3.7-26.9-2.1-54-1.8-53.9-.5-18 1-16.9 2.2-13.5 2.9-12.3 3.6-13.5 5.4-13.6 7.8-12.3 9.6-7.8 7.3-14.8 15.5-6.6 8.1-21.3 33.6-9 12.6-9 9.6-11.3 8.4-15.7 7.6-16.8 5.1-21.4 3.4-47.2 4.7-13.6 3.9-14.5 6.7z" fill="#431b6d" stroke="#431b6d"/>
<path d="M656.2 836.9l14.5-6.7 13.6-3.9 47.2-4.7 21.4-3.4 16.8-5.1 15.7-7.6 11.3-8.4 9-9.6 9-12.6 21.3-33.6 6.6-8.1 14.8-15.5 7.8-7.3 12.3-9.6 13.6-7.8 13.5-5.4 12.3-3.6 13.5-2.9 16.9-2.2 18-1 53.9 .5 54 1.8 26.9 2.1 27 3.7 0-.7-27-3.9-26.9-2.2-54-1.9-53.9-.6-18 .9-16.9 2.2-13.5 2.9-12.3 3.6-13.5 5.4-13.6 7.8-12.3 9.6-7.8 7.2-14.8 15.6-6.6 8.1-21.3 33.7-9 12.5-9 9.6-11.3 8.4-15.7 7.6-16.8 5.1-21.4 3.4-47.2 4.9-13.6 3.9-14.5 6.8z" fill="#481b76" stroke="#481b76"/>
<path d="M656.2 835.9l14.5-6.8 13.6-3.9 47.2-4.9 21.4-3.4 16.8-5.1 15.7-7.6 11.3-8.4 9-9.6 9-12.5 21.3-33.7 6.6-8.1 14.8-15.6 7.8-7.2 12.3-9.6 13.6-7.8 13.5-5.4 12.3-3.6 13.5-2.9 16.9-2.2 18-.9 53.9 .6 54 1.9 26.9 2.2 27 3.9 0-2.4-27-4.2-26.9-2.5-54-2.3-53.9-.9-18 .9-16.9 2.1-13.5 2.9-12.3 3.6-13.5 5.4-13.6 7.7-12.3 9.6-7.8 7.1-11.3 11.7-10.1 12.2-21.3 33.9-9 12.5-9 9.6-11.3 8.4-14.6 7.1-16.8 5.3-20.3 3.4-49.4 5.7-13.6 4.1-14.5 7.1z" fill="#4c1980" stroke="#4c1980"/>
<path d="M656.2 833.3l14.5-7.1 13.6-4.1 49.4-5.7 20.3-3.4 16.8-5.3 14.6-7.1 11.3-8.4 9-9.6 9-12.5 21.3-33.9 10.1-12.2 11.3-11.7 7.8-7.1 12.3-9.6 13.6-7.7 13.5-5.4 12.3-3.6 13.5-2.9 16.9-2.1 18-.9 53.9 .9 54 2.3 26.9 2.5 27 4.2 0-3.4-27-4.8-26.9-2.8-54-2.7-53.9-1.3-18 .8-16.9 2.2-13.5 2.9-12.3 3.6-13.5 5.4-13.6 7.7-12.3 9.4-7.8 7.2-11.3 11.8-10.1 12.5-21.3 34.2-9 12.5-9 9.5-11.3 8.4-15.7 7.5-19.1 5.7-22.5 3.5-33.7 3.9-13.5 2.6-10.2 3.6-14.5 7.4z" fill="#521692" stroke="#521692"/>
<path d="M656.2 830.2l14.5-7.4 10.2-3.6 13.5-2.6 33.7-3.9 22.5-3.5 19.1-5.7 15.7-7.5 11.3-8.4 9-9.5 9-12.5 21.3-34.2 10.1-12.5 11.3-11.8 7.8-7.2 12.3-9.4 13.6-7.7 13.5-5.4 12.3-3.6 13.5-2.9 16.9-2.2 18-.8 53.9 1.3 54 2.7 26.9 2.8 27 4.8 0-1.5-27-5-26.9-2.9-54-2.8-53.9-1.4-18 .8-16.9 2.1-13.5 3-12.3 3.6-13.5 5.4-13.6 7.7-12.3 9.4-7.8 7.2-11.3 11.9-10.1 12.6-21.3 34.4-9 12.4-9 9.5-11.3 8.3-15.7 7.6-19.1 5.7-21.3 3.4-34.9 4.3-13.5 2.7-10.2 3.6-14.5 7.6z" fill="#5813a1" stroke="#5813a1"/>
<path d="M656.2 829.1l14.5-7.6 10.2-3.6 13.5-2.7 34.9-4.3 21.3-3.4 19.1-5.7 15.7-7.6 11.3-8.3 9-9.5 9-12.4 21.3-34.4 10.1-12.6 11.3-11.9 7.8-7.2 12.3-9.4 13.6-7.7 13.5-5.4 12.3-3.6 13.5-3 16.9-2.1 18-.8 53.9 1.4 54 2.8 26.9 2.9 27 5 0-2.5-27-5.4-26.9-3-54-3-53.9-1.6-18 .8-16.9 2.2-13.5 2.9-12.3 3.7-13.5 5.4-13.6 7.7-12.3 9.5-7.8 7.2-11.3 12-10.1 12.8-20.3 33-8.9 12.6-9 9.8-11.2 8.7-15.8 7.8-19.1 5.9-20.2 3.6-37.1 4.9-13.5 2.8-10.2 3.8-14.5 7.8z" fill="#5b11ae" stroke="#5b11ae"/>
<path d="M656.2 827.4l14.5-7.8 10.2-3.8 13.5-2.8 37.1-4.9 20.2-3.6 19.1-5.9 15.8-7.8 11.2-8.7 9-9.8 8.9-12.6 20.3-33 10.1-12.8 11.3-12 7.8-7.2 12.3-9.5 13.6-7.7 13.5-5.4 12.3-3.7 13.5-2.9 16.9-2.2 18-.8 53.9 1.6 54 3 26.9 3 27 5.4 0-4.3-27-5.9-26.9-3.2-81-4.3-26.9-.6-18 .9-19.1 2.7-20.3 5.2-13.5 5-12.3 6.4-10.1 6.8-14.6 12.9-11.3 12.3-10.1 13.1-20.3 33.3-8.9 12.6-9 9.8-11.2 8.6-15.8 7.9-19.1 5.9-20.2 3.8-37.1 5.5-12.4 2.6-11.3 4.4-14.5 8z" fill="#610dc6" stroke="#610dc6"/>
<path d="M656.2 824.9l14.5-8 11.3-4.4 12.4-2.6 37.1-5.5 20.2-3.8 19.1-5.9 15.8-7.9 11.2-8.6 9-9.8 8.9-12.6 20.3-33.3 10.1-13.1 11.3-12.3 14.6-12.9 10.1-6.8 12.3-6.4 13.5-5 20.3-5.2 19.1-2.7 18-.9 26.9 .6 81 4.3 26.9 3.2 27 5.9 0-1.1-27-5.9-26.9-3.3-81-4.3-26.9-.6-18 .9-19.1 2.7-20.3 5.2-13.5 5.1-12.3 6.4-10.1 6.8-14.6 12.9-11.3 12.4-10.1 13.1-20.3 33.4-8.9 12.6-9 9.8-11.2 8.6-15.8 7.9-17.9 5.7-19.2 3.7-39.3 6-12.4 2.7-11.3 4.4-14.5 8.1z" fill="#6017d1" stroke="#6017d1"/>
<path d="M656.2 824.4l14.5-8.1 11.3-4.4 12.4-2.7 39.3-6 19.2-3.7 17.9-5.7 15.8-7.9 11.2-8.6 9-9.8 8.9-12.6 20.3-33.4 10.1-13.1 11.3-12.4 14.6-12.9 10.1-6.8 12.3-6.4 13.5-5.1 20.3-5.2 19.1-2.7 18-.9 26.9 .6 81 4.3 26.9 3.3 27 5.9 0-3.7-27-6.2-19.1-2.5-34.8-2.6-54-2.6-26.9-.5-18 1-19.1 2.8-20.3 5.3-16.8 6.6-12.4 7-9 6.6-12.3 11.2-11.3 12.7-10.1 13.4-19.1 31.7-9 13-10.1 11.2-11.2 8.6-15.8 8-17.9 5.7-15.8 3.2-42.7 7.1-12.4 2.8-11.3 4.6-14.5 8.3z" fill="#5e26d8" stroke="#5e26d8"/>
<path d="M656.2 822.8l14.5-8.3 11.3-4.6 12.4-2.8 42.7-7.1 15.8-3.2 17.9-5.7 15.8-8 11.2-8.6 10.1-11.2 9-13 19.1-31.7 10.1-13.4 11.3-12.7 12.3-11.2 9-6.6 12.4-7 16.8-6.6 20.3-5.3 19.1-2.8 18-1 26.9 .5 54 2.6 34.8 2.6 19.1 2.5 27 6.2 0-4-27-6.5-26.9-3.3-54-3.3-44.9-1.3-15.8 .2-19.1 1.9-16.8 3.1-18 5.3-13.5 5.6-13.6 7.8-12.3 9.6-7.8 7.7-11.3 12.9-10.1 13.6-19.1 32-9 13-10.1 11.1-10.1 7.9-15.7 8.3-18 5.9-15.8 3.5-43.8 7.7-12.4 3-11.3 4.7-14.5 8.5z" fill="#593de2" stroke="#593de2"/>
<path d="M656.2 821.3l14.5-8.5 11.3-4.7 12.4-3 43.8-7.7 15.8-3.5 18-5.9 15.7-8.3 10.1-7.9 10.1-11.1 9-13 19.1-32 10.1-13.6 11.3-12.9 7.8-7.7 12.3-9.6 13.6-7.8 13.5-5.6 18-5.3 16.8-3.1 19.1-1.9 15.8-.2 44.9 1.3 54 3.3 26.9 3.3 27 6.5 0-.9-27-6.4-26.9-3.4-54-3.2-43.8-1.3-15.8 .1-17.9 1.7-19.1 3.5-18 5.2-13.5 5.7-13.6 7.8-12.3 9.7-7.8 7.6-11.3 13-10.1 13.7-19.1 32-9 13-10.1 11.1-10.1 7.9-15.7 8.3-18 5.9-15.8 3.5-43.8 7.8-12.4 3-11.3 4.7-14.5 8.6z" fill="#5547e2" stroke="#5547e2"/>
<path d="M656.2 821l14.5-8.6 11.3-4.7 12.4-3 43.8-7.8 15.8-3.5 18-5.9 15.7-8.3 10.1-7.9 10.1-11.1 9-13 19.1-32 10.1-13.7 11.3-13 7.8-7.6 12.3-9.7 13.6-7.8 13.5-5.7 18-5.2 19.1-3.5 17.9-1.7 15.8-.1 43.8 1.3 54 3.2 26.9 3.4 27 6.4 0-5.3-27-6.6-26.9-3.3-54-3-42.7-1-15.7 .2-18 1.9-19.1 3.5-19.1 5.6-13.5 5.7-13.6 7.9-12.3 9.8-7.8 7.9-11.3 13.3-7.8 10.6-20.3 33.8-9 13.3-10.1 11.5-11.2 9-14.6 7.8-18 6.2-15.7 3.7-45 8.5-12.4 3.2-11.3 4.9-14.5 8.8z" fill="#4f54e2" stroke="#4f54e2"/>
<path d="M656.2 819.4l14.5-8.8 11.3-4.9 12.4-3.2 45-8.5 15.7-3.7 18-6.2 14.6-7.8 11.2-9 10.1-11.5 9-13.3 20.3-33.8 7.8-10.6 11.3-13.3 7.8-7.9 12.3-9.8 13.6-7.9 13.5-5.7 19.1-5.6 19.1-3.5 18-1.9 15.7-.2 42.7 1 54 3 26.9 3.3 27 6.6 0-1.4-27-6.6-26.9-3.2-54-2.9-42.7-1-15.7 .2-18 2-20.2 3.8-18 5.4-13.5 5.7-13.6 7.9-12.3 9.8-7.8 8-11.3 13.4-7.8 10.7-20.3 33.9-9 13.3-10.1 11.4-11.2 9-14.6 7.8-18 6.2-15.7 3.7-45 8.7-12.4 3.2-11.3 5-14.5 8.8z" fill="#4961e1" stroke="#4961e1"/>
<path d="M656.2 819l14.5-8.8 11.3-5 12.4-3.2 45-8.7 15.7-3.7 18-6.2 14.6-7.8 11.2-9 10.1-11.4 9-13.3 20.3-33.9 7.8-10.7 11.3-13.4 7.8-8 12.3-9.8 13.6-7.9 13.5-5.7 18-5.4 20.2-3.8 18-2 15.7-.2 42.7 1 54 2.9 26.9 3.2 27 6.6 0-3.9-27-6.4-26.9-3.2-54-2.6-41.6-.8-15.7 .3-19.1 2.3-20.2 3.9-18 5.4-13.5 5.8-13.6 8-12.3 9.9-7.8 8-11.3 13.7-7.8 10.8-20.3 34.1-9 13.3-10.1 11.5-10.1 8.2-14.6 8.1-16.9 6.1-16.8 4.2-46.1 9.3-12.4 3.3-11.3 5-14.5 8.9z" fill="#4568e0" stroke="#4568e0"/>
<path d="M656.2 818l14.5-8.9 11.3-5 12.4-3.3 46.1-9.3 16.8-4.2 16.9-6.1 14.6-8.1 10.1-8.2 10.1-11.5 9-13.3 20.3-34.1 7.8-10.8 11.3-13.7 7.8-8 12.3-9.9 13.6-8 13.5-5.8 18-5.4 20.2-3.9 19.1-2.3 15.7-.3 41.6 .8 54 2.6 26.9 3.2 27 6.4 0-2.9-27-6.3-26.9-3.1-54-2.4-41.6-.6-15.7 .4-19.1 2.4-20.2 4-18 5.5-13.5 5.8-13.6 8-8.9 7-10.5 10.4-8.6 10.3-11.2 15.2-20.3 34.3-7.8 11.8-10 11.7-11.4 9.4-14.6 8.2-16.9 6.1-16.8 4.2-46.1 9.6-12.4 3.3-11.3 5.1-14.5 9z" fill="#3f72dd" stroke="#3f72dd"/>
<path d="M656.2 817.3l14.5-9 11.3-5.1 12.4-3.3 46.1-9.6 16.8-4.2 16.9-6.1 14.6-8.2 11.4-9.4 10-11.7 7.8-11.8 20.3-34.3 11.2-15.2 8.6-10.3 10.5-10.4 8.9-7 13.6-8 13.5-5.8 18-5.5 20.2-4 19.1-2.4 15.7-.4 41.6 .6 54 2.4 26.9 3.1 27 6.3 0-2.4-27-6.3-26.9-2.8-54-2.3-41.6-.4-15.7 .5-19.1 2.5-20.2 4.1-18 5.5-13.5 5.9-13.6 8-8.9 7-10.5 10.5-8.6 10.4-11.2 15.4-20.3 34.4-7.8 11.7-10 11.7-11.4 9.4-14.6 8.2-16.9 6.2-16.8 4.2-46.1 9.8-12.4 3.4-11.3 5.1-14.5 9.1z" fill="#3b7bdb" stroke="#3b7bdb"/>
<path d="M656.2 816.8l14.5-9.1 11.3-5.1 12.4-3.4 46.1-9.8 16.8-4.2 16.9-6.2 14.6-8.2 11.4-9.4 10-11.7 7.8-11.7 20.3-34.4 11.2-15.4 8.6-10.4 10.5-10.5 8.9-7 13.6-8 13.5-5.9 18-5.5 20.2-4.1 19.1-2.5 15.7-.5 41.6 .4 54 2.3 26.9 2.8 27 6.3 0-3.8-27-5.9-26.9-2.7-54-1.9-41.6-.2-15.7 .7-19.1 2.7-20.2 4.1-18 5.6-13.5 5.9-13.6 8.1-8.9 7.1-9.2 9.2-9.9 12-11.2 15.5-19.1 32.8-9 13.5-10 11.7-11.4 9.4-14.6 8.2-15.7 5.9-18 4.7-46.1 10-12.4 3.5-10.1 4.5-15.7 9.9z" fill="#3685d9" stroke="#3685d9"/>
<path d="M656.2 816.1l15.7-9.9 10.1-4.5 12.4-3.5 46.1-10 18-4.7 15.7-5.9 14.6-8.2 11.4-9.4 10-11.7 9-13.5 19.1-32.8 11.2-15.5 9.9-12 9.2-9.2 8.9-7.1 13.6-8.1 13.5-5.9 18-5.6 20.2-4.1 19.1-2.7 15.7-.7 41.6 .2 54 1.9 26.9 2.7 27 5.9 0-1.6-27-5.8-26.9-2.5-54-1.8-41.6 0-15.7 .7-19.1 2.8-20.2 4.1-18 5.7-13.5 5.9-13.6 8.1-8.9 7.1-9.2 9.3-9.9 12-10.1 13.9-21.4 36.4-7.8 11.7-10 11.7-11.4 9.4-14.6 8.2-15.7 5.9-18 4.7-46.1 10.1-12.4 3.5-10.1 4.6-15.7 9.9z" fill="#328dd7" stroke="#328dd7"/>
<path d="M656.2 815.8l15.7-9.9 10.1-4.6 12.4-3.5 46.1-10.1 18-4.7 15.7-5.9 14.6-8.2 11.4-9.4 10-11.7 7.8-11.7 21.4-36.4 10.1-13.9 9.9-12 9.2-9.3 8.9-7.1 13.6-8.1 13.5-5.9 18-5.7 20.2-4.1 19.1-2.8 15.7-.7 41.6 0 54 1.8 26.9 2.5 27 5.8 0-3.7-27-5.4-26.9-2.3-54-1.4-41.6 .2-16.8 1-21.4 3.5-18 3.9-16.8 5.4-12.8 5.6-10.8 6.2-10.1 7.5-9 8.7-11.5 13.7-11 15.2-20.2 34.7-9 13.6-10 11.6-11.4 9.4-14.6 8.3-15.7 5.8-18 4.8-46.1 10.4-12.4 3.6-10.1 4.6-15.7 10z" fill="#2e96d4" stroke="#2e96d4"/>
<path d="M656.2 815.1l15.7-10 10.1-4.6 12.4-3.6 46.1-10.4 18-4.8 15.7-5.8 14.6-8.3 11.4-9.4 10-11.6 9-13.6 20.2-34.7 11-15.2 11.5-13.7 9-8.7 10.1-7.5 10.8-6.2 12.8-5.6 16.8-5.4 18-3.9 21.4-3.5 16.8-1 41.6-.2 54 1.4 26.9 2.3 27 5.4 0-1.5-27-5.2-26.9-2.2-54-1.2-42.7 .3-16.9 1.1-22.4 3.9-16.9 3.8-15.7 5.1-12.8 5.7-10.8 6.2-10.1 7.5-9 8.7-11.5 13.8-11 15.3-20.2 34.7-9 13.6-10 11.7-10.3 8.6-14.6 8.5-15.7 6-18 4.9-48.3 11-11.3 3.4-10.1 4.6-15.7 10.1z" fill="#299fd2" stroke="#299fd2"/>
<path d="M656.2 814.9l15.7-10.1 10.1-4.6 11.3-3.4 48.3-11 18-4.9 15.7-6 14.6-8.5 10.3-8.6 10-11.7 9-13.6 20.2-34.7 11-15.3 11.5-13.8 9-8.7 10.1-7.5 10.8-6.2 12.8-5.7 15.7-5.1 16.9-3.8 22.4-3.9 16.9-1.1 42.7-.3 54 1.2 26.9 2.2 27 5.2 0-3.2-27-4.9-26.9-1.9-45-.9-51.7 .6-16.9 1.2-23.6 4.3-16.8 4-14.6 4.8-13.5 6.1-11.3 6.6-8.9 6.8-9 8.8-11.5 14-11 15.4-20.2 34.9-9 13.5-10 11.7-10.3 8.6-14.6 8.5-15.7 6.1-18 4.9-48.3 11.2-11.3 3.4-10.1 4.7-15.7 10.1z" fill="#24aad1" stroke="#24aad1"/>
<path d="M656.2 814.3l15.7-10.1 10.1-4.7 11.3-3.4 48.3-11.2 18-4.9 15.7-6.1 14.6-8.5 10.3-8.6 10-11.7 9-13.5 20.2-34.9 11-15.4 11.5-14 9-8.8 8.9-6.8 11.3-6.6 13.5-6.1 14.6-4.8 16.8-4 23.6-4.3 16.9-1.2 51.7-.6 45 .9 26.9 1.9 27 4.9 0-2.1-27-4.6-26.9-1.8-43.9-.7-52.8 .8-16.9 1.3-24.7 4.7-15.7 3.7-14.6 4.9-13.5 6.1-11.3 6.6-8.9 6.8-9 8.9-11.5 14.1-11 15.5-20.2 34.9-7.9 12-10.1 12.2-11.3 9.6-14.6 8.6-15.7 6.1-18 4.9-48.3 11.4-11.3 3.4-10.1 4.7-15.7 10.2z" fill="#1db7cf" stroke="#1db7cf"/>
<path d="M656.2 814l15.7-10.2 10.1-4.7 11.3-3.4 48.3-11.4 18-4.9 15.7-6.1 14.6-8.6 11.3-9.6 10.1-12.2 7.9-12 20.2-34.9 11-15.5 11.5-14.1 9-8.9 8.9-6.8 11.3-6.6 13.5-6.1 14.6-4.9 15.7-3.7 24.7-4.7 16.9-1.3 52.8-.8 43.9 .7 26.9 1.8 27 4.6 0-1.8-27-4.3-26.9-1.6-43.9-.6-53.9 1-15.8 1.4-25.8 4.9-16.1 4-13.1 4.5-12.8 5.7-12 7.1-8.9 6.8-9 8.9-9 10.8-13.5 18.9-20.2 35-7.9 12-10.1 12.2-11.3 9.6-14.6 8.6-15.7 6.1-18 5-48.3 11.4-11.3 3.5-10.1 4.7-15.7 10.2z" fill="#17c1ce" stroke="#17c1ce"/>
<path d="M656.2 813.7l15.7-10.2 10.1-4.7 11.3-3.5 48.3-11.4 18-5 15.7-6.1 14.6-8.6 11.3-9.6 10.1-12.2 7.9-12 20.2-35 13.5-18.9 9-10.8 9-8.9 8.9-6.8 12-7.1 12.8-5.7 13.1-4.5 16.1-4 25.8-4.9 15.8-1.4 53.9-1 43.9 .6 26.9 1.6 27 4.3 0-3.5-23.6-3.4-30.3-1.7-42.8-.2-55 1.3-15.8 1.5-26.9 5.4-15.8 4-13.4 4.7-12.4 5.8-12.4 7.4-9 7.1-7.8 8-10.1 12.5-12.4 17.5-20.2 35.2-7.9 12-10.1 12.1-11.3 9.6-13.4 8.1-15.8 6.3-18 5.1-49.4 12-11.3 3.4-10.1 4.8-15.7 10.3z" fill="#0ececd" stroke="#0ececd"/>
<path d="M656.2 813.2l15.7-10.3 10.1-4.8 11.3-3.4 49.4-12 18-5.1 15.8-6.3 13.4-8.1 11.3-9.6 10.1-12.1 7.9-12 20.2-35.2 12.4-17.5 10.1-12.5 7.8-8 9-7.1 12.4-7.4 12.4-5.8 13.4-4.7 15.8-4 26.9-5.4 15.8-1.5 55-1.3 42.8 .2 30.3 1.7 23.6 3.4 0-.1-23.6-3.4-30.3-1.6-42.8-.3-55 1.4-15.8 1.5-26.9 5.4-15.8 4-13.4 4.7-12.4 5.7-12.4 7.5-9 7.1-7.8 7.9-10.1 12.6-12.4 17.5-20.2 35.2-7.9 12-10.1 12.1-11.3 9.6-13.4 8.1-15.8 6.3-18 5.1-49.4 11.9-11.3 3.5-10.1 4.8-15.7 10.3z" fill="#10d8cb" stroke="#10d8cb"/>
<path d="M656.2 813.2l15.7-10.3 10.1-4.8 11.3-3.5 49.4-11.9 18-5.1 15.8-6.3 13.4-8.1 11.3-9.6 10.1-12.1 7.9-12 20.2-35.2 12.4-17.5 10.1-12.6 7.8-7.9 9-7.1 12.4-7.5 12.4-5.7 13.4-4.7 15.8-4 26.9-5.4 15.8-1.5 55-1.4 42.8 .3 30.3 1.6 23.6 3.4 0-2.7-22.5-3-31.4-1.4-41.6 0-57.3 1.7-15.8 1.7-28.1 5.9-13.5 3.5-13.4 4.8-12.4 5.7-11.3 6.8-8.9 6.9-9 9-10.1 12.6-12.4 17.7-20.2 35.2-7.9 12-10.1 12.1-11.3 9.7-13.4 8-15.8 6.4-18 5.1-49.4 12.1-11.3 3.5-10.1 4.9-15.7 10.3z" fill="#1de1c9" stroke="#1de1c9"/>
<path d="M656.2 812.8l15.7-10.3 10.1-4.9 11.3-3.5 49.4-12.1 18-5.1 15.8-6.4 13.4-8 11.3-9.7 10.1-12.1 7.9-12 20.2-35.2 12.4-17.7 10.1-12.6 9-9 8.9-6.9 11.3-6.8 12.4-5.7 13.4-4.8 13.5-3.5 28.1-5.9 15.8-1.7 57.3-1.7 41.6 0 31.4 1.4 22.5 3 0-2.6-22.5-2.6-29.2-1.1-42.7 .2-58.4 2-15.8 1.8-28.1 6.1-14.6 3.9-12.3 4.4-12.4 5.8-11.3 6.7-8.9 7-9 9-10.1 12.8-12.4 17.7-20.2 35.4-7.9 12-10.1 12.1-11.3 9.6-13.4 8.1-15.8 6.3-18 5.2-49.4 12.3-11.3 3.5-10.1 4.9-15.7 10.4z" fill="#49f3c9" stroke="#49f3c9"/>
</g>
<clipPath id="r2c1b"><path d="M656.2 912.5l23.6-10.1 71.9-22.9 19.1-8.7 13.8-8.6 11-9.5 11.2-12.9 24.4-36.6 16.1-20.3 20.2-28 6.7-7 6.8-5.8 7.8-5.2 7.9-3.9 14.5-5.4 15.9-4.5 35.9-7.4 21.4-3.2 61.8-4.6 80.9-2.2 0-86.7-22.5-2.6-29.2-1.1-42.7 .2-58.4 2-15.8 1.8-28.1 6.1-14.6 3.9-12.3 4.4-12.4 5.8-11.3 6.7-8.9 7-9 9-10.1 12.8-12.4 17.7-20.2 35.4-7.9 12-10.1 12.1-11.3 9.6-13.4 8.1-15.8 6.3-18 5.2-49.4 12.3-11.3 3.5-10.1 4.9-15.7 10.4z" clip-rule="nonzero"/></clipPath>
<g clip-path="url(#r2c1)"><path d="M656.2 812.5l15.7-10.4 10.1-4.9 11.3-3.5 49.4-12.3 18-5.2 15.8-6.3 13.4-8.1 11.3-9.6 10.1-12.1 7.9-12 20.2-35.4 12.4-17.7 10.1-12.8 9-9 8.9-7 11.3-6.7 12.4-5.8 12.3-4.4 14.6-3.9 28.1-6.1 15.8-1.8 58.4-2 42.7-.2 29.2 1.1 22.5 2.6" fill="none" stroke="#56f7ca" stroke-width="9.5" stroke-linejoin="round" clip-path="url(#r2c1b)"/></g>
<rect x="657.2" y="546.1" width="468.9" height="102.2" fill="#808080" fill-opacity="0.3"/>
<rect x="657.2" y="852.9" width="468.9" height="102.2" fill="#808080" fill-opacity="0.3"/>
<path d="M657.2 648.4H1126.1M657.2 852.9H1126.1" stroke="#000" stroke-width="2.2"/>
<polyline points="656.2,836.2 673.1,828.8 678.7,827.1 684.3,825.8 695.5,824.3 737.1,820.3 746.1,819 754,817.3 761.8,815.1 770.8,812 778.7,808.5 785.4,804.9 791.1,801.1 796.7,796.5 801.2,792.1 805.7,786.9 813.5,776 828.2,752.2 834.9,742.2 843.9,731.1 854,720.5 868.6,707.1 874.2,702.6 879.8,698.6 885.5,695.3 892.2,691.9 899,689 906.8,686.3 922.6,682 939.4,679.1 955.1,677.7 975.4,677.3 1013.6,677.7 1074.3,679.8 1102.4,682.1 1127.1,685.9" fill="none" stroke="#ff0000" stroke-width="7.1" stroke-dasharray="26.3 11.4" clip-path="url(#r2c1)"/>
<path d="M657.2 955.1v-16.8M657.2 546.1v16.8M774.4 955.1v-16.8M774.4 546.1v16.8M891.6 955.1v-16.8M891.6 546.1v16.8M1008.9 955.1v-16.8M1008.9 546.1v16.8M1126.1 955.1v-16.8M1126.1 546.1v16.8M657.2 880.8h16.8M1126.1 880.8h-16.8M657.2 750.6h16.8M1126.1 750.6h-16.8M657.2 620.4h16.8M1126.1 620.4h-16.8" stroke="#000" stroke-width="1.5" fill="none"/>
<path d="M680.6 955.1v-7M680.6 546.1v7M704.1 955.1v-7M704.1 546.1v7M727.5 955.1v-7M727.5 546.1v7M751 955.1v-7M751 546.1v7M797.9 955.1v-7M797.9 546.1v7M821.3 955.1v-7M821.3 546.1v7M844.8 955.1v-7M844.8 546.1v7M868.2 955.1v-7M868.2 546.1v7M915.1 955.1v-7M915.1 546.1v7M938.5 955.1v-7M938.5 546.1v7M962 955.1v-7M962 546.1v7M985.4 955.1v-7M985.4 546.1v7M1032.3 955.1v-7M1032.3 546.1v7M1055.8 955.1v-7M1055.8 546.1v7M1079.2 955.1v-7M1079.2 546.1v7M1102.7 955.1v-7M1102.7 546.1v7M657.2 945.9h7M1126.1 945.9h-7M657.2 913.3h7M1126.1 913.3h-7M657.2 848.2h7M1126.1 848.2h-7M657.2 815.7h7M1126.1 815.7h-7M657.2 783.1h7M1126.1 783.1h-7M657.2 718.1h7M1126.1 718.1h-7M657.2 685.5h7M1126.1 685.5h-7M657.2 653h7M1126.1 653h-7M657.2 587.9h7M1126.1 587.9h-7M657.2 555.3h7M1126.1 555.3h-7" stroke="#000" stroke-width="1.1" fill="none"/>
<rect x="657.2" y="546.1" width="468.9" height="409" fill="none" stroke="#303030" stroke-width="1.6"/>
<text x="658.2" y="988" font-size="33" text-anchor="middle" textLength="62" lengthAdjust="spacingAndGlyphs" fill="#000">−1.0</text>
<text x="775.4" y="988" font-size="33" text-anchor="middle" textLength="62" lengthAdjust="spacingAndGlyphs" fill="#000">−0.5</text>
<text x="892.1" y="988" font-size="33" text-anchor="middle" fill="#000">0.0</text>
<text x="1009.4" y="988" font-size="33" text-anchor="middle" fill="#000">0.5</text>
<text x="1126.6" y="988" font-size="33" text-anchor="middle" fill="#000">1.0</text>
<text x="652.2" y="893.6" font-size="33" text-anchor="end" textLength="38" lengthAdjust="spacingAndGlyphs" fill="#000">−2</text>
<text x="652.2" y="763.4" font-size="33" text-anchor="end" fill="#000">0</text>
<text x="652.2" y="633.2" font-size="33" text-anchor="end" fill="#000">2</text>
<text x="891.6" y="1029" font-size="40" text-anchor="middle" font-style="italic" fill="#000">γ</text>
<text x="683.5" y="630" font-size="31" textLength="83" lengthAdjust="spacingAndGlyphs" fill="#000">&gt; <tspan font-style="italic">π</tspan>/2</text>
<text x="683.2" y="930.2" font-size="31" textLength="111" lengthAdjust="spacingAndGlyphs" fill="#000">&lt; −<tspan font-style="italic">π</tspan>/2</text>
<text x="1116.6" y="597" font-size="32.5" text-anchor="end" textLength="139" lengthAdjust="spacingAndGlyphs" fill="#000">Ruled Out</text>
<clipPath id="r2c2"><rect x="1210.6" y="546.1" width="468.8" height="409"/></clipPath>
<g clip-path="url(#r2c2)" stroke-width="0.7" stroke-linejoin="round">
<path d="M1209.6 835.1l21.3 7.8 15.8 4.9 15.7 3.7 20.2 3.6 42.7 6.3 37.1 4.2 44.4 3.4 24.2 .5 .7-.9 .4-5 .8-28.4 2.9-140.2 2.2-28 1.9-1.8 2.5-.6 50.4 1.1 3.3 .5 1.1 2.6 1.2 9.6 1.1 25.4 5.7 147.4 1.2 18.5 .4 3.2 1.7 1.6 34.8-.7 34.8-3.2 33.8-5.5 23.6-6.3 10.1-4.3 9-4.9 7.8-5.9 6.8-6.6 6.7-10.7 4.5-14.2 0-.1-4.5 14.1-6.7 10.7-6.8 6.6-7.8 5.9-9 4.9-10.1 4.3-23.6 6.3-33.8 5.5-34.8 3.2-34.8 .6-1.7-1.7-.4-3.2-1.2-18.5-5.7-147.2-1.1-25.4-1.2-9.5-1.1-2.6-3.3-.5-47.2-.7-4.5 .5-3 1.7-1.5 15.2-2.3 63.3-1.4 85.3-1.2 30.6-.7 .6-1.2-1.1-6.4 6.6-4.8 .9-9 0-42.7-2.9-39.3-4.2-45-6.5-20.2-3.6-15.7-3.7-15.8-4.8-21.3-7.8z" fill="#020102" stroke="#020102"/>
<path d="M1209.6 835l21.3 7.8 15.8 4.8 15.7 3.7 20.2 3.6 45 6.5 39.3 4.2 42.7 2.9 9 0 4.8-.9 6.4-6.6 1.2 1.1 .7-.6 1.2-30.6 1.4-85.3 2.3-63.3 1.5-15.2 3-1.7 4.5-.5 47.2 .7 3.3 .5 1.1 2.6 1.2 9.5 1.1 25.4 5.7 147.2 1.2 18.5 .4 3.2 1.7 1.7 34.8-.6 34.8-3.2 33.8-5.5 23.6-6.3 10.1-4.3 9-4.9 7.8-5.9 6.8-6.6 6.7-10.7 4.5-14.1 0-.2-4.5 14.1-6.7 10.7-6.8 6.6-7.8 5.9-9 4.9-10.1 4.3-23.6 6.2-33.8 5.5-35.9 3.4-20.2 .8-13.5-.3-1.7-1.9-.4-3.3-1.2-18.5-5.7-146.9-1.1-25.4-1.2-9.4-1.1-2.7-3.3-.4-43.9-.3-6.5 .4-2.5 .9-1.8 1.4-.4 2.7-2.3 36.4-3.3 143.4-.4 3.7-.7 .3-1.2-2.1-2.2 5.8-4.5 8.1-4.5 1.3-7.9 .4-39.5-2.3-41.4-4.2-44.9-6.4-21.4-3.7-16.8-3.9-15.8-4.8-21.3-7.8z" fill="#040306" stroke="#040306"/>
<path d="M1209.6 834.8l21.3 7.8 15.8 4.8 16.8 3.9 21.4 3.7 44.9 6.4 41.4 4.2 39.5 2.3 7.9-.4 4.5-1.3 4.5-8.1 2.2-5.8 1.2 2.1 .7-.3 .4-3.7 3.3-143.4 2.3-36.4 .4-2.7 1.8-1.4 2.5-.9 6.5-.4 43.9 .3 3.3 .4 1.1 2.7 1.2 9.4 1.1 25.4 5.7 146.9 1.2 18.5 .4 3.3 1.7 1.9 13.5 .3 20.2-.8 35.9-3.4 33.8-5.5 23.6-6.2 10.1-4.3 9-4.9 7.8-5.9 6.8-6.6 6.7-10.7 4.5-14.1 0-.1-4.5 14.1-6.7 10.6-6.8 6.6-7.8 5.8-9 5-10.1 4.3-23.6 6.2-34.9 5.6-35.9 3.3-21.4 .8-11.2-.4-1.7-2-.4-3.3-1.2-18.6-5.7-146.7-1.1-25.2-1.2-9.5-1.1-2.6-2.2-.3-41.6-.2-9.9 .9-4.3 2.4-2.3 30.7-3.7 144.3-.4 3.1-.7 0-1.2-2.9-6.7 20.8-4.5 1.8-4.5 .6-20.2-.4-37.1-2.7-38.2-4.3-41.6-6.1-22.5-4.3-20.2-5.6-24.7-8.9z" fill="#070409" stroke="#070409"/>
<path d="M1209.6 834.7l24.7 8.9 20.2 5.6 22.5 4.3 41.6 6.1 38.2 4.3 37.1 2.7 20.2 .4 4.5-.6 4.5-1.8 6.7-20.8 1.2 2.9 .7 0 .4-3.1 3.7-144.3 2.3-30.7 4.3-2.4 9.9-.9 41.6 .2 2.2 .3 1.1 2.6 1.2 9.5 1.1 25.2 5.7 146.7 1.2 18.6 .4 3.3 1.7 2 11.2 .4 21.4-.8 35.9-3.3 34.9-5.6 23.6-6.2 10.1-4.3 9-5 7.8-5.8 6.8-6.6 6.7-10.6 4.5-14.1 0-.2-4.5 14-6.7 10.6-6.8 6.6-7.8 5.9-9 5-10.1 4.2-23.6 6.2-34.9 5.6-37.4 3.4-25.5 .8-5.6-.5-1.7-2.2-.4-3.4-1.2-18.6-5.7-146.4-1.1-25.1-1.2-9.4-1.1-2.6-1.1-.3-14.3-.5-23.7 .4-14.6 1.6-4.3 2.6-2.3 31.6-3.7 135.2-.4 2.5-.7-.2-1.2-3.5-6.7 27.5-1.1 1-3.4 1.6-4.5 .8-22.5-.1-35.9-2.5-37.1-4.1-42.7-6.2-21.4-4.1-20.2-5.6-24.7-8.8z" fill="#09060b" stroke="#09060b"/>
<path d="M1209.6 834.6l24.7 8.8 20.2 5.6 21.4 4.1 42.7 6.2 37.1 4.1 35.9 2.5 22.5 .1 4.5-.8 3.4-1.6 1.1-1 6.7-27.5 1.2 3.5 .7 .2 .4-2.5 3.7-135.2 2.3-31.6 4.3-2.6 14.6-1.6 23.7-.4 14.3 .5 1.1 .3 1.1 2.6 1.2 9.4 1.1 25.1 5.7 146.4 1.2 18.6 .4 3.4 1.7 2.2 5.6 .5 25.5-.8 37.4-3.4 34.9-5.6 23.6-6.2 10.1-4.2 9-5 7.8-5.9 6.8-6.6 6.7-10.6 4.5-14 0-.1-4.5 14-6.7 10.6-6.8 6.5-7.8 5.9-9 5-10.1 4.2-22.5 6-34.9 5.7-35.9 3.4-22.5 .9-11-.4-1.9-2.4-1.6-22.1-5.7-146.2-1.1-25.1-1.2-9.3-1.1-2.6-1.1-.3-14.3-.5-23.7 .6-11.4 1.2-4.5 1.4-3 2.1-2.3 32.1-3.7 129.9-.4 2.1-.7-.3-1.2-3.7-6.7 31.2-1.1 1.2-3.4 1.8-4.5 1-20.2 .1-34.9-2.1-38.2-4-42.7-6.1-23.6-4.4-20.2-5.6-24.7-8.8z" fill="#0b070e" stroke="#0b070e"/>
<path d="M1209.6 834.5l24.7 8.8 20.2 5.6 23.6 4.4 42.7 6.1 38.2 4 34.9 2.1 20.2-.1 4.5-1 3.4-1.8 1.1-1.2 6.7-31.2 1.2 3.7 .7 .3 .4-2.1 3.7-129.9 2.3-32.1 3-2.1 4.5-1.4 11.4-1.2 23.7-.6 14.3 .5 1.1 .3 1.1 2.6 1.2 9.3 1.1 25.1 5.7 146.2 1.6 22.1 1.9 2.4 11 .4 22.5-.9 35.9-3.4 34.9-5.7 22.5-6 10.1-4.2 9-5 7.8-5.9 6.8-6.5 6.7-10.6 4.5-14 0-.1-4.5 14-6.7 10.5-6.8 6.6-7.8 5.9-9 5-10.1 4.2-22.5 6-34.9 5.7-38.5 3.5-25.5 .9-5.4-.5-1.9-2.6-1.6-22.1-5.7-146-1.1-25.1-1.2-9.3-1.1-2.6-2.2-.3-13.2-.4-23.7 .7-11.4 1.3-3.2 .9-4.3 2.8-2.3 32.6-3.7 125.9-.4 1.9-.7-.4-1.2-3.9-6.7 33.9-2.3 2-2.2 1.3-5.6 1.2-21.4 .1-34.8-2.1-37.1-3.9-41.6-5.9-23.6-4.5-20.2-5.5-24.7-8.8z" fill="#0c080f" stroke="#0c080f"/>
<path d="M1209.6 834.4l24.7 8.8 20.2 5.5 23.6 4.5 41.6 5.9 37.1 3.9 34.8 2.1 21.4-.1 5.6-1.2 2.2-1.3 2.3-2 6.7-33.9 1.2 3.9 .7 .4 .4-1.9 3.7-125.9 2.3-32.6 4.3-2.8 3.2-.9 11.4-1.3 23.7-.7 13.2 .4 2.2 .3 1.1 2.6 1.2 9.3 1.1 25.1 5.7 146 1.6 22.1 1.9 2.6 5.4 .5 25.5-.9 38.5-3.5 34.9-5.7 22.5-6 10.1-4.2 9-5 7.8-5.9 6.8-6.6 6.7-10.5 4.5-14 0-.2-4.5 13.9-6.7 10.4-6.8 6.6-7.8 5.9-9 5-10.1 4.2-23.6 6.2-34.9 5.6-38.2 3.5-24.7 .9-5.4-.7-1.9-2.8-1.6-22.3-5.7-145.5-1.1-25-1.2-9.2-1.1-2.6-1.1-.2-14.3-.5-21.4 1-13.7 2-3.2 1.2-4.3 3-2.3 33.9-3.7 115.1-.4 1.4-.7-.4-1.2-4-5.6 29.9-1.1 10-4.5 4.2-4.5 1.5-7.9 .8-23.6-.3-35.9-2.4-29.2-3.2-41.6-5.9-21.4-4-20.2-5.5-24.7-8.7z" fill="#0d0911" stroke="#0d0911"/>
<path d="M1209.6 834.2l24.7 8.7 20.2 5.5 21.4 4 41.6 5.9 29.2 3.2 35.9 2.4 23.6 .3 7.9-.8 4.5-1.5 4.5-4.2 1.1-10 5.6-29.9 1.2 4 .7 .4 .4-1.4 3.7-115.1 2.3-33.9 4.3-3 3.2-1.2 13.7-2 21.4-1 14.3 .5 1.1 .2 1.1 2.6 1.2 9.2 1.1 25 5.7 145.5 1.6 22.3 1.9 2.8 5.4 .7 24.7-.9 38.2-3.5 34.9-5.6 23.6-6.2 10.1-4.2 9-5 7.8-5.9 6.8-6.6 6.7-10.4 4.5-13.9 0-.3-4.5 13.8-6.7 10.4-6.8 6.5-7.8 5.9-9 5-10.1 4.2-23.6 6.2-34.9 5.5-42.7 3.8-21.3 .7-4.3-.8-1.9-3.2-1.6-22.5-7.4-176.5-1.7-4.9-15.4-.5-28.4 2.2-6.7 1.8-3.2 1.6-4.3 3.4-2.3 35.3-3.7 103.8-.4 1-.7-.5-1.2-3.8-5.6 32.4-1.1 12.5-4.5 5.4-4.5 2-4.5 .7-20.2 .6-32.6-1.4-36-3.4-44.9-6.2-21.4-3.9-20.2-5.4-24.7-8.7z" fill="#100a15" stroke="#100a15"/>
<path d="M1209.6 833.9l24.7 8.7 20.2 5.4 21.4 3.9 44.9 6.2 36 3.4 32.6 1.4 20.2-.6 4.5-.7 4.5-2 4.5-5.4 1.1-12.5 5.6-32.4 1.2 3.8 .7 .5 .4-1 3.7-103.8 2.3-35.3 4.3-3.4 3.2-1.6 6.7-1.8 28.4-2.2 15.4 .5 1.7 4.9 7.4 176.5 1.6 22.5 1.9 3.2 4.3 .8 21.3-.7 42.7-3.8 34.9-5.5 23.6-6.2 10.1-4.2 9-5 7.8-5.9 6.8-6.5 6.7-10.4 4.5-13.8 0-.4-4.5 13.6-6.7 10.3-7.9 7.6-6.7 4.9-9 5-10.1 4.2-23.6 6.1-34.9 5.5-47.2 4.1-17.9 .6-3.2-1-1.9-3.7-1.6-22.7-7.4-175.5-1.7-4.8-15.4-.5-28.4 3.2-6.7 2.3-7.5 5.9-2.3 37-2.6 76.1-1.1 16-.4 .7-.7-.4-1.2-3.3-5.6 33-1.1 15.2-4.5 6.8-4.5 2.6-3.4 .8-19.1 1.3-32.6-.8-35.9-3.1-43.8-5.7-23.6-4.1-21.4-5.5-24.7-8.7z" fill="#130c18" stroke="#130c18"/>
<path d="M1209.6 833.5l24.7 8.7 21.4 5.5 23.6 4.1 43.8 5.7 35.9 3.1 32.6 .8 19.1-1.3 3.4-.8 4.5-2.6 4.5-6.8 1.1-15.2 5.6-33 1.2 3.3 .7 .4 .4-.7 1.1-16 2.6-76.1 2.3-37 7.5-5.9 6.7-2.3 28.4-3.2 15.4 .5 1.7 4.8 7.4 175.5 1.6 22.7 1.9 3.7 3.2 1 17.9-.6 47.2-4.1 34.9-5.5 23.6-6.1 10.1-4.2 9-5 6.7-4.9 7.9-7.6 6.7-10.3 4.5-13.6 0-.2-4.5 13.5-6.7 10.2-7.9 7.6-6.7 4.9-9 5-10.1 4.2-22.5 5.8-34.9 5.6-44.9 4.1-20.2 .9-3.8-.8-2.4-4.4-1.6-22.9-7.4-174.8-1.7-4.8-15.4-.3-21.4 2.3-7 1.4-6.7 2.7-7.5 6.5-2.3 37.9-2.6 71.5-1.1 14.3-.4 .6-.7-.4-1.2-3-1.1 5.6-4.5 27.1-1.1 16.6-4.5 7.6-4.5 3-10.1 2-23.6 .7-33.7-1.4-29.2-2.8-41.6-5.4-23.6-4.2-20.2-5.5-22.5-7.9z" fill="#160e1c" stroke="#160e1c"/>
<path d="M1209.6 833.3l22.5 7.9 20.2 5.5 23.6 4.2 41.6 5.4 29.2 2.8 33.7 1.4 23.6-.7 10.1-2 4.5-3 4.5-7.6 1.1-16.6 4.5-27.1 1.1-5.6 1.2 3 .7 .4 .4-.6 1.1-14.3 2.6-71.5 2.3-37.9 7.5-6.5 6.7-2.7 7-1.4 21.4-2.3 15.4 .3 1.7 4.8 7.4 174.8 1.6 22.9 2.4 4.4 3.8 .8 20.2-.9 44.9-4.1 34.9-5.6 22.5-5.8 10.1-4.2 9-5 6.7-4.9 7.9-7.6 6.7-10.2 4.5-13.5 0-.3-4.5 13.4-6.7 10.2-7.9 7.5-6.7 5-9 4.9-10.1 4.2-22.5 5.9-34.9 5.5-48.3 4.4-16.8 .7-3.8-.9-2.4-4.7-1.6-23.1-7.4-174.1-1.7-4.7-15.4-.3-8.2 1.5-13.2 1.2-7 1.6-6.7 3.1-7.5 7.1-2.3 38.9-2.6 67.1-1.1 12.8-1.1 .2-1.2-2.8-1.1 5.3-4.5 26.7-1.1 17.7-4.5 8.5-4.5 3.4-10.1 2.3-22.5 1.1-28.1-.8-33.7-2.8-43.8-5.5-23.6-4.2-20.2-5.4-22.5-7.9z" fill="#170f1e" stroke="#170f1e"/>
<path d="M1209.6 833l22.5 7.9 20.2 5.4 23.6 4.2 43.8 5.5 33.7 2.8 28.1 .8 22.5-1.1 10.1-2.3 4.5-3.4 4.5-8.5 1.1-17.7 4.5-26.7 1.1-5.3 1.2 2.8 1.1-.2 1.1-12.8 2.6-67.1 2.3-38.9 7.5-7.1 6.7-3.1 7-1.6 13.2-1.2 8.2-1.5 15.4 .3 1.7 4.7 7.4 174.1 1.6 23.1 2.4 4.7 3.8 .9 16.8-.7 48.3-4.4 34.9-5.5 22.5-5.9 10.1-4.2 9-4.9 6.7-5 7.9-7.5 6.7-10.2 4.5-13.4 0-.7-3.4 10.8-2.2 4.5-4.5 6.5-5.6 5.9-5.6 4.8-6.8 4.5-16.8 7.8-22.5 5.8-36 5.6-50.5 4.7-14.6 .6-2.7-1.2-2.4-5.7-1.6-23.5-7.4-172.2-1.7-4.6-15.4-.1-7 1.8-14.4 1.9-7 2.2-6.7 4-7.5 8.7-4.9 98.4-1.1 10.1-1.1 .2-1.2-2.2-2.2 9.7-3.4 19.5-1.1 19.7-4.5 10.4-4.5 4.2-9 3-22.5 2.1-26.9-.1-32.6-2.2-47.2-5.5-23.6-4-20.2-5.3-22.5-7.7z" fill="#1b1124" stroke="#1b1124"/>
<path d="M1209.6 832.4l22.5 7.7 20.2 5.3 23.6 4 47.2 5.5 32.6 2.2 26.9 .1 22.5-2.1 9-3 4.5-4.2 4.5-10.4 1.1-19.7 3.4-19.5 2.2-9.7 1.2 2.2 1.1-.2 1.1-10.1 4.9-98.4 7.5-8.7 6.7-4 7-2.2 14.4-1.9 7-1.8 15.4 .1 1.7 4.6 7.4 172.2 1.6 23.5 2.4 5.7 2.7 1.2 14.6-.6 50.5-4.7 36-5.6 22.5-5.8 16.8-7.8 6.8-4.5 5.6-4.8 5.6-5.9 4.5-6.5 2.2-4.5 3.4-10.8 0-.9-3.4 10.6-2.2 4.3-4.5 6.4-5.6 5.9-5.6 4.8-6.8 4.5-16.8 7.7-21.4 5.5-33.7 5.4-52.8 5.2-14.6 .9-3-.9-1.5-1.8-1.7-5.9-1.6-23.9-7.4-169.9-1.7-4.5-15.4 .2-7 2.5-14.4 2.6-7 2.9-6.7 5.3-7.5 10.5-5.2 93.3-.8 5.1-1.1 .3-1.2-1.6-3.3 13.1-2.3 12.3-1.1 20.4-1.1 4-3.4 8.2-4.5 5.2-9 3.9-22.5 3.1-26.9 .6-32.6-1.6-47.2-5-23.6-3.8-20.2-5-22.5-7.7z" fill="#22132f" stroke="#22132f"/>
<path d="M1209.6 831.5l22.5 7.7 20.2 5 23.6 3.8 47.2 5 32.6 1.6 26.9-.6 22.5-3.1 9-3.9 4.5-5.2 3.4-8.2 1.1-4 1.1-20.4 2.3-12.3 3.3-13.1 1.2 1.6 1.1-.3 .8-5.1 5.2-93.3 7.5-10.5 6.7-5.3 7-2.9 14.4-2.6 7-2.5 15.4-.2 1.7 4.5 7.4 169.9 1.6 23.9 1.7 5.9 1.5 1.8 3 .9 14.6-.9 52.8-5.2 33.7-5.4 21.4-5.5 16.8-7.7 6.8-4.5 5.6-4.8 5.6-5.9 4.5-6.4 2.2-4.3 3.4-10.6 0-.1-3.4 10.6-2.2 4.3-4.5 6.4-5.6 5.9-5.6 4.8-6.8 4.5-16.8 7.7-21.4 5.5-33.7 5.4-53.9 5.3-13.5 .8-3-.9-1.5-1.9-1.7-5.8-1.6-24.1-7.4-169.7-1.7-4.4-15.4 .2-7 2.5-14.4 2.7-7 2.9-6.7 5.4-3.4 5.6-4.1 5-5.2 92.7-.8 5.1-1.1 .3-1.2-1.5-3.3 12.9-2.3 12.2-1.1 20.4-1.1 4.1-3.4 8.2-4.5 5.3-9 3.9-22.5 3.2-26.9 .7-32.6-1.7-47.2-4.9-23.6-3.8-20.2-5-22.5-7.6z" fill="#251535" stroke="#251535"/>
<path d="M1209.6 831.5l22.5 7.6 20.2 5 23.6 3.8 47.2 4.9 32.6 1.7 26.9-.7 22.5-3.2 9-3.9 4.5-5.3 3.4-8.2 1.1-4.1 1.1-20.4 2.3-12.2 3.3-12.9 1.2 1.5 1.1-.3 .8-5.1 5.2-92.7 4.1-5 3.4-5.6 6.7-5.4 7-2.9 14.4-2.7 7-2.5 15.4-.2 1.7 4.4 7.4 169.7 1.6 24.1 1.7 5.8 1.5 1.9 3 .9 13.5-.8 53.9-5.3 33.7-5.4 21.4-5.5 16.8-7.7 6.8-4.5 5.6-4.8 5.6-5.9 4.5-6.4 2.2-4.3 3.4-10.6 0-1.1-3.4 10.3-2.2 4.2-4.5 6.2-5.6 5.8-5.6 4.8-6.8 4.6-7.9 4-8.9 3.6-21.4 5.4-33.7 5.3-56.2 5.8-12.3 .8-1.9-1.2-1.3-1.6-1.2-3.9-1.1-8.7-8.6-186.7-1.7-4.2-14.6 1-.8-.5-7 3.3-14.4 3.5-7 3.8-6.7 6.8-3.4 7.1-4.1 5.7-2.7 54.4-2.5 29.9-.8 4.1-1.1 .3-1.2-1-4.5 15.6-1.1 5.7-1.1 19.7-1.1 4.3-3.3 7.6-.1 1.6-5.6 7.1-9 4.4-21.4 4-26.9 1.4-32.6-1-47.2-4.4-23.6-3.5-20.2-4.7-22.5-7.4z" fill="#29163c" stroke="#29163c"/>
<path d="M1209.6 830.5l22.5 7.4 20.2 4.7 23.6 3.5 47.2 4.4 32.6 1 26.9-1.4 21.4-4 9-4.4 5.6-7.1 .1-1.6 3.3-7.6 1.1-4.3 1.1-19.7 1.1-5.7 4.5-15.6 1.2 1 1.1-.3 .8-4.1 2.5-29.9 2.7-54.4 4.1-5.7 3.4-7.1 6.7-6.8 7-3.8 14.4-3.5 7-3.3 .8 .5 14.6-1 1.7 4.2 8.6 186.7 1.1 8.7 1.2 3.9 1.3 1.6 1.9 1.2 12.3-.8 56.2-5.8 33.7-5.3 21.4-5.4 8.9-3.6 7.9-4 6.8-4.6 5.6-4.8 5.6-5.8 4.5-6.2 2.2-4.2 3.4-10.3 0-1.4-3.4 10-2.2 3.9-4.5 6.1-5.6 5.7-5.6 4.8-6.8 4.6-15.7 7.2-18 4.8-27 4.5-40.4 5-39.7 3.6-1.5-1.4-1.5-2.8-2.1-13.9-8-177.7-.6-5.8-1.7-4-14.6 1.6-.8-.6-7 4.2-14.4 4.6-7 4.9-.1 .8-4.4 4.2-2.2 3.6-3.4 8.6-3.4 6.3-.7 .1-2.7 51.7-2.5 23.9-.8 3.2-1.1 .5-1.2-.7-4.5 12.9-1.1 4.8-1.1 18-4.5 14-4.5 7.1-7.9 5.4-13.4 4-22.5 3.5-23.6 1.1-23.6-.5-40.5-3-30.3-3.8-21.4-4.7-21.3-6.9z" fill="#311949" stroke="#311949"/>
<path d="M1209.6 829.2l21.3 6.9 21.4 4.7 30.3 3.8 40.5 3 23.6 .5 23.6-1.1 22.5-3.5 13.4-4 7.9-5.4 4.5-7.1 4.5-14 1.1-18 1.1-4.8 4.5-12.9 1.2 .7 1.1-.5 .8-3.2 2.5-23.9 2.7-51.7 .7-.1 3.4-6.3 3.4-8.6 2.2-3.6 4.4-4.2 .1-.8 7-4.9 14.4-4.6 7-4.2 .8 .6 14.6-1.6 1.7 4 .6 5.8 8 177.7 2.1 13.9 1.5 2.8 1.5 1.4 39.7-3.6 40.4-5 27-4.5 18-4.8 15.7-7.2 6.8-4.6 5.6-4.8 5.6-5.7 4.5-6.1 2.2-3.9 3.4-10 0-.1-3.4 10-2.2 3.9-4.5 6-5.6 5.8-5.6 4.8-6.8 4.5-15.7 7.3-18 4.8-27 4.5-40.4 4.9-39.7 3.7-1.5-1.4-1.5-2.9-2.1-13.9-8-177.6-.6-5.7-1.7-4-14.6 1.5-.8-.5-7 4.2-14.4 4.7-7 4.9-.1 .8-4.4 4.3-2.2 3.6-3.4 8.7-3.4 6.3-.7 .2-2.7 51.5-2.5 23.6-.8 3.2-1.1 .4-1.2-.6-4.5 12.8-1.1 4.7-1.1 18-4.5 13.9-4.5 7.2-7.9 5.4-13.4 4.1-22.5 3.5-23.6 1.2-23.6-.6-40.5-2.9-30.3-3.8-21.4-4.7-21.3-6.9z" fill="#361a52" stroke="#361a52"/>
<path d="M1209.6 829.1l21.3 6.9 21.4 4.7 30.3 3.8 40.5 2.9 23.6 .6 23.6-1.2 22.5-3.5 13.4-4.1 7.9-5.4 4.5-7.2 4.5-13.9 1.1-18 1.1-4.7 4.5-12.8 1.2 .6 1.1-.4 .8-3.2 2.5-23.6 2.7-51.5 .7-.2 3.4-6.3 3.4-8.7 2.2-3.6 4.4-4.3 .1-.8 7-4.9 14.4-4.7 7-4.2 .8 .5 14.6-1.5 1.7 4 .6 5.7 8 177.6 2.1 13.9 1.5 2.9 1.5 1.4 39.7-3.7 40.4-4.9 27-4.5 18-4.8 15.7-7.3 6.8-4.5 5.6-4.8 5.6-5.8 4.5-6 2.2-3.9 3.4-10 0-1.9-3.4 9.5-2.2 3.6-4.5 5.8-6.8 6.7-12.3 9-14.6 6.5-15.8 4.2-24.7 4.2-82 10.2-2.6-.2-1.5-1.8-1.5-3.7-2.1-16.6-8-173.6-.6-5.3-1.7-3.7-14.6 2.3-.8-.7-7 5.5-13.5 5.8-3.2 2-4.7 4.8-.1 1-4.4 5.4-5.4 13-.2 2-3.4 7-.7 .1-.4 17-2.3 29.9-2.5 18.4-.8 2.6-2.3 .2-4.5 10.3-1.1 3.9-1.1 15.4-4.4 11.8-.1 1.7-4.5 7.7-7.9 6.1-13.4 4.9-22.5 4.7-23.6 2-23.6 .1-39.3-2.1-31.5-3.2-23.6-4.8-19.1-6.1z" fill="#3c1a5e" stroke="#3c1a5e"/>
<path d="M1209.6 827.3l19.1 6.1 23.6 4.8 31.5 3.2 39.3 2.1 23.6-.1 23.6-2 22.5-4.7 13.4-4.9 7.9-6.1 4.5-7.7 .1-1.7 4.4-11.8 1.1-15.4 1.1-3.9 4.5-10.3 2.3-.2 .8-2.6 2.5-18.4 2.3-29.9 .4-17 .7-.1 3.4-7 .2-2 5.4-13 4.4-5.4 .1-1 4.7-4.8 3.2-2 13.5-5.8 7-5.5 .8 .7 14.6-2.3 1.7 3.7 .6 5.3 8 173.6 2.1 16.6 1.5 3.7 1.5 1.8 2.6 .2 82-10.2 24.7-4.2 15.8-4.2 14.6-6.5 12.3-9 6.8-6.7 4.5-5.8 2.2-3.6 3.4-9.5 0-1.2-3.4 9.2-2.2 3.5-4.5 5.6-6.8 6.7-12.3 8.9-14.6 6.6-14.6 3.9-23.6 4-84.3 10.9-2.6-.2-2.8-5.1-2.3-19.3-8-171.2-.6-5-1.7-3.5-14.6 2.7-.8-.8-7 6.3-13.5 6.7-3.2 2.3-4.7 5.4-.1 1.2-4.4 6-5.4 14.2-.2 2.1-3.4 7.3-.7 0-.4 16.8-2.3 27.3-2.5 16.2-.8 2.3-2.3 .3-4.5 9.3-1.1 3.4-1.1 14-4.4 11.3-.1 1.7-4.5 7.7-7.9 6.4-13.4 5.3-22.5 5.1-23.6 2.6-23.6 .4-39.3-1.6-31.5-2.9-23.6-4.5-19.1-5.9z" fill="#461b71" stroke="#461b71"/>
<path d="M1209.6 826.2l19.1 5.9 23.6 4.5 31.5 2.9 39.3 1.6 23.6-.4 23.6-2.6 22.5-5.1 13.4-5.3 7.9-6.4 4.5-7.7 .1-1.7 4.4-11.3 1.1-14 1.1-3.4 4.5-9.3 2.3-.3 .8-2.3 2.5-16.2 2.3-27.3 .4-16.8 .7 0 3.4-7.3 .2-2.1 5.4-14.2 4.4-6 .1-1.2 4.7-5.4 3.2-2.3 13.5-6.7 7-6.3 .8 .8 14.6-2.7 1.7 3.5 .6 5 8 171.2 2.3 19.3 2.8 5.1 2.6 .2 84.3-10.9 23.6-4 14.6-3.9 14.6-6.6 12.3-8.9 6.8-6.7 4.5-5.6 2.2-3.5 3.4-9.2 0-1.1-3.4 9-2.2 3.3-11.3 12.2-12.3 8.9-14.6 6.5-12.4 3.4-18 3.2-92.1 12.5-2.6-.2-2.8-5.6-1.9-14.4-8.4-175.5-.6-4.9-1.7-3.3-14.6 3.2-.8-.9-7 7-13.5 7.5-3.2 2.5-4.7 6.1-.1 1.2-4.4 6.6-5.4 15.1-.2 2.2-3.4 7.4-.7 0-.4 16.5-2.3 25.1-2.5 14.6-.8 2.1-2.3 .5-4.5 8.4-1.1 3.1-1.1 12.8-4.4 10.8-.1 1.7-4.5 7.6-7.9 6.6-13.4 5.5-22.5 5.6-23.6 2.9-23.6 .7-39.3-1.2-31.5-2.6-23.6-4.2-19.1-5.7z" fill="#4b197f" stroke="#4b197f"/>
<path d="M1209.6 825.3l19.1 5.7 23.6 4.2 31.5 2.6 39.3 1.2 23.6-.7 23.6-2.9 22.5-5.6 13.4-5.5 7.9-6.6 4.5-7.6 .1-1.7 4.4-10.8 1.1-12.8 1.1-3.1 4.5-8.4 2.3-.5 .8-2.1 2.5-14.6 2.3-25.1 .4-16.5 .7 0 3.4-7.4 .2-2.2 5.4-15.1 4.4-6.6 .1-1.2 4.7-6.1 3.2-2.5 13.5-7.5 7-7 .8 .9 14.6-3.2 1.7 3.3 .6 4.9 8.4 175.5 1.9 14.4 2.8 5.6 2.6 .2 92.1-12.5 18-3.2 12.4-3.4 14.6-6.5 12.3-8.9 11.3-12.2 2.2-3.3 3.4-9 0-2.4-3.4 8.4-6.7 8.2-7.9 7.6-11.2 8-14.6 6.4-12.4 3.3-15.7 2.8-68.6 9.1-25.8 4.4-2.6-.2-2.8-6.8-1.9-17-5.9-130.3-2.5-41.2-.6-4.4-1.7-2.9-14.6 4.1-.8-1.1-8.2 9.6-13.2 8.9-2.3 2.5-4.7 7.3-.1 1.4-4.4 7.8-2.2 6.2-3.4 12.6-3.4 7.5-.7 0-.4 15.3-2.3 21.1-2.5 12-.8 1.8-2.3 .6-1.1 1.5-4.5 8.2-1.1 10.7-4.4 9.5-.1 1.5-4.5 7.3-7.9 6.7-13.4 5.8-22.5 6.2-23.6 3.6-23.6 1.3-38.2-.3-32.6-1.9-23.6-3.7-19.1-5.4z" fill="#531595" stroke="#531595"/>
<path d="M1209.6 823.1l19.1 5.4 23.6 3.7 32.6 1.9 38.2 .3 23.6-1.3 23.6-3.6 22.5-6.2 13.4-5.8 7.9-6.7 4.5-7.3 .1-1.5 4.4-9.5 1.1-10.7 4.5-8.2 1.1-1.5 2.3-.6 .8-1.8 2.5-12 2.3-21.1 .4-15.3 .7 0 3.4-7.5 3.4-12.6 2.2-6.2 4.4-7.8 .1-1.4 4.7-7.3 2.3-2.5 13.2-8.9 8.2-9.6 .8 1.1 14.6-4.1 1.7 2.9 .6 4.4 2.5 41.2 5.9 130.3 1.9 17 2.8 6.8 2.6 .2 25.8-4.4 68.6-9.1 15.7-2.8 12.4-3.3 14.6-6.4 11.2-8 7.9-7.6 6.7-8.2 3.4-8.4 0-.2-3.4 8.4-6.7 8.1-7.9 7.6-11.2 8-14.6 6.4-12.4 3.3-15.7 2.7-68.6 9.1-25.8 4.6-2.6-.3-2.8-6.9-1.9-17.2-5.9-130.3-2.5-40.9-.6-4.3-1.7-2.9-14.6 4.2-.8-1.1-8.2 9.7-13.2 9.1-2.3 2.5-4.7 7.4-.1 1.5-4.4 7.8-2.2 6.3-3.4 12.7-3.4 7.5-.7 0-.4 15.2-2.3 20.7-2.5 11.8-.8 1.8-2.3 .6-1.1 1.5-4.5 8.1-1.1 10.5-4.4 9.4-.1 1.5-4.5 7.3-7.9 6.6-13.4 5.9-22.5 6.2-23.6 3.7-23.6 1.3-38.2-.2-32.6-1.9-23.6-3.6-19.1-5.4z" fill="#5913a4" stroke="#5913a4"/>
<path d="M1209.6 822.9l19.1 5.4 23.6 3.6 32.6 1.9 38.2 .2 23.6-1.3 23.6-3.7 22.5-6.2 13.4-5.9 7.9-6.6 4.5-7.3 .1-1.5 4.4-9.4 1.1-10.5 4.5-8.1 1.1-1.5 2.3-.6 .8-1.8 2.5-11.8 2.3-20.7 .4-15.2 .7 0 3.4-7.5 3.4-12.7 2.2-6.3 4.4-7.8 .1-1.5 4.7-7.4 2.3-2.5 13.2-9.1 8.2-9.7 .8 1.1 14.6-4.2 1.7 2.9 .6 4.3 2.5 40.9 5.9 130.3 1.9 17.2 2.8 6.9 2.6 .3 25.8-4.6 68.6-9.1 15.7-2.7 12.4-3.3 14.6-6.4 11.2-8 7.9-7.6 6.7-8.1 3.4-8.4 0-2.4-3.4 7.8-6.7 7.6-9 8.5-11.2 7.7-13.5 5.7-10.1 2.7-13.5 2.5-69.7 9.4-29.2 5.6-2.6-.3-2.3-5.8-1.7-12.2-3-54.7-3.6-85.2-2.5-37.2-.6-3.9-1.7-2.6-14.6 5.1-.8-1.1-7 10.2-13.5 11.2-3.2 3.8-4.7 8.5-.1 1.7-4.4 8.8-5.6 19.8-3.4 7.3-.7 0-.4 13.8-2.3 17.8-2.5 9.9-.8 1.6-2.3 .8-1.1 1.3-4.5 6.9-1.1 8.9-4.4 8.3-.1 1.3-4.5 6.8-7.9 6.4-13.4 6-22.5 6.5-23.6 4.1-23.6 1.8-37.1 .5-33.7-1.3-23.6-2.9-19.1-5.2z" fill="#5d10b5" stroke="#5d10b5"/>
<path d="M1209.6 820.7l19.1 5.2 23.6 2.9 33.7 1.3 37.1-.5 23.6-1.8 23.6-4.1 22.5-6.5 13.4-6 7.9-6.4 4.5-6.8 .1-1.3 4.4-8.3 1.1-8.9 4.5-6.9 1.1-1.3 2.3-.8 .8-1.6 2.5-9.9 2.3-17.8 .4-13.8 .7 0 3.4-7.3 5.6-19.8 4.4-8.8 .1-1.7 4.7-8.5 3.2-3.8 13.5-11.2 7-10.2 .8 1.1 14.6-5.1 1.7 2.6 .6 3.9 2.5 37.2 3.6 85.2 3 54.7 1.7 12.2 2.3 5.8 2.6 .3 29.2-5.6 69.7-9.4 13.5-2.5 10.1-2.7 13.5-5.7 11.2-7.7 9-8.5 6.7-7.6 3.4-7.8 0-2-3.4 7.5-15.7 15.7-11.2 7.6-13.5 5.7-20.2 4.5-70.8 9.7-31.5 6.3-2.6-.3-2.3-6.5-1.7-13.4-6.6-140.7-2.5-34.4-.6-3.5-1.7-2.3-2.2 1.5-12.4 4.4-.8-1.3-7 11.5-13.5 12.6-3.2 4.2-9.2 20.7-5.6 20.1-3.4 7-.7 .1-.4 12.7-2.3 15.7-2.2 8.2-1.1 2.1-3.4 2.1-4.5 6.3-1.1 7.7-4.4 7.5-.1 1.3-4.5 6.3-7.9 6.2-12.3 5.5-23.6 7-23.6 4.4-23.6 2-37.1 1-34.8-.8-22.5-2.5-19.1-4.9z" fill="#6110ce" stroke="#6110ce"/>
<path d="M1209.6 819l19.1 4.9 22.5 2.5 34.8 .8 37.1-1 23.6-2 23.6-4.4 23.6-7 12.3-5.5 7.9-6.2 4.5-6.3 .1-1.3 4.4-7.5 1.1-7.7 4.5-6.3 3.4-2.1 1.1-2.1 2.2-8.2 2.3-15.7 .4-12.7 .7-.1 3.4-7 5.6-20.1 9.2-20.7 3.2-4.2 13.5-12.6 7-11.5 .8 1.3 12.4-4.4 2.2-1.5 1.7 2.3 .6 3.5 2.5 34.4 6.6 140.7 1.7 13.4 2.3 6.5 2.6 .3 31.5-6.3 70.8-9.7 20.2-4.5 13.5-5.7 11.2-7.6 15.7-15.7 3.4-7.5 0-.7-3.4 7.3-16.8 16.4-11.3 7.3-12.3 5.1-19.1 4.3-67.4 9.2-36 7.2-2.6-.3-2.3-6.8-1.7-13.9-6.6-140.9-2.5-33.4-.6-3.4-1.7-2.1-2.2 1.5-12.4 4.6-.8-1.3-7 11.9-13.5 13.2-3.2 4.4-9.2 21.3-5.6 20.1-3.4 7-.7 0-.4 12.3-2.3 15.1-2.2 7.8-1.1 2-3.4 2.2-4.5 5.9-1.1 7.5-4.4 7.2-.1 1.2-4.5 6.1-7.9 6.1-12.3 5.4-23.6 7.1-23.6 4.4-23.6 2.1-37.1 1.2-34.8-.7-22.5-2.3-19.1-4.7z" fill="#5f1fd5" stroke="#5f1fd5"/>
<path d="M1209.6 818.4l19.1 4.7 22.5 2.3 34.8 .7 37.1-1.2 23.6-2.1 23.6-4.4 23.6-7.1 12.3-5.4 7.9-6.1 4.5-6.1 .1-1.2 4.4-7.2 1.1-7.5 4.5-5.9 3.4-2.2 1.1-2 2.2-7.8 2.3-15.1 .4-12.3 .7 0 3.4-7 5.6-20.1 9.2-21.3 3.2-4.4 13.5-13.2 7-11.9 .8 1.3 12.4-4.6 2.2-1.5 1.7 2.1 .6 3.4 2.5 33.4 6.6 140.9 1.7 13.9 2.3 6.8 2.6 .3 36-7.2 67.4-9.2 19.1-4.3 12.3-5.1 11.3-7.3 16.8-16.4 3.4-7.3 0-2.9-3.4 6.7-16.8 16-10.1 6.6-12.4 5.3-20.2 4.6-75.3 10.4-28.1 6.5-2.2 0-2.7-8-1.7-15.6-6.6-141.9-2.5-29.5-.6-3-1.7-1.7-2.2 1.7-12.4 5.4-.8-1.3-8.2 15.3-12.3 13.7-3.2 5.1-9.2 23.2-5.6 19.9-3.4 6.6-.7 .1-.4 10.7-2.3 12.9-2.2 6.8-1.1 1.8-2.3 1-5.6 6.3-1.1 6.2-4.4 6.3-.1 1-4.5 5.5-7.9 5.8-12.3 5.1-23.6 6.9-23.6 4.6-23.6 2.4-36 1.7-37 0-21.4-1.8-19.1-4.4z" fill="#5c31dd" stroke="#5c31dd"/>
<path d="M1209.6 815.8l19.1 4.4 21.4 1.8 37 0 36-1.7 23.6-2.4 23.6-4.6 23.6-6.9 12.3-5.1 7.9-5.8 4.5-5.5 .1-1 4.4-6.3 1.1-6.2 5.6-6.3 2.3-1 1.1-1.8 2.2-6.8 2.3-12.9 .4-10.7 .7-.1 3.4-6.6 5.6-19.9 9.2-23.2 3.2-5.1 12.3-13.7 8.2-15.3 .8 1.3 12.4-5.4 2.2-1.7 1.7 1.7 .6 3 2.5 29.5 6.6 141.9 1.7 15.6 2.7 8 2.2 0 28.1-6.5 75.3-10.4 20.2-4.6 12.4-5.3 10.1-6.6 16.8-16 3.4-6.7 0-1-3.4 6.5-16.8 15.7-10.1 6.7-12.4 5.2-20.2 4.6-74.2 10.2-29.2 6.9-2.2-.1-2.7-8.2-1.7-16.3-5.8-129.2-3.3-41.2-.6-2.8-1.7-1.6-2.2 1.9-12.4 5.7-.8-1.4-8.2 16-13.2 15.7-2.3 4.2-4.7 11.3-.1 2.1-4.4 10.4-5.6 19.8-3.4 6.3-.7 .1-.4 10.3-2.3 12.1-2.2 6.4-9 8.9-1.1 5.8-4.4 5.9-.1 1-4.5 5.3-7.9 5.6-12.3 5-23.6 6.9-23.6 4.5-23.6 2.5-36 1.9-38.2 .1-20.2-1.4-19.1-4.3z" fill="#5742e2" stroke="#5742e2"/>
<path d="M1209.6 814.9l19.1 4.3 20.2 1.4 38.2-.1 36-1.9 23.6-2.5 23.6-4.5 23.6-6.9 12.3-5 7.9-5.6 4.5-5.3 .1-1 4.4-5.9 1.1-5.8 9-8.9 2.2-6.4 2.3-12.1 .4-10.3 .7-.1 3.4-6.3 5.6-19.8 4.4-10.4 .1-2.1 4.7-11.3 2.3-4.2 13.2-15.7 8.2-16 .8 1.4 12.4-5.7 2.2-1.9 1.7 1.6 .6 2.8 3.3 41.2 5.8 129.2 1.7 16.3 2.7 8.2 2.2 .1 29.2-6.9 74.2-10.2 20.2-4.6 12.4-5.2 10.1-6.7 16.8-15.7 3.4-6.5 0-2.1-3.4 6.1-16.8 15.5-10.1 6.6-12.4 5.3-20.2 4.5-44.8 5.7-29.4 4.5-29.2 7.2-2.2-.1-2.7-8.9-1.7-17.4-6.6-142.7-2.5-25.8-.6-2.4-1.7-1.4-2.2 2-12.4 6.4-.8-1.4-8.2 17.4-13.2 17.2-7 16.6-.1 2.1-4.4 10.7-5.6 19.3-3.4 6-.7 .1-.4 9.4-2.3 10.9-2.2 5.8-9 8.3-1.1 5.3-4.4 5.3-.1 .9-4.5 4.9-7.9 5.3-12.3 4.8-23.6 6.6-23.6 4.6-23.6 2.5-34.8 2.1-39.4 .7-20.2-1.2-19.1-4z" fill="#534ce2" stroke="#534ce2"/>
<path d="M1209.6 813.1l19.1 4 20.2 1.2 39.4-.7 34.8-2.1 23.6-2.5 23.6-4.6 23.6-6.6 12.3-4.8 7.9-5.3 4.5-4.9 .1-.9 4.4-5.3 1.1-5.3 9-8.3 2.2-5.8 2.3-10.9 .4-9.4 .7-.1 3.4-6 5.6-19.3 4.4-10.7 .1-2.1 7-16.6 13.2-17.2 8.2-17.4 .8 1.4 12.4-6.4 2.2-2 1.7 1.4 .6 2.4 2.5 25.8 6.6 142.7 1.7 17.4 2.7 8.9 2.2 .1 29.2-7.2 29.4-4.5 44.8-5.7 20.2-4.5 12.4-5.3 10.1-6.6 16.8-15.5 3.4-6.1 0-3.1-3.4 5.6-.1-.5-17.8 16.5-10.2 6.3-11.2 4.6-19.1 4.3-45.9 5.8-28.3 4.4-30.3 7.8-2.2-.1-2.7-9.8-1.7-19.1-6.6-143.2-2.5-22.5-.6-2-1.7-1 0 .7-2.2 1.5-12.4 7.3-.8-1.4-8.2 19.5-12.3 18.2-3.2 6.4-14.8 44.5-3.4 5.5-.7 .2-.4 8.1-2.3 9.4-2.2 5.1-9 7.7-1.1 4.4-1.1 1.4-7.9 8.4-3.4 2.2-4.5 2.6-11.3 4.1-24.6 6.5-23.6 4.4-23.6 2.7-34.8 2.4-41.6 1.1-18-.7-19.1-3.5z" fill="#4b5be2" stroke="#4b5be2"/>
<path d="M1209.6 810.5l19.1 3.5 18 .7 41.6-1.1 34.8-2.4 23.6-2.7 23.6-4.4 24.6-6.5 11.3-4.1 4.5-2.6 3.4-2.2 7.9-8.4 1.1-1.4 1.1-4.4 9-7.7 2.2-5.1 2.3-9.4 .4-8.1 .7-.2 3.4-5.5 14.8-44.5 3.2-6.4 12.3-18.2 8.2-19.5 .8 1.4 12.4-7.3 2.2-1.5 0-.7 1.7 1 .6 2 2.5 22.5 6.6 143.2 1.7 19.1 2.7 9.8 2.2 .1 30.3-7.8 28.3-4.4 45.9-5.8 19.1-4.3 11.2-4.6 10.2-6.3 17.8-16.5 .1 .5 3.4-5.6 0-.1-3.4 5.5-.1-.5-17.8 16.5-10.2 6.3-11.2 4.7-19.1 4.2-45.9 5.8-28.3 4.4-30.3 7.8-2.2 0-2.7-9.9-1.7-19.2-6.6-143.2-2.5-22.4-.6-1.9-1.7-1 0 .6-2.2 1.6-12.4 7.4-.8-1.5-8.2 19.6-12.3 18.3-3.2 6.5-14.8 44.4-4.1 5.7-.4 8-2.3 9.4-2.2 5.1-9 7.6-1.1 4.4-1.1 1.4-7.9 8.3-3.4 2.2-4.5 2.7-11.3 4.1-24.6 6.4-23.6 4.4-23.6 2.7-34.8 2.4-41.6 1.1-18-.6-19.1-3.6z" fill="#4763e1" stroke="#4763e1"/>
<path d="M1209.6 810.3l19.1 3.6 18 .6 41.6-1.1 34.8-2.4 23.6-2.7 23.6-4.4 24.6-6.4 11.3-4.1 4.5-2.7 3.4-2.2 7.9-8.3 1.1-1.4 1.1-4.4 9-7.6 2.2-5.1 2.3-9.4 .4-8 4.1-5.7 14.8-44.4 3.2-6.5 12.3-18.3 8.2-19.6 .8 1.5 12.4-7.4 2.2-1.6 0-.6 1.7 1 .6 1.9 2.5 22.4 6.6 143.2 1.7 19.2 2.7 9.9 2.2 0 30.3-7.8 28.3-4.4 45.9-5.8 19.1-4.2 11.2-4.7 10.2-6.3 17.8-16.5 .1 .5 3.4-5.5 0-3.6-3.4 4.9-.1-.5-19 17.1-9 5.5-11.2 4.6-19.1 4.2-45.9 5.7-27.1 4.3-31.5 8.3-2.2-.1-2.7-10.8-1.7-21-5.8-133.1-3.3-29.5-.6-1.5-1.7-.6 0 .7-2.2 1.8-6.8 4-5.6 4.5-.8-1.4-8.2 21.9-12.3 21-3.2 7.2-4.7 13.9-.1 2.3-4.4 10.9-3.4 11.2-2.2 5.7-4.1 5.3-.4 6.7-2.3 8-3.3 5.7-7.9 5.7-1.1 3.6-10.1 9.1-9 4.5-21.4 6.1-35.9 6.8-23.6 2.6-36 2.6-44.9 1.7-14.6-.4-18-2.9z" fill="#446adf" stroke="#446adf"/>
<path d="M1209.6 807.3l18 2.9 14.6 .4 44.9-1.7 36-2.6 23.6-2.6 35.9-6.8 21.4-6.1 9-4.5 10.1-9.1 1.1-3.6 7.9-5.7 3.3-5.7 2.3-8 .4-6.7 4.1-5.3 2.2-5.7 3.4-11.2 4.4-10.9 .1-2.3 4.7-13.9 3.2-7.2 12.3-21 8.2-21.9 .8 1.4 5.6-4.5 6.8-4 2.2-1.8 0-.7 1.7 .6 .6 1.5 3.3 29.5 5.8 133.1 1.7 21 2.7 10.8 2.2 .1 31.5-8.3 27.1-4.3 45.9-5.7 19.1-4.2 11.2-4.6 9-5.5 19-17.1 .1 .5 3.4-4.9 0-1.5-3.4 4.8-.1-.6-19 17.1-10.1 6-11.2 4.4-18 3.8-45.9 5.8-26 4.1-12.4 2.7-20.2 5.8-2.2 0-2.7-11.3-1.7-21.6-5.8-133.6-3.3-27.9-.4-1.1-1.9-.6 0 .7-2.2 1.8-6.8 4.2-5.6 4.7-.8-1.3-8.2 22.9-12.3 22.1-3.2 7.5-4.7 14.2-.1 2.2-4.4 10.8-3.4 10.9-2.2 5.5-4.1 5.1-.4 6.3-2.3 7.4-3.3 5.5-7.9 5.5-1.1 3.4-10.1 8.5-9 4.3-21.4 5.9-35.9 6.5-23.6 2.6-27 2.2-55 2.4-14.6-.4-16.9-2.6z" fill="#3e74dd" stroke="#3e74dd"/>
<path d="M1209.6 806.1l16.9 2.6 14.6 .4 55-2.4 27-2.2 23.6-2.6 35.9-6.5 21.4-5.9 9-4.3 10.1-8.5 1.1-3.4 7.9-5.5 3.3-5.5 2.3-7.4 .4-6.3 4.1-5.1 2.2-5.5 3.4-10.9 4.4-10.8 .1-2.2 4.7-14.2 3.2-7.5 12.3-22.1 8.2-22.9 .8 1.3 5.6-4.7 6.8-4.2 2.2-1.8 0-.7 1.9 .6 .4 1.1 3.3 27.9 5.8 133.6 1.7 21.6 2.7 11.3 2.2 0 20.2-5.8 12.4-2.7 26-4.1 45.9-5.8 18-3.8 11.2-4.4 10.1-6 19-17.1 .1 .6 3.4-4.8 0-2.4-3.4 4.5-.1-.6-3.2 2.8-15.8 14.3-10.1 5.9-11.2 4.4-19.1 4-43.8 5.5-24.8 3.8-13.4 2.9-21.4 6.2-2.2-.1-2.7-11.8-1.7-22.7-5.8-134.2-3.3-25.5-.4-1-1.9-.3 0 .7-2.2 2-6.8 4.5-5.6 5.2-.8-1.3-3.5 9.2-4.7 15.2-12.3 23.9-3.2 7.9-4.7 14.6-.1 2.2-7.8 21-2.2 5.1-4.1 4.8-.4 5.6-2.3 6.7-3.3 5.1-7.9 5.3-1.1 3-9 7.1-9 4.3-22.5 5.9-26.9 4.7-20.3 2.6-35.9 3.2-57.3 2.9-14.6 0-18-2.5z" fill="#3a7bdb" stroke="#3a7bdb"/>
<path d="M1209.6 804.1l18 2.5 14.6 0 57.3-2.9 35.9-3.2 20.3-2.6 26.9-4.7 22.5-5.9 9-4.3 9-7.1 1.1-3 7.9-5.3 3.3-5.1 2.3-6.7 .4-5.6 4.1-4.8 2.2-5.1 7.8-21 .1-2.2 4.7-14.6 3.2-7.9 12.3-23.9 4.7-15.2 3.5-9.2 .8 1.3 5.6-5.2 6.8-4.5 2.2-2 0-.7 1.9 .3 .4 1 3.3 25.5 5.8 134.2 1.7 22.7 2.7 11.8 2.2 .1 21.4-6.2 13.4-2.9 24.8-3.8 43.8-5.5 19.1-4 11.2-4.4 10.1-5.9 15.8-14.3 3.2-2.8 .1 .6 3.4-4.5 0-3.1-3.4 4.1-.1-.6-3.2 2.8-15.8 14.3-10.1 6-11.2 4.3-19.1 4.1-43.8 5.4-24.8 3.9-13.4 2.9-21.4 6.2-2.2-.1-1.9-7.6-1.5-12.3-6.8-151.4-.8-9.3-.7-1.1-1.8-12.3-.4-.8-1.9 .1 0 .7-9 7-5.6 5.7-.8-1-3.5 9.6-4.7 16.6-13.2 28.5-8.1 26.2-9 21.7-4.1 4.5-.4 4.8-2.3 5.9-3.3 4.6-7.9 5-1.1 2.6-9 6.2-7.9 3.7-13.4 3.5-22.5 4.3-27 3.7-43.8 3.9-59.6 3.2-13.4 .1-16.9-2z" fill="#3685d9" stroke="#3685d9"/>
<path d="M1209.6 801.6l16.9 2 13.4-.1 59.6-3.2 43.8-3.9 27-3.7 22.5-4.3 13.4-3.5 7.9-3.7 9-6.2 1.1-2.6 7.9-5 3.3-4.6 2.3-5.9 .4-4.8 4.1-4.5 9-21.7 8.1-26.2 13.2-28.5 4.7-16.6 3.5-9.6 .8 1 5.6-5.7 9-7 0-.7 1.9-.1 .4 .8 1.8 12.3 .7 1.1 .8 9.3 6.8 151.4 1.5 12.3 1.9 7.6 2.2 .1 21.4-6.2 13.4-2.9 24.8-3.9 43.8-5.4 19.1-4.1 11.2-4.3 10.1-6 15.8-14.3 3.2-2.8 .1 .6 3.4-4.1 0-1.2-3.4 4-.1-.6-3.2 2.8-15.8 14.4-10.1 5.9-11.2 4.3-19.1 4.1-43.8 5.5-24.8 3.8-13.4 2.9-21.4 6.2-2.2-.1-1.9-7.7-1.5-12.6-6.4-147.5-1.2-13.5-.7-1-2.2-12.4-1.9 .2 0 .7-7.8 6.3-6.8 7-.8-1-3.5 9.8-4.7 17.1-13.2 29.5-8.1 26.4-9 21.1-4.1 4.3-.4 4.6-2.3 5.6-3.3 4.5-7.9 4.9-1.1 2.3-9 6-7.9 3.5-13.4 3.5-22.5 4-27 3.6-43.8 3.8-60.7 3.4-12.3 0-16.9-1.8z" fill="#328cd7" stroke="#328cd7"/>
<path d="M1209.6 800.6l16.9 1.8 12.3 0 60.7-3.4 43.8-3.8 27-3.6 22.5-4 13.4-3.5 7.9-3.5 9-6 1.1-2.3 7.9-4.9 3.3-4.5 2.3-5.6 .4-4.6 4.1-4.3 9-21.1 8.1-26.4 13.2-29.5 4.7-17.1 3.5-9.8 .8 1 6.8-7 7.8-6.3 0-.7 1.9-.2 2.2 12.4 .7 1 1.2 13.5 6.4 147.5 1.5 12.6 1.9 7.7 2.2 .1 21.4-6.2 13.4-2.9 24.8-3.8 43.8-5.5 19.1-4.1 11.2-4.3 10.1-5.9 15.8-14.4 3.2-2.8 .1 .6 3.4-4 0-4.1-22.5 20.5-10.1 5.8-11.2 4.4-20.2 4.2-43.7 5.5-26 4.1-12.4 2.8-20.2 5.8-2.2-.1-1.9-8.3-1.5-13.2-6.4-149.2-1.2-12.8-.7-.9-2.2-9.8-1.9 .5-2.2 2.9-5.6 4.6-6.8 8-.8-.7-3.5 10.5-4.7 18.9-13.2 33.2-7 21.9-.1 1.9-2.1 5.2-7.9 16.4-4.1 4-.4 3.7-2.3 4.7-3.3 3.9-7.9 4.7-1.1 1.9-10.1 5.5-10.1 3.5-20.3 4-35.9 4.5-47.2 3.7-62.9 3.5-11.3 .2-15.7-1.2z" fill="#2e96d4" stroke="#2e96d4"/>
<path d="M1209.6 797.4l15.7 1.2 11.3-.2 62.9-3.5 47.2-3.7 35.9-4.5 20.3-4 10.1-3.5 10.1-5.5 1.1-1.9 7.9-4.7 3.3-3.9 2.3-4.7 .4-3.7 4.1-4 7.9-16.4 2.1-5.2 .1-1.9 7-21.9 13.2-33.2 4.7-18.9 3.5-10.5 .8 .7 6.8-8 5.6-4.6 2.2-2.9 1.9-.5 2.2 9.8 .7 .9 1.2 12.8 6.4 149.2 1.5 13.2 1.9 8.3 2.2 .1 20.2-5.8 12.4-2.8 26-4.1 43.7-5.5 20.2-4.2 11.2-4.4 10.1-5.8 22.5-20.5 0-.6-22.5 20.5-10.1 5.8-11.2 4.4-20.2 4.3-43.7 5.4-26 4.2-12.4 2.7-20.2 5.8-2.2-.1-1.9-8.4-1.5-13.3-6.4-149.4-1.2-12.7-.7-.9-2.2-9.5-1.9 .7-2.2 2.8-5.6 4.7-6.8 8.1-.8-.7-3.5 10.6-4.7 19.2-13.2 33.7-8.1 26.5-6.8 14.8-2.2 3.9-4.1 3.9-.4 3.5-2.3 4.6-3.3 3.9-7.9 4.6-1.1 1.8-10.1 5.5-10.1 3.4-20.3 3.9-35.9 4.4-47.2 3.6-62.9 3.6-11.3 .2-15.7-1.2z" fill="#2a9ed2" stroke="#2a9ed2"/>
<path d="M1209.6 796.9l15.7 1.2 11.3-.2 62.9-3.6 47.2-3.6 35.9-4.4 20.3-3.9 10.1-3.4 10.1-5.5 1.1-1.8 7.9-4.6 3.3-3.9 2.3-4.6 .4-3.5 4.1-3.9 2.2-3.9 6.8-14.8 8.1-26.5 13.2-33.7 4.7-19.2 3.5-10.6 .8 .7 6.8-8.1 5.6-4.7 2.2-2.8 1.9-.7 2.2 9.5 .7 .9 1.2 12.7 6.4 149.4 1.5 13.3 1.9 8.4 2.2 .1 20.2-5.8 12.4-2.7 26-4.2 43.7-5.4 20.2-4.3 11.2-4.4 10.1-5.8 22.5-20.5 0-4.7-6.7 5.8-10.2 10.3-5.6 4.6-10.1 5.8-11.2 4.3-21.4 4.6-42.5 5.4-27.1 4.3-31.5 7.9-2.2 0-1.9-9-1.5-13.9-6.4-150.9-1.2-12.1-2.9-7.8-1.9 .9-6.7 6.8-7.9 10.5-.8-.2-3.5 11.2-5.8 24.9-12.1 34.7-7.1 23.3-2.1 4.8-5.7 10.6-2.2 3.3-4.1 3.5-.4 2.7-2.3 3.7-3.3 3.5-7.9 4.3-1.1 1.4-10.1 4.5-7.9 2.6-13.5 2.5-21.3 2.6-47.2 3.7-87.7 5-25.8-.2z" fill="#25a8d1" stroke="#25a8d1"/>
<path d="M1209.6 793.3l25.8 .2 87.7-5 47.2-3.7 21.3-2.6 13.5-2.5 7.9-2.6 10.1-4.5 1.1-1.4 7.9-4.3 3.3-3.5 2.3-3.7 .4-2.7 4.1-3.5 2.2-3.3 5.7-10.6 2.1-4.8 7.1-23.3 12.1-34.7 5.8-24.9 3.5-11.2 .8 .2 7.9-10.5 6.7-6.8 1.9-.9 2.9 7.8 1.2 12.1 6.4 150.9 1.5 13.9 1.9 9 2.2 0 31.5-7.9 27.1-4.3 42.5-5.4 21.4-4.6 11.2-4.3 10.1-5.8 5.6-4.6 10.2-10.3 6.7-5.8 0-.4-6.7 5.8-10.2 10.4-5.6 4.5-10.1 5.8-11.2 4.3-21.4 4.6-42.5 5.4-27.1 4.3-31.5 7.9-2.2 0-1.9-9.1-1.5-13.9-6.4-151-1.2-12.1-2.9-7.6-1.9 .9-6.7 6.9-7.9 10.6-.8-.1-3.5 11.2-5.8 25.1-12.1 35.1-7.1 23.2-2.1 4.8-5.7 10.5-2.2 3.2-4.1 3.5-.4 2.6-2.3 3.7-3.3 3.4-7.9 4.3-1.1 1.3-10.1 4.4-7.9 2.6-13.5 2.5-21.3 2.5-47.2 3.7-87.7 4.9-25.8-.1z" fill="#1fb2d0" stroke="#1fb2d0"/>
<path d="M1209.6 793l25.8 .1 87.7-4.9 47.2-3.7 21.3-2.5 13.5-2.5 7.9-2.6 10.1-4.4 1.1-1.3 7.9-4.3 3.3-3.4 2.3-3.7 .4-2.6 4.1-3.5 2.2-3.2 5.7-10.5 2.1-4.8 7.1-23.2 12.1-35.1 5.8-25.1 3.5-11.2 .8 .1 7.9-10.6 6.7-6.9 1.9-.9 2.9 7.6 1.2 12.1 6.4 151 1.5 13.9 1.9 9.1 2.2 0 31.5-7.9 27.1-4.3 42.5-5.4 21.4-4.6 11.2-4.3 10.1-5.8 5.6-4.5 10.2-10.4 6.7-5.8 0-4.6-4.5 3.7-11.2 12-6.8 5.6-10.1 5.7-11.2 4.4-23.6 5-40.3 5.1-27.1 4.3-30.4 7.2-3.3 .3-1.9-9.6-1.5-14.4-6.4-152.1-1.2-11.6-2.9-5.6-1.9 1.1-6.7 7-8.7 12.4-3.5 11.8-5.8 27.6-14.6 48.2-4.6 13.1-7.8 13.3-2.2 2.7-4.1 3.2-.4 1.9-2.3 3-6.7 5.1-5.6 3-16.9 5.6-23.6 3.4-59.5 3.9-94.4 4.7-19.1 .3z" fill="#1abcce" stroke="#1abcce"/>
<path d="M1209.6 789.7l19.1-.3 94.4-4.7 59.5-3.9 23.6-3.4 16.9-5.6 5.6-3 6.7-5.1 2.3-3 .4-1.9 4.1-3.2 2.2-2.7 7.8-13.3 4.6-13.1 14.6-48.2 5.8-27.6 3.5-11.8 8.7-12.4 6.7-7 1.9-1.1 2.9 5.6 1.2 11.6 6.4 152.1 1.5 14.4 1.9 9.6 3.3-.3 30.4-7.2 27.1-4.3 40.3-5.1 23.6-5 11.2-4.4 10.1-5.7 6.8-5.6 11.2-12 4.5-3.7 0-1.1-4.5 3.7-11.2 12.1-5.6 4.8-10.2 6-12.3 4.8-23.6 5.2-40.3 5.1-28.3 4.4-29.2 6.9-3.3 .3-1.9-9.7-1.5-14.5-6.4-152.3-1.2-11.6-2.9-5.1-1.9 1.1-6.7 7.1-8.7 12.9-3.5 11.9-5.8 28.2-14.6 49.4-4.6 12.7-7.8 12.8-6.3 5.7-.4 1.7-2.3 2.8-6.7 5.1-5.6 2.8-16.9 5.4-23.6 3.2-37 2.5-136 6.1z" fill="#13c7cd" stroke="#13c7cd"/>
<path d="M1209.6 788.8l136-6.1 37-2.5 23.6-3.2 16.9-5.4 5.6-2.8 6.7-5.1 2.3-2.8 .4-1.7 6.3-5.7 7.8-12.8 4.6-12.7 14.6-49.4 5.8-28.2 3.5-11.9 8.7-12.9 6.7-7.1 1.9-1.1 2.9 5.1 1.2 11.6 6.4 152.3 1.5 14.5 1.9 9.7 3.3-.3 29.2-6.9 28.3-4.4 40.3-5.1 23.6-5.2 12.3-4.8 10.2-6 5.6-4.8 11.2-12.1 4.5-3.7 0-3.6-4.5 3.9-11.2 12.6-5.6 4.7-10.2 6-12.3 4.8-21.4 4.9-62.9 8.6-40.4 8.1-2.3-12.6-1.1-12.3-6.4-152.9-1.5-12.3-2.6-2.8-8.6 8.3-8.7 14.6-3.5 12.2-4.7 25.6-7.8 31-7.9 26.3-4.6 11.6-7.8 11.2-6.3 5.1-2.7 3.6-6.7 4.8-5.6 2.4-16.9 4.7-23.6 2.8-128.1 5-44.9 2.6z" fill="#0cd1cc" stroke="#0cd1cc"/>
<path d="M1209.6 786.2l44.9-2.6 128.1-5 23.6-2.8 16.9-4.7 5.6-2.4 6.7-4.8 2.7-3.6 6.3-5.1 7.8-11.2 4.6-11.6 7.9-26.3 7.8-31 4.7-25.6 3.5-12.2 8.7-14.6 8.6-8.3 2.6 2.8 1.5 12.3 6.4 152.9 1.1 12.3 2.3 12.6 40.4-8.1 62.9-8.6 21.4-4.9 12.3-4.8 10.2-6 5.6-4.7 11.2-12.6 4.5-3.9 0-2.7-3.5 2.9-11.1 13.1-6.7 5.8-10.2 5.9-12.3 4.9-22.5 5.1-61.8 8.5-14.6 2.5-19.1 4.5-6.7 .8-2.3-13-1.1-12.4-6.4-153.3-1.5-12.1-2.2-2.1-2.3 1.3-6.7 7.2-8.7 15.8-3.5 12.5-4.7 26.8-7.8 33.4-5.7 19.8-4.4 12.2-4.5 8.8-5 5.7-15.3 12.3-6.7 2.9-14.6 3.6-20.2 2.7-134.9 4.3-43.8 3z" fill="#18ddca" stroke="#18ddca"/>
<path d="M1209.6 784.4l43.8-3 134.9-4.3 20.2-2.7 14.6-3.6 6.7-2.9 15.3-12.3 5-5.7 4.5-8.8 4.4-12.2 5.7-19.8 7.8-33.4 4.7-26.8 3.5-12.5 8.7-15.8 6.7-7.2 2.3-1.3 2.2 2.1 1.5 12.1 6.4 153.3 1.1 12.4 2.3 13 6.7-.8 19.1-4.5 14.6-2.5 61.8-8.5 22.5-5.1 12.3-4.9 10.2-5.9 6.7-5.8 11.1-13.1 3.5-2.9 0-1.6-3.5 3-11.1 13.3-5.6 5-10.1 6.2-13.5 5.4-23.6 5.4-59.6 8.1-15.7 2.7-19.1 4.3-6.7 .7-2.3-13.1-1.1-12.5-6.4-153.5-1.5-12.1-2.2-1.5-2.3 1.3-6.7 7.1-8.7 16.7-3.7 13.2-4.5 27-7.8 34.9-5.7 20.2-3.3 9.1-4.5 9.1-4.5 5.3-4.5 4.1-12.4 9.1-6.7 2.7-14.6 3.4-20.2 2.4-134.9 3.7-43.8 3.1z" fill="#25e6c8" stroke="#25e6c8"/>
<path d="M1209.6 783.2l43.8-3.1 134.9-3.7 20.2-2.4 14.6-3.4 6.7-2.7 12.4-9.1 4.5-4.1 4.5-5.3 4.5-9.1 3.3-9.1 5.7-20.2 7.8-34.9 4.5-27 3.7-13.2 8.7-16.7 6.7-7.1 2.3-1.3 2.2 1.5 1.5 12.1 6.4 153.5 1.1 12.5 2.3 13.1 6.7-.7 19.1-4.3 15.7-2.7 59.6-8.1 23.6-5.4 13.5-5.4 10.1-6.2 5.6-5 11.1-13.3 3.5-3 0-4.1-3.5 3.3-10 12.9-6.5 6.1-10.3 6.2-13.5 5.4-12.4 3.4-14.6 2.8-53.9 7.2-18 2.9-18 3.8-7.8 .8-2.3-13.5-1.1-12.7-6.4-154-1.9-12.8-4.1 1.7-5.6 5.5-4.5 7.7-5.6 13.6-3.4 12.5-3.4 23-8.9 45.1-4.5 17.3-3.2 8.9-6.9 11.6-6.8 5.4-13.5 8.4-4.5 1.9-17.9 3.4-18 1.8-139.3 2.1-21.4 1.1-19.1 2.3z" fill="#49f3c9" stroke="#49f3c9"/>
</g>
<clipPath id="r2c2b"><path d="M1209.6 835.1l21.3 7.8 15.8 4.9 15.7 3.7 20.2 3.6 42.7 6.3 37.1 4.2 44.4 3.4 24.2 .5 .7-.9 .4-5 .8-28.4 2.9-140.2 2.2-28 1.9-1.8 2.5-.6 50.4 1.1 3.3 .5 1.1 2.6 1.2 9.6 1.1 25.4 5.7 147.4 1.2 18.5 .4 3.2 1.7 1.6 34.8-.7 34.8-3.2 33.8-5.5 23.6-6.3 10.1-4.3 9-4.9 7.8-5.9 6.8-6.6 6.7-10.7 4.5-14.2 0-66.9-3.5 3.3-10 12.9-6.5 6.1-10.3 6.2-13.5 5.4-12.4 3.4-14.6 2.8-53.9 7.2-18 2.9-18 3.8-7.8 .8-2.3-13.5-1.1-12.7-6.4-154-1.9-12.8-4.1 1.7-5.6 5.5-4.5 7.7-5.6 13.6-3.4 12.5-3.4 23-8.9 45.1-4.5 17.3-3.2 8.9-6.9 11.6-6.8 5.4-13.5 8.4-4.5 1.9-17.9 3.4-18 1.8-139.3 2.1-21.4 1.1-19.1 2.3z" clip-rule="nonzero"/></clipPath>
<g clip-path="url(#r2c2)"><path d="M1209.6 780.4l19.1-2.3 21.4-1.1 139.3-2.1 18-1.8 17.9-3.4 4.5-1.9 13.5-8.4 6.8-5.4 6.9-11.6 3.2-8.9 4.5-17.3 8.9-45.1 3.4-23 3.4-12.5 5.6-13.6 4.5-7.7 5.6-5.5 4.1-1.7 1.9 12.8 6.4 154 1.1 12.7 2.3 13.5 7.8-.8 18-3.8 18-2.9 53.9-7.2 14.6-2.8 12.4-3.4 13.5-5.4 10.3-6.2 6.5-6.1 10-12.9 3.5-3.3" fill="none" stroke="#56f7ca" stroke-width="9.5" stroke-linejoin="round" clip-path="url(#r2c2b)"/></g>
<rect x="1210.6" y="546.1" width="468.8" height="102.2" fill="#808080" fill-opacity="0.3"/>
<rect x="1210.6" y="852.9" width="468.8" height="102.2" fill="#808080" fill-opacity="0.3"/>
<path d="M1210.6 648.4H1679.4M1210.6 852.9H1679.4" stroke="#000" stroke-width="2.2"/>
<polyline points="1209.6,816.1 1222,819.4 1227.6,820.5 1236.6,821.6 1247.8,822.3 1269.2,822.7 1287.1,822.6 1306.2,821.9 1324.2,820.8 1337.7,819.6 1348.9,818.2 1357.9,816.6 1369.2,814.1 1380.4,811.3 1390.5,808.1 1401.7,803.9 1408.5,800.6 1413,797.5 1417.5,792.6 1420.8,788.1 1426.5,777.2 1432.1,762.6 1443.3,724.3 1447.5,712 1457,688.2 1459.3,683.1 1463.5,675.3 1469.2,666.7 1472.5,662.8 1475.9,659.6 1480.4,656.1 1484.9,653.2 1489.4,651.1 1490.5,650.2 1492.6,649.9 1496.1,650.3 1498,651.2 1499.5,660.8 1500.2,668.4 1501.7,695 1506.8,814.4 1507.5,825.1 1509.2,837.5 1510,846.9 1511.5,847.2 1517.5,846.5 1537.7,841.9 1553.4,839.2 1618.6,830.5 1628.7,828.6 1636.6,826.5 1643.3,824 1648.9,821.4 1654.6,818.2 1659.1,815 1665.8,808.9 1677,796.2 1680.4,793.2" fill="none" stroke="#ff0000" stroke-width="7.1" stroke-dasharray="26.3 11.4" clip-path="url(#r2c2)"/>
<path d="M1210.6 955.1v-16.8M1210.6 546.1v16.8M1327.8 955.1v-16.8M1327.8 546.1v16.8M1445 955.1v-16.8M1445 546.1v16.8M1562.2 955.1v-16.8M1562.2 546.1v16.8M1679.4 955.1v-16.8M1679.4 546.1v16.8M1210.6 880.8h16.8M1679.4 880.8h-16.8M1210.6 750.6h16.8M1679.4 750.6h-16.8M1210.6 620.4h16.8M1679.4 620.4h-16.8" stroke="#000" stroke-width="1.5" fill="none"/>
<path d="M1234 955.1v-7M1234 546.1v7M1257.5 955.1v-7M1257.5 546.1v7M1280.9 955.1v-7M1280.9 546.1v7M1304.4 955.1v-7M1304.4 546.1v7M1351.2 955.1v-7M1351.2 546.1v7M1374.7 955.1v-7M1374.7 546.1v7M1398.1 955.1v-7M1398.1 546.1v7M1421.6 955.1v-7M1421.6 546.1v7M1468.4 955.1v-7M1468.4 546.1v7M1491.9 955.1v-7M1491.9 546.1v7M1515.3 955.1v-7M1515.3 546.1v7M1538.8 955.1v-7M1538.8 546.1v7M1585.6 955.1v-7M1585.6 546.1v7M1609.1 955.1v-7M1609.1 546.1v7M1632.5 955.1v-7M1632.5 546.1v7M1656 955.1v-7M1656 546.1v7M1210.6 945.9h7M1679.4 945.9h-7M1210.6 913.3h7M1679.4 913.3h-7M1210.6 848.2h7M1679.4 848.2h-7M1210.6 815.7h7M1679.4 815.7h-7M1210.6 783.1h7M1679.4 783.1h-7M1210.6 718.1h7M1679.4 718.1h-7M1210.6 685.5h7M1679.4 685.5h-7M1210.6 653h7M1679.4 653h-7M1210.6 587.9h7M1679.4 587.9h-7M1210.6 555.3h7M1679.4 555.3h-7" stroke="#000" stroke-width="1.1" fill="none"/>
<rect x="1210.6" y="546.1" width="468.8" height="409" fill="none" stroke="#303030" stroke-width="1.6"/>
<text x="1211.6" y="988" font-size="33" text-anchor="middle" textLength="62" lengthAdjust="spacingAndGlyphs" fill="#000">−1.0</text>
<text x="1328.8" y="988" font-size="33" text-anchor="middle" textLength="62" lengthAdjust="spacingAndGlyphs" fill="#000">−0.5</text>
<text x="1445.5" y="988" font-size="33" text-anchor="middle" fill="#000">0.0</text>
<text x="1562.7" y="988" font-size="33" text-anchor="middle" fill="#000">0.5</text>
<text x="1679.9" y="988" font-size="33" text-anchor="middle" fill="#000">1.0</text>
<text x="1205.6" y="893.6" font-size="33" text-anchor="end" textLength="38" lengthAdjust="spacingAndGlyphs" fill="#000">−2</text>
<text x="1205.6" y="763.4" font-size="33" text-anchor="end" fill="#000">0</text>
<text x="1205.6" y="633.2" font-size="33" text-anchor="end" fill="#000">2</text>
<text x="1445" y="1029" font-size="40" text-anchor="middle" font-style="italic" fill="#000">γ</text>
<text x="1236.9" y="630" font-size="31" textLength="83" lengthAdjust="spacingAndGlyphs" fill="#000">&gt; <tspan font-style="italic">π</tspan>/2</text>
<text x="1236.6" y="930.2" font-size="31" textLength="111" lengthAdjust="spacingAndGlyphs" fill="#000">&lt; −<tspan font-style="italic">π</tspan>/2</text>
<text x="1669.9" y="597" font-size="32.5" text-anchor="end" textLength="139" lengthAdjust="spacingAndGlyphs" fill="#000">Ruled Out</text>
<text x="42.5" y="751.5" font-size="41" text-anchor="middle" transform="rotate(-90 42.5 751.5)" textLength="158" lengthAdjust="spacingAndGlyphs" fill="#000"><tspan font-style="italic">θ</tspan>(Φ) [rad]</text>
<path d="M126.4 577.2H176.6" stroke="#f00" stroke-width="7.1" stroke-dasharray="26.3 11.4" fill="none"/>
<text x="198" y="588.2" font-size="25" textLength="152" lengthAdjust="spacingAndGlyphs" fill="#000">True Potential</text>
<linearGradient id="gq" x1="0" y1="1" x2="0" y2="0">
<stop offset="0.0000" stop-color="#000000"/>
<stop offset="0.0323" stop-color="#060408"/>
<stop offset="0.0645" stop-color="#0d0810"/>
<stop offset="0.0968" stop-color="#130c18"/>
<stop offset="0.1290" stop-color="#191020"/>
<stop offset="0.1613" stop-color="#22132f"/>
<stop offset="0.1935" stop-color="#2a173d"/>
<stop offset="0.2258" stop-color="#331a4c"/>
<stop offset="0.2581" stop-color="#3e1a61"/>
<stop offset="0.2903" stop-color="#481b76"/>
<stop offset="0.3226" stop-color="#51168f"/>
<stop offset="0.3548" stop-color="#5a12a8"/>
<stop offset="0.3871" stop-color="#610dc6"/>
<stop offset="0.4194" stop-color="#5e21d6"/>
<stop offset="0.4516" stop-color="#5a3ce2"/>
<stop offset="0.4839" stop-color="#524de2"/>
<stop offset="0.5161" stop-color="#4a5ee2"/>
<stop offset="0.5484" stop-color="#4469df"/>
<stop offset="0.5806" stop-color="#3e75dd"/>
<stop offset="0.6129" stop-color="#3880da"/>
<stop offset="0.6452" stop-color="#338ad7"/>
<stop offset="0.6774" stop-color="#2f94d5"/>
<stop offset="0.7097" stop-color="#2a9ed2"/>
<stop offset="0.7419" stop-color="#24a9d1"/>
<stop offset="0.7742" stop-color="#1eb5cf"/>
<stop offset="0.8065" stop-color="#18c0ce"/>
<stop offset="0.8387" stop-color="#11cacd"/>
<stop offset="0.8710" stop-color="#0ad4cc"/>
<stop offset="0.9032" stop-color="#19deca"/>
<stop offset="0.9355" stop-color="#28e8c8"/>
<stop offset="0.9677" stop-color="#47f2c9"/>
<stop offset="1.0000" stop-color="#66fcca"/>
</linearGradient>
<rect x="1699.2" y="544.3" width="20.7" height="410" fill="url(#gq)" stroke="#000" stroke-width="1.2"/>
<path d="M1719.9 901.4h5.5" stroke="#000" stroke-width="1.2"/>
<text x="1734.5" y="909.9" font-size="17.5" fill="#000" stroke="#000" stroke-width="0.12">0.5</text>
<path d="M1719.9 835.3h5.5" stroke="#000" stroke-width="1.2"/>
<text x="1734.5" y="843.8" font-size="17.5" fill="#000" stroke="#000" stroke-width="0.12">1.0</text>
<path d="M1719.9 769.1h5.5" stroke="#000" stroke-width="1.2"/>
<text x="1734.5" y="777.6" font-size="17.5" fill="#000" stroke="#000" stroke-width="0.12">1.5</text>
<path d="M1719.9 703h5.5" stroke="#000" stroke-width="1.2"/>
<text x="1734.5" y="711.5" font-size="17.5" fill="#000" stroke="#000" stroke-width="0.12">2.0</text>
<path d="M1719.9 636.9h5.5" stroke="#000" stroke-width="1.2"/>
<text x="1734.5" y="645.4" font-size="17.5" fill="#000" stroke="#000" stroke-width="0.12">2.5</text>
<path d="M1719.9 570.8h5.5" stroke="#000" stroke-width="1.2"/>
<text x="1734.5" y="579.3" font-size="17.5" fill="#000" stroke="#000" stroke-width="0.12">3.0</text>
<text x="1793" y="751" font-size="42" text-anchor="middle" font-style="italic" transform="rotate(-90 1793 751)" fill="#000">q</text>
<clipPath id="r3c0"><rect x="103.9" y="1054.5" width="469.1" height="245.6"/></clipPath>
<g clip-path="url(#r3c0)" fill="none" stroke-linejoin="round">
<polyline points="103.9,1300.1 235.2,1300.1 235.7,1076.8 247.4,1076.8 247.9,1300.1 573,1300.1" stroke="#00ffff" stroke-width="4.1"/>
<polyline points="103.9,1300.1 231.4,1300.1 234.7,1297.9 235.4,1188.5 235.7,1085.8 237,1077.9 238.8,1076.8 247.4,1076.8 247.9,1300.1 573,1300.1" stroke="#000" stroke-width="4.1" stroke-dasharray="15.2 6.6"/>
</g>
<path d="M162.5 1300.1v-16.8M162.5 1054.5v16.8M309.1 1300.1v-16.8M309.1 1054.5v16.8M455.7 1300.1v-16.8M455.7 1054.5v16.8M103.9 1300.1h16.8M573 1300.1h-16.8M103.9 1188.5h16.8M573 1188.5h-16.8M103.9 1076.8h16.8M573 1076.8h-16.8" stroke="#000" stroke-width="1.5" fill="none"/>
<path d="M103.9 1300.1v-7M103.9 1054.5v7M133.2 1300.1v-7M133.2 1054.5v7M191.9 1300.1v-7M191.9 1054.5v7M221.2 1300.1v-7M221.2 1054.5v7M250.5 1300.1v-7M250.5 1054.5v7M279.8 1300.1v-7M279.8 1054.5v7M338.5 1300.1v-7M338.5 1054.5v7M367.8 1300.1v-7M367.8 1054.5v7M397.1 1300.1v-7M397.1 1054.5v7M426.4 1300.1v-7M426.4 1054.5v7M485 1300.1v-7M485 1054.5v7M514.4 1300.1v-7M514.4 1054.5v7M543.7 1300.1v-7M543.7 1054.5v7M573 1300.1v-7M573 1054.5v7M103.9 1277.8h7M573 1277.8h-7M103.9 1255.4h7M573 1255.4h-7M103.9 1233.1h7M573 1233.1h-7M103.9 1210.8h7M573 1210.8h-7M103.9 1166.1h7M573 1166.1h-7M103.9 1143.8h7M573 1143.8h-7M103.9 1121.5h7M573 1121.5h-7M103.9 1099.2h7M573 1099.2h-7M103.9 1054.5h7M573 1054.5h-7" stroke="#000" stroke-width="1.1" fill="none"/>
<path d="M250.5 1054.5V1300.1" stroke="#ff0000" stroke-width="2.7"/>
<rect x="103.9" y="1054.5" width="469.1" height="245.6" fill="none" stroke="#303030" stroke-width="1.6"/>
<text x="163.5" y="1333.5" font-size="33" text-anchor="middle" fill="#000">0.5</text>
<text x="310.1" y="1333.5" font-size="33" text-anchor="middle" fill="#000">1.0</text>
<text x="456.7" y="1333.5" font-size="33" text-anchor="middle" fill="#000">1.5</text>
<text x="98.4" y="1313.1" font-size="33" text-anchor="end" fill="#000">0.0</text>
<text x="98.4" y="1201.5" font-size="33" text-anchor="end" fill="#000">0.5</text>
<text x="98.4" y="1089.8" font-size="33" text-anchor="end" fill="#000">1.0</text>
<text x="339.4" y="1378" font-size="44" text-anchor="middle" font-style="italic" fill="#000">q</text>
<clipPath id="r3c1"><rect x="657.2" y="1054.5" width="468.9" height="245.6"/></clipPath>
<g clip-path="url(#r3c1)" fill="none" stroke-linejoin="round">
<polyline points="657.2,1300.1 788.1,1300.1 788.5,1076.8 1029.5,1076.8 1030,1300.1 1126.1,1300.1" stroke="#00ffff" stroke-width="4.1"/>
<polyline points="657.2,1300.1 780.3,1300.1 787.6,1298.3 788.1,1297.9 788.5,1076.8 1029.5,1076.8 1030,1300.1 1126.1,1300.1" stroke="#000" stroke-width="4.1" stroke-dasharray="15.2 6.6"/>
</g>
<path d="M715.8 1300.1v-16.8M715.8 1054.5v16.8M862.3 1300.1v-16.8M862.3 1054.5v16.8M1008.9 1300.1v-16.8M1008.9 1054.5v16.8M657.2 1300.1h16.8M1126.1 1300.1h-16.8M657.2 1188.5h16.8M1126.1 1188.5h-16.8M657.2 1076.8h16.8M1126.1 1076.8h-16.8" stroke="#000" stroke-width="1.5" fill="none"/>
<path d="M657.2 1300.1v-7M657.2 1054.5v7M686.5 1300.1v-7M686.5 1054.5v7M745.1 1300.1v-7M745.1 1054.5v7M774.4 1300.1v-7M774.4 1054.5v7M803.7 1300.1v-7M803.7 1054.5v7M833 1300.1v-7M833 1054.5v7M891.7 1300.1v-7M891.7 1054.5v7M921 1300.1v-7M921 1054.5v7M950.3 1300.1v-7M950.3 1054.5v7M979.6 1300.1v-7M979.6 1054.5v7M1038.2 1300.1v-7M1038.2 1054.5v7M1067.5 1300.1v-7M1067.5 1054.5v7M1096.8 1300.1v-7M1096.8 1054.5v7M1126.1 1300.1v-7M1126.1 1054.5v7M657.2 1277.8h7M1126.1 1277.8h-7M657.2 1255.4h7M1126.1 1255.4h-7M657.2 1233.1h7M1126.1 1233.1h-7M657.2 1210.8h7M1126.1 1210.8h-7M657.2 1166.1h7M1126.1 1166.1h-7M657.2 1143.8h7M1126.1 1143.8h-7M657.2 1121.5h7M1126.1 1121.5h-7M657.2 1099.2h7M1126.1 1099.2h-7M657.2 1054.5h7M1126.1 1054.5h-7" stroke="#000" stroke-width="1.1" fill="none"/>
<path d="M862.3 1054.5V1300.1" stroke="#ff0000" stroke-width="2.7"/>
<rect x="657.2" y="1054.5" width="468.9" height="245.6" fill="none" stroke="#303030" stroke-width="1.6"/>
<text x="716.8" y="1333.5" font-size="33" text-anchor="middle" fill="#000">0.5</text>
<text x="863.3" y="1333.5" font-size="33" text-anchor="middle" fill="#000">1.0</text>
<text x="1009.9" y="1333.5" font-size="33" text-anchor="middle" fill="#000">1.5</text>
<text x="651.7" y="1313.1" font-size="33" text-anchor="end" fill="#000">0.0</text>
<text x="651.7" y="1201.5" font-size="33" text-anchor="end" fill="#000">0.5</text>
<text x="651.7" y="1089.8" font-size="33" text-anchor="end" fill="#000">1.0</text>
<text x="892.6" y="1378" font-size="44" text-anchor="middle" font-style="italic" fill="#000">q</text>
<clipPath id="r3c2"><rect x="1210.6" y="1054.5" width="468.8" height="245.6"/></clipPath>
<g clip-path="url(#r3c2)" fill="none" stroke-linejoin="round">
<polyline points="1210.6,1300.1 1502.3,1300.1 1502.7,1076.8 1585.8,1076.8 1586.2,1297.4 1661.8,1297.4 1662.4,1300.1 1679.4,1300.1" stroke="#00ffff" stroke-width="4.1"/>
<polyline points="1210.6,1300.1 1489,1300.1 1497.7,1298.3 1502.3,1297.4 1502.7,1089.6 1506.3,1086.6 1509.9,1084.1 1513.6,1081.9 1517.2,1080.1 1520.8,1078.7 1524.4,1077.7 1528,1077.1 1531.6,1076.8 1535.2,1077 1538.8,1077.5 1542.4,1078.4 1546.1,1079.6 1549.7,1081.3 1553.3,1083.3 1556.9,1085.7 1560.5,1088.5 1564.1,1091.7 1567.7,1095.3 1571.3,1099.2 1575,1103.5 1578.6,1108.2 1582.2,1113.3 1585.8,1118.8 1586.2,1297.4 1661.8,1297.4 1662.4,1300.1 1679.4,1300.1" stroke="#000" stroke-width="4.1" stroke-dasharray="15.2 6.6"/>
</g>
<path d="M1269.2 1300.1v-16.8M1269.2 1054.5v16.8M1415.7 1300.1v-16.8M1415.7 1054.5v16.8M1562.2 1300.1v-16.8M1562.2 1054.5v16.8M1210.6 1300.1h16.8M1679.4 1300.1h-16.8M1210.6 1188.5h16.8M1679.4 1188.5h-16.8M1210.6 1076.8h16.8M1679.4 1076.8h-16.8" stroke="#000" stroke-width="1.5" fill="none"/>
<path d="M1210.6 1300.1v-7M1210.6 1054.5v7M1239.9 1300.1v-7M1239.9 1054.5v7M1298.5 1300.1v-7M1298.5 1054.5v7M1327.8 1300.1v-7M1327.8 1054.5v7M1357.1 1300.1v-7M1357.1 1054.5v7M1386.4 1300.1v-7M1386.4 1054.5v7M1445 1300.1v-7M1445 1054.5v7M1474.3 1300.1v-7M1474.3 1054.5v7M1503.6 1300.1v-7M1503.6 1054.5v7M1532.9 1300.1v-7M1532.9 1054.5v7M1591.5 1300.1v-7M1591.5 1054.5v7M1620.8 1300.1v-7M1620.8 1054.5v7M1650.1 1300.1v-7M1650.1 1054.5v7M1679.4 1300.1v-7M1679.4 1054.5v7M1210.6 1277.8h7M1679.4 1277.8h-7M1210.6 1255.4h7M1679.4 1255.4h-7M1210.6 1233.1h7M1679.4 1233.1h-7M1210.6 1210.8h7M1679.4 1210.8h-7M1210.6 1166.1h7M1679.4 1166.1h-7M1210.6 1143.8h7M1679.4 1143.8h-7M1210.6 1121.5h7M1679.4 1121.5h-7M1210.6 1099.2h7M1679.4 1099.2h-7M1210.6 1054.5h7M1679.4 1054.5h-7" stroke="#000" stroke-width="1.1" fill="none"/>
<path d="M1562.2 1054.5V1300.1" stroke="#ff0000" stroke-width="2.7"/>
<rect x="1210.6" y="1054.5" width="468.8" height="245.6" fill="none" stroke="#303030" stroke-width="1.6"/>
<text x="1270.2" y="1333.5" font-size="33" text-anchor="middle" fill="#000">0.5</text>
<text x="1416.7" y="1333.5" font-size="33" text-anchor="middle" fill="#000">1.0</text>
<text x="1563.2" y="1333.5" font-size="33" text-anchor="middle" fill="#000">1.5</text>
<text x="1205.1" y="1313.1" font-size="33" text-anchor="end" fill="#000">0.0</text>
<text x="1205.1" y="1201.5" font-size="33" text-anchor="end" fill="#000">0.5</text>
<text x="1205.1" y="1089.8" font-size="33" text-anchor="end" fill="#000">1.0</text>
<text x="1446" y="1378" font-size="44" text-anchor="middle" font-style="italic" fill="#000">q</text>
<text x="43" y="1181" font-size="47" text-anchor="middle" transform="rotate(-90 43 1181)" textLength="151" lengthAdjust="spacingAndGlyphs" fill="#000"><tspan font-family="'DejaVu Math TeX Gyre','DejaVu Serif',serif">ℒ</tspan>/<tspan font-family="'DejaVu Math TeX Gyre','DejaVu Serif',serif">ℒ</tspan><tspan font-size="34" dy="8">max</tspan></text>
<path d="M275.4 1081H314.6" stroke="#000" stroke-width="4.1" stroke-dasharray="15.2 6.6" fill="none"/>
<path d="M275.2 1111H315" stroke="#0ff" stroke-width="4.1" fill="none" stroke-linecap="square"/>
<path d="M275.6 1139.7H314.4" stroke="#f00" stroke-width="2.5" fill="none" stroke-linecap="square"/>
<text x="332" y="1091.3" font-size="20.5" textLength="195" lengthAdjust="spacingAndGlyphs" fill="#000">W/ Tangent Condition</text>
<text x="332" y="1121.3" font-size="20.5" textLength="223" lengthAdjust="spacingAndGlyphs" fill="#000">W/out Tangent Condition</text>
<text x="332" y="1150" font-size="20.5" textLength="48" lengthAdjust="spacingAndGlyphs" fill="#000">Truth</text>
</svg></body></html>
